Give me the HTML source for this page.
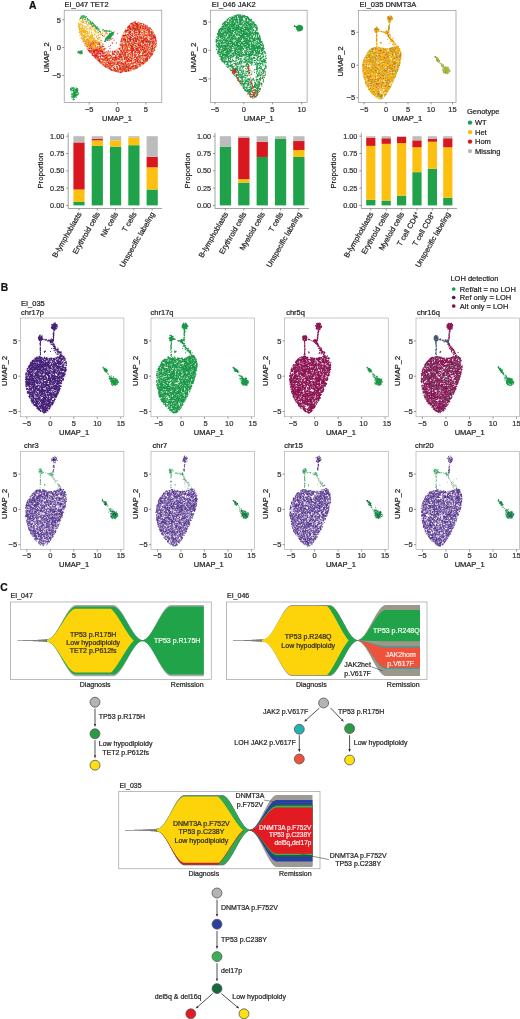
<!DOCTYPE html>
<html lang="en"><head><meta charset="utf-8"><title>Figure</title>
<style>html,body{margin:0;padding:0;background:#fff}svg{display:block}text{font-family:'Liberation Sans', Arial, Helvetica, sans-serif;stroke-width:.22px}</style>
</head><body>
<svg width="520" height="1019" viewBox="0 0 520 1019">
<rect width="520" height="1019" fill="#fff"/>
<text x="29.10" y="8.50" font-size="10.3" font-weight="bold" fill="#111" stroke="#111">A</text>
<text x="64.50" y="7.30" font-size="7.5" fill="#242424" stroke="#242424">EI_047 TET2</text>
<rect x="64.20" y="10.20" width="97.60" height="92.40" fill="#fff" stroke="#8c8c8c" stroke-width="0.65"/>
<text x="89.20" y="111.90" font-size="7.5" text-anchor="middle" fill="#333333" stroke="#333333">−5</text>
<text x="117.50" y="111.90" font-size="7.5" text-anchor="middle" fill="#333333" stroke="#333333">0</text>
<text x="145.80" y="111.90" font-size="7.5" text-anchor="middle" fill="#333333" stroke="#333333">5</text>
<text x="61.00" y="22.50" font-size="7.5" text-anchor="end" fill="#333333" stroke="#333333">5</text>
<text x="61.00" y="50.20" font-size="7.5" text-anchor="end" fill="#333333" stroke="#333333">0</text>
<text x="61.00" y="78.10" font-size="7.5" text-anchor="end" fill="#333333" stroke="#333333">−5</text>
<path d="M89.20 102.60v2M117.50 102.60v2M145.80 102.60v2M64.20 19.80h-2M64.20 47.50h-2M64.20 75.40h-2" stroke="#555" stroke-width="0.6" fill="none"/>
<text x="117.00" y="120.90" font-size="7.5" text-anchor="middle" fill="#242424" stroke="#242424">UMAP_1</text>
<text x="49.30" y="57.40" font-size="7.5" text-anchor="middle" transform="rotate(-90 49.30 57.40)" fill="#242424" stroke="#242424">UMAP_2</text>
<path transform="scale(.1)" d="M798 325zm-4-33zm11-107zm8 195zm24 38zm1-8zm-6-20zm2-3zm-6-26zm10-6zm-1-52zm5 75zm4 24zm10 10zm-4 22zm-2 17zm29 42zm-16-25zm6 0zm5-4zm-2-2zm7-4zm-1-7zm-5-6zm5-1zm-7 0zm-7-1zm2 0zm3-8zm0-10zm1-24zm-7-2zm10-9zm8-25zm13 5zm0 10zm-13 18zm7 3zm-5 6zm8 4zm3 0zm-11 12zm15 4zm-10 7zm0 6zm-6 0zm8 4zm1 12zm6 10zm-5 8zm7 1zm-9 5zm6 3zm0 1zm-7 4zm9 12zm-4 2zm-10 2zm4 4zm8 4zm-3 4zm5 6zm1 0zm13 9zm0-9zm-3-2zm2-4zm2-7zm-11 0zm5-3zm7-19zm-2-1zm-12-2zm12-6zm-7-5zm6-1zm1-11zm-8-7zm8-11zm-8 0zm1-2zm10-6zm-1-2zm4-14zm-5-51zm13 18zm6 22zm-3 5zm-2 5zm1 2zm10 5zm1 6zm-16 5zm8 1zm-8 0zm1 4zm2 2zm-4 1zm10 2zm-4 4zm-4 1zm13 2zm1 3zm-9 4zm-8 3zm0 5zm5 3zm11 9zm1 5zm-18 0zm14 3zm-10 1zm-4 1zm16 6zm-16 4zm16 2zm-4 2zm-12 5zm9 6zm10 2zm-5 2zm-6 2zm6 6zm-11 6zm0 6zm-1 1zm-1 1zm6 7zm-5 2zm13 2zm-11 3zm12 2zm3 4zm16 18zm-5-8zm-4-1zm0-1zm6-8zm1-4zm1-1zm-7-1zm0-1zm10-2zm0-1zm-6-5zm0-1zm-10-5zm5-3zm3-7zm0-1zm3-2zm-4-4zm-6-1zm3-3zm4-3zm-9-3zm2-1zm1 0zm1-1zm4-2zm-3-3zm11-1zm-11 0zm8-1zm-12 0zm0-1zm18-8zm-17-4zm12 0zm3-18zm-5-6zm5-4zm-5-8zm2-3zm-6-9zm10-13zm-4-7zm-14-4zm12-14zm-3 0zm2-105zm27 85zm-13 37zm-5 4zm7 4zm7 12zm3 24zm-1 5zm-7 6zm2 6zm-11 2zm7 7zm-1 1zm6 2zm2 0zm1 7zm-12 1zm3 1zm13 1zm-13 4zm-3 3zm16 2zm-2 2zm-6 6zm-3 3zm-3 3zm11 3zm-7 1zm-9 1zm14 8zm-14 4zm3 0zm-3 3zm8 6zm-5 0zm16 1zm-17 3zm4 4zm-5 0zm2 3zm6 2zm5 3zm-13 5zm15 0zm1 5zm-1 2zm3 1zm-17 2zm1 5zm10 7zm25 30zm-7-12zm6-4zm-9-2zm6-1zm-11-4zm-1 0zm13-3zm2-4zm-9-3zm6-1zm-2 0zm2 0zm-13-7zm8-4zm-5-4zm-3-1zm5-8zm9-6zm4 0zm-18-4zm2-14zm13-7zm0-2zm0 0zm-9-3zm6 0zm-9-4zm5-6zm1-2zm2-6zm-3-1zm-7 0zm1-6zm8-4zm6-6zm-9-3zm1-8zm8 0zm-8-5zm7-2zm2-1zm-18-3zm18-12zm-3-1zm-3-1zm0-14zm0-5zm7-2zm-18-1zm11-8zm-3-2zm-8-3zm12-7zm17-15zm1 61zm-3 5zm-7 3zm0 1zm11 0zm-4 3zm-4 5zm13 4zm0 7zm2 3zm-9 1zm0 5zm-8 3zm11 3zm0 1zm-7 1zm13 2zm-3 0zm-3 3zm-12 3zm16 0zm-9 13zm-7 0zm-1 1zm6 7zm5 9zm2 7zm-12 3zm3 2zm0 2zm-3 0zm8 5zm-3 2zm-1 3zm-1 12zm10 1zm1 9zm-14 13zm3 4zm4 1zm-4 0zm2 0zm13 8zm-17 1zm12 1zm-5 10zm29 21zm-9-7zm3-1zm0-6zm-10-3zm9-11zm-3-1zm10 0zm-8-4zm-3-2zm4-12zm3-3zm-5-4zm8-7zm-9 0zm-4-6zm10-18zm-1-4zm-9 0zm4-2zm4-1zm-5-1zm-1-1zm8-4zm-8-1zm1-2zm2-6zm10-11zm-15 0zm11 0zm3-4zm-15-6zm8-2zm0-6zm-3-2zm-6-1zm7-4zm-1-12zm7-1zm-10-4zm9-5zm-13-19zm16-6zm-11 0zm11 0zm-17-12zm19-89zm-14-9zm-4-22zm38 5zm-1 51zm-13 25zm1 69zm12 1zm-12 9zm2 26zm2 5zm-6 7zm10 0zm-3 19zm2 5zm-4 4zm10 1zm-14 0zm-2 5zm7 12zm-8 1zm14 1zm3 4zm-14 3zm13 1zm-3 0zm-10 1zm1 5zm3 0zm-9 1zm15 10zm-8 1zm4 1zm-2 1zm-2 16zm2 1zm5 13zm-6 5zm4 6zm7 11zm-6 1zm-3 0zm-4 3zm10 2zm2 8zm14 3zm-1-2zm-5-11zm4-1zm7 0zm-3-1zm1 0zm4-3zm-3-8zm1 0zm-15-1zm6-6zm0-5zm-5-10zm14-2zm-14-4zm-2-3zm9-6zm3-4zm0-2zm2-1zm0 0zm-9-3zm8-4zm-7-1zm0-5zm12-4zm-16-5zm11-4zm-10 0zm2-2zm0-5zm6-3zm-10-2zm13-2zm-3-4zm1-5zm-2-4zm-10-1zm1-1zm5-1zm-5 0zm7-5zm1-15zm-2-13zm-1-130zm-4-3zm9-45zm-10-14zm33 12zm-3 69zm-3 57zm-8 44zm3 12zm-3 13zm11 9zm5 3zm-11 7zm10 2zm-14 4zm12 2zm-4 4zm-8 19zm12 7zm4 1zm-8 3zm-2 2zm-8 5zm14 6zm2 5zm-9 5zm-2 7zm4 0zm1 0zm-3 3zm3 9zm-5 2zm10 0zm-9 2zm5 2zm-2 0zm8 8zm1 4zm-10 2zm6 6zm-7 6zm11 4zm-5 6zm-5 1zm9 1zm-6 1zm-1 2zm-7 3zm15 5zm1 3zm20 12zm-10-4zm0-4zm-1-1zm9 0zm-4-3zm-2-3zm-10-8zm2-2zm1-4zm-1-4zm11-9zm-3-1zm7-7zm-16-1zm-2-4zm6 0zm-4-7zm10-7zm-3-1zm-5-1zm-3-3zm11 0zm-7-11zm7-7zm2-9zm-10-19zm14-1zm-17-2zm13-5zm-6-2zm7-9zm-9-8zm0-3zm13-4zm-18-31zm0-7zm-1-26zm4-32zm-3-61zm16-2zm-17-26zm4-7zm25 24zm-7 41zm1 12zm3 76zm3 5zm-6 9zm6 8zm-6 5zm6 1zm1 3zm6 0zm2 1zm-10 4zm10 24zm-18 1zm1 4zm13 1zm5 1zm-15 2zm-1 8zm9 3zm-5 3zm-1 1zm12 1zm-15 15zm5 3zm0 3zm-3 0zm7 6zm-12 2zm0 3zm9 1zm-2 3zm-1 0zm1 2zm-7 1zm17 8zm-10 7zm11 0zm-6 1zm-5 1zm1 11zm-8 7zm14 5zm5 5zm-2 0zm-8 17zm-2 2zm11 2zm1 2zm-5 2zm24 8zm-9-3zm-5-4zm-4-1zm12-3zm1-1zm1-2zm-4-2zm2-3zm-11-1zm3-3zm-1-4zm5-4zm-8-6zm0-26zm10-7zm-3-6zm1-2zm-8 0zm11 0zm-9-8zm8-4zm5-3zm-7-11zm-7-5zm17-4zm-4 0zm-5-2zm7-4zm2-2zm-13-5zm8-3zm-6-1zm-3-2zm3-2zm-1-3zm9 0zm-4-7zm8-4zm-3-12zm-11-8zm-5-15zm4-1zm9-8zm-13-1zm19-2zm-16-2zm2-2zm7-6zm-11-107zm0-84zm35 21zm-11 91zm4 71zm6 15zm-6 8zm4 7zm-4 9zm1 7zm1 1zm-9 10zm-2 12zm5 3zm4 2zm-9 2zm18 4zm0 5zm-13 2zm10 0zm-2 3zm-11 0zm1 3zm1 1zm5 8zm1 17zm3 2zm-4 4zm7 3zm-6 7zm7 0zm1 1zm-6 2zm-9 4zm14 2zm-14 2zm13 17zm-12 1zm10 6zm-3 10zm2 2zm-13 5zm19 4zm-4 4zm0 3zm-12 7zm7 2zm6 5zm2 0zm-15 4zm16 3zm18 1zm-9-7zm-6-2zm7-9zm2-7zm7-3zm-3-6zm-15 0zm14-4zm-1-1zm5-7zm0-8zm-2-4zm3-5zm-4-1zm-3-2zm-6 0zm7-1zm-11-12zm1-1zm12-5zm-15-6zm5-1zm8-7zm-9 0zm11-3zm0-3zm-15-5zm18-13zm1-2zm-8-6zm-2-1zm10-1zm-17-2zm4-2zm11-9zm-4-1zm1 0zm3-6zm-10-2zm7-3zm-8-3zm11-5zm2-4zm-9-4zm9 0zm-9-11zm-7-7zm0-7zm-2-1zm8-3zm-3-1zm-4-16zm13-7zm0-3zm0-5zm4-2zm-9 0zm-1-1zm29-92zm-5 1zm0 7zm-2 7zm4 3zm4 4zm-5 5zm-9 0zm8 23zm-11 3zm1 1zm11 1zm-12 10zm11 1zm3 1zm-5 14zm-11 11zm11 7zm-6 13zm14 4zm-8 2zm-3 1zm5 3zm4 2zm1 6zm-8 3zm-1 2zm-8 9zm15 5zm-10 3zm10 0zm-9 1zm10 3zm-6 1zm-2 5zm-4 9zm11 2zm3 3zm-1 4zm-10 1zm4 2zm-3 0zm-6 3zm15 2zm-5 13zm-3 12zm-9 13zm17 9zm-6 1zm4 3zm-10 0zm3 7zm2 12zm-2 3zm5 0zm-2 20zm-9 2zm2 5zm-2 8zm7 0zm4 6zm0 0zm3 2zm-14 4zm8 2zm-7 1zm9 9zm-3 5zm-3 3zm-1 6zm10 1zm11-8zm-7-6zm12-5zm-7-2zm3-12zm6 0zm-11-2zm13 0zm-5-6zm-2 0zm-8-4zm17 0zm-13-10zm1-1zm-2-4zm-3-1zm13-3zm-3-4zm1-9zm6-2zm-15-5zm-3-1zm12-3zm7-4zm-12 0zm-4-3zm-2-3zm8-16zm0-10zm-3-4zm-6-4zm5-16zm-5-3zm11-11zm0-3zm4-2zm-13-10zm13-1zm-13-5zm5-3zm-2-3zm1-7zm3-3zm-4-1zm7-3zm-2-3zm5-7zm-1-5zm4-8zm-8-8zm-7-2zm4-1zm-1-10zm2-3zm9-2zm-13-4zm-2-7zm6-1zm1-6zm9 0zm-18 0zm14-6zm-11-3zm-2-12zm18-9zm-15-13zm15-5zm-19-1zm19-1zm-5-6zm-7-9zm11-1zm-2 0zm-1-3zm-15-3zm16 0zm-2-15zm3-4zm-14-3zm9-5zm-3-6zm6 0zm4-23zm19-28zm-5 4zm-1 8zm-1 0zm0 5zm5 1zm3 10zm-6 15zm4 7zm-9 5zm11 0zm-5 1zm-11 1zm-2 3zm7 3zm-1 13zm8 4zm-7 3zm-3 5zm0 1zm13 7zm-8 1zm-7 3zm13 5zm-2 6zm3 3zm-8 0zm-8 5zm14 1zm2 3zm1 0zm-5 1zm2 0zm-3 15zm5 4zm-11 2zm10 3zm-11 1zm1 1zm6 2zm6 6zm-2 3zm3 1zm-19 0zm5 2zm13 9zm-1 0zm-4 6zm-6 8zm12 2zm0 0zm-7 1zm-9 3zm7 9zm-3 11zm-1 1zm1 6zm3 5zm0 3zm9 1zm-11 1zm-7 8zm13 1zm3 3zm-14 0zm2 0zm0 2zm2 4zm-1 0zm8 2zm-13 10zm9 1zm-7 5zm6 2zm-3 2zm13 1zm-9 0zm7 3zm-10 3zm-6 5zm9 5zm4 2zm-13 3zm8 6zm10 14zm-17 8zm11 1zm2 3zm-4 5zm-1 4zm9 4zm-8 4zm1 5zm-8 8zm11 5zm-13 5zm8 3zm8 5zm-7 1zm-11 1zm0 2zm17 2zm-4 7zm-3 0zm3 1zm5 0zm-3 3zm-4 2zm-2 0zm-8 1zm1 0zm15 3zm-14 2zm1 1zm1 1zm2 4zm6 0zm-7 0zm4 5zm-9 3zm6 1zm5 5zm11-1zm7 0zm-9-3zm6-9zm-5-4zm15-2zm-16-17zm2-1zm13 0zm-16-5zm19 0zm-7-1zm-7-5zm12-3zm-12-5zm12-2zm-11-2zm-3-3zm4-10zm7-2zm-4 0zm-2-20zm-1-5zm5-1zm7-2zm0-6zm-4-2zm-8-2zm-2-7zm1-7zm10-1zm1-4zm-14-2zm4-4zm3-2zm-6-2zm9 0zm-13-3zm12-6zm-12-7zm18 0zm-7-13zm6 0zm-7-17zm6-2zm-16-4zm9-7zm1-3zm-8-5zm11-1zm-5-2zm-2-1zm10 0zm-2-1zm-12-1zm1 0zm8-5zm8-2zm-2-5zm0-2zm-7-4zm-1-5zm10-4zm-14-10zm14 0zm-17 0zm1-6zm4-2zm2-5zm-9-9zm6-2zm-4-2zm-1-3zm0-2zm10-8zm7-7zm-17-3zm16-1zm-6-4zm4-5zm-3-7zm7-3zm-6-13zm2-1zm-4-1zm6-1zm-7-1zm7-2zm-5-8zm2 0zm-6-1zm11-2zm-6-4zm-6-1zm-7-7zm9-3zm7-5zm-15-22zm1-5zm3-3zm-2-6zm12 0zm-2 0zm2-1zm-3-3zm-7-1zm5 0zm6-8zm-4-19zm4-3zm19-21zm1 2zm-7 5zm-7 2zm9 0zm1 3zm4 0zm-4 1zm-6 4zm11 1zm-17 7zm10 3zm7 3zm2 6zm-18 1zm1 5zm-1 2zm17 0zm-16 8zm5 2zm5 1zm6 3zm0 9zm-17 2zm17 1zm0 1zm-9 1zm-8 1zm11 1zm2 3zm5 4zm-6 1zm-13 6zm10 0zm1 7zm-5 6zm1 3zm7 9zm5 1zm-7 3zm-11 11zm15 0zm-8 2zm5 10zm2 2zm3 10zm-14 4zm-2 3zm11 6zm-6 4zm-4 8zm11 2zm-2 8zm2 3zm-10 1zm-1 3zm0 1zm-1 4zm0 7zm-1 0zm0 10zm-1 3zm19 3zm-13 19zm8 8zm3 4zm0 0zm-15 1zm7 0zm-1 5zm0 18zm0 1zm8 2zm-11 8zm-4 5zm0 11zm4 2zm0 2zm2 1zm10 4zm-1 9zm1 1zm-15 6zm7 4zm-5 3zm3 3zm-3 1zm10 1zm-7 1zm-6 7zm-1 2zm13 1zm-1 3zm-10 1zm0 0zm0 1zm15 5zm-10 1zm-4 18zm3 2zm13 0zm-18 5zm9 9zm4 4zm-5 2zm5 3zm-14 3zm6 7zm13 8zm-9 1zm8 1zm0 2zm1 2zm-9 3zm-6 2zm-4 2zm8 7zm-3 5zm4 1zm-5 2zm3 5zm3 1zm20-5zm-6-8zm2-13zm4-2zm-6 0zm13-5zm-10-1zm9-4zm-16-6zm13-5zm-13-13zm7-3zm-4-1zm-1-1zm10-10zm6 0zm-18-3zm16-8zm0-10zm-15-2zm16-3zm2-1zm-13-3zm-3-1zm11 0zm-3-1zm-4-5zm5-6zm1-1zm0-4zm4-5zm-8-3zm-3-2zm3-1zm-1-3zm0-5zm-3-17zm0-2zm13-2zm-13-1zm-5-1zm19-3zm-8-11zm-5-4zm0-2zm9 0zm0-9zm3-5zm-15-5zm13 0zm0-3zm-8-6zm5-2zm0-5zm-5-4zm8 0zm-4-3zm-6-4zm3-3zm10-3zm-14-2zm8-2zm2-5zm-13-4zm15-2zm-6-1zm4-5zm-10-3zm2-11zm0-1zm4-1zm5-1zm-2-7zm-10-12zm8-6zm-1 0zm-8-3zm6 0zm-5-7zm5-3zm9-4zm-7 0zm-6-2zm4 0zm-6-2zm2-3zm1-5zm-1-4zm11-3zm-8-1zm-4-10zm-1-1zm10-7zm-7-9zm-2-4zm6-1zm-5-16zm-1-8zm6-3zm-10-1zm4-17zm9-2zm-13-4zm9-2zm6-6zm-9-2zm12 0zm-11-2zm1 0zm0-10zm10-6zm-1-12zm-9-7zm-2-5zm13-3zm-6-1zm17-12zm-1 10zm-1 10zm11 1zm-19 4zm15 3zm-13 1zm12 1zm-8 5zm13 3zm-8 6zm4 6zm0 1zm-9 3zm10 1zm-4 4zm-4 1zm10 2zm-10 5zm8 8zm-15 2zm4 9zm13 8zm-17 14zm-1 3zm2 2zm17 1zm-9 6zm-8 6zm-1 7zm1 2zm4 2zm1 3zm-3 0zm-1 0zm8 1zm1 4zm7 20zm-5 1zm-13 1zm11 2zm1 3zm-7 6zm9 0zm2 6zm-1 0zm-1 5zm-11 2zm14 8zm0 5zm1 0zm-11 1zm6 1zm4 4zm-13 4zm2 1zm-1 2zm0 6zm11 0zm-2 0zm0 2zm-7 1zm-1 0zm1 1zm0 13zm-2 1zm5 2zm-8 1zm9 1zm-4 2zm6 1zm-2 1zm-10 2zm3 2zm-3 1zm15 1zm-3 0zm-5 1zm-7 1zm2 6zm5 0zm5 0zm-3 6zm4 0zm-9 5zm-5 5zm16 0zm-15 4zm9 1zm6 0zm-1 1zm-10 7zm-4 9zm2 3zm6 6zm-8 4zm5 8zm0 0zm-3 12zm2 9zm2 3zm2 4zm-5 3zm-3 1zm9 11zm-5 4zm9 16zm-15 22zm15 0zm3 1zm-10 1zm5 1zm-2 3zm-7 13zm10 7zm5 3zm-11 1zm0 4zm-6 3zm15 2zm-5 1zm-2 3zm0 10zm-8 5zm-2 5zm19 4zm3-1zm15-7zm-7-4zm-1-10zm10-7zm-8 0zm-1-3zm1-4zm6-5zm-7-1zm-7-24zm12 0zm-12-1zm12-3zm-8-3zm1-3zm4-3zm7-8zm-3 0zm-1-13zm-9 0zm10-1zm-16-8zm5-11zm6-7zm7-6zm-1 0zm1-1zm-11-6zm1 0zm-1-1zm-6 0zm6-2zm-3-4zm6-1zm4-3zm-3-8zm-1-5zm0-8zm-5-1zm4-7zm0 0zm7-2zm-8-7zm11 0zm-19-5zm1-5zm12-4zm3-1zm2-1zm-18-1zm18-7zm-10-8zm6-12zm3 0zm0-7zm-2 0zm-11-4zm12-14zm-10-2zm-2-4zm9 0zm0-2zm-9-10zm4-2zm7-4zm-6-2zm-1 0zm4-8zm6-8zm1-1zm-11-5zm11-1zm-7-4zm-4-4zm-4-2zm-4-2zm13-1zm0-5zm-8-15zm14-1zm0-3zm-5 0zm-6-6zm-6-22zm7-1zm-8 0zm18-3zm-14-5zm1 0zm2-4zm1-8zm-7-1zm14-1zm3 0zm-7-1zm4-7zm-13-1zm2 0zm7-4zm-1 0zm-6-2zm12-1zm-8-2zm-6-2zm14-2zm-9 0zm-2-2zm-1-6zm-1-4zm0 0zm15-4zm-17-9zm9-2zm8 0zm-17-2zm9-1zm-1-1zm-10-3zm3-2zm5-4zm7-2zm-2-6zm2-2zm-14-4zm5-6zm9-1zm21 12zm-10 3zm-5 4zm4 1zm11 1zm-8 0zm1 1zm3 2zm5 2zm-14 4zm4 2zm8 3zm-3 4zm3 1zm-2 4zm-10 4zm0 3zm14 1zm-5 1zm-5 5zm2 10zm4 1zm3 1zm-2 1zm-1 0zm-8 2zm11 4zm-15 1zm0 3zm0 3zm7 2zm-5 14zm8 5zm-9 2zm-2 3zm2 3zm16 9zm-16 4zm0 6zm7 0zm-6 3zm-3 6zm14 5zm-3 1zm4 3zm-3 2zm1 6zm-12 5zm0 1zm4 1zm11 3zm-10 5zm5 2zm1 8zm-7 4zm-3 4zm3 1zm-2 5zm4 1zm2 13zm6 4zm-5 14zm9 4zm-15 12zm5 4zm8 5zm-8 5zm6 1zm0 1zm-8 3zm-3 3zm4 3zm4 2zm-4 4zm-4 1zm-1 1zm2 0zm13 3zm0 2zm-7 2zm7 4zm-10 0zm8 13zm-14 2zm-2 0zm2 2zm15 3zm0 4zm-12 12zm-5 11zm18 11zm-18 2zm10 5zm-10 2zm16 8zm-10 2zm-1 2zm2 5zm1 1zm2 8zm9 2zm-8 5zm-2 0zm-7 3zm13 4zm-13 2zm12 4zm-8 12zm12 3zm-15 6zm-1 7zm14 1zm-12 7zm3 5zm10 4zm-1 8zm-15 2zm6 4zm5 0zm-6 3zm17-15zm14-15zm-13-6zm1 0zm7-1zm3-1zm3-1zm-1-3zm-5-12zm-8 0zm5-1zm-6-5zm16-8zm0-2zm-2-4zm-17-3zm1 0zm17-1zm-9-11zm-9-1zm19-11zm-12-2zm9-2zm-10 0zm-6-6zm15-4zm-10-1zm-3-1zm12-6zm-12-7zm10-1zm-9-4zm6-5zm5-8zm5-3zm-17-3zm7-6zm-9-1zm6-4zm9-3zm-13-3zm15-3zm-10-5zm-2-4zm-1-1zm-3-14zm12-2zm-4-7zm7-4zm-16-1zm16-5zm-9-6zm5-5zm-5-6zm-3 0zm12-2zm-13-4zm14-2zm-6 0zm8-9zm-15 0zm12 0zm-6 0zm-4-4zm1-2zm5-13zm-3-3zm-3-5zm8-2zm-7-9zm-4 0zm10-3zm-6-7zm-5-2zm0-3zm-2 0zm13-5zm-2-6zm5-4zm-16-1zm19 0zm-7-12zm-3-1zm-7-1zm3-3zm-3-1zm14-5zm-4 0zm-5-2zm2-1zm5-1zm-12-10zm14 0zm-2-3zm1-3zm1-4zm-12-1zm-1-5zm8-3zm-7 0zm8-3zm6-3zm-9-3zm-6 0zm10-5zm-2-3zm-8-7zm-3-4zm16-5zm-1-2zm-11-1zm15-1zm-16-1zm6-2zm-4-8zm-5-1zm8-3zm2-3zm-5-2zm8-7zm-13-4zm8-12zm1-3zm20 9zm-3 0zm13 0zm-13 3zm-6 0zm12 2zm-1 4zm-2 6zm1 2zm8 7zm-17 3zm7 7zm0 7zm4 4zm-7 2zm-2 2zm6 1zm-7 2zm2 2zm3 4zm4 1zm-9 17zm1 2zm5 6zm3 7zm-10 2zm15 3zm2 5zm-12 13zm11 14zm-5 0zm-8 7zm2 7zm13 0zm-5 2zm-13 2zm11 7zm-11 3zm17 0zm-7 3zm2 2zm-13 13zm16 0zm2 2zm-3 5zm-4 1zm8 0zm-10 5zm-9 3zm10 5zm-9 14zm6 2zm-2 2zm-3 6zm17 5zm-12 3zm-6 0zm8 2zm-1 2zm10 2zm-18 8zm19 2zm-19 1zm9 4zm-6 13zm3 1zm-3 2zm8 1zm2 7zm3 4zm-7 2zm-9 8zm6 5zm-5 3zm11 26zm-11 4zm1 1zm12 2zm-13 4zm2 9zm7 0zm3 13zm-9 12zm-3 2zm6 2zm-7 5zm9 4zm-3 1zm-1 1zm-4 0zm-1 12zm10 1zm-10 1zm3 4zm10 1zm-6 17zm-2 2zm6 1zm-11 12zm29-21zm-4-3zm13-1zm-5-1zm5-3zm-16 0zm-1 0zm5-3zm2-2zm9 0zm-2-2zm1-1zm-4-2zm-11-2zm15-11zm-3-1zm0 0zm-1-2zm-2-5zm3-1zm-3-4zm1-5zm-4 0zm-6-1zm16-4zm-3-2zm4-2zm-9-7zm-9-11zm12-5zm0-3zm-11-1zm6-6zm1-9zm-6-5zm-1-2zm17 0zm-9-3zm2-5zm1-2zm-1-2zm2 0zm-8-3zm8-12zm-4-6zm0-2zm1 0zm6-1zm-13-4zm5 0zm11-3zm-13-4zm-6-3zm5-11zm12-2zm-7-8zm-3-2zm-7-2zm16-7zm-13-5zm7-14zm8-1zm-6-7zm-3-1zm-7-1zm14-2zm-14-1zm8-2zm-8 0zm14-4zm-14-5zm10-4zm-9-1zm2-1zm0 0zm10-11zm3 0zm-4-2zm1-8zm-5 0zm-10-2zm13-3zm-2-11zm6-1zm-10-13zm12-1zm-17-9zm12-6zm-8-14zm10-4zm-5-15zm0-7zm-4-4zm-4-2zm2-1zm7-6zm-7-3zm14 0zm-3 0zm-1-1zm-9-10zm4-3zm6-3zm-9-2zm-6-6zm1 0zm11-2zm-1-2zm3-1zm1-7zm-2-6zm6 8zm16 5zm-6 4zm-3 7zm11 3zm-6 5zm0 5zm-3 2zm4 4zm-13 3zm13 0zm2 1zm-1 0zm5 7zm-14 3zm-2 16zm3 7zm6 1zm-5 8zm-2 5zm0 3zm7 9zm-12 3zm13 1zm-4 2zm0 5zm4 1zm-13 12zm4 0zm12 11zm2 5zm-13 1zm10 1zm-10 2zm5 0zm-8 1zm14 6zm-11 3zm-3 1zm14 0zm-15 0zm0 7zm13 3zm-3 2zm5 1zm-11 1zm9 13zm-14 6zm17 8zm-12 3zm13 3zm-12 0zm11 3zm1 2zm-16 3zm13 3zm3 6zm-15 8zm-3 4zm6 1zm2 2zm1 4zm0 0zm-2 2zm-7 1zm19 3zm-17 5zm7 8zm9 0zm-5 9zm-3 1zm-8 1zm16 0zm1 4zm-7 2zm7 0zm-11 2zm-8 2zm16 0zm-7 4zm7 12zm-16 2zm17 1zm-17 4zm13 3zm-9 4zm0 1zm-4 3zm18 0zm-9 3zm3 6zm-5 3zm8 18zm-13 2zm10 5zm-2 0zm2 8zm5 5zm-16 1zm5 2zm7 4zm-2 5zm1 1zm0 2zm-7 1zm5 1zm-9 8zm22-18zm2-3zm3-1zm3-1zm6-9zm-11-1zm5-1zm-6-1zm8-3zm1-1zm-12-1zm3-1zm12-7zm-7-2zm-5-2zm-3-1zm-1-3zm17-3zm-4-5zm5-2zm-2-3zm-4-3zm-9-1zm7-3zm-8-1zm5-9zm9-1zm1-2zm1-2zm-5-6zm-7-4zm11-8zm-13-6zm-4-8zm18-3zm-9-2zm-8-2zm9-1zm2-4zm-12-6zm14-2zm3-1zm-16-8zm5-2zm8-10zm-14 0zm-1-2zm10-3zm4-3zm-14-3zm14-5zm-6-3zm-8-6zm15-6zm-8-12zm-6-8zm5-1zm11-1zm-6-4zm-8 0zm13 0zm-7-9zm6-4zm0-6zm-9-2zm-3-6zm0-2zm8-8zm1-4zm-3-2zm0-1zm2-11zm-7-2zm6-6zm3-10zm-8-11zm-5-22zm13-1zm-3-2zm0-4zm5-4zm-15-4zm3-7zm13-3zm-15-2zm9-4zm0-12zm-10-1zm14 0zm-5-3zm28 18zm-14 2zm16 2zm-18 4zm12 3zm-4 6zm-9 2zm16 3zm-3 8zm-9 0zm5 3zm7 7zm-12 0zm9 9zm-12 0zm8 4zm0 1zm0 1zm2 3zm3 3zm-9 2zm14 7zm-2 0zm-15 4zm11 6zm5 1zm0 0zm-7 1zm-3 1zm-4 20zm15 6zm0 19zm-17 1zm-1 2zm13 2zm2 1zm-11 3zm5 0zm4 3zm4 1zm-3 3zm0 2zm-7 0zm8 0zm-16 4zm16 9zm-3 8zm5 1zm-18 2zm0 0zm13 6zm2 0zm2 1zm-7 12zm-10 5zm19 7zm-9 0zm-7 14zm-3 1zm1 0zm16 1zm-3 5zm-6 14zm1 1zm0 3zm8 3zm-10 2zm-3 5zm8 3zm-10 2zm13 6zm4 2zm-1 0zm-8 5zm-3 10zm-6 6zm6 6zm7 2zm3 12zm-17 1zm14 3zm7-11zm7-8zm3-9zm-7-5zm10-3zm-4-2zm-4-1zm8-1zm-13-3zm0-3zm17-1zm-5 0zm3 0zm-8-3zm2-8zm-1-1zm4-5zm4-5zm-4-2zm0-2zm3-8zm-10-1zm12-5zm-7-8zm-2-2zm-3-8zm5-14zm8-5zm-5 0zm1-7zm-15-5zm6-9zm13-6zm-19-4zm5-4zm-1-3zm2-5zm9-3zm1-16zm1 0zm-14-3zm16-2zm-19-3zm11-3zm8-4zm-19-9zm14-2zm-2-7zm-12 0zm17-5zm-6-3zm5-1zm-16-2zm6-8zm9-4zm-7 0zm6-12zm0-6zm-7-3zm9-1zm-7-6zm7-17zm-9-6zm13 30zm14 6zm-14 4zm5 3zm-2 3zm-1 8zm12 9zm-6 1zm3 2zm7 4zm-11 0zm11 8zm-6 2zm7 7zm-12 2zm-3 5zm15 0zm-17 5zm1 1zm12 1zm4 15zm-17 2zm10 5zm-10 2zm0 2zm13 1zm-10 6zm-4 1zm15 1zm0 4zm-13 2zm-1 1zm13 4zm-7 2zm4 12zm-5 1zm1 9zm1 5zm-1 2zm-5 4zm-3 0zm4 3zm0 0zm1 3zm-4 4zm10 4zm-10 0zm0 3zm4 3zm-5 8zm2 0zm6 5zm0 0zm11 3zm-6 9zm-7 0zm-1 0zm4 13zm-6 5zm3 7zm-3 5zm25-44zm-2-6zm-6-2zm2-12zm-1-1zm0-2zm-1-5zm4-4zm8 0zm-11-21zm10-3zm4-1zm0-1zm-3-12zm-6-1zm-4-7zm4-8zm13-3zm-7-6zm6-3zm-1-2zm-3-9zm5-4zm-17-4zm15-7zm-7-2zm-7-1zm8-4zm-5-1zm8-1zm-3-1zm-1-2zm2-6zm0-1zm-6 0zm4-5zm-8-9zm1-4zm-2-2zm19 64zm3 6zm0 3zm-2 14zm3 9zm-4 30z" fill="none" stroke="#dd1c1b" stroke-width="10.8" stroke-linecap="round"/>
<path transform="scale(.1)" d="M786 268zm21 48zm6 2zm2 55zm19 41zm-3-90zm3-6zm2-17zm-11-26zm2-18zm1-34zm8 0zm-11-1zm2-18zm16-9zm0 68zm5 16zm-8 35zm19 1zm-10 66zm-1 32zm8 7zm15 64zm-10-37zm1-3zm8-32zm-2-6zm-3-9zm-5-32zm14-33zm-8-35zm13-50zm6 180zm9 4zm5 35zm-5 10zm22 42zm-10-15zm0-4zm-1-24zm6-53zm-4-2zm-6-1zm23-68zm11 87zm1 95zm-10 20zm20-12zm10-19zm-9-29zm-2-20zm-3-3zm3-40zm19-60zm12 72zm-6 36zm-7 36zm15 50zm4 17zm-1-73zm2-25zm-3-59zm12-48zm18 49zm9 73zm-3 1zm2 40zm-9 47zm-2 9zm6 42zm19 10zm-3-15zm8-6zm-14-4zm5-5zm-4-12zm-4-11zm13-11zm6-19zm-8-119zm20 80zm-11 40zm7 11zm-4 10zm13 7zm-12 9zm15 1zm-13 51zm6 13zm24-1zm-2-14zm-3-74zm0-19zm3-29zm1-3zm14 5zm0 17zm-4 11zm7 1zm-6 36zm7 1zm-3 7zm5 6zm-7 4zm11 29zm-14 11zm12 14zm-12 17zm30-13zm-4-42zm4-10zm-2-10zm-4-7zm0-5zm-2-14zm12-68zm10 96zm-7 4zm6 4zm1 8zm-7 7zm-2 12zm17 48zm1 13zm2-3zm5-8zm0-34zm7-13zm-8-14zm8-40zm5-81zm6 22zm-2 1zm15 4zm3 22zm-6 45zm-4 50zm10 48zm8 15zm3-2zm2-32zm-5-47zm5-17zm0-68zm1-27zm25-128zm0 45zm-10 24zm-6 22zm8 24zm-5 5zm12 14zm-14 68zm-1 28zm0 7zm9 3zm8 7zm-18 3zm3 62zm12 0zm19-14zm-4-48zm-4-71zm7-31zm-1-24zm-5-23zm3-52zm-8-20zm1-4zm15-25zm-19-28zm6-3zm8-7zm17-33zm1 41zm-3 40zm0 1zm-4 34zm-1 0zm11 4zm2 16zm-13 2zm2 15zm12 2zm-7 16zm-10 16zm4 28zm10 33zm2 13zm-1 20zm-3 44zm-7 20zm10 12zm-11 2zm7 9zm19 9zm-7-9zm-4-3zm19-18zm-2-52zm-3-40zm-11-2zm0-68zm2-7zm-1-2zm9-46zm-4-12zm3-17zm-4-11zm5-16zm-3-33zm3-6zm-12-54zm4-5zm25-18zm-10 32zm13 105zm-1 22zm3 3zm3 11zm-3 9zm0 6zm-10 17zm14 5zm-19 4zm16 8zm-10 26zm5 20zm4 48zm-10 41zm14 32zm-3 24zm21-28zm-13-26zm10-8zm5-22zm-14-6zm9-49zm-1-7zm-5-59zm-3 0zm-5-29zm18-20zm-4-20zm4-2zm-17-8zm9-4zm9-94zm-9-15zm5-22zm0-34zm-11 0zm0-10zm30-1zm-13 8zm2 44zm12 2zm-11 65zm-1 2zm6 5zm10 66zm-12 19zm11 27zm-9 0zm10 57zm-15 13zm13 3zm-17 14zm5 6zm9 76zm-8 8zm-3 25zm11 6zm-2 0zm12-11zm-4-58zm1-13zm7-34zm-4-6zm13-3zm-5-31zm-7-25zm9-10zm1-15zm-10-73zm7-52zm-3-14zm6-2zm-12-1zm8-5zm0-3zm-5-53zm9-6zm8 5zm11 27zm5 1zm-18 51zm13 25zm-5 2zm10 56zm-8 2zm-2 18zm9 16zm-13 125zm8 33zm-13 37zm38-1zm-2-17zm-5-22zm-6-47zm0-7zm5-14zm-7-38zm1-5zm0-28zm13-19zm-7-36zm-9-12zm2-11zm0-5zm12-6zm-11-20zm-2-68zm16-21zm-13-43zm-2-22zm25 12zm-1 13zm6 55zm-2 1zm-5 44zm4 19zm-8 60zm15 20zm-7 23zm-1 16zm7 5zm-12 81zm-1 0zm6 8zm0 50zm26-6zm-12-52zm14-51zm1-33zm-18-1zm16-33zm-13-22zm-3-12zm12-34zm-5-4zm-5-5zm-1-4zm-1-53zm19-33zm17-36zm-16 12zm10 8zm-3 29zm7 20zm-4 4zm-6 4zm-2 24zm17 18zm-18 11zm4 35zm-5 11zm10 37zm2 22zm-7 7zm4 90zm-8 3zm9 2zm-5 21zm6 2zm-9 0zm0 13zm27-58zm4-28zm6-21zm-14-2zm1-14zm9-20zm3-20zm-15-18zm13-19zm-5-58zm0-29zm-7-18zm8-11zm26-28zm-14 10zm-2 34zm16 74zm-4 6zm1 4zm-7 51zm-2 21zm-3 85zm-3 20zm39-38zm0-5zm-13-6zm3-16zm5-25zm-3-10zm-2-12zm5-20zm3-22zm-10-74zm12-4zm-17-10zm2-23zm-3-37zm3-4zm21 30zm4 5zm-4 40zm0 11zm7 31zm-6 11zm-4 30zm5 8zm-6 70zm0 16zm3 8zm20-51zm12-27zm-13-2zm-1-16zm4-14zm-4-10zm19 32z" fill="none" stroke="#ea6a1e" stroke-width="10.5" stroke-linecap="round"/>
<path transform="scale(.1)" d="M793 323zm2-10zm-1-11zm2-14zm0-6zm-9-5zm8-3zm2-3zm-7-3zm-5-2zm10-3zm2-6zm-11-5zm-4-2zm16 0zm-2-7zm1-1zm-6-1zm-3-4zm-5-9zm14-29zm2 0zm7 12zm9 3zm-6 3zm5 17zm4 6zm-6 0zm-7 1zm-2 3zm5 12zm-6 14zm10 1zm-9 8zm1 4zm9 2zm-1 1zm5 1zm-11 1zm5 6zm3 3zm-2 0zm7 4zm-11 6zm-4 1zm2 2zm10 1zm-15 2zm15 1zm-2 3zm1 12zm-10 1zm12 5zm-9 2zm8 1zm-4 4zm6 1zm-18 4zm10 0zm-10 3zm14 1zm2 0zm-3 0zm4 20zm1 8zm0 8zm14 33zm1-6zm-3-2zm4-6zm0-1zm5-4zm-3 0zm-6-2zm-2-1zm-3-4zm6-5zm-2-5zm2-3zm8-8zm-10-5zm9-2zm-6-18zm-6-2zm-1-8zm-5-11zm8-2zm7-6zm-10-2zm8-1zm3 0zm-7-3zm-8-1zm12 0zm-4-6zm-6-2zm3-1zm8-15zm-9-1zm-5 0zm0-1zm7-3zm-2-2zm-1-6zm0-8zm-3-7zm13-4zm-13-7zm0 0zm11-33zm-1-1zm5-2zm-15-5zm8 0zm-6-2zm0-6zm6 0zm0-9zm-2-2zm4-3zm12 6zm7 22zm0 8zm-6 13zm14 1zm-5 29zm-13 16zm7 7zm-7 2zm3 8zm3 5zm3 2zm6 5zm-5 2zm7 0zm-16 8zm6 1zm8 1zm-9 0zm-5 2zm5 0zm10 1zm-3 4zm-2 1zm2 7zm-3 2zm5 1zm-6 5zm-9 7zm8 0zm-7 4zm10 1zm-11 1zm2 0zm2 0zm-3 3zm3 1zm5 2zm7 2zm0 9zm2 1zm-14 12zm-4 2zm5 0zm-4 2zm3 1zm-1 8zm0 1zm12 1zm-9 0zm0 3zm-5 2zm0 0zm5 1zm-4 4zm-1 0zm3 7zm7 31zm20 35zm8-11zm-16-8zm8-8zm3-4zm-5-3zm-8-1zm15-2zm-10-5zm12-1zm0-1zm0-5zm-14-6zm6-2zm-5-2zm1-2zm7-6zm2-1zm-8 0zm3-10zm9-3zm0-1zm-1-3zm-12 0zm1-8zm6-3zm0-2zm-9-13zm11-9zm-10-1zm11-2zm-5-7zm1-5zm-10-10zm6-1zm-1 0zm7-3zm2-14zm-2-1zm-2-1zm3-1zm-6-2zm-1-2zm-6-2zm8-1zm4-24zm-4-2zm-10-8zm2-6zm0-4zm7-3zm8-9zm-1-15zm-11-4zm-1-9zm2-8zm24 18zm-8 9zm0 16zm12 10zm1 8zm-14 2zm18 2zm-7 9zm1 15zm4 5zm-8 8zm7 4zm-15 8zm8 2zm5 3zm-13 11zm8 2zm-8 5zm-1 7zm1 1zm17 6zm-4 3zm-1 0zm1 5zm0 0zm-5 4zm-9 5zm18 3zm-16 1zm0 0zm1 3zm6 4zm8 4zm2 2zm-16 3zm7 1zm-3 2zm1 1zm11 4zm-8 7zm-4 14zm9 0zm-6 3zm-5 0zm-5 15zm11 7zm-9 7zm2 4zm12 2zm10 5zm12-15zm-3-16zm3-17zm-1-18zm0-3zm-7-6zm-4-11zm12 0zm-1-6zm-6-2zm-10-1zm6-8zm3-2zm-1-1zm1-3zm6-1zm-11-1zm-4-4zm7-10zm2-1zm0-2zm9-4zm-2 0zm0-17zm-2-6zm-3-16zm-11-14zm15-2zm-16-9zm1-3zm8-3zm7-2zm-4-8zm6-2zm-8-2zm4-15zm-1-33zm22 25zm-14 12zm12 13zm-1 12zm-6 2zm11 15zm-17 8zm10 25zm-5 24zm3 1zm0 2zm-8 4zm8 2zm-3 2zm2 10zm-4 2zm0 3zm9 1zm2 3zm-12 2zm15 11zm-3 1zm-2 9zm-11 1zm3 2zm5 0zm5 0zm-1 3zm5 5zm-17 22zm4 7zm0 1zm4 3zm6 4zm-1 0zm-8 4zm-1 7zm9 8zm-13 2zm7 0zm10 8zm-9 3zm2 3zm-3 11zm27-18zm4-6zm-4-1zm-8-2zm5-6zm-4-3zm7-13zm-3-3zm-4-2zm0-2zm-2-8zm13-8zm-9-11zm4-4zm-6-4zm4-1zm-10 0zm6-7zm10-1zm-15-6zm-1-1zm5-6zm-3-8zm5-19zm1-12zm-3-2zm3-9zm2-10zm1-12zm5 0zm-11-5zm9-3zm-9-3zm2-8zm3-10zm-4-5zm-1-3zm-7-33zm32 31zm3 21zm-2 23zm-12 1zm8 1zm2 14zm-1 22zm-5 6zm2 5zm12 28zm-15 10zm9 1zm-8 1zm9 4zm-5 6zm-3 2zm3 1zm-3 12zm13 1zm-6 2zm-7 13zm9 19zm-9 13zm12 2zm-11 102zm14 7zm17-95zm-16-21zm15-2zm0-7zm-9-56zm-1-17zm7-4zm-12-11zm1-1zm4-21zm3-6zm-8-2zm13-3zm-10-14zm-5-14zm28 20zm2 3zm3 3zm-9 5zm2 29zm13 29zm-10 2zm-4 33zm-1 4zm-1 6zm8 26zm12 151zm13-8zm-7-126zm-3-2zm10-4zm-1-7zm-4-38zm-8-10zm6 0zm-1-104zm1-15zm-5-6zm9-9zm13 11zm3 3zm5 4zm-4 27zm-10 8zm5 1zm3 16zm-5 134zm-3 97zm18 16zm10 37zm-5-24zm-2-36zm17-34zm-5-20zm-8-216zm21 218zm5 109zm1 9zm-6 20zm26-106zm8-16zm11 4zm-10 55zm8 28zm-4 48zm9 15zm10-120zm19-91zm14 24zm1 90zm-18 44zm12 13zm9 47zm13-2zm-9-37zm-4-74zm21-168zm9 11zm-3 38zm-5 46zm16 10zm-18 67zm13 76zm14 15zm-3-83zm6-38zm-5-7zm8-92zm-11-110zm16-38zm13 44zm-12 4zm11 40zm-4 38zm6 8zm-6 27zm12 3zm-15 72zm10 97zm-11 55zm24-34zm2-47zm-5-15zm0-192zm7-45zm4-21zm-12-12zm12-28zm3-41zm4 36zm11 38zm6 116zm-18 19zm16 4zm-17 46zm17 2zm-1 19zm-8 47zm-1 9zm16 83zm6-45zm8-29zm-11-155zm-2-9zm11-176zm1-36zm7 157zm3 8zm3 17zm-1 141zm0 7zm3 21zm-2 51zm-2 35zm30-155zm-15-189zm7-68zm-3-30zm24 63zm1 41zm-10 28zm18 89zm-11 165zm-3 10zm20 6zm4-76zm4-15zm1-110zm-7-61zm2-9zm-6-12zm3-104zm27-15zm1 25zm-10 26zm15 0zm-15 31zm-3 29zm4 35zm-4 38zm5 75zm2 14zm5 48zm6 34zm-13 3zm18 39zm-3-1zm10-52zm-11-29zm12-17zm4-1zm-6-3zm7-191zm-14-44zm7-5zm-9-24zm11-21zm-1-3zm19 77zm-5 40zm0 46zm14 62zm-11 86zm-2 34zm1 24zm22-129zm-1-39zm11-118zm-9-6zm-6-71zm21 117zm8 101zm-5 60zm-8 22zm33-130zm-4-2zm11-123zm11 14zm3 109zm0 67zm-8 10zm17-38zm-1-16zm7-46z" fill="none" stroke="#f2b50f" stroke-width="10.0" stroke-linecap="round"/>
<path transform="scale(.1)" d="M717 980zm-5-15zm2-16zm-2-5zm7-15zm-2-19zm-9-4zm7-7zm-4-2zm-2-3zm7-2zm-13 0zm8-2zm-6-2zm1-4zm13-4zm-1-1zm18-4zm-15 3zm6 1zm-7 5zm7 0zm-3 1zm13 2zm-4 1zm2 7zm0 1zm0 2zm-8 2zm6 1zm1 2zm-7 3zm1 1zm7 3zm4 5zm-2 4zm0 4zm1 5zm1 2zm-3 1zm3 2zm-17 2zm11 0zm-4 6zm-6 0zm-1 3zm14 2zm3 5zm-5 4zm0 0zm4 1zm-15 1zm15 0zm-1 2zm-8 1zm8 0zm-12 3zm13 1zm-6 1zm-9 7zm0 0zm12 1zm4 3zm-2 2zm-5 7zm3 7zm-5 2zm0 5zm16-4zm1-21zm2 0zm-3-6zm11 0zm-15-2zm2-1zm-1-4zm5 0zm-2 0zm-5-1zm10-1zm-8 0zm-1-2zm17-1zm-6 0zm1-1zm-6-4zm-1-1zm-7 0zm19-1zm-1-2zm-16-1zm5-1zm7-2zm-4-2zm-5-1zm6 0zm8-1zm-19 0zm13-1zm-4 0zm2 0zm-7-1zm7 0zm1-1zm-12-1zm4-2zm7-1zm-6-2zm6 0zm-3-1zm7-1zm-7 0zm-6 0zm13-2zm-6-1zm8-2zm1 0zm-2 0zm-3 0zm1-2zm-1-1zm1-1zm-4-1zm-8-4zm4-3zm4-3zm2-4zm-1-3zm4-1zm1-5zm-3 0zm-3-1zm4 0zm-7-3zm-1-1zm2-9zm27-362zm4 11zm-15 349zm7 6zm5 1zm-13 4zm2 1zm-5 1zm11 1zm-7 1zm7 1zm7 1zm-10 2zm-6 2zm3 2zm14 0zm-4 0zm-8 0zm3 2zm4 0zm-12 1zm7 1zm-3 0zm7 1zm5 0zm-7 1zm-8 2zm13 0zm-3 1zm3 2zm-9 0zm3 0zm-7 1zm2 1zm1 0zm4 0zm-1 1zm-1 1zm-5 0zm7 2zm5 0zm-14 3zm7 2zm-3 3zm11 1zm-9 0zm-7 12zm2 5zm11 0zm-2 1zm-6 3zm5 0zm0 3zm0 5zm-10 1zm0 2zm3 14zm23-31zm-5-7zm4-5zm3-2zm4-392zm3-7zm0-2zm3-3zm-17 0zm13-2zm-7-2zm12 0zm0-1zm-2-1zm-12-1zm2 0zm8-4zm-10-2zm26-349zm5 1zm1 6zm2 1zm-14 6zm7 5zm-12 2zm5 0zm5 326zm5 1zm0 1zm-10 0zm9 4zm-7 0zm-5 1zm14 2zm-5 1zm8 0zm-14 1zm4 1zm6 1zm-3 1zm-5 1zm-3 1zm1 1zm-3 1zm3 1zm6 0zm5 1zm-9 0zm-3 1zm14 0zm-9 11zm12-7zm3-4zm-4-5zm4-17zm-2-325zm-2-4zm9-2zm7-1zm-5-1zm8-1zm-16-11zm-3-1zm17-4zm-4-1zm-12-2zm22 1zm0 7zm-3 1zm14 5zm2 2zm-7 2zm3 3zm2 14zm-7 3zm11 6zm4 18zm8-3zm1-12zm3-7zm2-1zm0-2zm0-1zm-1-2zm1-7zm-15-2zm4-13zm-3-1zm21 31zm9 3zm-7 2zm13 3zm1 6zm-10 12zm2 3zm-2 5zm8 9zm14 7zm2-4zm0-3zm-8-3zm5-2zm9-3zm-9-5zm-6-1zm1-8zm-1-3zm17 7zm5 4zm-6 3zm12 3zm-9 2zm2 1zm9 0zm-2 2zm-4 12zm8 5zm-2 6zm4 0zm-12 4zm-1 0zm32 12zm2-2zm-6-11zm4-2zm1-2zm-3 0zm-9-2zm0-1zm2-6zm-7-6zm31 24zm-9 1zm10 3zm-9 2zm10 6zm-4 2zm-7 1zm4 3zm-6 1zm6 3zm12 12zm9 21zm9-9zm-2-3zm-5-11zm-4-1zm7-7zm-10-3zm-1-4zm-2-3zm25 33zm-2 10zm29-25zm0-3zm-4 0zm17 9zm3 1zm6 1zm-2 1zm2 80zm2 1zm0 4zm-1 1zm-1 1zm-3 9zm7 1zm1 1zm-8 3zm6 3zm17-9zm-3-2zm2-1zm-13-4zm11-2zm-4-4zm12-1zm-9-1zm-9-1zm13-1zm-1-1zm2-1zm-8-1zm-4-1zm16 0zm-14-4zm13 0zm-2-2zm-7-1zm7-2zm-2 0zm-10-1zm3-4zm9-1zm1-4zm2-6zm-9-49zm-2 0zm-4 0zm14-1zm-7-1zm-11-2zm39 2zm0 2zm-12 2zm11 0zm0 2zm-5 1zm-2 0zm7 1zm0 25zm1 2zm-5 3zm5 6zm-13 1zm8 0zm-9 1zm1 0zm12 0zm-11 1zm4 1zm4 1zm-2 1zm6 1zm-6 0zm0 2zm-6 1zm6 1zm-3 0zm-7 1zm12 1zm-12 1zm4 0zm4 1zm7 1zm-11 2zm6 0zm-8 0zm-4 1zm6 0zm-7 0zm17 0zm-8 1zm3 0zm-3 1zm0 0zm6 0zm-5 1zm-1 1zm0 0zm-7 2zm-2 0zm16 1zm-8 0zm-3 1zm3 1zm-2 1zm8 1zm-8 3zm-6 0zm9 0zm-2 0zm3 2zm3 2zm-10 9zm20-13zm1-3zm-2-1zm0-1zm-2-3zm8-1zm-2 0zm3-6zm-8-1zm0 0zm3-1zm-2 0zm7-1zm-6-1zm-3-1zm6 0zm3-4zm1 0zm-7-1zm-3 0zm6-1zm3 0zm2 0zm-8 0zm3-1zm9 0zm-5-1zm-7-1zm-2 0zm17 0zm0-1zm-11 0zm-6 0zm0-1zm9-1zm-3-1zm12-1zm-14-1zm2-1zm6 0zm4-2zm-8-1zm7 0zm-7-2zm-6-1zm0 0zm10 0zm4 0zm0-2zm-6 0zm-3-1zm-8-1zm10-1zm4 0zm-4 0zm-6-3zm7-3zm4-2zm4 0zm-1-6zm-2-12zm17 13zm-8 0zm3 1zm-3 1zm7 0zm-4 0zm-7 1zm6 0zm7 1zm-5 3zm-5 1zm-1 3zm12 0zm-10 3zm9 1zm-13 1zm2 2zm4 0zm-7 3zm0 4zm10 1zm14 279zm20 44zm19-80zm24-25zm30-18zm12-235zm0 335zm8 19zm11 32zm1-5zm7-132zm-7-209zm17-51zm0 149zm29-165zm8 98zm12 68zm4 231zm17-273zm-14-122zm27-21zm-3 166zm-4 244zm22-65zm8-268zm0-46zm14 274zm30-59zm55-90zm-10 48zm18 64zm12-48zm-5-64zm12-100zm6 11zm-3 154zm42-39z" fill="none" stroke="#1f9e48" stroke-width="10.0" stroke-linecap="round"/>
<text x="211.80" y="7.30" font-size="7.5" fill="#242424" stroke="#242424">EI_046 JAK2</text>
<rect x="210.40" y="10.20" width="96.70" height="92.20" fill="#fff" stroke="#8c8c8c" stroke-width="0.65"/>
<text x="215.00" y="111.70" font-size="7.5" text-anchor="middle" fill="#333333" stroke="#333333">−5</text>
<text x="243.80" y="111.70" font-size="7.5" text-anchor="middle" fill="#333333" stroke="#333333">0</text>
<text x="272.40" y="111.70" font-size="7.5" text-anchor="middle" fill="#333333" stroke="#333333">5</text>
<text x="301.70" y="111.70" font-size="7.5" text-anchor="middle" fill="#333333" stroke="#333333">10</text>
<text x="207.20" y="24.70" font-size="7.5" text-anchor="end" fill="#333333" stroke="#333333">5</text>
<text x="207.20" y="53.00" font-size="7.5" text-anchor="end" fill="#333333" stroke="#333333">0</text>
<text x="207.20" y="81.60" font-size="7.5" text-anchor="end" fill="#333333" stroke="#333333">−5</text>
<path d="M215.00 102.40v2M243.80 102.40v2M272.40 102.40v2M301.70 102.40v2M210.40 22.00h-2M210.40 50.30h-2M210.40 78.90h-2" stroke="#555" stroke-width="0.6" fill="none"/>
<text x="258.75" y="120.70" font-size="7.5" text-anchor="middle" fill="#242424" stroke="#242424">UMAP_1</text>
<text x="195.60" y="57.60" font-size="7.5" text-anchor="middle" transform="rotate(-90 195.60 57.60)" fill="#242424" stroke="#242424">UMAP_2</text>
<path transform="scale(.1)" d="M2159 412zm16-79zm0 10zm4 1zm-2 23zm-11 4zm4 1zm5 10zm-15 10zm4 0zm5 3zm-1 3zm1 4zm-7 0zm12 1zm-12 3zm3 3zm-3 1zm9 3zm-2 4zm2 0zm-9 3zm2 1zm2 5zm7 9zm4 2zm-12 6zm3 10zm-7 2zm16 6zm0 1zm-7 0zm0 5zm-3 3zm12 7zm-11 15zm-4 1zm1 1zm13 18zm0 12zm-2 8zm1 2zm17 29zm-7-16zm8-1zm4-7zm-16-6zm0-6zm12-4zm-12-4zm8-1zm-1-2zm5-6zm-11-2zm2-1zm-4-2zm5 0zm-4-6zm11-1zm-10 0zm12-5zm-5-7zm6-1zm-12-7zm14 0zm-15-2zm14-4zm-13 0zm-4 0zm3-2zm-2-2zm3-1zm8-1zm6 0zm0-2zm-2-9zm-10-2zm-7-1zm11-4zm7-2zm-11 0zm-1 0zm11-5zm-10-2zm10-4zm0-3zm-13-3zm0 0zm1-2zm3-5zm11-6zm-6-6zm-5-2zm-4 0zm-2-4zm17-3zm-16-1zm14-1zm-11-12zm-5-4zm4-1zm14-10zm-16-1zm4-3zm-3-5zm-1-3zm12-1zm-5-2zm7-2zm-3-1zm-11 0zm4-3zm-2-1zm-2-2zm0-4zm4 0zm11 0zm-6 0zm6-3zm1-3zm-4 0zm-2-1zm-10-2zm12-8zm-11 0zm4-5zm11-2zm-6-1zm2 0zm-7-1zm9-1zm-12-3zm3-6zm4-1zm6-4zm-2-2zm-7 0zm3-6zm27-30zm-2 7zm-5 10zm-5 3zm-4 3zm0 0zm-3 1zm19 3zm-11 1zm-4 2zm8 5zm7 2zm-4 3zm-3 0zm1 5zm-4 5zm-7 9zm4 1zm-1 4zm3 0zm11 5zm-6 0zm2 2zm-5 0zm2 10zm-1 2zm-9 0zm7 5zm8 3zm-15 2zm11 5zm-9 2zm1 7zm-4 0zm8 4zm-6 2zm6 1zm7 9zm-9 7zm4 9zm-11 5zm9 2zm5 13zm-1 2zm-5 1zm-7 3zm13 7zm-14 1zm15 3zm-1 12zm3 2zm-6 0zm-2 2zm-9 1zm9 2zm-8 6zm16 0zm-11 1zm-5 3zm17 2zm1 2zm-13 3zm-6 10zm1 2zm0 2zm1 1zm1 2zm15 0zm-8 14zm8 1zm-8 0zm9 5zm-6 6zm-10 1zm7 1zm6 1zm-13 3zm10 9zm-4 1zm3 3zm-7 10zm-5 2zm7 0zm10 12zm-11 2zm6 1zm4 5zm-7 1zm5 1zm-1 7zm1 4zm2 1zm1 4zm-4 1zm-11 1zm14 9zm3 9zm13 10zm-9-4zm0-1zm4 0zm-7-3zm19-3zm-15-4zm6-4zm-7-4zm8-2zm-9-7zm1-4zm16-5zm-13 0zm8 0zm-5-2zm-6-1zm4-9zm-5-3zm17-5zm-13 0zm-5-1zm11-4zm-8-5zm-1 0zm13-2zm-12 0zm8-5zm5-1zm-11-6zm-4-6zm14-2zm-16-5zm12-7zm-6-3zm10-2zm-8-1zm-8 0zm13-3zm2-2zm-15-2zm4-6zm-3-4zm13-1zm1-7zm-7-1zm9-5zm-7-6zm-2-2zm-7-4zm7-4zm10-2zm-13-2zm12-3zm-11-6zm12-1zm-17-13zm5-3zm11 0zm-16-1zm6-1zm11-7zm-13-1zm2-4zm-6-4zm-1-5zm10-4zm8-2zm1-8zm-10-2zm9 0zm-13-9zm13-3zm-14 0zm-3-6zm9-5zm0 0zm6 0zm-9-1zm9-1zm-15-1zm8-4zm-2-3zm12-6zm-17 0zm4-1zm-5-6zm12 0zm-8-2zm-4-1zm6-2zm0-1zm-6-3zm13-3zm-7-3zm9-3zm-8-2zm8-8zm-13-3zm16-10zm-2-5zm-1-2zm-5-1zm-5-1zm-5-4zm-1-3zm10-4zm-1-2zm-8-1zm12-1zm-8-8zm9-3zm-2-4zm-3-1zm9-2zm-13-1zm7-4zm2-1zm2-2zm3-5zm-18-4zm6-7zm7-5zm22-22zm-1 0zm1 3zm-12 4zm6 1zm-9 3zm1 1zm11 0zm3 5zm-15 2zm1 2zm8 2zm1 1zm-9 4zm-2 0zm11 7zm-1 1zm8 1zm-2 0zm-14 1zm14 4zm-7 0zm10 4zm-2 2zm-7 3zm2 8zm-6 7zm-2 5zm9 1zm-4 0zm7 2zm-6 1zm-2 3zm-8 1zm11 1zm-1 0zm-5 16zm13 2zm-4 0zm2 6zm-6 1zm4 0zm4 3zm-14 2zm2 2zm12 3zm-13 0zm9 0zm1 1zm-11 1zm9 6zm6 8zm-16 6zm2 5zm3 2zm3 0zm1 8zm-12 4zm0 3zm12 5zm-5 1zm-2 0zm-1 6zm12 4zm-8 2zm0 1zm-7 8zm16 2zm-17 2zm15 1zm-5 1zm6 7zm-14 4zm17 1zm-15 6zm11 0zm2 7zm-13 1zm-4 5zm19 7zm0 3zm-11 6zm8 3zm-11 4zm12 0zm-13 3zm8 0zm2 1zm-13 2zm18 2zm-8 3zm2 1zm-1 0zm6 1zm-4 6zm-8 1zm-6 7zm10 1zm4 2zm-11 3zm4 3zm-3 1zm14 4zm-4 2zm-6 2zm-7 0zm8 0zm10 0zm-11 4zm9 13zm-4 4zm-11 7zm15 6zm-16 3zm10 5zm-4 1zm11 6zm-10 1zm8 0zm-7 1zm5 3zm0 0zm-10 1zm14 3zm-11 6zm0 4zm7 0zm-3 1zm6 6zm-1 2zm-16 4zm1 1zm2 3zm10 3zm-5 8zm4 8zm-4 3zm11 1zm-12 4zm6 2zm-5 1zm-7 1zm9 1zm0 3zm-1 0zm-6 4zm1 10zm0 1zm32 35zm3-4zm-15-7zm14-13zm-6-1zm-10-2zm15-4zm-2-3zm-2-1zm-3 0zm4-7zm0-1zm-1-8zm-6 0zm7-2zm-14-4zm9-3zm-4-23zm1-10zm7-4zm4-9zm2 0zm-6-2zm-13 0zm2-3zm11-4zm-8 0zm-4-1zm7-1zm9 0zm-16-1zm5-2zm2-4zm0 0zm-7-5zm17-4zm-4 0zm-12-1zm17-4zm-14-4zm9-1zm-10-1zm15-2zm-6-1zm-10-2zm9-8zm-10-1zm8-3zm0 0zm2-4zm4-4zm-1-5zm0-2zm-9-1zm-6-1zm10-4zm-3-7zm-6-2zm15-2zm-12 0zm-1-10zm-1 0zm7-2zm3-1zm-9-3zm16-3zm-18-6zm13-1zm3 0zm-14-1zm-3-4zm2-4zm17-1zm-4 0zm-1-3zm4-2zm-3-3zm-9-2zm7-2zm-3-2zm-2-11zm6-1zm-9 0zm-2-2zm4 0zm-6-8zm17-4zm-8 0zm-9-6zm5 0zm0-2zm-5-1zm1-4zm7-5zm4-2zm1-2zm4-7zm-5 0zm-4-13zm-1-3zm1 0zm-9-2zm5-1zm1-2zm-1 0zm4-12zm0-2zm1 0zm0-2zm0-1zm-3-1zm12-3zm-1 0zm-6-2zm-7-5zm14-1zm-18-2zm9-2zm6 0zm-10-2zm12-4zm-1-9zm-6-2zm7 0zm-1 0zm-17-5zm16-2zm-1-5zm-7-3zm9-3zm-9-1zm-1-8zm-2-1zm14-2zm-19-8zm11-4zm-6-1zm8-1zm-5-2zm8-3zm-14 0zm14-3zm-2-2zm0-4zm-9-3zm13-6zm1-8zm-6-1zm-5-3zm7-2zm-5-6zm-3-5zm2-2zm7-6zm-7-6zm5-5zm22-18zm-11 8zm-4 3zm10 10zm-3 2zm5 2zm5 4zm0 9zm-3 6zm-1 4zm-12 0zm9 3zm-3 1zm3 1zm-3 1zm9 3zm2 1zm-19 2zm3 2zm-3 0zm12 9zm-10 0zm11 11zm-5 6zm4 1zm4 1zm-15 2zm12 6zm-3 1zm9 2zm-4 1zm4 2zm-11 0zm4 4zm-6 1zm5 3zm-11 0zm17 8zm-16 0zm7 2zm8 2zm-13 5zm-1 4zm8 3zm-7 1zm11 2zm5 7zm-19 0zm7 0zm8 5zm1 1zm-12 12zm1 0zm1 8zm10 0zm-2 1zm0 1zm-6 0zm0 4zm11 5zm-7 2zm-3 4zm-7 5zm16 1zm-11 1zm12 2zm-5 1zm-8 2zm0 0zm6 0zm-8 1zm3 6zm12 5zm-1 4zm-15 3zm-3 1zm2 1zm0 4zm16 1zm-2 8zm-15 1zm3 0zm15 0zm-7 1zm2 1zm-13 3zm-1 1zm5 1zm5 9zm-5 4zm-5 1zm15 1zm0 1zm-5 0zm-1 5zm-9 0zm12 11zm-7 6zm6 3zm-11 0zm11 9zm-1 0zm8 1zm-2 1zm-2 2zm-4 7zm1 1zm-10 3zm1 5zm9 1zm2 8zm6 0zm-4 3zm-1 1zm-3 5zm-3 1zm-7 4zm10 1zm-3 2zm1 2zm-2 2zm0 0zm-6 3zm10 2zm3 3zm-6 7zm5 1zm3 5zm-12 4zm-2 5zm17 3zm-1 1zm-18 1zm6 10zm13 0zm-10 4zm-5 1zm-1 5zm0 8zm16 3zm-10 2zm-4 8zm2 10zm12 2zm-19 1zm0 3zm3 1zm12 1zm1 4zm2 3zm-7 0zm-5 3zm1 17zm-7 11zm9 6zm8 3zm-17 3zm3 3zm-1 11zm17 6zm12 25zm3-4zm-8 0zm-4-11zm17-15zm-18-10zm8-2zm10-2zm-2-1zm-15-1zm2 0zm7-5zm-1-2zm-6-2zm4-4zm5 0zm-4-3zm0 0zm-3-14zm5-10zm1-2zm-1 0zm-6-1zm10-2zm-9-4zm12-4zm-12-14zm-3-12zm3-4zm5-2zm5-6zm-15-1zm10-1zm-10-11zm17-2zm-8-2zm6-2zm-6-2zm0-2zm1-18zm-5-3zm4-6zm0 0zm-10-5zm9-1zm-5-2zm-3-1zm18-1zm-3-2zm-3 0zm-9-2zm14-1zm-9-2zm-9-3zm2-2zm6-1zm4-3zm-11-1zm15-5zm-10-3zm11-3zm-2-4zm-2-3zm-7 0zm6-10zm-8-2zm13-7zm-3 0zm-12-5zm16-1zm-13-11zm-5-4zm18 0zm1-2zm-16-1zm10-3zm-5-8zm6-3zm-14-4zm13-2zm-3 0zm5-1zm-11-2zm9-4zm-9-2zm-2 0zm6-2zm-3-7zm-5-3zm11 0zm8-2zm-16-1zm3-1zm11-5zm1-2zm1-4zm0-3zm-6 0zm-7-6zm11-7zm-9-5zm5 0zm5-2zm-6-3zm-10-1zm-1-3zm11 0zm3-5zm-6 0zm7-5zm-16 0zm0-1zm17 0zm-16-4zm13-2zm-2-1zm0-3zm1-1zm-7-1zm3-1zm5-1zm1-2zm-7-4zm-5-3zm-2-6zm15-1zm-9-1zm4-3zm-9-1zm-2-2zm7-1zm-4-4zm4-2zm0-5zm-5-2zm17-1zm-10-2zm4-13zm5 0zm-2-5zm0-1zm1 0zm-10 0zm10-4zm-17-1zm5-7zm7-1zm-6-2zm-6-1zm12-1zm2-1zm2-4zm2-8zm-6-2zm-4-3zm0-3zm2-8zm3 0zm-6-10zm-3-3zm4-1zm-6-4zm15-2zm-3-6zm-2-1zm6-3zm-15-6zm8-1zm-7-2zm15-10zm2-2zm17 3zm-14 2zm11 2zm-9 1zm7 2zm-10 5zm11 1zm-13 2zm9 0zm-8 1zm8 6zm-9 1zm13 4zm-13 5zm7 2zm4 2zm-8 6zm6 2zm-8 2zm8 3zm-9 0zm18 1zm-14 0zm2 0zm-5 3zm14 4zm-11 2zm0 0zm-5 5zm0 1zm2 4zm14 2zm-4 0zm5 6zm-12 0zm2 3zm3 2zm-9 3zm18 1zm-19 1zm17 1zm2 2zm0 1zm-6 1zm-12 0zm13 0zm3 1zm-9 2zm-8 4zm12 5zm1 2zm-5 2zm-1 2zm7 1zm2 5zm-1 1zm-7 4zm0 2zm8 9zm-10 2zm3 0zm1 6zm-6 1zm13 0zm-3 5zm-6 3zm-2 1zm-5 7zm0 7zm5 2zm-2 7zm14 0zm-3 11zm1 0zm3 2zm-11 4zm0 1zm5 2zm-9 6zm11 1zm-12 1zm4 12zm11 0zm-17 3zm4 3zm13 0zm-10 1zm0 6zm-7 2zm9 10zm-4 5zm-4 3zm1 9zm6 6zm4 1zm-4 0zm-5 1zm0 2zm8 2zm-1 1zm-10 1zm10 2zm5 0zm-10 1zm-3 1zm10 1zm-11 2zm3 1zm6 1zm-6 2zm-3 5zm5 2zm1 7zm4 1zm-10 1zm8 1zm-10 1zm15 2zm2 3zm-17 10zm0 1zm3 3zm14 2zm-9 19zm-2 1zm13 1zm-15 2zm13 17zm-5 2zm-10 2zm3 3zm14 1zm-15 4zm5 0zm5 6zm-3 3zm7 3zm-3 3zm-9 9zm0 0zm3 4zm6 1zm-15 3zm4 19zm2 11zm1 1zm5 4zm7 1zm-11 5zm3 18zm-8 16zm-2 0zm2 1zm5 14zm0 5zm-7 3zm15 0zm-12 2zm2 10zm-5 0zm12 1zm0 7zm1 0zm-10 1zm6 1zm4 15zm4 9zm-12 2zm-3 11zm15 11zm-4 4zm22 18zm-9-7zm12-12zm-19-3zm15-12zm3-3zm-9-9zm-5-1zm2-2zm7-8zm-11 0zm-1-4zm12-1zm4-4zm-15-1zm5-4zm3-3zm1-4zm7-4zm-16-17zm11-10zm4-7zm-6-6zm-3-5zm-5 0zm12-7zm-8-12zm10-5zm-17-3zm16-29zm-16-17zm11-6zm-9-5zm8-6zm6-2zm3-1zm-8-1zm1-8zm7-1zm-6-2zm-8-4zm7-1zm3-1zm-3-4zm1-2zm5-2zm0-3zm-15-1zm6 0zm-6-6zm9-1zm4-1zm-9-1zm12-5zm-10-3zm-1-1zm10-7zm-8 0zm0-5zm-8-3zm16-3zm-17 0zm18-7zm-1-3zm-11-4zm3-4zm-7 0zm6-3zm3-1zm7-1zm-12-2zm-6-4zm17-3zm-13-5zm13-1zm-14-6zm-2-2zm6-9zm-8 0zm4-3zm11-1zm4-1zm-8-17zm-8-1zm-2-10zm3-1zm-4 0zm1-1zm14 0zm-10-9zm6-5zm1-2zm-3-1zm4-3zm-5-1zm-8-2zm3-5zm1-2zm1-10zm14 0zm0-5zm-1-5zm-8-5zm9-2zm-7-2zm-6 0zm8-2zm3-10zm-8-7zm-2 0zm1-7zm8-1zm-8-1zm1-1zm-2-1zm9-1zm1-3zm-17-5zm16 0zm-3-3zm-6-2zm-7-1zm2-1zm4-5zm7-3zm-4-2zm-8-11zm6 0zm-5-12zm7-1zm3-1zm-5-1zm1-3zm2-8zm5 0zm-10 0zm9-4zm-11-8zm13-6zm0-7zm3-5zm-18-1zm8-4zm0-3zm0-3zm-6 0zm14-2zm-12-2zm4-9zm-5-5zm4-4zm9-4zm-2-4zm-15-4zm3-1zm12-2zm19-5zm-10 1zm10 1zm-4 2zm-6 5zm1 4zm-4 0zm5 8zm-4 4zm8 1zm-4 2zm-1 3zm3 0zm1 6zm-2 1zm5 1zm0 1zm6 4zm-18 0zm6 1zm5 0zm-8 0zm13 0zm-2 2zm-9 4zm6 0zm3 4zm-3 4zm-1 6zm5 1zm3 2zm-12 1zm-4 4zm-1 3zm16 2zm-3 0zm-3 5zm-4 14zm-7 2zm10 1zm-1 3zm-7 3zm6 1zm11 2zm0 3zm-18 2zm18 1zm-15 5zm4 1zm10 2zm-2 0zm-12 1zm14 5zm-4 1zm-7 2zm9 7zm-10 3zm-1 1zm12 2zm-14 1zm10 3zm2 1zm2 1zm-5 1zm-5 2zm-1 1zm3 0zm-1 5zm9 2zm-17 4zm0 1zm12 14zm3 2zm-3 2zm-4 4zm0 0zm1 8zm8 5zm-11 0zm0 4zm13 15zm-18 2zm0 5zm1 7zm7 3zm10 1zm-18 4zm15 7zm-6 2zm8 1zm1 2zm-17 1zm10 4zm5 3zm-14 10zm3 1zm1 0zm9 2zm-1 0zm-13 2zm0 1zm14 5zm-4 1zm-3 2zm-7 2zm7 4zm-2 1zm3 1zm5 2zm1 2zm-2 3zm1 1zm-15 0zm7 0zm3 2zm0 3zm7 6zm-4 4zm6 2zm-9 2zm-7 7zm16 1zm-13 7zm12 5zm-3 1zm-12 1zm14 1zm0 1zm-3 1zm4 5zm0 4zm-13 4zm4 6zm9 3zm-6 1zm2 4zm-3 8zm2 4zm-9 1zm6 0zm-2 5zm10 2zm-14 13zm12 0zm-6 5zm-1 0zm-5 6zm-1 0zm5 1zm-3 0zm13 4zm-12 8zm8 0zm-11 3zm-3 15zm9 6zm-6 3zm11 14zm-1 6zm-11 8zm8 0zm-2 13zm-4 9zm0 0zm10 5zm-1 2zm2 8zm-8 5zm3 6zm-9 3zm7 2zm11 2zm-8 0zm6 0zm-5 3zm-6 6zm6 1zm3 2zm4 6zm0 1zm-14 9zm9 6zm-14 15zm18 6zm-12 3zm9 3zm-4 1zm-6 9zm-1 6zm4 2zm3 14zm5 4zm3 14zm0 2zm16 13zm-5-2zm5-3zm-4-1zm2-6zm-3-15zm-4-3zm-4-4zm4-9zm2-7zm11-7zm-9-2zm-6-9zm9-6zm-5-1zm1-3zm2-2zm-6-1zm1-8zm5-3zm-6-6zm-4-2zm3-3zm1-4zm10-8zm-13-12zm14-2zm2-9zm-8-11zm-10-3zm5-18zm-3-2zm-2-1zm15-4zm1-5zm-3-2zm-6-1zm5-1zm7 0zm-2-2zm1-8zm-7-1zm6-4zm-14-20zm6-5zm2-4zm-2-5zm-4-5zm2-7zm12-5zm-6-5zm-5-4zm10-2zm-4-2zm-11-1zm9 0zm-8-2zm0-2zm15-3zm-12-3zm3-3zm7 0zm0-7zm-7-1zm7-3zm-8-2zm0 0zm-6-2zm5 0zm-1-2zm-6-2zm5-3zm10-4zm-14-4zm17-7zm-15-5zm13-2zm-17-2zm16-2zm-14-3zm5-1zm4-2zm2-3zm0-6zm-5-7zm3-3zm5-3zm2-1zm-10-1zm-4 0zm10-5zm-10-3zm-3-8zm1-1zm13-13zm3 0zm-15-3zm8-1zm-7-2zm12-6zm-13-2zm10-1zm-10-3zm3-5zm9-6zm-6-2zm-9 0zm0-3zm17-2zm-16-4zm4-1zm7-4zm-10-4zm13-2zm-9-3zm7-1zm3-19zm-8-3zm10-1zm-1-7zm-8-1zm-7-2zm16-6zm-17-1zm-1-9zm10-3zm7-3zm-8-6zm-7-2zm15-10zm-17-2zm18-2zm-11-3zm-1-6zm-4-3zm7-2zm-3-2zm-4-7zm5-1zm6-4zm-12-2zm8-1zm4-3zm-7-6zm4-7zm-9-1zm12-4zm-12-3zm-1 0zm18-7zm-1-1zm-10-7zm10-4zm-13-1zm13-5zm-4-8zm-4-10zm2-1zm1-1zm4-4zm1 0zm-4-10zm-2-3zm2-4zm-1-3zm-1-2zm-7-1zm8-1zm4-1zm-11-7zm12-2zm0-3zm-11-4zm13-2zm-7-2zm-11-1zm0-2zm22 3zm-3 4zm11 3zm-9 1zm2 4zm-4 0zm6 0zm5 0zm4 7zm-10 2zm11 3zm-10 1zm10 6zm-13 0zm1 3zm-2 1zm14 4zm-13 1zm1 4zm14 2zm-15 1zm11 0zm0 0zm-1 2zm0 4zm-4 1zm5 1zm0 0zm-13 0zm13 2zm0 6zm1 0zm-7 7zm-2 0zm1 0zm0 3zm-4 4zm11 4zm-4 5zm-6 5zm-4 2zm3 3zm9 1zm-5 4zm2 2zm3 18zm-10 3zm12 4zm-13 2zm5 0zm10 1zm-12 0zm4 1zm7 9zm-11 1zm-4 0zm0 2zm13 0zm-10 2zm1 1zm1 1zm12 4zm-9 2zm8 0zm-7 0zm9 1zm-7 1zm-11 7zm18 0zm-16 1zm13 2zm-4 3zm-2 8zm10 2zm-19 0zm6 3zm13 1zm-6 1zm5 2zm1 11zm-1 1zm0 1zm-18 4zm2 0zm9 0zm-3 1zm0 1zm-6 1zm-1 9zm14 0zm-6 1zm7 0zm-4 2zm5 5zm-3 1zm-3 1zm-10 2zm8 3zm-9 0zm10 2zm-4 0zm1 2zm8 6zm-1 6zm0 0zm-9 1zm-2 2zm1 3zm-4 4zm8 0zm-7 1zm6 2zm-3 3zm2 0zm-2 2zm1 5zm13 2zm-4 0zm1 7zm-2 5zm2 4zm-8 2zm-7 0zm1 8zm10 0zm-9 3zm8 4zm-6 1zm-4 2zm15 1zm-10 3zm7 0zm-3 1zm-2 6zm7 4zm-11 3zm13 0zm0 2zm-5 5zm-11 0zm16 3zm-12 0zm1 1zm6 2zm-3 5zm2 1zm-9 0zm7 4zm11 0zm-6 0zm2 1zm2 2zm-5 2zm-12 7zm8 5zm10 1zm-2 6zm2 3zm-14 1zm4 8zm6 3zm1 3zm-15 6zm16 2zm-8 8zm4 2zm-3 2zm9 4zm-9 1zm10 16zm-11 4zm-3 1zm7 6zm-11 1zm1 1zm2 9zm13 9zm-11 2zm6 7zm0 8zm7 1zm-5 3zm-11 5zm13 13zm-13 1zm13 11zm-7 4zm3 10zm-6 1zm-6 9zm0 9zm13 4zm0 1zm-12 0zm8 4zm-8 2zm13 10zm1 7zm-8 7zm11 12zm-13 2zm2 2zm-6 5zm3 0zm12 4zm0 7zm-14 5zm13 0zm-9 4zm-4 0zm-2 1zm18 2zm-14 2zm10 1zm3 0zm-3 2zm-6 1zm10 13zm-10 9zm0 0zm-2 8zm6 5zm-10 3zm6 2zm9 12zm-11 2zm4 13zm5 4zm23 35zm-5-4zm0-8zm-3-12zm9-1zm-13-1zm9-1zm3-2zm-18-10zm13-2zm3-6zm-14-2zm7-1zm3-3zm-8-6zm-1-2zm-3-6zm5-4zm5-2zm7-5zm-16-2zm1-9zm4-7zm-2-11zm5-3zm-5-4zm9-2zm-1 0zm-5-1zm10-7zm0-2zm-12-2zm-2-13zm15-8zm-9-2zm-3-1zm4-6zm-9-9zm17-1zm-4-2zm-6-8zm5-6zm-1-4zm-7-11zm3-15zm-3-1zm10 0zm-7-10zm6-1zm-3-5zm1-36zm-7-11zm-4-5zm17-11zm-2-1zm-9-30zm12-5zm-5-5zm-11-1zm-3-4zm7-2zm-7-1zm12-2zm0-1zm7-1zm-7-2zm-11-10zm4-4zm-3-19zm14-9zm-9-5zm7-2zm4 0zm-11-4zm-1-1zm3-2zm-9-6zm9-4zm-2-5zm-6-1zm13-5zm-7-11zm7-2zm5-4zm-3-5zm-10 0zm13-1zm-5-3zm-12-1zm12-3zm-8 0zm-3-9zm-2-3zm13-1zm-6 0zm6-5zm-3-2zm7-16zm-18-6zm18 0zm0-6zm-4-1zm5 0zm-17-3zm11-3zm-7-1zm-4-1zm17-4zm-7-3zm6-2zm-13-5zm4-5zm-2 0zm4 0zm-11-1zm11-1zm-9-3zm14-1zm-13-2zm9 0zm-10 0zm11-2zm-3-2zm-10-4zm10-1zm7-3zm0-5zm0-3zm0-2zm-17-6zm1 0zm16-1zm-7 0zm-10-1zm13-6zm-7-3zm-3-2zm1-1zm-4-1zm15-2zm3-11zm-1-3zm-15-1zm8-2zm1-6zm-11-8zm5-1zm-1-2zm3-1zm-4-1zm7-2zm-7-1zm9-1zm1-1zm-6-1zm3-8zm4-1zm-13-6zm-1 0zm2-1zm15-1zm-14-6zm-1-5zm5-8zm-1-1zm0 0zm8-11zm-7-5zm0 0zm-1-1zm7 0zm-4-1zm-1-5zm-6-4zm4-1zm3-3zm-9 0zm8 0zm-5-6zm5-10zm-2-1zm5-7zm6-2zm-12 0zm4-1zm-5-2zm8-2zm7-6zm-14-4zm22 6zm-2 4zm6 1zm-1 1zm3 4zm-9 1zm7 1zm-10 2zm6 7zm1 0zm9 9zm2 7zm-4 7zm-5 1zm3 14zm-12 1zm0 1zm11 10zm1 0zm-11 1zm15 1zm-12 1zm-4 0zm14 9zm-11 0zm-1 4zm16 6zm-17 4zm-2 3zm9 5zm4 2zm2 3zm-1 1zm-3 3zm-3 5zm-3 0zm9 1zm4 6zm-3 3zm-14 7zm11 1zm-9 1zm9 2zm3 0zm-2 11zm-4 0zm-8 2zm6 5zm11 1zm-15 0zm4 1zm-6 2zm-1 4zm9 3zm3 1zm-8 1zm-2 1zm17 5zm-15 0zm6 2zm3 2zm-2 0zm-9 2zm17 3zm-12 3zm9 0zm-13 1zm0 6zm4 9zm0 1zm12 3zm-4 6zm-8 5zm1 8zm8 2zm-14 0zm7 1zm-9 0zm15 1zm0 1zm1 3zm-3 3zm-2 3zm7 5zm-15 1zm15 7zm-18 0zm19 1zm-13 4zm12 1zm-6 1zm-1 4zm-1 0zm0 8zm9 1zm-11 1zm6 1zm4 4zm-15 2zm3 6zm-1 5zm9 2zm-6 1zm6 4zm-13 1zm5 1zm-6 1zm6 0zm-6 1zm15 8zm-9 2zm3 1zm4 14zm-1 22zm-8 2zm-1 1zm14 7zm-13 3zm8 1zm4 8zm-1 6zm2 3zm0 3zm-11 5zm-5 4zm12 3zm-13 1zm7 16zm8 3zm-5 10zm-9 6zm6 2zm-4 1zm1 0zm10 6zm5 0zm-3 8zm-11 8zm8 2zm-4 5zm8 0zm-17 7zm0 1zm15 29zm-11 3zm2 1zm9 23zm-4 21zm1 21zm-5 12zm5 9zm6 5zm-16 1zm-2 13zm10 3zm-3 1zm12 2zm-1 12zm0 5zm-14 1zm9 15zm-3 2zm7 9zm-6 5zm-3 0zm0 5zm8 5zm-15 3zm7 4zm-4 10zm-2 13zm9 10zm-10 4zm18 0zm-17 6zm0 3zm12 8zm-6 0zm7 9zm-7 2zm27 12zm-15-1zm10-4zm2 0zm7-6zm-13-2zm5-4zm4-4zm-9-10zm1-1zm0-6zm-6-1zm2-2zm7-2zm1-1zm7-4zm-18-10zm16-5zm0-13zm-14-1zm8-8zm5-15zm-6-3zm2-1zm-8-1zm-2-10zm9-1zm5-10zm-3-29zm-3-1zm10-5zm-10-6zm-5-15zm5-14zm-4-5zm10-1zm-14-2zm14-1zm4-2zm-1-2zm-11-19zm1-25zm-2-11zm2-9zm-7-1zm8-3zm4-1zm-1-1zm-4-6zm10-1zm-17-5zm16-7zm-2-6zm-13-1zm15-2zm-8-3zm-5-3zm1-4zm12-7zm2-1zm-9-3zm-3-18zm-6-3zm15-2zm-5-1zm-5-13zm11-2zm-17-3zm19 0zm-9-2zm-7 0zm2-4zm1-3zm4-7zm-4-2zm4-3zm-9-8zm13-3zm5-3zm-11-5zm11 0zm-19-4zm14-8zm-5-2zm0-1zm-4-3zm3 0zm-4-2zm11-7zm-13-4zm8-1zm-5-3zm5-2zm-3-1zm12-1zm-7 0zm3-1zm-7 0zm-5-10zm0-8zm13 0zm-1-4zm-8-5zm2-2zm9-3zm-12-1zm10-1zm-10-3zm-5-1zm5-1zm10-2zm-5-2zm-9-3zm7-3zm8-1zm-10-3zm-1-2zm-1-8zm9 0zm0-4zm2-2zm-2-1zm-10-5zm14-5zm-15-1zm2-1zm9-1zm-2-9zm-3-7zm10-9zm-7-1zm-7-1zm10-2zm-3-2zm5-2zm-2 0zm1-5zm-8 0zm-3-2zm-3-1zm2-3zm6-6zm-1-4zm5 0zm-7-1zm1-2zm4-2zm-8-4zm7-15zm4-1zm2-1zm-3-3zm-14-2zm1-2zm6-3zm10-5zm-10-4zm-3-2zm8-2zm-5 0zm-1 0zm-1 0zm4-1zm-8-1zm11-10zm-3 0zm4-9zm-10-3zm16-2zm-14-1zm2-5zm1-3zm0 0zm-8-4zm2-1zm17-5zm-7-2zm6-7zm-5 0zm1-1zm-5-1zm-3-2zm3-1zm2-3zm-3-2zm9 0zm-11-6zm-6-2zm8-10zm-6-5zm8-7zm-5-6zm7-3zm1-2zm3-2zm1 0zm-7-1zm6-2zm-7-2zm-1-1zm7-1zm-14-1zm14-1zm9 7zm1 11zm-3 0zm9 3zm1 4zm-2 2zm-6 4zm10 1zm-6 1zm-1 5zm12 3zm-18 9zm14 2zm-8 4zm-5 0zm-2 0zm18 1zm-12 11zm-4 3zm16 3zm-14 4zm10 1zm-6 1zm-5 2zm12 5zm1 2zm-16 0zm12 3zm4 3zm1 1zm1 1zm-14 6zm14 3zm-18 0zm16 7zm-15 0zm6 4zm8 2zm-4 2zm4 3zm-9 4zm-1 4zm-1 1zm0 2zm13 1zm-15 7zm9 1zm-11 3zm7 3zm-5 1zm14 7zm-3 5zm-13 0zm13 3zm2 1zm-13 4zm10 4zm-9 0zm15 0zm-9 5zm3 4zm-5 6zm-6 2zm16 0zm-4 6zm-12 6zm5 1zm4 4zm7 5zm-2 4zm-1 2zm3 5zm-6 5zm-10 6zm17 1zm-10 4zm-3 2zm7 2zm-1 0zm4 2zm-2 1zm-4 2zm-4 3zm13 0zm-7 4zm-7 6zm1 2zm-5 1zm10 4zm2 5zm1 0zm-8 2zm-1 5zm11 0zm-3 3zm3 1zm-5 4zm-5 0zm14 5zm-13 3zm2 4zm7 2zm-3 2zm1 3zm-5 2zm-6 1zm0 3zm7 1zm6 2zm1 6zm-5 5zm0 12zm1 10zm-7 10zm4 5zm1 2zm-2 5zm-1 2zm3 1zm-9 2zm13 1zm-7 6zm-6 0zm11 5zm2 0zm-8 2zm5 9zm-4 1zm10 4zm-8 2zm3 0zm7 1zm-7 5zm-4 10zm-7 2zm5 4zm0 1zm3 2zm0 2zm2 9zm4 1zm2 1zm0 4zm-13 2zm12 6zm-14 3zm3 19zm-5 1zm4 8zm10 6zm-13 54zm-1 2zm3 11zm-1 13zm0 43zm11 6zm-12 4zm18 0zm-10 1zm7 6zm-8 7zm-8 3zm2 9zm-2 1zm17 2zm-12 1zm0 11zm11 5zm-8 1zm-4 8zm-4 2zm7 2zm-5 1zm0 1zm11 18zm-1 3zm-12 16zm13 2zm-1 3zm-3 5zm-7 1zm3 2zm9 1zm-10 4zm11 0zm-13 4zm14 3zm-3 5zm-6 1zm9 14zm3 5zm-8 2zm6 5zm16 22zm-4-4zm2-23zm3-1zm-14-11zm11-10zm-7-7zm11-3zm-4-4zm-4-4zm-5-3zm12-2zm-10 0zm10-4zm-14-1zm2-3zm-2 0zm13 0zm6-3zm-8-6zm4-4zm-12 0zm6-9zm-7-6zm1-12zm2-4zm10-10zm-7-7zm-4-5zm-4-11zm6-2zm12-67zm-2-4zm-9-38zm6-47zm5-12zm-5-8zm-12-2zm4-1zm-5-3zm10-2zm2-4zm-2-10zm2-3zm-12-1zm4-14zm10-3zm-14-3zm8 0zm11-1zm-1-5zm-5-3zm-13-7zm19-3zm-18-5zm-1-4zm1-4zm11-2zm-7 0zm11-1zm-16-1zm17 0zm-6-4zm-7 0zm4-2zm11-1zm-1-4zm-14-4zm7 0zm-11 0zm7-8zm4-5zm5 0zm-6 0zm-5-1zm13-1zm-14-2zm-2-1zm8-1zm-6-4zm13-6zm-13-11zm-1 0zm14-2zm-1 0zm-7-3zm-1-4zm-7-1zm13-2zm1-4zm1-2zm-3-2zm-1 0zm1-1zm4-7zm-16-4zm14-3zm-3-3zm3-7zm-1-8zm-12-4zm16-4zm-6-1zm4-10zm0-5zm-8-3zm4-1zm-7-5zm-5-2zm3-2zm5-2zm-5-6zm-1-10zm17-2zm-3-1zm3-4zm-13-3zm10-1zm-15-1zm10-1zm-6-2zm11-12zm3 0zm-18-2zm13-5zm-13-1zm1-6zm8-5zm-8-5zm0 0zm9-1zm2-2zm2 0zm-5-1zm-2-7zm2-3zm-5-1zm-5-1zm4-6zm-4-1zm6-1zm13-14zm-18-2zm12-1zm-3-2zm-1-3zm-7-1zm9-1zm-9-1zm2-6zm6 0zm1-3zm-1-3zm-2-2zm8-6zm-7-1zm6 0zm3-3zm-2-1zm-5-5zm-7 0zm-2-9zm15 0zm-12-2zm0-1zm5-1zm4-2zm-8-5zm-4-2zm4-4zm7 0zm-12-2zm18-5zm-1-15zm-13 0zm9-1zm4-3zm-11-3zm-2 0zm-3-3zm2 0zm1 0zm4-3zm-3 0zm9-5zm-14-2zm14 0zm7 26zm10 1zm-6 1zm8 10zm-6 2zm5 3zm4 3zm-9 5zm-4 1zm4 4zm-1 4zm11 9zm-9 6zm4 5zm-1 2zm-4 3zm-3 1zm-5 1zm6 12zm8 0zm3 7zm0 3zm1 2zm-1 5zm-7 2zm-10 0zm7 0zm-5 1zm-1 3zm0 7zm8 5zm4 4zm-11 0zm15 1zm-1 2zm-2 3zm-13 2zm1 1zm15 4zm-2 2zm-3 9zm-4 1zm4 3zm-7 0zm0 3zm3 0zm-7 8zm6 9zm-6 1zm5 2zm1 3zm8 4zm-5 1zm7 1zm-11 1zm7 6zm-5 4zm7 3zm4 2zm-19 4zm9 5zm-7 1zm17 6zm-1 2zm-4 3zm-14 3zm17 2zm-17 0zm19 0zm-16 11zm13 3zm-11 3zm2 2zm3 3zm4 2zm-12 0zm-2 2zm18 4zm-11 2zm6 1zm0 2zm0 2zm2 3zm-15 2zm19 2zm-8 1zm-1 1zm-6 0zm6 9zm3 0zm-7 2zm3 2zm10 0zm-9 9zm-6 2zm9 5zm-4 6zm7 1zm-4 0zm-9 3zm12 0zm-15 1zm16 3zm-14 0zm15 2zm-10 5zm7 1zm-9 2zm3 1zm-5 3zm3 6zm4 3zm6 15zm-3 18zm6 1zm-3 0zm2 1zm-5 4zm-2 2zm-9 6zm3 8zm-5 6zm1 10zm4 5zm-3 4zm2 13zm-4 82zm11 62zm4 5zm-14 7zm18 5zm-7 1zm-3 0zm9 66zm0 7zm-18 5zm0 8zm7 23zm-5 8zm1 2zm3 3zm9 20zm-1 5zm3 4zm-8 6zm2 4zm7 0zm-9 0zm-6 5zm3 4zm-2 0zm-4 3zm9 10zm14-6zm-2-10zm-1-13zm16-33zm-2-10zm3 0zm-4-8zm-3-3zm-3 0zm7-4zm2-21zm-13-2zm9-1zm-5-4zm8 0zm-11-1zm12-2zm-11-5zm-1-6zm11-4zm-9 0zm5-7zm8-3zm-1-1zm0-4zm-5 0zm3-1zm-2 0zm3-2zm-11-3zm6-4zm-6-16zm12-38zm-13-45zm-3-18zm5-13zm-6-44zm12-6zm4-3zm-3-10zm-8-8zm-6-4zm16-13zm-2 0zm-13-3zm7 0zm10-18zm-14-1zm1-10zm9-17zm4-1zm-13-1zm-3-8zm2-4zm7-1zm2-4zm6-11zm-3-4zm1-3zm-2-7zm-1-3zm-12-3zm7 0zm-6-2zm3-1zm6-1zm4-2zm-7-5zm-4 0zm-5-2zm6-4zm13-4zm-10-2zm-8-2zm18-1zm-16-5zm8-2zm-6-4zm1-12zm-6 0zm17 0zm-10-2zm-4 0zm8 0zm-6-4zm-4-2zm1 0zm17-5zm-7-5zm0-1zm-11-9zm12-5zm-13-14zm6-2zm-1-1zm8 0zm0-5zm1 0zm-5-3zm-1 0zm3-1zm-4-1zm-3-1zm2-2zm2-2zm-4 0zm0-1zm8-4zm-10-3zm4-1zm2-4zm4-1zm-7-1zm7-1zm-9-5zm11-6zm1-5zm-2-3zm-1-9zm0-5zm3-1zm3 0zm-17-2zm11-1zm-2 0zm6-1zm-9 0zm9-4zm-3-7zm-7-3zm4 0zm8-2zm-6-4zm1-1zm4-4zm-14-7zm14-1zm0-30zm-5 0zm4-2zm-9-7zm-1-5zm13-4zm-13 0zm-5-2zm5-2zm7-2zm4-4zm2-1zm-10-2zm7 0zm-7-1zm-6-1zm6 0zm-8-13zm0-5zm-1-3zm20 26zm1 3zm7 10zm-3 1zm5 11zm3 3zm-9 1zm12 5zm-15 6zm6 1zm5 2zm-9 9zm11 1zm-11 3zm15 18zm-11 0zm12 2zm-9 2zm8 0zm-16 6zm17 1zm-2 1zm-8 1zm1 2zm-6 1zm8 1zm-3 0zm8 10zm-4 1zm1 2zm2 7zm-6 2zm2 5zm4 10zm-7 3zm6 8zm-12 1zm0 5zm9 3zm-1 14zm-5 2zm6 3zm3 1zm-3 8zm4 1zm3 3zm-11 1zm-1 5zm3 1zm-6 3zm11 3zm-14 1zm1 8zm1 2zm7 5zm4 7zm-14 2zm12 1zm-4 0zm-2 1zm1 5zm11 3zm-8 4zm3 0zm4 0zm0 3zm2 1zm-6 1zm0 4zm-2 3zm5 3zm2 4zm-6 2zm4 5zm-4 0zm-3 1zm-8 4zm13 0zm3 0zm0 2zm2 7zm-13 2zm1 2zm-6 4zm11 3zm6 1zm-11 0zm-2 1zm1 2zm10 7zm-16 2zm18 8zm-18 0zm5 3zm5 9zm5 12zm4 2zm-7 11zm-6 4zm7 1zm-6 1zm5 6zm5 3zm-11 16zm1 6zm8 7zm-7 5zm2 3zm-1 7zm10 8zm-15 2zm-2 3zm14 0zm-2 5zm-6 6zm3 3zm-4 0zm11 0zm-12 9zm12 1zm-7 2zm1 6zm-10 1zm12 2zm-5 12zm9 3zm-12 7zm2 9zm0 6zm1 4zm5 5zm2 13zm-3 1zm2 10zm-5 2zm-7 3zm5 19zm11 3zm-8 0zm-9 3zm5 0zm-6 1zm7 2zm4 8zm0 1zm-5 3zm5 7zm4 23zm-11 8zm13 3zm-7 1zm-9 5zm8 11zm7 1zm1 0zm-2 4zm1 0zm-4 4zm-9 4zm14 1zm-11 1zm11 7zm-4 2zm1 7zm-13 1zm10 3zm-11 0zm13 1zm1 5zm1 1zm-5 4zm-5 2zm10 10zm-3 1zm-12 1zm8 7zm9 6zm-3 3zm-11 4zm8 5zm24-40zm0-1zm3-20zm-16-6zm0-4zm3-4zm-6-9zm3-4zm1-1zm6-4zm4-9zm-2-3zm-5-1zm10-4zm-14-1zm10-1zm6-3zm-19-1zm11-1zm4-9zm-15-1zm18-1zm-8-2zm5 0zm-6-3zm4-1zm3-2zm-9-4zm1-6zm10-13zm-5-4zm4-1zm-6 0zm4-3zm1-2zm-16-20zm18-6zm-11-6zm-7-3zm8-3zm1-2zm6-6zm-6-1zm-2-2zm0-7zm4-8zm7-17zm-16-16zm6-1zm6-8zm-2-1zm3-6zm1-17zm-13-6zm-3-3zm10-11zm-7-2zm-3-1zm17-4zm2-8zm-11-10zm3-9zm-1 0zm-7-25zm1-3zm-1-4zm13-4zm-11-1zm-3-9zm5-13zm-1-7zm12-2zm-9-1zm-8-6zm17 0zm-12 0zm9-7zm-14-2zm14 0zm-1-2zm-1-1zm-9-1zm-3 0zm17-6zm-5-2zm3-2zm-9-13zm8-3zm-9 0zm10-2zm3-1zm-12-3zm10-1zm-10-4zm5-4zm1-3zm3 0zm-16-5zm10 0zm-4-2zm10-2zm-8-5zm7-3zm-14-6zm1-6zm17-1zm-9-5zm-4-12zm12-3zm-2-5zm-1-8zm-15-5zm14-2zm-3 0zm-9-1zm17 0zm-14 0zm9-1zm-9-3zm1-1zm13 0zm-13-5zm4-1zm2 0zm-12-4zm12-2zm4-3zm-9-4zm5-5zm-1-4zm4-2zm2-7zm-3-2zm-7-12zm1-1zm1-4zm-8-7zm24 40zm-3 13zm6 9zm-4 15zm1 2zm-2 0zm-1 1zm8 0zm-4 1zm4 3zm-8 0zm6 1zm10 1zm-1 1zm-13 0zm9 1zm-7 3zm-6 4zm13 0zm-12 6zm0 1zm0 2zm14 11zm-10 1zm13 1zm-10 2zm2 0zm3 2zm-2 4zm-6 12zm2 4zm1 7zm-7 1zm13 1zm-11 0zm-1 2zm12 6zm-14 0zm2 0zm14 4zm-2 5zm1 1zm-5 1zm7 12zm0 1zm-5 1zm-11 18zm10 3zm8 3zm-7 4zm4 3zm-14 9zm5 9zm-7 6zm13 8zm-4 2zm10 1zm-19 5zm12 5zm-7 3zm-5 7zm4 0zm8 9zm1 4zm5 0zm-7 5zm5 15zm-10 3zm-2 0zm-2 5zm4 0zm-5 5zm1 1zm3 18zm-5 3zm16 2zm-4 4zm-12 9zm6 1zm7 0zm-2 1zm-1 4zm-2 3zm11 1zm-19 26zm11 3zm7 4zm-8 14zm-1 2zm10 5zm-12 5zm-1 4zm4 2zm-3 3zm-2 16zm-2 2zm5 7zm-1 11zm-5 10zm-1 16zm11 11zm6 5zm0 9zm-15 36zm3 5zm-2 3zm-3 7zm19-38zm14-40zm-4-8zm6-6zm-1-11zm-11-9zm5-5zm-7-4zm5-15zm1-5zm-5-20zm3 0zm9-12zm-4-12zm-8-4zm5-4zm0-1zm7-2zm-7-4zm11-1zm-15-4zm6-35zm9-10zm-17-1zm3-8zm0-1zm-2-2zm3-10zm6-10zm-3-1zm-7-1zm12-2zm5-3zm-19-3zm10-7zm6-2zm0-3zm-1-4zm-6-15zm5-8zm3-2zm-6-2zm-5-1zm6-5zm-1-9zm-2-8zm-5-11zm7-1zm-8-4zm16-7zm-13-10zm-3-2zm8-4zm4-5zm-9-2zm-6-3zm10-1zm6-7zm-15 0zm5-1zm0-8zm7-1zm2-1zm-6-4zm4-4zm3-4zm-4-2zm0 0zm-10-2zm11-2zm-1-1zm-1-2zm-1-10zm-8-5zm1-3zm-1-13zm20 63zm-2 29zm8 2zm-2 3zm-5 4zm10 3zm-1 5zm-1 2zm5 3zm3 2zm-1 28zm1 22zm-10 5zm-2 9zm13 4zm-9 0zm2 7zm-10 1zm9 2zm-10 3zm6 4zm-4 0zm14 6zm-16 3zm16 21zm-4 6zm0 11zm7 5zm0 10zm-12 0zm-4 2zm5 5zm-5 2zm-3 18zm2 8zm13 2zm-5 18zm2 8zm1 3zm-6 3zm3 1zm0 2zm-5 19zm-1 0zm18-105zm2-4zm-3-1zm2-37zm-3-3zm4-42zm-4-2zm0-28zm283-287zm5-1zm2-1zm6 0zm-7-1zm-5-6zm33 7zm-10 3zm-6 0zm8 0zm-9 1zm13 1zm-12 1zm11 1zm-2 0zm3 1zm1 1zm5 1zm-6 1zm5 3zm-12 3zm6 0zm6 0zm-13 0zm11 1zm-2 0zm0 3zm-3 2zm7 1zm-4 0zm-7 1zm12 7zm-9 0zm8 1zm0 1zm-4 3zm-1 0zm13 9zm-1-1zm-5 0zm15 0zm-6-1zm1-1zm3 0zm-3-1zm-10 0zm5-1zm9 0zm-1-2zm-9-1zm3-1zm7-1zm3 0zm-4-1zm-2 0zm0-2zm-8 0zm2 0zm0 0zm-1-2zm15-1zm-19 0zm19-1zm-2 0zm-4 0zm0-2zm-13-1zm7-1zm10 0zm1 0zm-11 0zm-1-1zm1-1zm-3 0zm13 0zm-11 0zm-4-1zm17 0zm-13-1zm10-1zm-1 0zm-2 0zm5 0zm-14 0zm12-1zm0 0zm0 0zm1 0zm-3-1zm-10 0zm6 0zm2 0zm2-1zm-7-1zm-3 0zm-1 0zm2 0zm7-1zm4-1zm-1 0zm-6 0zm9 0zm-14-1zm9-1zm1-1zm-7-1zm11 0zm-4 0zm0-1zm-1-1zm2-2zm-9 0zm-2 0zm15 0zm-8-1zm-9-1zm5-1zm4 0zm4 0zm3-1zm-11-1zm-5-2zm10-2zm7-1zm-10-1zm-6-4zm13-2zm13 4zm3 2zm-11 1zm4 2zm-1 3zm-2 3zm14 1zm-5 0zm-5 0zm-1 0zm4 0zm-1 1zm1 2zm-7 0zm0 1zm4 0zm8 0zm-4 1zm-8 0zm4 0zm-5 1zm15 1zm-8 0zm11 1zm-13 1zm4 2zm-3 0zm4 0zm1 0zm-8 1zm0 1zm0 1zm-1 2zm7 1zm-7 0zm-1 0zm6 2zm2 1zm-2 1zm-3 1zm6 0zm-8 1zm-3 0zm17 0zm-15 0zm9 2zm-8 0zm4 0zm-6 3zm13 0zm-7 2zm-7 0zm5 0zm4 1zm5 0zm-12 1zm7 0zm-7 0zm5 2zm4 0zm3 0zm-13 0zm2 1zm1 0zm2 3zm14-5zm6-11zm-2-1zm-1-4zm2 0zm2-4zm-3-2zm1 0zm-2-2zm3 0zm-5-11zm-1-5z" fill="none" stroke="#1b9847" stroke-width="11.5" stroke-linecap="round"/>
<path transform="scale(.1)" d="M2476 941zm2-256zm1-9zm-3-5zm-3-7zm10 0zm2 0zm-3 5zm3 2zm-4 5zm12 5zm-7 4zm-5 4zm8 1zm-3 2zm-1 0zm2 4zm0 5zm1 2zm7 1zm-2 3zm-11 3zm16 12zm-4 1zm3 1zm-1 1zm-6 5zm-3 1zm10 1zm-1 4zm1 20zm-5 169zm-7 5zm-5 2zm2 3zm17 26zm9 14zm1-9zm3-3zm-12-1zm2-3zm16-11zm-15-3zm2-8zm-1-1zm2-15zm12-74zm1-14zm-6 0zm-1-2zm5-7zm1-3zm1-9zm-3-7zm-1-1zm-6-16zm-2-14zm-4-27zm19 91zm-1 8zm5 7zm-1 4zm-5 0zm0 9zm9 1zm-3 2zm8 1zm-4 1zm5 2zm-6 4zm3 1zm-4 3zm-2 3zm12 8zm-3 11zm-5 1zm-4 23zm13 0zm-7 1zm2 1zm-5 15zm1 0zm1 2zm4 8zm-10 10zm27 8zm-1-5zm-1 0zm-4-3zm8-1zm-13-4zm3-2zm-1-10zm-1-1zm10-2zm-11-5zm1-3zm15-2zm-16-4zm10-1zm-9-1zm4 0zm6-3zm-7-5zm-5-13zm3-5zm35 18zm-4 6zm3 14zm-14 11zm4 2zm-5 5zm-2 8zm3 2zm17-37zm5-8zm0-14zm4-7zm7-7zm0-10zm-1-19zm24-81zm-1 49zm-2 4zm-9 1zm7 8zm9-71zm13-5zm1-15zm0-23zm10-25zm6 11z" fill="none" stroke="#b5451f" stroke-width="10.0" stroke-linecap="round"/>
<path transform="scale(.1)" d="M2335 688zm-15 14zm10 0zm7 1zm-9 2zm-7 2zm14 0zm-4 2zm-4 4zm2 2zm0 10zm0 0zm8 2zm-13 2zm-1 1zm20 7zm-2-3zm0 0zm5-3zm-6-7zm5-2zm-1-1zm10-1zm-8-1zm13-2zm-11-1zm5-1zm3-6zm-5-1zm8-1zm-17-2zm0-2zm7-1zm5-6zm3 0zm-4-2zm-11-4zm19 20zm4 34zm6 4zm-5 8zm11 18zm-7 2zm6 7zm-1 7zm16 28zm3-3zm-13-8zm1-8zm6-3zm13 23zm1 16zm-1 0zm4 0z" fill="none" stroke="#d3261f" stroke-width="10.0" stroke-linecap="round"/>
<text x="359.60" y="7.30" font-size="7.5" fill="#242424" stroke="#242424">EI_035 DNMT3A</text>
<rect x="358.30" y="10.60" width="97.70" height="91.80" fill="#fff" stroke="#8c8c8c" stroke-width="0.65"/>
<text x="364.20" y="111.70" font-size="7.5" text-anchor="middle" fill="#333333" stroke="#333333">−5</text>
<text x="386.00" y="111.70" font-size="7.5" text-anchor="middle" fill="#333333" stroke="#333333">0</text>
<text x="408.00" y="111.70" font-size="7.5" text-anchor="middle" fill="#333333" stroke="#333333">5</text>
<text x="431.00" y="111.70" font-size="7.5" text-anchor="middle" fill="#333333" stroke="#333333">10</text>
<text x="452.50" y="111.70" font-size="7.5" text-anchor="middle" fill="#333333" stroke="#333333">15</text>
<text x="355.10" y="35.00" font-size="7.5" text-anchor="end" fill="#333333" stroke="#333333">5</text>
<text x="355.10" y="67.90" font-size="7.5" text-anchor="end" fill="#333333" stroke="#333333">0</text>
<text x="355.10" y="100.40" font-size="7.5" text-anchor="end" fill="#333333" stroke="#333333">−5</text>
<path d="M364.20 102.40v2M386.00 102.40v2M408.00 102.40v2M431.00 102.40v2M452.50 102.40v2M358.30 32.30h-2M358.30 65.20h-2M358.30 97.70h-2" stroke="#555" stroke-width="0.6" fill="none"/>
<text x="407.15" y="120.70" font-size="7.5" text-anchor="middle" fill="#242424" stroke="#242424">UMAP_1</text>
<text x="343.00" y="61.40" font-size="7.5" text-anchor="middle" transform="rotate(-90 343.00 61.40)" fill="#242424" stroke="#242424">UMAP_2</text>
<path transform="scale(.1)" d="M3639 777zm-1-5zm1-12zm-6-6zm2-13zm3-15zm-7-3zm3 0zm-1-11zm2-3zm-2-1zm-4 0zm6-5zm0-2zm-8-2zm6-2zm-4-2zm-1-9zm-1-1zm2-5zm3 0zm4 0zm-1-7zm-8-6zm-2-4zm7-1zm-4-6zm8-1zm-6-2zm-4-5zm5-4zm6-2zm-7-9zm9-1zm-9-1zm4-4zm4-10zm0-3zm-6 0zm4-13zm3-3zm20-45zm-1 11zm0 0zm-2 7zm-7 4zm2 0zm2 1zm-4 3zm-5 5zm0 8zm15 1zm-18 4zm18 2zm-1 3zm-4 6zm-8 5zm1 6zm-1 1zm12 4zm-18 7zm13 9zm-2 1zm6 1zm2 0zm-15 2zm-3 5zm9 6zm1 9zm8 2zm0 6zm-18 1zm12 5zm6 8zm-12 2zm9 1zm-4 1zm-11 1zm15 2zm-12 0zm3 1zm-4 8zm6 4zm-9 1zm3 1zm3 1zm13 3zm-5 5zm3 2zm-11 5zm-2 6zm6 6zm4 4zm-4 5zm-8 1zm15 1zm-15 9zm1 8zm13 4zm-7 0zm1 9zm7 0zm-16 0zm2 5zm6 6zm2 2zm0 1zm8 2zm-13 1zm0 0zm7 8zm6 7zm-4 4zm-1 0zm2 3zm-1 6zm1 3zm11 38zm5-2zm-7-1zm7-1zm2 0zm-1-2zm4-11zm-2-2zm-3-3zm-9-1zm1 0zm-1-3zm5-1zm2-5zm1-2zm0-5zm1-3zm-7-2zm6 0zm3-3zm-10-1zm5-1zm9-4zm-8 0zm9-16zm0-4zm-4-5zm-14-4zm3-2zm5-2zm5 0zm-12-1zm7-1zm-1-1zm8-11zm-8-4zm-4-1zm9-1zm-2-3zm-6-12zm1-1zm-4-3zm1-2zm0-1zm11-1zm-2-1zm-6-9zm12-5zm-5-1zm-11-1zm15-3zm-12 0zm2 0zm3-1zm5-3zm-9-3zm1-5zm11-1zm-16-2zm16-4zm-17-5zm5-6zm13-1zm-2 0zm-3-3zm-4 0zm-8-3zm7-3zm-7-1zm4-4zm-5-2zm8 0zm-7-2zm-2-2zm5-7zm7-11zm-7-6zm12-6zm-10-3zm5 0zm-11 0zm12-3zm-12-7zm12-2zm3-2zm-1-2zm-7-4zm-3-9zm9-3zm-7 0zm-1-2zm-3-15zm12-4zm4-1zm-6-2zm-7-1zm3-10zm-1-2zm-7-4zm14-2zm-8-1zm-5-1zm2-3zm-1 0zm10-1zm-3-14zm5-10zm2-2zm17-21zm-2 5zm4 1zm-5 2zm6 0zm-8 0zm1 2zm7 6zm-8 3zm-7 0zm-2 2zm5 4zm-4 0zm17 5zm-1 4zm-4 4zm5 2zm-10 1zm9 0zm-6 2zm-10 0zm-1 6zm19 1zm-10 4zm4 3zm-10 2zm13 3zm-11 4zm3 4zm1 3zm-5 2zm12 11zm-16 2zm12 3zm1 0zm5 2zm-2 4zm-3 0zm5 1zm-1 1zm-14 4zm-2 4zm16 3zm-11 2zm1 3zm0 1zm7 2zm1 1zm0 2zm4 2zm-9 8zm-1 1zm5 1zm-13 6zm2 1zm5 1zm-4 15zm8 12zm-3 4zm10 5zm-3 0zm3 0zm-9 2zm8 3zm-4 0zm-14 2zm14 8zm1 0zm2 0zm-10 1zm-1 6zm6 4zm-3 3zm6 0zm-2 2zm2 0zm-10 1zm6 3zm4 2zm2 1zm-7 2zm7 2zm1 2zm-17 2zm1 4zm17 16zm-19 3zm14 5zm2 5zm-11 1zm10 3zm-2 1zm1 1zm3 1zm-2 5zm-15 1zm1 0zm17 2zm-6 5zm-9 4zm-1 1zm16 2zm-15 8zm15 5zm-14 2zm4 1zm7 1zm-14 7zm17 4zm-6 2zm-7 8zm2 9zm-3 3zm6 2zm-7 9zm-2 4zm5 6zm6 6zm6 2zm-12 3zm-2 1zm2 7zm0 2zm-3 0zm7 3zm-2 3zm5 1zm0 3zm-4 0zm8 4zm-9 5zm8 0zm23 36zm-5-6zm-3-4zm1 0zm-2-5zm-4-1zm4-4zm7-1zm-14-1zm-3-1zm12-2zm-7-2zm4-10zm-6-4zm-1-1zm10-1zm7-1zm-10-15zm-4-3zm-5-3zm16-9zm-16-2zm0-2zm11-1zm-7-3zm15-2zm-2-6zm-2-1zm0-4zm-15-1zm18-4zm-9 0zm-4-3zm12-10zm0-1zm1-3zm-12-2zm3-3zm6-3zm-12 0zm-1-1zm-1-1zm5-2zm-2-7zm-1-2zm12 0zm3-4zm-2-16zm-8-1zm-4-9zm8-1zm-4 0zm-2-6zm0-1zm12-2zm-5 0zm-4-2zm2 0zm8-1zm-8-3zm-8 0zm7-4zm5-4zm-4-6zm-8-2zm11-1zm2-1zm-11-3zm7-4zm-2-2zm-5 0zm-5-2zm16-2zm-10-3zm9-2zm2-4zm-1-2zm-6 0zm-7-1zm13-3zm-1-1zm-6-3zm-1-3zm-8-3zm2 0zm5-4zm10 0zm-2-1zm-11-6zm-4-5zm16-6zm2-2zm-4 0zm-4-2zm-7-10zm-1-2zm1-1zm14-1zm-15-1zm13-1zm0-7zm-9-2zm10-6zm-7-5zm3-1zm0 0zm-11-11zm11-3zm7-1zm-1 0zm-7-1zm7-2zm-13-2zm5-9zm7-2zm-7-1zm6-1zm-9-3zm-5-3zm4-3zm7-1zm-10-3zm1-4zm-4-5zm14-1zm-14 0zm18 0zm-10-7zm11-4zm-13-1zm-2 0zm12-4zm-13-2zm12-2zm2-3zm-4-2zm-2-1zm-3-3zm10-2zm-3 0zm-8 0zm4-2zm5-1zm-9-8zm5-4zm2-4zm1-1zm-3-1zm-10-1zm8-5zm-6-1zm-1 0zm13-1zm-13-1zm2-1zm13 0zm-16 0zm6-11zm0-7zm5-6zm22-10zm-2 4zm5 2zm-10 0zm-1 9zm3 0zm9 4zm-15 2zm-1 12zm12 0zm-6 1zm-4 3zm-4 2zm16 5zm-12 6zm-1 0zm4 2zm-1 1zm-1 5zm5 3zm-2 2zm10 2zm-10 17zm-4 0zm14 0zm-15 1zm-3 9zm0 4zm6 3zm12 2zm-12 1zm-7 6zm4 4zm10 2zm-9 0zm10 11zm-2 4zm-1 2zm2 0zm-10 1zm7 1zm-6 0zm12 1zm-15 2zm8 0zm1 3zm2 7zm-13 2zm11 2zm-6 0zm-1 6zm-3 3zm6 0zm-5 1zm9 7zm0 0zm3 0zm-11 1zm-3 2zm18 1zm-4 1zm3 2zm-16 3zm14 8zm-6 7zm0 0zm-9 2zm2 1zm9 6zm-9 3zm16 2zm-4 0zm-11 2zm-1 9zm17 1zm-8 2zm-11 3zm6 3zm8 2zm2 2zm-1 1zm-2 7zm-11 5zm11 1zm0 3zm-5 1zm6 4zm0 1zm5 2zm-3 6zm-7 3zm-5 0zm10 0zm0 0zm-6 3zm9 9zm-10 3zm-5 1zm8 2zm2 6zm5 1zm-5 1zm-9 0zm5 2zm5 8zm-4 6zm2 1zm3 0zm-2 2zm2 7zm5 4zm-6 2zm-6 0zm5 5zm-8 6zm-3 4zm18 2zm-11 1zm2 2zm1 4zm-2 2zm1 12zm0 6zm-10 2zm19 2zm-3 0zm3 4zm-9 0zm6 3zm-2 0zm3 1zm-8 5zm-5 3zm14 1zm-1 1zm2 1zm-19 7zm3 0zm12 7zm-4 2zm6 2zm-10 1zm-4 2zm9 0zm-3 3zm-6 3zm8 2zm-6 1zm12 0zm-5 1zm-3 4zm-2 2zm-1 2zm8 1zm-13 0zm11 2zm-11 0zm7 4zm4 0zm-9 2zm12 3zm1 2zm-3 0zm4 1zm-9 1zm11 9zm-9 0zm9 0zm-4 4zm-9 0zm10 2zm-12 0zm-4 1zm11 0zm-1 9zm28 22zm-1-6zm-3-2zm5 0zm-6-2zm5-11zm-11-3zm6-2zm-12-2zm10-3zm0-3zm-2 0zm-1-2zm-2-1zm12-7zm-13 0zm1-6zm3-5zm-3 0zm13-5zm-3-3zm3 0zm-13 0zm7-1zm5-5zm-7-1zm-3-4zm8-1zm-5-1zm5-3zm0-2zm0-2zm-12 0zm15-1zm-19-10zm9-2zm6-7zm-12-1zm-1-1zm10 0zm-1-2zm8-4zm-3-4zm-6-5zm1-8zm-7-1zm10-1zm-10-2zm1-4zm14 0zm-5 0zm1-1zm-13-3zm8-1zm-2-1zm-5-3zm-3-4zm18 0zm-1-1zm-2-3zm-7-3zm11-2zm-17 0zm5-1zm10-7zm-4-4zm-4-1zm-2-1zm8-6zm3-7zm-15-1zm6-3zm-9-2zm14-1zm-14-7zm17-1zm-3-3zm0 0zm-3-5zm-2-8zm4-2zm-6 0zm-3-5zm10-3zm-4 0zm-2-1zm8-2zm0-1zm-8-2zm7-1zm-1-3zm2-4zm-3-2zm-1-4zm0 0zm-6-1zm-5-1zm10 0zm-1-2zm-9 0zm-1-1zm8 0zm-6-2zm9-3zm-1-3zm-5-5zm1-1zm8-1zm0-3zm5-3zm-4-9zm2-1zm-12-1zm5-1zm-5 0zm12-2zm-7-4zm-6-1zm10-9zm-10-3zm-1-6zm15-2zm-6 0zm-11-1zm3-2zm3-4zm5-5zm-4 0zm-5-1zm11-5zm-5-1zm6-2zm-12-1zm1-1zm7-5zm-11-6zm6-1zm9-2zm-6-2zm-9-5zm15-2zm1-5zm2 0zm0-5zm-13 0zm-1-2zm5-6zm-8 0zm17-2zm-5-3zm-1-5zm1-2zm-8-4zm6-3zm5-1zm-15 0zm13-2zm-10-2zm3-3zm3-4zm3-3zm-8-1zm10-4zm-11-8zm9-2zm-5-1zm4-1zm-7-1zm1 0zm-3-4zm0-2zm10-3zm-4-4zm3 0zm-7-1zm6-5zm-4-5zm2-5zm6-3zm2 0zm-6-10zm2-7zm-4-11zm0-3zm1-3zm7-161zm-6-4zm-4-5zm9-9zm-3 0zm1-4zm-4-1zm1-4zm0 0zm3-1zm14-15zm-3 2zm9 4zm-11 1zm15 3zm-17 1zm7 1zm-5 1zm16 4zm-15 2zm3 1zm-5 1zm3 1zm6 3zm3 0zm-14 1zm15 1zm-13 1zm14 0zm-5 1zm0 1zm-11 1zm5 3zm11 0zm-6 0zm8 0zm-8 1zm-2 1zm-6 1zm15 3zm-7 2zm-3 1zm-4 3zm0 1zm9 2zm0 2zm-10 1zm2 7zm4 8zm-1 6zm-1 0zm1 8zm1 0zm1 1zm-3 0zm1 10zm0 2zm-1 5zm3 6zm-3 5zm-1 2zm4 4zm-3 5zm1 6zm1 8zm-1 1zm0 4zm2 0zm-3 1zm0 4zm4 5zm-4 15zm1 3zm1 6zm-2 1zm2 9zm-1 12zm2 3zm-5 3zm0 1zm3 0zm-3 1zm5 3zm-9 0zm11 8zm2 4zm-2 5zm6 5zm-16 0zm18 0zm-11 1zm1 6zm2 4zm-6 5zm0 3zm0 0zm9 5zm-4 1zm-1 1zm-4 1zm3 1zm-4 3zm-3 2zm3 1zm-4 0zm10 1zm1 0zm5 2zm-11 2zm0 18zm14 6zm-19 5zm17 12zm0 0zm1 2zm-18 7zm5 3zm4 5zm6 3zm-6 2zm-6 2zm0 6zm0 0zm8 3zm5 6zm-15 11zm7 9zm2 5zm-8 0zm15 1zm0 2zm-6 2zm-4 9zm5 4zm-4 1zm-8 7zm10 6zm-9 2zm12 1zm5 2zm-7 2zm2 0zm5 1zm-11 0zm6 1zm-2 10zm-9 10zm2 1zm1 13zm9 9zm0 0zm2 4zm2 2zm-4 4zm3 3zm-4 8zm-10 8zm4 2zm6 0zm4 3zm-15 1zm14 9zm-5 10zm6 11zm-12 0zm12 7zm-4 6zm-4 2zm-3 2zm3 1zm-8 1zm8 1zm2 0zm5 0zm-9 4zm7 1zm-12 2zm1 3zm-2 4zm0 3zm3 0zm1 4zm12 0zm-6 1zm-3 2zm3 1zm4 4zm-1 1zm-7 2zm5 1zm-10 0zm16 5zm-7 1zm-7 1zm4 1zm2 1zm-5 3zm4 4zm5 10zm-4 1zm2 0zm-11 7zm8 4zm-7 4zm14 6zm-12 0zm7 5zm-8 3zm3 6zm7 0zm4 8zm-14 1zm-1 2zm-2 10zm4 1zm-2 0zm1 0zm-2 1zm-1 1zm10 1zm-8 3zm1 5zm12 5zm-2 1zm0 10zm-1 2zm1 5zm-2 1zm0 0zm-1 2zm0 1zm3 4zm-3 6zm21 9zm4-1zm-3-1zm-4-18zm-1-2zm6 0zm-12-4zm6-3zm-5-11zm2-1zm4-3zm-8-1zm10-5zm-6-3zm5-4zm-3-1zm0-5zm7-2zm3-1zm-5-1zm-11-2zm14-4zm-3 0zm0-4zm-6-5zm3-1zm1-4zm-5-1zm2-5zm-3-1zm0 0zm10-3zm5-13zm-13-8zm6-5zm-4-2zm6-2zm0-1zm-6-9zm3-5zm4-5zm-11-5zm10-1zm-6-10zm5-9zm1-1zm-8-2zm1 0zm-6-4zm3-6zm5-5zm2-4zm-6-2zm4-8zm7 0zm2-3zm-6-1zm2-2zm-2-2zm-6-2zm12-2zm-4-8zm2-3zm-5-3zm-7-1zm1-5zm-4-4zm6-1zm6-1zm-10-3zm12-3zm-12-4zm8-1zm5 0zm2-3zm-6-4zm6-3zm-14-6zm12 0zm-7-2zm10-5zm-3 0zm0-3zm-10-2zm9-1zm4-4zm-10-3zm-6 0zm-2-7zm19 0zm-1 0zm-11-7zm11-7zm-1-7zm-16-1zm9-3zm2-1zm7-1zm-7-9zm4-1zm-7 0zm-5-5zm11-2zm-9-1zm-5-5zm2 0zm0-1zm11-3zm2-3zm0-5zm-2-10zm-9-3zm2-10zm10-2zm-11-8zm4-2zm3-4zm1-1zm1-4zm-4-5zm3-7zm1 0zm-2-5zm-2-3zm-2-2zm4-4zm-13 0zm5-1zm3-1zm6-8zm1-1zm-5-9zm4-5zm-14-1zm4-1zm7-1zm2-2zm5-4zm-5-1zm3-2zm-8-3zm7-2zm-11-5zm8-2zm4 0zm-10-2zm-3 0zm12-2zm-10-14zm1-1zm-6-3zm7 0zm1-1zm9-7zm-4-1zm3 0zm-6-5zm-9-2zm2-3zm14-156zm-14-2zm1-6zm2 0zm0-10zm-6-2zm2-2zm27 19zm7 3zm-4 5zm-10 103zm11 5zm-7 3zm1 2zm4 2zm3 45zm-14 3zm16 1zm-16 0zm3 4zm8 7zm-8 9zm3 3zm11 0zm-4 7zm5 0zm-18 2zm10 4zm-7 3zm6 0zm7 1zm-8 2zm8 6zm2 3zm-4 1zm-9 1zm2 0zm-6 5zm12 3zm-13 0zm8 10zm-2 1zm5 6zm1 0zm4 2zm-5 6zm0 1zm6 3zm-2 2zm-5 2zm-4 1zm6 3zm-9 5zm9 1zm1 2zm-12 3zm13 6zm-14 1zm8 2zm-2 2zm10 0zm-5 6zm-6 3zm12 12zm-3 2zm-10 4zm9 1zm-4 4zm6 3zm-5 0zm9 1zm-12 1zm-3 12zm3 0zm7 2zm-4 2zm4 4zm-6 2zm9 4zm-14 0zm-3 0zm13 3zm-7 7zm-2 7zm3 6zm2 2zm-9 1zm19 4zm-6 1zm-1 0zm-5 2zm0 12zm8 1zm4 2zm-5 2zm2 2zm1 1zm0 4zm-9 0zm5 0zm-6 3zm-5 5zm11 1zm-11 2zm9 0zm-10 3zm9 2zm-9 2zm8 1zm1 1zm-10 9zm6 2zm-1 0zm10 1zm2 3zm0 8zm-12 2zm9 1zm2 4zm-11 1zm5 0zm2 1zm-1 0zm-11 4zm8 8zm-5 0zm0 2zm15 3zm-2 2zm-16 2zm9 7zm-3 10zm4 1zm-9 4zm14 3zm-14 2zm1 1zm16 11zm-7 0zm-4 3zm8 7zm-4 1zm-10 1zm11 4zm-8 0zm14 0zm-12 5zm9 1zm3 2zm-15 2zm16 1zm-7 0zm-4 4zm2 5zm5 2zm-2 6zm-3 0zm-2 2zm5 1zm-13 5zm11 1zm-8 4zm16 3zm-3 1zm-9 9zm7 3zm3 17zm2 0zm-19 9zm11 8zm0 4zm0 3zm5 3zm2 1zm-18 3zm3 1zm6 2zm-4 3zm3 1zm-6 0zm15 7zm-10 3zm1 0zm-6 1zm15 2zm-6 3zm4 1zm-6 3zm3 1zm5 0zm-16 7zm19-3zm10-6zm1-1zm-10-9zm0-2zm-1-3zm3-1zm2-5zm3-4zm-6-5zm5-2zm-2-11zm10-10zm-2-3zm6-5zm-7-1zm-2-3zm0-4zm0-1zm-5-8zm0 0zm-2-13zm13-3zm-11-1zm6-4zm4-4zm-2-16zm-11-8zm0 0zm15-1zm-13-9zm13-1zm-1-1zm-9-8zm-5-2zm7-1zm-9-3zm7-2zm-3-2zm5-1zm6 0zm-12-1zm-2-1zm11 0zm-1-2zm-6-5zm8-1zm-11-5zm1-5zm-3-5zm14 0zm5-1zm-16-2zm10-2zm4-2zm-11-2zm-6-5zm8-2zm-3 0zm6-1zm1-2zm-2-17zm-2 0zm4 0zm1-6zm4-1zm0-1zm-15-4zm1-1zm0-1zm7-9zm4-7zm3-4zm-14-4zm13 0zm-16-1zm4-6zm4-5zm-8-1zm1 0zm16-7zm-10 0zm-6-1zm5-4zm11-1zm-4-6zm-5-5zm-4 0zm15-3zm-6-3zm-1-14zm-9-2zm7-3zm-4-3zm7-4zm-9-1zm-1-1zm3-1zm-2 0zm1-5zm9-1zm4-2zm-9 0zm-1-9zm3-4zm-4-4zm-3-4zm15-4zm-4 0zm-4-1zm3-13zm-5-2zm10-7zm-16 0zm9-2zm6-1zm-12-1zm11-5zm-13 0zm0 0zm13-2zm-11 0zm7-2zm-6-1zm11-1zm-11-7zm-7-1zm1 0zm13-1zm-5-2zm-5-3zm10-4zm-12-3zm14-5zm-13-4zm16-4zm-6 0zm-4-1zm5-3zm-5-1zm6 0zm-8-1zm3-2zm-6-2zm-3-9zm14-2zm-7-1zm1-1zm5-10zm4 0zm1-6zm-15-1zm5-2zm9-4zm-4-6zm3-3zm-8-2zm0-1zm9-2zm-14 0zm2-2zm10 0zm-7-1zm-1-1zm-4-3zm12-157zm-7-3zm9-1zm-3-2zm18-1zm3 4zm-5 1zm-9 4zm17 1zm-3 3zm-1 0zm3 1zm-7 2zm5 2zm2 152zm-5 0zm-8 4zm6 4zm-1 1zm7 1zm-17 2zm15 1zm-6 1zm10 2zm-13 0zm-4 0zm17 0zm-4 3zm1 4zm-6 3zm-1 8zm3 4zm-9 0zm13 5zm-10 1zm9 0zm-4 11zm-6 2zm11 4zm-15 0zm9 2zm4 1zm-12 3zm-2 2zm17 3zm-14 1zm-1 0zm1 3zm-3 7zm14 1zm-9 0zm2 3zm4 1zm8 1zm-16 5zm15 11zm-11 3zm-5 1zm5 0zm5 3zm-10 0zm9 3zm8 1zm-6 0zm-4 7zm0 4zm10 7zm-19 1zm19 5zm-4 2zm-11 1zm15 2zm-11 6zm-1 1zm12 9zm-15 1zm3 7zm5 2zm-4 7zm-3 0zm2 6zm2 1zm-6 4zm7 1zm-2 1zm-6 2zm2 4zm10 0zm-10 21zm-3 6zm10 2zm-6 3zm5 5zm-6 0zm-4 0zm11 3zm3 5zm2 1zm-13 3zm6 2zm-3 4zm-5 7zm12 4zm5 3zm-14 3zm3 12zm10 2zm-3 3zm1 4zm-15 1zm15 0zm-1 0zm-3 3zm5 4zm-3 1zm4 4zm-9 0zm9 1zm-15 1zm12 7zm-11 2zm10 0zm-1 10zm-1 9zm-1 3zm5 7zm-10 2zm0 14zm1 0zm11 3zm-8 6zm8 2zm-16 1zm9 2zm-2 5zm-7 9zm16 4zm1 5zm-5 4zm-4 1zm4 0zm6 0zm-1 8zm0 4zm-12 11zm12 2zm-6 2zm-12 1zm1 5zm16 15zm-16 4zm7 2zm-2 4zm7 0zm-11 2zm5 3zm1 8zm-3 5zm15-19zm1-1zm2-4zm-3-4zm4-1zm4-10zm-1-2zm-5 0zm3-2zm12-1zm-7-2zm3-4zm-2 0zm-3-6zm-8-3zm6-2zm10-6zm-9-3zm0-1zm4-1zm-11-8zm8-2zm-4-3zm11-5zm-4-3zm-9-3zm8-6zm8-1zm-18-3zm8-3zm1 0zm-3 0zm5-2zm-1-2zm8-2zm-13-1zm-3-1zm15-4zm-9-1zm-1-1zm1-1zm-2-5zm-3-3zm-2-6zm5 0zm-5-2zm4-2zm14-2zm-5-9zm-5-1zm1-5zm-2-4zm11-2zm-7 0zm5-2zm-4-4zm3-1zm-10-2zm3-3zm0-1zm4 0zm1-3zm-6-2zm11-1zm-1-6zm-11 0zm-3-2zm4-3zm1-1zm3-13zm-2 0zm0-1zm-5-1zm14-4zm-6 0zm2 0zm-5-3zm8-1zm-17-5zm9-6zm0-2zm-1-4zm3-2zm-4-2zm-4-7zm13-10zm-15-1zm15-12zm-15-3zm4-1zm8-8zm-6-8zm-2 0zm13-6zm-12-5zm-4-1zm6-5zm-6-5zm15-4zm-15 0zm7-1zm-3-2zm6-1zm3-2zm-15 0zm6-7zm-4-3zm9-2zm3-2zm-11-3zm5-2zm7-1zm3 0zm-4-1zm-5-2zm-9-2zm1-5zm6-4zm6-1zm-10-6zm-3-1zm1-5zm13-3zm-4-1zm-2-4zm7-6zm2-1zm-12-2zm2-7zm6-2zm4-3zm-3-2zm-6-2zm-6 0zm14-1zm-5-1zm2-7zm-1-6zm2-1zm-12-4zm10-1zm-1 0zm3-6zm3-1zm-18-7zm1-1zm3-6zm14-3zm-15-9zm8-3zm-9-1zm6-6zm6-9zm0-1zm5-128zm-6-14zm-6-12zm-7 0zm12-1zm-5-1zm5-1zm1-1zm5 0zm-13-1zm1 0zm-3-7zm6 0zm1-1zm6-1zm-3-1zm-3-9zm8-119zm-3-19zm19-9zm3 2zm0 1zm-15 1zm7 0zm-3 1zm3 2zm9 6zm1 1zm-12 8zm8 4zm-3 0zm-3 1zm1 1zm0 1zm-4 1zm6 1zm7 0zm-1 1zm-13 0zm3 0zm-1 0zm-6 1zm13 1zm-4 1zm-10 0zm17 6zm-1 1zm-3 1zm-10 3zm14 10zm-9 0zm0 0zm10 1zm0 4zm-6 7zm2 1zm1 13zm0 0zm-4 6zm-3 11zm3 0zm-1 6zm-2 7zm-3 2zm4 0zm4 0zm-2 4zm3 2zm-2 1zm-3 1zm3 7zm-5 13zm-5 0zm0 17zm4 5zm-4 6zm-2 11zm18 0zm-9 2zm-7 0zm17 1zm-18 4zm9 4zm0 0zm1 8zm-2 1zm0 11zm-1 2zm8 0zm-1 1zm4 8zm-5 50zm4 55zm-9 4zm2 0zm6 3zm-1 8zm3 2zm-8 3zm-1 3zm-3 5zm-7 2zm3 1zm13 5zm-16 4zm9 6zm1 1zm-9 2zm4 1zm-4 2zm7 3zm6 3zm-13 0zm10 1zm-3 0zm-6 1zm6 4zm10 1zm-13 1zm-5 1zm2 6zm4 10zm13 2zm-12 1zm9 2zm-6 3zm0 9zm7 3zm-11 2zm11 0zm-2 2zm-9 9zm-2 2zm0 2zm-2 1zm4 3zm-2 1zm11 3zm-10 0zm-4 3zm2 3zm4 7zm8 1zm-8 3zm8 6zm-3 1zm7 8zm-16 0zm5 2zm-3 0zm10 0zm4 15zm-7 1zm4 2zm-15 5zm16 3zm1 3zm-2 1zm-10 1zm13 11zm-19 12zm19 1zm-15 1zm8 0zm-2 2zm2 10zm-3 5zm5 2zm-8 2zm9 9zm-11 1zm5 4zm-6 1zm7 1zm3 0zm-1 3zm-9 4zm-3 0zm18 0zm-1 8zm-14 1zm16 3zm-13 2zm0 5zm8 3zm-6 2zm-3 5zm8 0zm2 10zm-10 0zm13 5zm-18 2zm6 1zm10 0zm-16 1zm7 5zm-3 6zm14 0zm-3 2zm4 3zm-4 6zm-13 2zm4 2zm13 1zm-9 11zm-1 6zm-8 9zm5 2zm8 8zm-8 8zm4 0zm9 7zm-15 2zm7 7zm-1 0zm-4 4zm-3 0zm0 1zm8 3zm-7 14zm21-38zm-5-10zm10-2zm-2 0zm2-9zm6-1zm-7-1zm1-3zm3-13zm2-2zm3-30zm-8-3zm0-1zm3-6zm-5-1zm7-1zm-14-9zm18-1zm-11-1zm5-1zm-5-4zm-2-8zm11-14zm0-1zm-3-12zm-13 0zm7-4zm-5-15zm0-4zm16-3zm-1-6zm-3-8zm-5-1zm-9-1zm15-2zm-12-1zm15-2zm-8 0zm5-1zm-14-2zm4-2zm-6-3zm0-1zm17-2zm-10-4zm2 0zm0-4zm-1-3zm1-1zm-8-7zm0-4zm3-1zm-3 0zm13-2zm3-1zm1-1zm-7-6zm8-3zm-15-1zm4-1zm5-2zm-9-3zm12-3zm-13-6zm1-3zm0-3zm13-2zm-4-5zm-10-6zm-2-7zm17 0zm-2 0zm3-1zm-14-5zm-5-5zm16-14zm-10-2zm4-1zm2-5zm-11-1zm3-11zm-2-3zm9-1zm-2 0zm0 0zm-1-1zm-3 0zm-5-1zm10-2zm-5-3zm11-5zm3-2zm-13 0zm7-9zm6-7zm-12 0zm10-2zm-12-4zm10-5zm-5-3zm-4-10zm3-1zm-5-2zm7-7zm0-4zm-10-72zm13-1zm-3-4zm1-2zm3-8zm-8-1zm4 0zm-3-7zm-3 0zm-2-4zm-2-6zm3-27zm-2-2zm2-127zm2-11zm5-2zm-7-3zm5-2zm-1-2zm-5 0zm-3-1zm3-4zm4 0zm2-3zm4 0zm-9 0zm1-2zm7 0zm-11-2zm-1-1zm3-2zm-3 0zm16-1zm-6-1zm-10 0zm17-1zm-3-1zm1-2zm-15 0zm10-2zm1-1zm-6 0zm5-1zm8-1zm-13-1zm11-1zm-4-1zm1-2zm-13-2zm0-2zm11-4zm0-2zm-9-2zm20 24zm3 0zm1 11zm7 186zm-10 8zm-2 12zm3 6zm7 4zm-5 1zm-4 1zm17 1zm-5 1zm-7 2zm5 9zm3 2zm-5 15zm8 9zm-4 19zm-4 0zm-8 5zm1 1zm7 2zm-4 1zm13 2zm-4 5zm1 7zm-5 1zm-10 5zm16 2zm-14 3zm0 1zm8 1zm-10 7zm10 4zm1 3zm-12 2zm11 4zm-2 1zm4 4zm1 13zm-7 3zm4 1zm-1 2zm-3 3zm11 0zm-3 1zm-5 4zm3 1zm6 8zm-11 2zm-7 0zm-1 3zm8 1zm6 7zm-11 10zm3 2zm7 4zm-12 5zm17 0zm-18 2zm6 1zm1 2zm2 4zm5 6zm-8 1zm13 10zm-2 0zm-10 0zm-6 5zm16 5zm-16 1zm5 6zm10 3zm-10 1zm8 12zm-4 6zm-6 6zm8 3zm-8 2zm6 3zm-4 0zm5 3zm-6 3zm14 1zm-1 1zm-10 1zm0 2zm-8 0zm12 8zm-8 1zm8 0zm-12 1zm16 1zm-6 3zm-5 9zm-5 0zm4 1zm10 2zm-14 10zm4 0zm-3 3zm6 1zm8 10zm-13 1zm5 1zm12 2zm-18 0zm4 3zm7 6zm-2 0zm2 0zm-4 3zm-2 1zm-6 9zm18 2zm-7 2zm-7 1zm2 5zm13 0zm0 1zm-19 1zm7 4zm12 2zm-13 5zm11 8zm1 1zm-11 0zm0 1zm-7 4zm12 1zm-3 0zm4 3zm-3 7zm0 2zm-4 7zm-1 2zm1 1zm17-54zm3-7zm5-1zm-4-2zm10-2zm-1-2zm-4-2zm-9-5zm3-2zm10 0zm-14-1zm7-1zm5 0zm-5-6zm8-2zm2-3zm-18-4zm13-3zm-3-7zm-5-3zm10-1zm-13-10zm15-6zm-4-2zm-10-5zm-4 0zm0 0zm3-2zm5 0zm-5-4zm16-5zm-17-4zm11-1zm-5-5zm9-1zm-2-1zm-13-4zm7-2zm-7-5zm5-2zm-6-20zm7-1zm9-3zm-9-3zm-1-6zm9-1zm-8-2zm-2-2zm5-3zm2-1zm-2-4zm8-14zm-5-11zm-14-7zm4 0zm12-2zm0-1zm-10-4zm-3-2zm2-4zm9-1zm-7-3zm-3 0zm-3-2zm-1-1zm11 0zm-2-3zm9-6zm-16-20zm-1-1zm11-8zm-5-2zm-5-1zm15-3zm-16-5zm9-2zm0-2zm6-1zm-2-10zm-2-4zm7-3zm-3-3zm3-1zm-16-1zm1-5zm3-2zm11 0zm-7-3zm8-4zm-8-4zm-4-4zm-5-16zm15-3zm-16-8zm1 0zm-2-7zm6-2zm0 0zm16 12zm11 19zm-8 2zm-1 0zm8 0zm-10 6zm6 7zm3 2zm3 1zm-8 1zm1 3zm8 3zm1 6zm-12 3zm11 3zm3 0zm-2 5zm-2 4zm0 1zm-12 0zm15 2zm1 0zm-2 1zm2 0zm-14 5zm3 3zm3 5zm-10 5zm15 0zm-11 1zm-4 5zm17 1zm2 11zm-16 3zm0 0zm10 6zm-13 4zm9 0zm6 4zm-2 3zm-7 3zm13 0zm-19 0zm9 1zm6 2zm-10 1zm11 1zm-11 1zm11 0zm-13 7zm11 10zm-14 3zm8 0zm-3 8zm6 2zm-9 1zm17 5zm-11 8zm7 1zm-12 6zm1 2zm5 2zm6 2zm-7 3zm5 6zm-1 1zm3 3zm-14 4zm16 4zm-5 2zm-6 4zm5 5zm-1 1zm0 0zm7 9zm-3 0zm-10 7zm1 1zm9 8zm-12 3zm15 0zm-10 2zm7 6zm-12 0zm15 5zm-12 0zm8 3zm-12 3zm6 14zm-6 6zm1 4zm-2 10zm23-63zm4-4zm0-4zm-6-3zm4-7zm-5-3zm16-9zm-13-1zm3-10zm8-1zm-13-3zm-1-1zm19-1zm-6-13zm-1-1zm-3-1zm9-4zm-9-2zm-2-3zm11-3zm0-6zm-14-2zm3-5zm-4 0zm-1 0zm1-4zm1 0zm12-1zm2-1zm-15-4zm10-12zm-4-4zm7-1zm-12-1zm14-1zm-2-3zm-14-5zm8-4zm7 0zm-6-14zm-2-8zm-8-3zm4 0zm-1-2zm2-3zm-1-3zm-3-4zm16 0zm-6-3zm-5 0zm-5-4zm15-1zm-15-3zm1-1zm8-5zm-1-1zm-1-6zm10-5zm-4 0zm-5-1zm6-1zm-13-9zm0-4zm18 33zm6 20zm0 0zm-4 12zm9 4zm-12 0zm1 6zm4 0zm0 1zm-4 3zm10 1zm1 3zm-1 1zm-3 0zm-3 3zm-3 6zm-2 8zm1 2zm4 0zm2 6zm-6 7zm7 9zm-5 22z" fill="none" stroke="#f3b50b" stroke-width="12.0" stroke-linecap="round"/>
<path transform="scale(.1)" d="M3630 714zm0-9zm8-35zm-10-3zm9-62zm14 3zm7 0zm-15 18zm13 42zm1 2zm-12 77zm5 20zm4 10zm21 72zm-15-7zm4-6zm5-11zm2-25zm-2-23zm-2-8zm2-60zm5-3zm5-6zm-7-17zm-10-38zm6-20zm3-8zm-8-6zm13-14zm-9-14zm3-6zm17-30zm12 30zm-10 18zm-7 0zm16 5zm-10 10zm6 4zm1 5zm3 3zm-2 4zm1 18zm-17 26zm1 13zm4 2zm1 41zm4 8zm3 32zm0 4zm-4 9zm2 51zm8 16zm-12 2zm-6 11zm3 8zm-3 2zm30 32zm0-39zm-7-9zm-3-10zm1-9zm9-3zm3-50zm-7-3zm-4-9zm3-43zm8-14zm5-38zm-7-48zm-5-18zm11-12zm-4-98zm24-20zm-7 13zm1 5zm-10 18zm13 14zm3 15zm-2 63zm0 22zm-12 15zm11 55zm-2 13zm-9 111zm4 10zm8 112zm8 12zm2-4zm12-17zm-2-72zm3-15zm-13-38zm-2-12zm13-5zm-5-28zm-11-38zm2-30zm8-3zm-4-34zm6-11zm-1-15zm5-16zm-11-1zm8-6zm0-6zm0-14zm-10-13zm-1-1zm11-2zm3-22zm-15-3zm15-18zm0-1zm-7-2zm5-39zm4-7zm-5-7zm3-152zm2-4zm-4-9zm-6-2zm4-22zm15 2zm11 18zm-9 4zm-7 74zm1 17zm4 29zm0 53zm-7 31zm12 6zm2 7zm-13 22zm4 5zm-2 2zm3 8zm-6 24zm5 5zm5 43zm-3 19zm2 54zm-2 13zm-4 68zm13 11zm-8 30zm-8 7zm15 23zm-13 3zm14 62zm1 19zm7 34zm5 0zm6-18zm-3-3zm-10-27zm1-23zm-3-2zm0-4zm4-18zm3-32zm-2-15zm5-2zm3-5zm0-43zm-3-20zm-11-13zm6-39zm4-15zm-5-82zm3-5zm9-34zm-17 0zm4-21zm12-3zm-8-7zm-2-11zm-1-36zm10-26zm12-49zm-4 56zm-2 33zm-1 21zm0 15zm1 6zm-1 8zm5 5zm8 37zm4 17zm-4 2zm6 30zm-5 28zm-10 47zm0 18zm8 40zm-9 14zm11 17zm-12 13zm17 123zm-4 25zm6-23zm2-14zm15-22zm-4-3zm-7-54zm-1-25zm-6-2zm15-4zm1-5zm-12-50zm14-1zm-4-9zm-4-11zm-4-8zm-2-33zm8-33zm-1-10zm6-26zm-9-23zm4-27zm7-1zm-3-24zm1-91zm21-161zm1 11zm-1 169zm-15 64zm5 15zm8 7zm1 5zm-4 15zm-10 13zm12 4zm-3 33zm3 47zm2 2zm-12 37zm9 83zm-7 58zm1 2zm11 23zm-11 38zm1 2zm-3 2zm29-44zm-1-30zm-1-18zm-6-16zm12-23zm-6-14zm0-50zm-1-30zm-2-13zm-10-4zm10-5zm-6-7zm3-2zm-4-14zm15-19zm-6-37zm-5-40zm11-9zm-8-28zm1-11zm-11-42zm9-5zm1-3zm8-158zm-9-7zm1-7zm4-127zm8-14zm14 13zm-2 1zm4 2zm-5 28zm4 1zm-4 36zm-4 6zm5 10zm-5 9zm-2 24zm3 4zm-3 52zm-1 2zm12 21zm1 101zm-10 3zm-2 34zm-4 52zm-2 14zm5 5zm2 19zm3 2zm4 11zm-5 8zm-7 15zm12 7zm-1 20zm-14 3zm18 4zm-5 5zm-13 0zm8 31zm-8 28zm12 9zm6 33zm-7 10zm8 11zm-3 21zm-9 5zm10 22zm-17 31zm21-70zm10-23zm-3-9zm1-4zm4-7zm-5-3zm11-8zm-9-15zm2-1zm3-54zm-5-6zm5-8zm4-3zm-16 0zm3-23zm5-90zm-9-28zm13-45zm-4-76zm-7-53zm-1-163zm-1-7zm2-2zm14-1zm-18-7zm21 223zm17 8zm-10 30zm1 38zm-5 61zm4 10zm-4 7zm1 4zm-4 49zm17 22zm-13 29zm11 48zm-14 2zm4 33zm11 20zm13 10zm-3-33zm7-39zm-11-78zm3-14zm9-2zm-8-15zm-7-11zm5-2zm11-47zm-11-37zm2-25zm21-2zm8 31zm-11 14zm6 8zm-1 4zm-6 15zm7 12zm-6 43zm-5 32zm18 18zm-1 19zm-17 63zm1 7zm19-37zm0-8zm3-28zm2-4zm13-21zm-9-5zm1-12zm0-23zm6-24zm-1-11zm-10-37zm-3-18zm0-24zm2-14zm26 49zm-8 17zm6 28zm-4 1zm4 21z" fill="none" stroke="#ec9612" stroke-width="11.5" stroke-linecap="round"/>
<path transform="scale(.1)" d="M3638 682zm-1-30zm-7-9zm17 28zm1 60zm8 0zm-2 17zm19 17zm-6-116zm5-71zm27-27zm-9 17zm-2 108zm4 59zm-9 2zm-2 29zm17 1zm-10 17zm2 16zm-3 10zm4 85zm13-10zm10-26zm0-30zm-4-15zm-10-19zm5-44zm6-53zm7-31zm-10-57zm23-118zm-5 19zm-3 59zm7 52zm0 59zm-7 111zm15 64zm-9 62zm12 0zm8-101zm5-23zm-1-32zm6-56zm-6-31zm-11-20zm16-163zm-12-198zm27-7zm-10 32zm4 37zm0 43zm-4 160zm16 15zm-11 105zm4 13zm-6 16zm-5 20zm15 61zm-12 46zm8 8zm-1 7zm-6 24zm6 86zm10-16zm1-9zm-2-19zm18-47zm-16-27zm5-9zm-4-28zm2-10zm4-60zm-7-44zm8-44zm-8-61zm10-28zm-2-24zm-1-33zm1-205zm10 201zm6 7zm13 4zm-13 59zm12 28zm-7 79zm8 77zm-14 24zm13 76zm-3 99zm2 9zm-14 9zm33-183zm-6-30zm0-18zm-4-80zm-5-124zm9-10zm10-31zm1 29zm12 29zm-9 26zm6 4zm9 24zm-12 91zm10 9zm-12 5zm13 1zm-2 97zm-3 58zm-1 3zm7 32zm-13 12zm11 35zm6-94zm11-20zm-1-2zm6-28zm-9-78zm7-158zm-16-24zm7-7zm9-202zm-12-22zm22-145zm1 13zm-5 2zm9 16zm-9 97zm5 26zm-8 32zm4 8zm13 17zm-8 148zm-9 82zm0 59zm13 5zm-13 125zm5 68zm33-54zm-12-73zm-5-20zm-1-9zm1-55zm1-143zm0-10zm-1-20zm18 0zm-9-86zm-5-216zm10-11zm9 236zm6 86zm-10 23zm4 20zm4 14zm11 74zm-8 20zm-9 13zm-2 30zm0 25zm23-36zm7-8zm3-16zm-4-18zm4-1zm-5-45zm9-56zm-13-22zm-3-8zm14-16zm6 60zm-1 1zm10 26zm0 4zm-5 3zm27 76zm7-80zm-19-110zm28 69zm-5 13zm-1 12z" fill="none" stroke="#d9381e" stroke-width="9.0" stroke-linecap="round"/>
<path transform="scale(.1)" d="M3657 691zm-2 141zm17-71zm-1-21zm-8-71zm15-111zm17-46zm-15 27zm11 13zm6 19zm-17 42zm8 36zm4 149zm-12 7zm27 76zm10-62zm-16-55zm-1-63zm7-110zm1-14zm0-56zm8-30zm5-2zm6 0zm-1 8zm11 39zm0 28zm1 17zm-16 26zm6 50zm-6 58zm11 10zm-9 73zm-3 4zm18 17zm-2 24zm-15 38zm13 3zm17-11zm3-163zm0-2zm-3-33zm5-93zm-1-4zm-4-50zm-3-45zm10-192zm-3-6zm4 8zm5 1zm4 260zm1 41zm2 25zm1 116zm24 227zm-8-9zm7-8zm2-2zm-13-5zm-3-11zm0-93zm9-52zm5-49zm-8-6zm3-81zm8-49zm-1-93zm20-190zm-11 197zm11 224zm0 44zm-1 90zm-16 71zm6 9zm11 16zm-12 4zm11 12zm6-155zm16-3zm-3-68zm-1 0zm0-46zm-12-37zm8-49zm3-102zm-14-27zm24 128zm10 127zm0 33zm6 125zm1-80zm3-19zm9-34zm3-16zm-14-42zm14-16zm0-16zm2-54zm-1-1zm-8-57zm-3-49zm11-1zm19-340zm-1 7zm-6 76zm0 19zm1 4zm-4 269zm-3 4zm15 117zm1 129zm-1 9zm-11 24zm6 24zm-3 15zm28-72zm-1-140zm-17-60zm15-92zm-13-12zm16-14zm-14-6zm-4-289zm1-1zm19-21zm1 303zm17 24zm-6 21zm-1 0zm-5 80zm5 24zm-8 30zm8 39zm-8 16zm16 3zm-3 20zm-10 4zm6 50zm13-10zm11-16zm3-43zm-2-6zm-9-53zm-3-14zm5-5zm-4-24zm-1-38zm9-33zm11-65zm14 81zm-1 96zm-4 35zm1 17zm-2 2zm-13 7zm28-60zm7-58zm-12-63zm9-45zm8 132z" fill="none" stroke="#5a9a3c" stroke-width="9.0" stroke-linecap="round"/>
<path transform="scale(.1)" d="M3631 733zm25-159zm-12 15zm-4 17zm11 1zm0 192zm27-19zm-9-209zm26-70zm-1 212zm4 122zm21 86zm-7-64zm0-23zm1-136zm-7-166zm19 50zm9 24zm3 18zm0 49zm-10 0zm10 134zm-5 38zm26 56zm-10-81zm7-46zm3-191zm-15-50zm21-262zm6 221zm4 34zm-3 47zm-11 138zm7 103zm2 3zm10 66zm-1 36zm-17 11zm22-45zm-2-5zm10-16zm-9-68zm10-44zm-5-97zm11-5zm0-11zm-17-338zm23 401zm4 118zm8 45zm15-31zm8-96zm-1-7zm1-113zm-4-48zm7-73zm14 107zm-1 84zm2 80zm-7 39zm-10 53zm23-4zm2-37zm7-67zm7-118zm-17-83zm4-1zm11-156zm2-222zm16 27zm-11 17zm8 40zm-1 14zm-3 289zm11 184zm3 129zm2-2zm1-48zm14-203zm-11-441zm12 3zm3 293zm-3 17zm3 94zm14 7zm1 114zm-9 5zm2 69zm18-87zm7-249zm-3-2zm14 103zm22 129zm5-24zm3-25zm-16-36zm-1-6zm18-7zm-16-4zm17-67z" fill="none" stroke="#9a9a9a" stroke-width="9.0" stroke-linecap="round"/>
<path transform="scale(.1)" d="M4357 575zm1-2zm-6-3zm2-4zm-3-2zm9 10zm6 3zm-6 0zm16 3zm-1 7zm-3 2zm3 1zm-6 2zm-1 2zm5 2zm-9 0zm13 2zm0 2zm0 0zm-11 1zm4 5zm5 2zm-1 2zm-2 2zm27 17zm-16-9zm4-1zm9-6zm-8-1zm1-1zm5-5zm-14-2zm5-1zm-1-5zm1-3zm-1-1zm-3 0zm30 44zm0 1zm4 2zm0 13zm2 4zm22 65zm-3 0zm0-9zm-1-5zm-7-1zm10-30zm0-2zm-11-8zm6 0zm-11-3zm10-3zm-5-8zm9-1zm-14-7zm35 22zm-9 2zm2 11zm-5 2zm12 3zm-5 1zm0 0zm-11 1zm15 3zm-10 1zm-4 1zm12 1zm4 1zm0 3zm-1 0zm-3 0zm-5 2zm-2 0zm11 0zm-18 2zm10 2zm7 1zm-13 0zm7 1zm-6 1zm14 1zm-7 0zm-8 1zm10 0zm3 3zm-5 1zm5 3zm-17 1zm9 3zm6 3zm-13 0zm11 4zm-2 0zm2 9zm17-2zm8-1zm1-1zm-3-3zm-11-3zm1-2zm5-2zm5 0zm-1 0zm-10-2zm-1 0zm0-2zm1-1zm13-2zm-14-1zm10-2zm-10-2zm13-3zm-14 0zm3 0zm1-3zm-4-2zm7-1zm-5-1zm-4-1zm13-1zm-7-1zm-3 0zm13-1zm0-1zm-14-5zm16-2zm-18-1zm1-1zm11-1zm-6 0zm-6-1zm1-3zm17 0zm-13 0zm13-1zm-17 0zm2-1zm6-6zm-1 0zm16 6zm-1 17zm7 3zm-6 3zm0 2zm-4 4zm2 0zm16 2zm-1 0zm-2 0zm-16 1zm0 8zm2 4z" fill="none" stroke="#5aa046" stroke-width="9.5" stroke-linecap="round"/>
<path transform="scale(.1)" d="M4348 570zm14 0zm2 7zm6 2zm7 3zm-13 5zm11 1zm-2 11zm5 1zm-4 0zm-7 6zm18 11zm6-7zm-6-5zm-4-11zm0-1zm-1 0zm6-7zm15 46zm17 15zm21 78zm-2-3zm-1-8zm-5-10zm5 0zm1-3zm-9-3zm-3-1zm10-3zm-5-3zm-1-14zm0-9zm4-1zm-5-2zm10-4zm-4-17zm22 30zm3 0zm-5 2zm0 0zm-11 0zm4 1zm1 1zm11 2zm-5 2zm4 7zm-6 4zm4 0zm3 0zm-9 2zm7 2zm1 1zm-9 8zm-2 1zm2 3zm3 3zm1 0zm-12 17zm30 8zm-7-9zm13-3zm1-3zm-13-3zm12-1zm-5 0zm4-5zm-4-7zm-10-2zm0-2zm5-1zm-5-1zm-1-1zm9-2zm2-1zm-10-2zm1-3zm5-1zm4-1zm0-2zm-3-4zm-7-5zm13 0zm10 0zm1 11zm5 2zm-5 2zm1 1zm0 2zm-5 1zm5 4zm0 4zm-2 4zm10 6zm-14 3zm9 8z" fill="none" stroke="#c4b832" stroke-width="9.5" stroke-linecap="round"/>
<text x="467.00" y="114.40" font-size="7.5" fill="#242424" stroke="#242424">Genotype</text>
<circle cx="470" cy="122.60" r="2.2" fill="#1f9e52"/>
<text x="475.00" y="125.30" font-size="7.5" fill="#242424" stroke="#242424">WT</text>
<circle cx="470" cy="132.10" r="2.2" fill="#fdb813"/>
<text x="475.00" y="134.80" font-size="7.5" fill="#242424" stroke="#242424">Het</text>
<circle cx="470" cy="141.60" r="2.2" fill="#d7191c"/>
<text x="475.00" y="144.30" font-size="7.5" fill="#242424" stroke="#242424">Hom</text>
<circle cx="470" cy="151.10" r="2.2" fill="#b9b9b9"/>
<text x="475.00" y="153.80" font-size="7.5" fill="#242424" stroke="#242424">Missing</text>
<path d="M68.20 132.70V208.50H162.00" fill="none" stroke="#8a8a8a" stroke-width="0.8"/>
<text x="64.30" y="138.80" font-size="7.3" text-anchor="end" fill="#333333" stroke="#333333">1.00</text>
<text x="64.30" y="156.10" font-size="7.3" text-anchor="end" fill="#333333" stroke="#333333">0.75</text>
<text x="64.30" y="173.40" font-size="7.3" text-anchor="end" fill="#333333" stroke="#333333">0.50</text>
<text x="64.30" y="190.70" font-size="7.3" text-anchor="end" fill="#333333" stroke="#333333">0.25</text>
<text x="64.30" y="208.00" font-size="7.3" text-anchor="end" fill="#333333" stroke="#333333">0.00</text>
<rect x="73.40" y="201.94" width="11.20" height="3.46" fill="#1fa24a"/>
<rect x="73.40" y="189.48" width="11.20" height="12.46" fill="#fdc010"/>
<rect x="73.40" y="142.43" width="11.20" height="47.06" fill="#d9171e"/>
<rect x="73.40" y="136.20" width="11.20" height="6.23" fill="#bcbcbc"/>
<text x="81.90" y="213.90" font-size="7.5" text-anchor="end" transform="rotate(-60 81.90 213.90)" fill="#242424" stroke="#242424">B-lymphoblasts</text>
<rect x="91.70" y="145.89" width="11.20" height="59.51" fill="#1fa24a"/>
<rect x="91.70" y="140.35" width="11.20" height="5.54" fill="#fdc010"/>
<rect x="91.70" y="138.97" width="11.20" height="1.38" fill="#d9171e"/>
<rect x="91.70" y="136.20" width="11.20" height="2.77" fill="#bcbcbc"/>
<text x="100.20" y="213.90" font-size="7.5" text-anchor="end" transform="rotate(-60 100.20 213.90)" fill="#242424" stroke="#242424">Erythroid cells</text>
<rect x="110.00" y="146.58" width="11.20" height="58.82" fill="#1fa24a"/>
<rect x="110.00" y="140.35" width="11.20" height="6.23" fill="#fdc010"/>
<rect x="110.00" y="136.20" width="11.20" height="4.15" fill="#bcbcbc"/>
<text x="118.50" y="213.90" font-size="7.5" text-anchor="end" transform="rotate(-60 118.50 213.90)" fill="#242424" stroke="#242424">NK cells</text>
<rect x="128.30" y="145.20" width="11.20" height="60.20" fill="#1fa24a"/>
<rect x="128.30" y="137.58" width="11.20" height="7.61" fill="#fdc010"/>
<rect x="128.30" y="136.20" width="11.20" height="1.38" fill="#bcbcbc"/>
<text x="136.80" y="213.90" font-size="7.5" text-anchor="end" transform="rotate(-60 136.80 213.90)" fill="#242424" stroke="#242424">T cells</text>
<rect x="146.60" y="189.48" width="11.20" height="15.92" fill="#1fa24a"/>
<rect x="146.60" y="167.34" width="11.20" height="22.14" fill="#fdc010"/>
<rect x="146.60" y="156.96" width="11.20" height="10.38" fill="#d9171e"/>
<rect x="146.60" y="136.20" width="11.20" height="20.76" fill="#bcbcbc"/>
<text x="155.10" y="213.90" font-size="7.5" text-anchor="end" transform="rotate(-60 155.10 213.90)" fill="#242424" stroke="#242424">Unspecific labeling</text>
<path d="M68.20 136.20h-2M68.20 153.50h-2M68.20 170.80h-2M68.20 188.10h-2M68.20 205.40h-2M79.00 208.50v2M97.30 208.50v2M115.60 208.50v2M133.90 208.50v2M152.20 208.50v2" stroke="#555" stroke-width="0.6" fill="none"/>
<text x="43.00" y="170.80" font-size="7.7" text-anchor="middle" transform="rotate(-90 43.00 170.80)" fill="#242424" stroke="#242424">Proportion</text>
<path d="M215.00 132.70V208.50H309.00" fill="none" stroke="#8a8a8a" stroke-width="0.8"/>
<text x="211.10" y="138.80" font-size="7.3" text-anchor="end" fill="#333333" stroke="#333333">1.00</text>
<text x="211.10" y="156.10" font-size="7.3" text-anchor="end" fill="#333333" stroke="#333333">0.75</text>
<text x="211.10" y="173.40" font-size="7.3" text-anchor="end" fill="#333333" stroke="#333333">0.50</text>
<text x="211.10" y="190.70" font-size="7.3" text-anchor="end" fill="#333333" stroke="#333333">0.25</text>
<text x="211.10" y="208.00" font-size="7.3" text-anchor="end" fill="#333333" stroke="#333333">0.00</text>
<rect x="219.80" y="146.58" width="11.30" height="58.82" fill="#1fa24a"/>
<rect x="219.80" y="136.20" width="11.30" height="10.38" fill="#bcbcbc"/>
<text x="228.35" y="213.90" font-size="7.5" text-anchor="end" transform="rotate(-60 228.35 213.90)" fill="#242424" stroke="#242424">B-lymphoblasts</text>
<rect x="238.20" y="182.56" width="11.30" height="22.84" fill="#1fa24a"/>
<rect x="238.20" y="179.10" width="11.30" height="3.46" fill="#fdc010"/>
<rect x="238.20" y="137.58" width="11.30" height="41.52" fill="#d9171e"/>
<rect x="238.20" y="136.20" width="11.30" height="1.38" fill="#bcbcbc"/>
<text x="246.75" y="213.90" font-size="7.5" text-anchor="end" transform="rotate(-60 246.75 213.90)" fill="#242424" stroke="#242424">Erythroid cells</text>
<rect x="256.60" y="156.96" width="11.30" height="48.44" fill="#1fa24a"/>
<rect x="256.60" y="141.74" width="11.30" height="15.22" fill="#d9171e"/>
<rect x="256.60" y="136.20" width="11.30" height="5.54" fill="#bcbcbc"/>
<text x="265.15" y="213.90" font-size="7.5" text-anchor="end" transform="rotate(-60 265.15 213.90)" fill="#242424" stroke="#242424">Myeloid cells</text>
<rect x="274.90" y="138.97" width="11.30" height="66.43" fill="#1fa24a"/>
<rect x="274.90" y="136.20" width="11.30" height="2.77" fill="#bcbcbc"/>
<text x="283.45" y="213.90" font-size="7.5" text-anchor="end" transform="rotate(-60 283.45 213.90)" fill="#242424" stroke="#242424">T cells</text>
<rect x="293.20" y="156.96" width="11.30" height="48.44" fill="#1fa24a"/>
<rect x="293.20" y="150.04" width="11.30" height="6.92" fill="#fdc010"/>
<rect x="293.20" y="141.04" width="11.30" height="9.00" fill="#d9171e"/>
<rect x="293.20" y="136.20" width="11.30" height="4.84" fill="#bcbcbc"/>
<text x="301.75" y="213.90" font-size="7.5" text-anchor="end" transform="rotate(-60 301.75 213.90)" fill="#242424" stroke="#242424">Unspecific labeling</text>
<path d="M215.00 136.20h-2M215.00 153.50h-2M215.00 170.80h-2M215.00 188.10h-2M215.00 205.40h-2M225.45 208.50v2M243.85 208.50v2M262.25 208.50v2M280.55 208.50v2M298.85 208.50v2" stroke="#555" stroke-width="0.6" fill="none"/>
<text x="190.30" y="170.80" font-size="7.7" text-anchor="middle" transform="rotate(-90 190.30 170.80)" fill="#242424" stroke="#242424">Proportion</text>
<path d="M361.30 132.70V208.50H457.00" fill="none" stroke="#8a8a8a" stroke-width="0.8"/>
<text x="357.40" y="138.80" font-size="7.3" text-anchor="end" fill="#333333" stroke="#333333">1.00</text>
<text x="357.40" y="156.10" font-size="7.3" text-anchor="end" fill="#333333" stroke="#333333">0.75</text>
<text x="357.40" y="173.40" font-size="7.3" text-anchor="end" fill="#333333" stroke="#333333">0.50</text>
<text x="357.40" y="190.70" font-size="7.3" text-anchor="end" fill="#333333" stroke="#333333">0.25</text>
<text x="357.40" y="208.00" font-size="7.3" text-anchor="end" fill="#333333" stroke="#333333">0.00</text>
<rect x="366.20" y="199.86" width="9.20" height="5.54" fill="#1fa24a"/>
<rect x="366.20" y="145.89" width="9.20" height="53.98" fill="#fdc010"/>
<rect x="366.20" y="137.58" width="9.20" height="8.30" fill="#d9171e"/>
<rect x="366.20" y="136.20" width="9.20" height="1.38" fill="#bcbcbc"/>
<text x="373.70" y="213.90" font-size="7.5" text-anchor="end" transform="rotate(-60 373.70 213.90)" fill="#242424" stroke="#242424">B-lymphoblasts</text>
<rect x="381.60" y="200.56" width="9.20" height="4.84" fill="#1fa24a"/>
<rect x="381.60" y="143.81" width="9.20" height="56.74" fill="#fdc010"/>
<rect x="381.60" y="138.28" width="9.20" height="5.54" fill="#d9171e"/>
<rect x="381.60" y="136.20" width="9.20" height="2.08" fill="#bcbcbc"/>
<text x="389.10" y="213.90" font-size="7.5" text-anchor="end" transform="rotate(-60 389.10 213.90)" fill="#242424" stroke="#242424">Erythroid cells</text>
<rect x="397.00" y="195.71" width="9.20" height="9.69" fill="#1fa24a"/>
<rect x="397.00" y="143.12" width="9.20" height="52.59" fill="#fdc010"/>
<rect x="397.00" y="136.89" width="9.20" height="6.23" fill="#d9171e"/>
<rect x="397.00" y="136.20" width="9.20" height="0.69" fill="#bcbcbc"/>
<text x="404.50" y="213.90" font-size="7.5" text-anchor="end" transform="rotate(-60 404.50 213.90)" fill="#242424" stroke="#242424">Myeloid cells</text>
<rect x="412.40" y="172.18" width="9.20" height="33.22" fill="#1fa24a"/>
<rect x="412.40" y="147.27" width="9.20" height="24.91" fill="#fdc010"/>
<rect x="412.40" y="140.35" width="9.20" height="6.92" fill="#d9171e"/>
<rect x="412.40" y="136.20" width="9.20" height="4.15" fill="#bcbcbc"/>
<text x="419.90" y="213.90" font-size="7.5" text-anchor="end" transform="rotate(-60 419.90 213.90)" fill="#242424" stroke="#242424">T cell CD4<tspan font-size="5" dy="-2.5">+</tspan></text>
<rect x="427.80" y="168.72" width="9.20" height="36.68" fill="#1fa24a"/>
<rect x="427.80" y="141.74" width="9.20" height="26.99" fill="#fdc010"/>
<rect x="427.80" y="138.97" width="9.20" height="2.77" fill="#d9171e"/>
<rect x="427.80" y="136.20" width="9.20" height="2.77" fill="#bcbcbc"/>
<text x="435.30" y="213.90" font-size="7.5" text-anchor="end" transform="rotate(-60 435.30 213.90)" fill="#242424" stroke="#242424">T cell CD8<tspan font-size="5" dy="-2.5">+</tspan></text>
<rect x="443.20" y="197.79" width="9.20" height="7.61" fill="#1fa24a"/>
<rect x="443.20" y="147.27" width="9.20" height="50.52" fill="#fdc010"/>
<rect x="443.20" y="138.28" width="9.20" height="9.00" fill="#d9171e"/>
<rect x="443.20" y="136.20" width="9.20" height="2.08" fill="#bcbcbc"/>
<text x="450.70" y="213.90" font-size="7.5" text-anchor="end" transform="rotate(-60 450.70 213.90)" fill="#242424" stroke="#242424">Unspecific labeling</text>
<path d="M361.30 136.20h-2M361.30 153.50h-2M361.30 170.80h-2M361.30 188.10h-2M361.30 205.40h-2M370.80 208.50v2M386.20 208.50v2M401.60 208.50v2M417.00 208.50v2M432.40 208.50v2M447.80 208.50v2" stroke="#555" stroke-width="0.6" fill="none"/>
<text x="336.00" y="170.80" font-size="7.7" text-anchor="middle" transform="rotate(-90 336.00 170.80)" fill="#242424" stroke="#242424">Proportion</text>
<text x="0.70" y="290.70" font-size="10.3" font-weight="bold" fill="#111" stroke="#111">B</text>
<text x="21.00" y="305.80" font-size="7.5" fill="#242424" stroke="#242424">EI_035</text>
<text x="450.40" y="280.70" font-size="7.5" fill="#242424" stroke="#242424">LOH detection</text>
<circle cx="453.7" cy="289.00" r="1.85" fill="#1a9e48"/>
<text x="459.80" y="291.60" font-size="7.5" fill="#242424" stroke="#242424">Ref/alt = no LOH</text>
<circle cx="453.7" cy="297.50" r="1.85" fill="#43206a"/>
<text x="459.80" y="300.10" font-size="7.5" fill="#242424" stroke="#242424">Ref only = LOH</text>
<circle cx="453.7" cy="306.00" r="1.85" fill="#7d1245"/>
<text x="459.80" y="308.60" font-size="7.5" fill="#242424" stroke="#242424">Alt only = LOH</text>
<text x="21.10" y="314.60" font-size="7.5" fill="#242424" stroke="#242424">chr17p</text>
<rect x="20.30" y="318.00" width="103.60" height="98.80" fill="#fff" stroke="#8c8c8c" stroke-width="0.48"/>
<text x="26.80" y="426.10" font-size="7.5" text-anchor="middle" fill="#333333" stroke="#333333">−5</text>
<text x="50.30" y="426.10" font-size="7.5" text-anchor="middle" fill="#333333" stroke="#333333">0</text>
<text x="73.80" y="426.10" font-size="7.5" text-anchor="middle" fill="#333333" stroke="#333333">5</text>
<text x="97.30" y="426.10" font-size="7.5" text-anchor="middle" fill="#333333" stroke="#333333">10</text>
<text x="120.80" y="426.10" font-size="7.5" text-anchor="middle" fill="#333333" stroke="#333333">15</text>
<text x="17.10" y="343.60" font-size="7.5" text-anchor="end" fill="#333333" stroke="#333333">5</text>
<text x="17.10" y="378.90" font-size="7.5" text-anchor="end" fill="#333333" stroke="#333333">0</text>
<text x="17.10" y="414.20" font-size="7.5" text-anchor="end" fill="#333333" stroke="#333333">−5</text>
<path d="M26.80 416.80v2M50.30 416.80v2M73.80 416.80v2M97.30 416.80v2M120.80 416.80v2M20.30 340.90h-2M20.30 376.20h-2M20.30 411.50h-2" stroke="#555" stroke-width="0.6" fill="none"/>
<text x="74.10" y="435.10" font-size="7.5" text-anchor="middle" fill="#242424" stroke="#242424">UMAP_1</text>
<text x="7.00" y="370.90" font-size="7.5" text-anchor="middle" transform="rotate(-90 7.00 370.90)" fill="#242424" stroke="#242424">UMAP_2</text>
<path transform="scale(.1)" d="M256 3741zm0 0zm3 5zm-2 14zm-1 16zm-2 19zm5 3zm-3 21zm2 19zm0 4zm1 13zm19 78zm0-4zm-5-3zm1-10zm1-3zm-5-20zm-5-1zm13-3zm0-2zm-5-1zm-9-3zm-4-17zm8 0zm-5-4zm13-4zm-7-8zm-3-1zm6-8zm0-2zm-6-2zm-3-3zm11-5zm-14-3zm15 0zm-11-3zm5-4zm10-1zm-10-1zm5-2zm-12-1zm4 0zm-1-4zm-3-7zm14-3zm-2-1zm-8-1zm2 0zm-4-3zm-1 0zm11-5zm-14-1zm2-1zm0-1zm8-1zm0 0zm2-2zm-3-6zm-5-1zm15-11zm-4-1zm-13-2zm4-2zm13-11zm-10-2zm-6-12zm-1-2zm5-2zm-3-1zm-3-6zm16-9zm-3-3zm-4-10zm4-1zm-3-13zm8-3zm-2-3zm15-29zm7 5zm-8 1zm2 1zm-9 4zm2 0zm6 3zm7 0zm-10 2zm2 2zm-2 3zm-4 3zm4 2zm10 0zm-2 1zm1 9zm-4 5zm3 1zm-9 7zm-6 1zm2 5zm4 0zm11 3zm-1 1zm-3 3zm-14 1zm-1 1zm7 0zm-5 4zm17 0zm-18 2zm15 3zm-7 1zm-1 2zm-7 2zm17 0zm-10 2zm2 3zm-5 3zm-2 0zm-3 2zm6 0zm12 2zm-2 0zm-4 1zm-3 9zm-6 3zm7 3zm1 0zm4 5zm1 0zm-1 4zm2 9zm-17 1zm16 0zm-6 8zm6 2zm-9 3zm9 0zm-13 2zm7 3zm4 2zm-9 0zm8 2zm-6 1zm9 1zm-7 1zm6 0zm-4 1zm-9 2zm7 1zm0 2zm-8 2zm12 1zm4 8zm2 1zm-2 0zm-6 0zm3 1zm-13 3zm5 0zm0 3zm2 1zm-7 1zm16 1zm-17 1zm5 1zm5 1zm-1 0zm6 1zm-10 1zm7 1zm-5 5zm3 0zm-10 1zm11 4zm8 7zm-14 1zm7 8zm-2 5zm9 0zm-1 3zm1 1zm-5 14zm1 2zm-12 3zm4 1zm11 5zm-7 5zm0 1zm0 5zm-10 4zm17 7zm-7 1zm5 5zm-16 1zm2 0zm12 4zm-8 1zm10 2zm2 5zm0 5zm1 3zm-6 1zm3 12zm-2 0zm-3 3zm-2 2zm9 7zm-4 1zm22 44zm3-2zm0-5zm-10-8zm3 0zm3-2zm1-10zm-14-7zm13-2zm-12-11zm8-2zm3-4zm-14-8zm2-2zm-2 0zm18-2zm-11-4zm-6-1zm-1 0zm14-1zm-4-1zm7-4zm-16-3zm6-7zm11-2zm-11 0zm6-6zm-13-3zm19 0zm-10-2zm3-14zm1-3zm-13-1zm17-3zm-11-2zm-3-2zm12 0zm-4-6zm8-4zm-19-1zm13-9zm-9-7zm-4-6zm16 0zm-16-5zm15-6zm-15-3zm14-2zm-11-1zm15-2zm-9-4zm-6-4zm7-10zm8-3zm-11-8zm11-1zm-4-3zm1-3zm4-1zm-12-3zm5-2zm0-5zm-7 0zm5 0zm-9-1zm16-2zm-14-3zm5-1zm2-1zm-5-6zm13-3zm-2-4zm-16-2zm6-4zm-1 0zm3-1zm5 0zm-8 0zm9-2zm-10-2zm4-2zm4-5zm-6-1zm3 0zm8 0zm-7-5zm3-2zm-13-1zm11 0zm7-3zm-12-7zm5-7zm1-4zm7 0zm-8-2zm-9-5zm13-2zm4-1zm-1 0zm0 0zm-14-2zm-2-11zm13-3zm-7-4zm-3-4zm10 0zm-6-1zm10-1zm-18-1zm12-4zm-10-3zm6-1zm-2 0zm7-3zm1-7zm-13-9zm5 0zm-5-3zm13-1zm-7-1zm-7-9zm1-1zm12-1zm-3-1zm-2-3zm0-2zm-6-6zm2-5zm9-1zm-8-3zm10 0zm20-26zm-12 6zm6 2zm-4 1zm7 2zm-13 2zm16 3zm-7 3zm-4 0zm-5 2zm14 0zm2 1zm-7 1zm-6 1zm3 6zm0 5zm0 0zm-6 1zm10 0zm5 3zm-5 4zm-9 1zm3 0zm15 1zm-1 0zm-14 4zm-3 0zm1 2zm8 3zm-8 1zm1 6zm1 1zm11 1zm-7 2zm7 1zm2 1zm-17 2zm10 6zm7 1zm-16 2zm2 9zm13 1zm-4 2zm2 0zm-6 5zm-2 1zm-5 2zm16 0zm-5 1zm-9 7zm6 0zm-3 4zm-3 5zm2 6zm6 2zm7 4zm1 1zm-13 9zm6 6zm-9 5zm6 2zm-7 8zm9 1zm-11 0zm11 2zm-3 1zm-7 3zm4 0zm13 2zm-15 5zm6 5zm-5 7zm2 1zm11 2zm-7 1zm1 1zm8 0zm-8 1zm-4 0zm4 0zm-6 2zm4 3zm1 2zm-9 1zm13 0zm-14 3zm4 2zm-4 4zm15 2zm-2 1zm-2 0zm1 3zm6 1zm-3 2zm-13 4zm6 1zm-4 1zm-3 1zm3 3zm11 1zm-14 2zm14 2zm-15 2zm5 5zm6 3zm1 2zm3 2zm-5 3zm-5 3zm14 5zm-2 3zm-6 0zm7 2zm-9 7zm-5 0zm13 2zm2 5zm-11 3zm1 1zm3 1zm-1 1zm-11 4zm14 4zm0 9zm0 9zm5 2zm-11 1zm11 2zm-18 3zm-1 7zm13 2zm-7 2zm1 1zm4 2zm-2 7zm9 4zm-15 6zm5 1zm10 5zm-6 2zm7 1zm-3 2zm2 1zm-7 1zm-9 0zm5 1zm3 2zm9 1zm-14 1zm11 2zm-9 7zm7 4zm-3 1zm-2 0zm5 0zm1 1zm-12 3zm14 5zm-9 5zm7 1zm1 1zm-16 6zm17 4zm-10 1zm-6 4zm4 1zm12 0zm2 3zm-12 6zm10 1zm-3 2zm0 4zm-14 4zm12 2zm-4 1zm1 0zm2 0zm6 7zm1 1zm-4 3zm23 20zm2-6zm-18-2zm9-1zm-4-2zm12-1zm-12-2zm6-2zm-5-3zm9-7zm1-2zm0-6zm-6-3zm-4-2zm3-8zm-8-1zm6-1zm0-1zm-6-1zm15-7zm-1-8zm-3-5zm-2-2zm-5 0zm5-9zm-11-3zm19-11zm-16-7zm16-5zm-3-10zm-13-5zm6-5zm-3-9zm3-2zm-9-4zm19-6zm-15-1zm9 0zm-13-4zm3-4zm8-2zm-4-1zm-1 0zm11-3zm0-5zm-9-5zm11-1zm-3-3zm-1 0zm-7-3zm6-1zm-13-1zm11-7zm3 0zm3-3zm0-1zm-17-2zm-1-2zm9-5zm0-1zm4-3zm-6-6zm-2-1zm-3-2zm10-2zm-3-3zm-6 0zm4-5zm-4-2zm3-8zm2-2zm-1-2zm-5-1zm4-5zm0-3zm1-1zm-3-1zm9-5zm-1 0zm6-2zm-16-5zm1 0zm12-9zm1-10zm-5 0zm-11-1zm12-2zm-6-9zm10-6zm-14-1zm9-1zm-2-5zm9-4zm-4-6zm2 0zm3-2zm-2-1zm-2-5zm-7-1zm-5 0zm13-7zm-16-8zm9-11zm-8-1zm10-6zm-1-6zm-10-5zm13 0zm-13-3zm6-1zm4 0zm-2-3zm5-6zm-2 0zm3-1zm-3 0zm-7-1zm13-8zm-8-3zm-5-10zm8-2zm4-6zm-16-3zm3-5zm10-1zm-13-3zm6-2zm10-4zm-7-4zm-2-4zm0-3zm-2-1zm5-3zm-4-3zm-1-4zm-4-2zm9-2zm7-3zm-6-3zm5-2zm-7-7zm8-3zm-5-1zm1-2zm-4-2zm22-12zm-2 5zm-9 5zm16 1zm-9 2zm-4 4zm5 1zm4 2zm-10 0zm11 13zm-9 0zm-2 1zm15 1zm-2 2zm-2 2zm3 1zm-8 2zm10 1zm-17 2zm17 4zm-8 1zm-4 3zm10 12zm-3 1zm-12 0zm-1 1zm3 4zm9 0zm-2 1zm0 2zm3 1zm2 3zm-4 2zm-3 2zm6 1zm1 0zm-15 4zm12 6zm5 1zm-12 1zm6 5zm-6 1zm5 2zm2 5zm-6 1zm-4 6zm-1 0zm13 2zm-5 2zm-6 4zm14 1zm-16 2zm16 3zm-5 1zm6 1zm-9 0zm5 5zm3 6zm-3 1zm-2 2zm-11 4zm17 3zm-17 3zm6 2zm4 3zm6 3zm-7 1zm-5 2zm9 2zm-7 4zm12 3zm-16 4zm13 1zm-10 0zm9 6zm-12 1zm6 4zm4 4zm6 2zm-1 5zm-7 1zm-7 1zm11 4zm-3 8zm-12 2zm8 1zm-1 3zm-1 6zm3 5zm9 1zm-5 1zm-11 3zm11 0zm1 1zm-14 6zm11 3zm-11 2zm0 0zm2 0zm6 1zm4 3zm-7 2zm8 3zm-7 1zm-5 0zm16 0zm-10 2zm6 4zm-5 1zm7 3zm-3 0zm4 16zm-7 3zm6 2zm-9 1zm10 4zm-8 2zm-1 1zm3 0zm-1 1zm-4 0zm2 2zm0 1zm6 3zm1 1zm-12 1zm8 6zm6 2zm-10 3zm9 1zm-3 1zm-11 1zm16 6zm-6 5zm-4 8zm3 1zm-3 13zm0 0zm-4 2zm11 0zm-4 0zm-9 2zm13 4zm0 3zm-2 12zm-5 0zm-2 0zm13 5zm-6 2zm6 2zm-2 4zm-13 0zm11 7zm-13 11zm3 4zm11 3zm-15 1zm18 1zm-14 0zm14 1zm-2 9zm-11 1zm3 4zm5 1zm-9 9zm12 2zm3 2zm-8 4zm-1 1zm-8 0zm3 0zm-5 5zm17 0zm-9 5zm4 5zm-7 2zm4 0zm0 2zm-6 4zm6 2zm7 4zm-3 1zm-12 0zm3 1zm-1 0zm5 2zm0 3zm7 5zm-11 3zm13 1zm-3 2zm2 2zm-4 3zm4 5zm2 4zm-10 0zm22 18zm-7-2zm3-1zm9 0zm3-4zm0-1zm-17-2zm9-1zm-3-7zm10-1zm-13-1zm-4-6zm5-2zm-5-4zm10 0zm9-3zm-3-1zm1-3zm-3-4zm-9-11zm5-3zm0-1zm8-7zm-15-2zm12-9zm-12-7zm3-9zm5 0zm2-7zm6-1zm-16-7zm13 0zm-3-5zm-9-2zm9-1zm-3-3zm1-1zm-5 0zm-6-2zm14-1zm2-4zm-11-4zm13-2zm-18-2zm0-3zm17-1zm-16-2zm13-3zm-8-9zm5-2zm-11 0zm6 0zm6-7zm2-1zm1-2zm-3-1zm-5-4zm0-1zm10-2zm-5-8zm6-4zm-8-3zm5-1zm-3-1zm3-3zm4-1zm-9-1zm-5-1zm-3-1zm-2-2zm19-1zm-9-4zm-2-2zm6-2zm-1-3zm-10 0zm0-2zm2-1zm8-1zm0-1zm-3-3zm8-3zm0-4zm-1-8zm0-4zm-17-1zm16-1zm-14-5zm7-1zm1-3zm-5-1zm10-14zm-14-5zm7-3zm-6-1zm-1-1zm1-1zm2 0zm-3-1zm-1 0zm16-8zm-13 0zm16-12zm-19-1zm16-1zm3-5zm-19-1zm12-2zm5-9zm-11-1zm0 0zm1-4zm7-2zm-7-1zm2-4zm-6-3zm5-4zm9-1zm-11-1zm6-2zm-2-1zm3-4zm-12-3zm4-6zm13-9zm-4 0zm1 0zm-10-9zm-1-5zm0-3zm14-2zm-3-2zm-13-4zm10-1zm2-4zm-11-2zm13-7zm-2 0zm2-4zm-16 0zm3-2zm12-3zm-9 0zm8 0zm-3-1zm8-3zm-6-5zm2-3zm-11-2zm14 0zm-18-6zm16 0zm-12-2zm12-5zm-8-1zm-8-1zm12-2zm-11-1zm7-4zm10-7zm-4 0zm-10-4zm15-4zm-12-1zm8-2zm3-8zm1-6zm-3-1zm-6-1zm1-1zm-1 0zm9-8zm-1-1zm-2 0zm-9-2zm6 0zm6-2zm-9-5zm-4-2zm9-2zm2 0zm-15-10zm6-2zm4 0zm-12-1zm16-1zm-13-1zm2-3zm11-5zm-6-4zm-1-4zm0-1zm7-2zm-1-1zm0-159zm-4-7zm4 0zm-6-4zm1-1zm5-1zm-3-2zm-6-3zm10-2zm2 0zm-2-1zm-9 0zm8-1zm-10-1zm12 0zm-13-1zm13-2zm0-5zm-5 0zm4-4zm-9 0zm10-1zm-2-2zm2-2zm-6 0zm6-11zm1-3zm8-1zm-6 13zm16 1zm-11 4zm-3 1zm10 0zm2 1zm-3 1zm0 2zm8 1zm-10 0zm10 2zm-13 1zm-5 2zm1 2zm0 4zm10 0zm7 1zm-7 0zm-2 1zm4 0zm-12 0zm7 2zm-2 0zm-6 2zm15 1zm-11 3zm11 1zm-14 1zm12 1zm-13 4zm0 1zm12 1zm-8 7zm-1 6zm-1 3zm1 0zm1 4zm-1 5zm-3 2zm1 4zm-1 0zm-1 2zm0 1zm3 3zm1 3zm-2 1zm2 7zm-1 5zm0 17zm2 4zm0 3zm-4 5zm3 5zm-1 1zm0 2zm0 6zm-1 3zm3 3zm-2 13zm1 4zm-1 0zm3 8zm-1 11zm0 5zm0 0zm-3 1zm0 0zm6 20zm5 7zm-10 0zm13 0zm0 1zm1 7zm-13 2zm2 1zm10 1zm-10 1zm2 0zm8 3zm-2 0zm-9 7zm4 3zm9 2zm-14 1zm7 3zm-4 1zm1 6zm10 6zm-18 3zm6 0zm6 5zm-3 2zm-6 9zm12 3zm-12 2zm-1 0zm11 1zm3 9zm-15 1zm2 2zm2 0zm13 1zm-12 0zm6 8zm-7 5zm5 2zm9 1zm-8 3zm-8 6zm10 3zm-11 4zm7 0zm-7 4zm5 1zm-3 3zm6 1zm4 2zm-6 5zm0 1zm0 0zm7 3zm0 1zm0 0zm-5 1zm-6 9zm2 0zm-5 5zm16 3zm-11 3zm10 1zm0 2zm0 4zm-2 2zm3 0zm-4 8zm-2 2zm-11 5zm14 1zm-12 5zm0 2zm12 0zm-6 0zm-4 1zm15 4zm-2 12zm-13 1zm14 2zm-1 3zm-2 1zm-9 3zm6 1zm6 4zm1 0zm-18 3zm2 4zm16 7zm-16 3zm4 5zm-6 4zm13 1zm-2 5zm-1 1zm-10 3zm18 8zm-4 1zm-4 4zm-4 8zm7 2zm-2 9zm3 0zm-6 1zm-8 1zm10 1zm8 6zm-2 1zm-7 2zm6 1zm-2 6zm2 0zm0 5zm-7 2zm2 3zm8 5zm-9 3zm-1 2zm-1 2zm7 0zm3 6zm-1 1zm2 5zm-13 0zm5 1zm4 2zm-14 1zm15 2zm-11 5zm13 5zm-6 3zm1 3zm1 5zm-5 0zm9 2zm-11 0zm-2 3zm11 1zm-8 3zm1 4zm-3 0zm5 1zm1 2zm3 3zm0 2zm-13 7zm-2 3zm2 3zm6 10zm0 2zm-2 10zm9 0zm1 2zm0 2zm-6 0zm4 1zm-1 0zm-4 5zm-5 1zm3 4zm0 2zm10 1zm-5 3zm1 6zm5 4zm-5 9zm-3 1zm6 2zm-6 1zm1 5zm-4 0zm6 8zm5 0zm-5 5zm-8 0zm1 6zm13 2zm-11 2zm-1 1zm-7 5zm7 4zm9 1zm-5 17zm-10 6zm8 4zm-5 5zm29 11zm0-5zm-4-4zm-7-5zm8-3zm-4 0zm8-9zm-7 0zm5-7zm-3-1zm-7-2zm12-1zm-5 0zm2-1zm-8-1zm2-2zm12-1zm-15-3zm8-5zm-1 0zm7-5zm3-1zm-12-3zm-7-1zm13-4zm-12-1zm3 0zm6-3zm6-3zm-11-1zm2-1zm12 0zm-1-7zm-8-3zm-2-1zm-2-1zm5-1zm-4-2zm-3-2zm3 0zm-7-7zm11-1zm-6 0zm-4-1zm10-1zm-9-3zm16 0zm-5-3zm-7-3zm5-2zm5-4zm-12 0zm-3-1zm8-3zm-3-3zm7-2zm3-8zm-8-2zm-7-2zm7-8zm5-1zm4-2zm-1-5zm-2-11zm-11 0zm1-1zm14-6zm-6-6zm-6-5zm-1-3zm2-4zm-6-1zm11-1zm6-4zm-11 0zm-5-1zm3-8zm-5-1zm9-4zm2-3zm-8-6zm15-3zm-1 0zm-16 0zm6-1zm-1-4zm7-4zm-5-2zm-5-1zm-1-1zm5-5zm-1-9zm3-1zm4-4zm3-1zm2-7zm-16 0zm-2 0zm0-6zm1-1zm5 0zm9-4zm-11 0zm13-3zm-3-7zm-13 0zm18 0zm-6-5zm-12-5zm14-1zm-11-1zm10-3zm-8-1zm6-2zm4-3zm2-3zm-6-3zm3-1zm2-3zm-8-12zm5-1zm3 0zm-3-1zm0-1zm-14 0zm18-3zm-3-3zm-7-8zm9-7zm-14 0zm9-5zm2-5zm-1-2zm5-1zm-10 0zm4-3zm-6-2zm0-2zm2-1zm2-9zm-3-10zm4-8zm-6-2zm2 0zm-7-1zm14 0zm-7-3zm7-1zm1-1zm-3-2zm4-1zm-12-2zm-1-6zm9-1zm-6-1zm-6-4zm17-5zm-8-3zm-6-2zm7 0zm-2-6zm7-6zm2-2zm-7-2zm8-3zm-4 0zm5-3zm-19-3zm5-2zm-5-4zm18-1zm-10 0zm5-1zm-5 0zm9 0zm-13-5zm-1-2zm4-1zm9-3zm-4-6zm-7 0zm9-1zm-9-1zm14-1zm-9 0zm0-2zm8-2zm-1-2zm-8-1zm-9-5zm7-2zm5 0zm2-4zm-12-1zm12 0zm-5-5zm-4-2zm-5-4zm12-2zm7-6zm-3-7zm-7-3zm9-2zm1-2zm-15-2zm-4-3zm19-1zm-1-1zm-14-2zm-4-1zm0-3zm6-183zm-5-1zm0-2zm3-5zm-3-3zm-1-8zm2-2zm-1-1zm1-13zm18 33zm18 1zm-3 6zm-15 0zm12 112zm2 1zm-2 0zm-4 1zm-5 2zm3 10zm-2 47zm1 2zm-2 3zm9 4zm7 4zm-15 1zm-2 1zm16 9zm-4 5zm0 1zm1 0zm1 0zm2 1zm-16 5zm5 3zm10 0zm-8 6zm6 7zm-2 1zm2 4zm-9 3zm5 1zm3 6zm-6 1zm-1 9zm9 1zm0 7zm-9 2zm1 5zm-3 1zm11 3zm-14 2zm0 13zm12 4zm-2 3zm-9 1zm-3 0zm10 6zm0 1zm7 3zm-2 0zm-7 1zm8 0zm-8 1zm6 6zm-1 4zm1 3zm2 0zm-9 3zm8 2zm-6 2zm6 5zm-11 2zm6 1zm1 5zm2 1zm2 1zm2 2zm0 9zm-9 2zm-1 1zm4 2zm-3 3zm6 2zm-12 0zm12 2zm1 6zm0 0zm-11 2zm0 2zm-4 1zm17 2zm1 1zm-1 4zm-16 4zm9 6zm-9 0zm1 3zm13 1zm-6 2zm-6 1zm-3 1zm13 18zm-12 1zm16 1zm-14 0zm9 0zm7 3zm-5 5zm-6 3zm5 13zm-3 3zm-10 1zm0 0zm9 0zm1 1zm-5 0zm8 3zm2 3zm1 2zm0 0zm-1 4zm-10 3zm-5 0zm8 2zm11 4zm-8 0zm1 2zm-10 1zm-1 6zm2 2zm-2 21zm6 1zm2 3zm0 3zm10 2zm-18 1zm6 3zm3 2zm-6 3zm-2 1zm-1 0zm4 1zm1 8zm-2 1zm15 0zm-18 2zm0 2zm2 1zm5 7zm9 2zm-17 3zm14 1zm4 1zm-16 4zm13 1zm-4 4zm1 0zm-9 2zm4 3zm10 0zm-4 6zm2 1zm1 4zm-5 1zm3 2zm1 1zm-11 0zm-3 2zm6 2zm3 0zm-1 1zm9 0zm-10 7zm-5 0zm8 1zm7 3zm-10 5zm5 1zm-12 8zm9 2zm9 3zm-4 1zm3 1zm-4 1zm2 2zm-14 0zm5 5zm-5 2zm2 5zm12 3zm-12 0zm6 1zm0 2zm-10 3zm6 4zm2 0zm0 4zm-8 1zm12 0zm2 0zm1 5zm-2 4zm-1 4zm7 2zm-6 0zm1 4zm-8 4zm5 1zm-11 8zm13 0zm-7 1zm12 9zm-17 0zm10 2zm5 0zm-12 5zm12 4zm-16 0zm12 3zm4 3zm-16 0zm15 1zm3 2zm-17 0zm6 0zm0 2zm12 5zm-15 3zm11 0zm-5 4zm-7 5zm-2 4zm19-8zm1-1zm10-15zm-5-3zm6 0zm2-1zm-6-9zm5-3zm-1-3zm-11-2zm2 0zm-2-2zm6-1zm2-2zm10-1zm-9-8zm-10-2zm15 0zm-11-11zm3-1zm1-1zm4-6zm-6 0zm-5-3zm13 0zm1-1zm1-3zm-10-4zm13-1zm-5-1zm-11-3zm14-5zm2-2zm-14-2zm7-12zm5-2zm-3 0zm-4-2zm-7-2zm3-1zm11 0zm-5-3zm4 0zm-7-1zm10-1zm-6-1zm4-5zm-14-1zm-2-4zm-1 0zm16-7zm1-2zm-5-5zm-9-4zm9 0zm-12-9zm3-1zm11-10zm-2-2zm-8-1zm-3-2zm11 0zm6-4zm-3-13zm3 0zm-14-4zm6-4zm8 0zm0-7zm-7 0zm-3-4zm10-5zm-13-1zm10-4zm-14-3zm0-3zm13 0zm-1-4zm-11-5zm16 0zm-11-1zm6 0zm-13-2zm5-2zm3-2zm0-5zm-4 0zm14-4zm-13-12zm3-1zm9-1zm-6 0zm-6 0zm0-2zm6-4zm-1-2zm3 0zm-8-1zm10-4zm-14-2zm9-1zm-3-1zm0-4zm-7-4zm7-3zm8-4zm-6-4zm6-6zm-8 0zm3-8zm-6-2zm11-1zm-3-4zm-5-7zm10-4zm0 0zm-12-1zm0-10zm1-8zm12-15zm-2 0zm0 0zm1-3zm-16-4zm13-2zm-11-1zm14-1zm-16 0zm10-6zm-9-2zm16 0zm-14-5zm8-5zm-2-3zm3-1zm-7 0zm5-3zm-1-15zm4 0zm-13-2zm2 0zm1 0zm-1-7zm3-1zm5-7zm-8-2zm8-2zm-9-7zm3-5zm12-6zm1-4zm1-1zm-15-1zm5-4zm9-2zm-17-2zm13-2zm0-1zm-11-1zm12-1zm-1-4zm-1-1zm3-1zm-16-2zm5-3zm0-2zm-4-1zm4-3zm8 0zm-8 0zm6-8zm-1 0zm4-2zm4-16zm-16 0zm15-5zm-6-4zm-5 0zm13-5zm-15-5zm5-1zm-6-2zm2-4zm5 0zm7-166zm0-3zm-14-7zm-2-2zm3-3zm27 5zm-5 3zm-6 0zm17 0zm-10 4zm11 8zm1 168zm-7 2zm-1 5zm4 6zm3 10zm-12 2zm6 6zm-9 1zm5 8zm4 1zm-10 3zm15 7zm-5 1zm-9 6zm9 7zm-11 1zm5 7zm10 5zm-6 2zm-7 0zm-2 2zm2 4zm6 0zm6 3zm-15 1zm18 3zm-16 0zm10 3zm-4 8zm2 1zm-1 10zm-7 1zm9 2zm4 12zm-1 0zm-14 1zm10 0zm7 4zm0 1zm-7 2zm5 4zm-11 1zm0 3zm-3 0zm7 2zm5 1zm-8 6zm-3 0zm2 6zm3 4zm7 7zm1 3zm-4 0zm7 2zm-14 3zm11 1zm-12 2zm0 1zm13 3zm0 1zm-6 1zm-5 0zm-1 2zm0 2zm1 4zm12 2zm1 3zm-7 2zm-9 1zm-1 2zm16 5zm-11 5zm-5 3zm14 2zm-2 2zm0 8zm1 5zm1 2zm-13 2zm15 4zm1 6zm-2 1zm-5 5zm8 2zm-12 1zm7 1zm-14 4zm6 2zm-6 0zm12 7zm-7 0zm-1 3zm0 3zm5 2zm1 3zm-6 0zm12 2zm1 1zm-17 0zm11 1zm3 0zm1 4zm0 4zm3 1zm0 2zm-9 3zm-6 0zm5 1zm1 8zm-9 5zm11 3zm6 0zm-14 3zm-2 1zm3 2zm-1 7zm11 4zm-3 2zm-10 1zm12 1zm-4 1zm4 8zm0 4zm5 2zm1 2zm-11 3zm-6 0zm6 0zm2 2zm0 2zm3 5zm-9 4zm-3 2zm7 1zm0 0zm-4 5zm2 6zm7 5zm-10 6zm-2 3zm7 3zm-8 1zm9 2zm10 3zm-15 1zm5 1zm6 3zm-8 5zm8 2zm-5 2zm8 0zm-3 1zm-13 1zm7 0zm3 3zm-9 4zm11 4zm3 1zm-16 4zm1 1zm14 0zm-15 2zm10 0zm-1 3zm-6 2zm-1 3zm11 1zm-2 5zm6 2zm-13 1zm11 0zm-3 1zm-5 3zm-3 4zm-5 4zm19 2zm-4 0zm-14 0zm1 2zm6 3zm2 2zm1 1zm7 4zm-11 10zm10 1zm-5 2zm-1 9zm-11 13zm28-40zm-4-1zm-3-4zm8-8zm-5-5zm4-2zm1-3zm-5 0zm14-5zm-17-4zm18-1zm-5-4zm-1-1zm0-3zm-2 0zm5-1zm-14-1zm3-1zm11-1zm-15-3zm3-8zm-4-9zm8-4zm2-1zm4-4zm-13-2zm9 0zm5-1zm1-8zm0 0zm-9-1zm11-2zm-9-1zm0-3zm1-1zm9-5zm-11-6zm-1-4zm3 0zm6-2zm-6-5zm-10-2zm15 0zm2-3zm-11-1zm0-4zm7-1zm0 0zm-3-3zm6 0zm-9-5zm0-2zm-2-1zm14 0zm-6-3zm-3-1zm-7-8zm5-1zm2-14zm-9-5zm7-4zm-8-5zm15-1zm-3-2zm-7-2zm14-4zm-5-2zm2-2zm-7-2zm2-3zm-11-6zm15-1zm4-15zm0-2zm-12 0zm-7 0zm17-1zm-14-11zm5-2zm-6-5zm15-2zm-15-6zm6-5zm6-1zm-2 0zm2-4zm-8-2zm-6-1zm7-3zm-4-2zm4-1zm0-2zm-2-2zm4-1zm-3-3zm3-8zm4-4zm-8-1zm14-1zm-8-3zm4 0zm-4-3zm4-10zm-2-1zm2-12zm4-3zm-16 0zm12-7zm-11-6zm-3-1zm7-3zm0-1zm-4-2zm13-6zm-16-4zm15-5zm-3-4zm-7-3zm-2-7zm12-10zm-16-5zm8-1zm4-4zm-2-2zm-7-5zm1-3zm3-8zm-4-5zm14-2zm-2-1zm-6-4zm7-2zm-6-2zm8-1zm-3-2zm4-2zm-4 0zm1-1zm-1-6zm-1-2zm-9-6zm-2-3zm9-16zm-3-8zm-4 0zm3 0zm7-5zm-1 0zm4-2zm-7-6zm8-4zm-12 0zm-2-66zm12-29zm-5-42zm5-4zm-11-12zm-2-1zm1-6zm5 0zm9-2zm-2-2zm-6-1zm-5-2zm4-3zm-7-3zm14-1zm2-1zm-9 0zm-4 0zm-5-1zm10 0zm-8 0zm6 0zm-3-6zm8-10zm2-107zm-2-7zm2-4zm-2-2zm4-18zm1-7zm20-4zm-5 1zm2 1zm-1 2zm-5 1zm0 6zm9 1zm-13 0zm12 0zm-4 0zm-9 1zm7 0zm-6 2zm9 1zm-3 1zm5 2zm-12 2zm8 0zm1 0zm-2 2zm4 0zm1 1zm-12 2zm9 1zm-2 3zm-7 3zm-4 0zm5 2zm5 3zm0 1zm0 1zm5 1zm-8 2zm9 1zm-14 2zm16 2zm-8 5zm6 3zm2 19zm-2 5zm-1 1zm1 5zm-2 9zm-4 1zm3 2zm1 0zm1 4zm-3 4zm1 12zm3 0zm-4 2zm1 2zm2 4zm-4 2zm5 5zm-1 1zm-1 6zm0 0zm0 5zm-2 3zm2 4zm-5 1zm4 0zm-2 1zm-10 1zm-2 6zm6 0zm9 0zm-12 3zm1 2zm3 1zm-2 2zm1 1zm9 1zm-14 0zm4 1zm-3 7zm1 3zm-3 3zm13 6zm-5 7zm8 2zm0 3zm-8 0zm4 3zm0 3zm-5 0zm8 15zm1 20zm-1 100zm-13 1zm16 1zm0 1zm-2 6zm-6 8zm-5 4zm8 7zm3 1zm-12 4zm-1 5zm5 4zm3 5zm8 5zm-2 4zm-6 5zm6 4zm-6 0zm-1 1zm3 3zm-8 11zm2 0zm10 1zm-13 4zm15 2zm-7 4zm6 0zm0 1zm-4 4zm1 8zm-6 1zm-8 1zm17 2zm-13 1zm1 3zm7 11zm-5 10zm-1 0zm3 1zm2 1zm-12 0zm10 1zm-7 2zm14 1zm-8 4zm9 3zm-5 1zm0 2zm-12 7zm4 1zm0 14zm9 2zm-9 2zm-3 6zm11 2zm-9 3zm6 1zm0 0zm1 3zm0 8zm-6 3zm14 3zm-15 4zm7 2zm-4 3zm10 0zm-13 3zm-2 5zm2 3zm15 1zm0 1zm-16 1zm12 4zm3 1zm-5 3zm-10 4zm12 3zm-9 9zm6 1zm-8 1zm7 3zm-9 7zm15 1zm2 9zm-3 1zm-8 4zm0 6zm-6 7zm3 2zm-2 1zm12 3zm-10 0zm2 0zm-5 1zm16 4zm-17 4zm15 11zm0 0zm-14 5zm5 5zm0 10zm4 3zm1 8zm-10 6zm15 4zm-7 4zm4 10zm-10 2zm9 0zm-10 2zm6 2zm-7 9zm16 2zm-16 3zm4 2zm3 1zm-5 26zm12 0zm-6 1zm-9 1zm6 5zm11 7zm-10 0zm10 0zm-14 6zm-2 2zm-2 1zm7 3zm6 0zm-11 1zm2 2zm-4 5zm8 1zm-7 8zm2 0zm18-39zm2-2zm2-9zm-3-2zm10-2zm-4-7zm11-12zm-2-3zm-6-1zm-4-1zm7-3zm-1 0zm-9-1zm6-4zm-2 0zm8 0zm-9-2zm4-6zm-6-1zm9 0zm-9-1zm12-1zm-17-3zm1-4zm12 0zm-8-8zm-3-5zm-1-12zm13-1zm-9-1zm10 0zm-4-1zm3-3zm-3-13zm-9-3zm15-1zm-10-1zm4-1zm-6-2zm10-3zm-3-2zm2-2zm-10-2zm15-1zm-15-3zm0-4zm-1 0zm7-3zm-10-5zm16-4zm-10-4zm0 0zm7-1zm-10-1zm14-5zm-4-3zm-6-12zm-4-2zm11-10zm-12-2zm8-1zm-6-1zm5-4zm10-3zm-4-4zm-4-4zm-4-3zm-2-2zm4 0zm-8-3zm13-2zm-8-3zm10 0zm-11-1zm9 0zm-1-1zm-2 0zm-10-3zm18-2zm-1-2zm-11-1zm-7-7zm1-2zm7-2zm6 0zm-10-1zm14-1zm-13-1zm12-6zm-6-4zm-9-1zm11-2zm-13-7zm5-5zm2-2zm-3-4zm6-11zm-5 0zm11 0zm3-4zm-7-4zm-8-1zm-2-2zm10-3zm-3-2zm-8-1zm1-1zm10 0zm1-4zm-4-2zm-8 0zm3-7zm7-1zm0-8zm-3-7zm2-1zm-6-11zm15-1zm-3-2zm-14-3zm6-8zm0-1zm10-1zm-9-3zm9-2zm-14-3zm6-5zm1-3zm4-1zm-13-2zm-1-4zm14 0zm4-1zm-4-4zm-12-1zm2-9zm-4-13zm6 0zm-2-6zm10 0zm-11-2zm4-11zm11-2zm0-2zm-3-51zm3-19zm-18-1zm7-7zm5-8zm2-5zm-8-2zm-3-4zm8-1zm-3-5zm5-6zm-11-1zm4 0zm1-1zm-7-6zm6-3zm-4-2zm-1-11zm0-5zm-2-90zm0-13zm2-31zm-2-1zm2-3zm8-3zm-8-1zm0-1zm0-2zm9-3zm-11-2zm10-1zm-1-1zm-6-1zm-3 0zm14-1zm4-3zm-7 0zm-2-2zm-3-1zm-1-1zm4 0zm9-1zm-13-1zm9-1zm-12-1zm-2-1zm2-2zm6-4zm3-3zm6-1zm-7 0zm1-1zm-10-1zm11-2zm-11-1zm16-1zm-12-4zm-3 0zm8-1zm-2-1zm4-7zm0 0zm-2-1zm7-1zm-2 0zm-3-4zm-9-3zm8-3zm1-2zm2-1zm-8 0zm19 17zm5 0zm-7 2zm3 3zm-5 2zm3 3zm1 2zm0 3zm8 2zm-9 1zm-3 2zm12 2zm-13 12zm1 1zm5 1zm-2 4zm9 193zm-10 15zm9 1zm-8 0zm7 1zm3 3zm-1 2zm1 10zm-2 0zm5 11zm-2 15zm-8 2zm7 29zm2 2zm-6 1zm0 4zm7 2zm-13 5zm4 6zm2 4zm0 4zm4 6zm-11 5zm4 0zm3 4zm4 1zm1 1zm-5 6zm5 2zm2 2zm-4 7zm-9 3zm2 1zm10 1zm-16 3zm6 9zm6 10zm-8 0zm-1 1zm15 4zm-2 0zm-3 1zm3 6zm-2 1zm-10 0zm3 6zm10 5zm-7 1zm4 2zm2 3zm3 1zm-15 1zm-4 12zm11 1zm6 4zm-1 6zm-9 6zm-2 8zm14 1zm-15 1zm-1 2zm7 5zm6 9zm-4 17zm-5 1zm8 2zm-12 3zm13 3zm-2 0zm-10 0zm12 2zm-2 5zm-5 4zm4 1zm5 0zm-4 12zm-5 4zm6 4zm-8 1zm-5 2zm-2 2zm19 1zm-3 3zm-4 5zm-2 1zm6 9zm2 2zm-15 0zm8 1zm-8 0zm2 4zm-1 3zm3 0zm9 1zm-10 0zm7 7zm-5 2zm1 4zm-8 3zm-1 6zm11 1zm3 4zm-13 4zm5 1zm13 0zm-6 1zm3 5zm-9 1zm-4 1zm-2 0zm11 3zm-2 4zm-9 0zm0 3zm17 5zm-12 6zm0 1zm3 1zm4 0zm-1 1zm5 3zm-4 1zm3 2zm-5 0zm1 1zm-3 0zm2 4zm6 3zm-8 2zm8 1zm-2 6zm-13 5zm3 1zm-3 2zm9 0zm-11 1zm4 0zm2 4zm13 0zm-17 6zm9 0zm-4 1zm7 0zm-4 3zm1 1zm-3 3zm-7 1zm7 4zm-5 0zm1 4zm1 7zm-4 5zm23-43zm0-6zm-4-2zm6-1zm4-9zm2-2zm-5-5zm0-5zm5-1zm5 0zm-5-2zm-2 0zm-7-3zm13 0zm-10-7zm-3-1zm7 0zm-7-1zm13-2zm-5-1zm-2-1zm0-4zm3 0zm6-6zm-4 0zm-8-4zm-2-1zm4-4zm1-1zm-1-2zm1-4zm5 0zm5-1zm-5 0zm5-3zm-19-3zm1 0zm6-8zm2-2zm3-4zm-9 0zm0-4zm4-2zm2-1zm8-1zm-10-1zm-5-3zm4-1zm4-1zm-7-1zm1-4zm7-3zm-9-5zm16-5zm-1-1zm-5 0zm2-6zm-3-2zm-1 0zm7 0zm-9-3zm9-1zm-1-5zm0 0zm0-2zm1 0zm-10 0zm-2-4zm7-1zm-8-1zm14 0zm-13-2zm-4-6zm13 0zm-14-3zm14-1zm-14-10zm10-3zm-2-1zm9-1zm-1-4zm-12-2zm2-5zm-2-1zm8-2zm7 0zm-15 0zm11-1zm-7 0zm-4-2zm10-2zm-9-2zm-5-1zm13-4zm1-3zm-6 0zm9-4zm-7-6zm-5-8zm3-1zm-7-1zm10-2zm-10-11zm5 0zm11-4zm1-9zm-8 0zm-7-1zm13-2zm-1-3zm4 0zm-18-2zm1 0zm4-2zm8-4zm-14-3zm9-9zm6-1zm-9-4zm-5-4zm18-1zm-13-2zm10-2zm0-1zm-13-2zm9-6zm7-1zm-14-1zm13-1zm0-8zm-3 0zm-8 0zm-1-1zm8 0zm-8-1zm-2-7zm-3-2zm6-9zm4-5zm0-1zm4-2zm-1-1zm-1-2zm6-1zm-15-3zm15-1zm-7 0zm-3-2zm-5-6zm10-2zm5-9zm-3-1zm-15-12zm8-14zm8-3zm0 0zm-8-5zm-1-3zm8-3zm-6-2zm-7-3zm3-1zm1-1zm-7-18zm6-3zm26 28zm-10 3zm10 3zm-7 4zm-2 1zm16 12zm-10 1zm-8 7zm7 4zm0 2zm9 2zm-10 8zm-2 1zm11 0zm-14 1zm0 0zm6 1zm-8 7zm3 3zm16 2zm-12 3zm-3 4zm14 1zm1 3zm-8 1zm8 1zm-1 0zm-3 1zm3 1zm-16 6zm13 3zm-1 1zm-6 5zm2 0zm1 5zm-8 0zm8 2zm-5 1zm-5 2zm2 4zm16 2zm-11 5zm8 2zm-2 1zm-9 0zm10 2zm-15 7zm3 0zm8 3zm0 4zm4 16zm-10 1zm-2 0zm8 3zm-9 11zm7 3zm-4 1zm12 4zm-1 0zm-13 2zm7 8zm9 0zm-6 3zm-10 2zm15 2zm-6 2zm-1 2zm5 11zm-10 4zm9 2zm-11 1zm6 1zm-9 2zm12 6zm3 2zm-10 2zm11 13zm-8 5zm5 1zm4 3zm-7 5zm-10 2zm2 1zm6 1zm9 3zm-18 0zm19 1zm0 2zm-4 1zm4 3zm-10 3zm4 15zm-8 1zm6 5zm-11 1zm16 6zm-6 8zm-10 0zm15 0zm-13 10zm5 3zm9 1zm-7 0zm4 1zm-10 22zm-1 0zm9 2zm-4 0zm3 1zm-6 2zm8 2zm-11 21zm19-78zm0-7zm15-1zm-3 0zm-8-3zm2-1zm-1-2zm6-2zm4 0zm-5-1zm5 0zm-5-1zm5-3zm-15-2zm2-6zm0-9zm14-2zm-8-6zm6-4zm-1-1zm2-3zm-12-1zm14-3zm-5-6zm0-1zm-7-1zm9 0zm-11 0zm9-1zm-7-3zm-2-2zm6-3zm2 0zm-4-1zm12 0zm-8-1zm-5-1zm10 0zm-2-2zm-13-2zm11-1zm-12-21zm7-1zm0-1zm7 0zm5 0zm-9-3zm-5-2zm10-1zm-3-3zm1 0zm4 0zm-15-8zm3-2zm2-3zm1-7zm6 0zm-13-3zm3-1zm13 0zm-4-3zm-6-3zm-4-1zm2-8zm10-1zm-8-8zm10 0zm2-6zm-12-9zm-1-10zm2-1zm3-3zm0-3zm1-3zm0-2zm-8-13zm2-3zm10-1zm-11-4zm12-4zm-2-10zm-7-1zm11-8zm-8-1zm-11-3zm3 0zm1-2zm19 19zm10 9zm-5 3zm-8 2zm11 2zm-2 7zm-5 5zm14 7zm-3 11zm-5 4zm3 2zm-10 0zm-1 22zm16 21zm-9 3zm2 1zm8 0zm-19 1zm19 3zm-5 1zm-6 5zm8 2zm-1 1zm1 2zm2 3zm-10 5zm11 3zm-17 1zm-2 2zm4 2zm14 1zm-8 2zm-8 3zm13 2zm3 0zm-9 8zm-9 13zm8 2zm5 1zm0 2zm-7 3zm-5 10zm5 4zm1 2zm16-63zm1-43zm-4-1zm1-10zm4-10zm-4-7zm2-4zm-3-3z" fill="none" stroke="#442076" stroke-width="12.0" stroke-linecap="round"/>
<path transform="scale(.1)" d="M1037 3681zm-4-1zm-1 0zm-2-5zm2-3zm19 10zm-7 3zm6 5zm-4 0zm-4 0zm-2 1zm15 0zm-13 3zm1 0zm3 0zm3 3zm-1 0zm-6 1zm17 1zm-13 0zm4 0zm7 0zm-5 0zm6 2zm-11 0zm-3 0zm5 0zm-1 2zm-4 3zm9 1zm-4 1zm0 0zm9 2zm-3 1zm-4 2zm5 0zm1 4zm-1 0zm23 19zm-16-14zm5 0zm1-4zm0-1zm-1 0zm2-3zm-2-1zm5-5zm-12-1zm2 0zm9-5zm-7-2zm-3-1zm5-3zm-5-3zm1-1zm19 53zm10 17zm2 2zm5 13zm-7 8zm6 10zm18 51zm3-9zm-1-1zm-2-1zm-1 0zm2-12zm-4-3zm3-2zm-10-4zm6 0zm3-1zm-6-3zm2 0zm4 0zm-4-1zm4-5zm-7-6zm1 0zm9-2zm-6 0zm7-3zm-17-6zm12 0zm-7-2zm-1-3zm7-2zm5 0zm-7-6zm-2-4zm3-11zm23 10zm-14 12zm16 0zm-16 1zm0 2zm5 4zm2 1zm-4 1zm-1 0zm5 2zm-5 2zm4 0zm-4 0zm0 1zm-1 3zm7 0zm3 1zm-6 0zm-4 2zm-1 1zm3 0zm7 1zm0 1zm6 3zm-3 0zm0 1zm-3 1zm3 3zm-10 1zm9 0zm-12 0zm18 0zm-13 2zm13 1zm-1 1zm1 0zm-5 1zm-2 1zm3 0zm-1 1zm0 0zm5 0zm-14 1zm4 0zm4 1zm-8 0zm4 1zm2 1zm-3 1zm7 1zm-9 2zm-6 0zm8 0zm1 1zm-6 1zm14 0zm-8 1zm8 1zm2 2zm-2 0zm-1 2zm0 1zm0 9zm-8 3zm-2 5zm25-2zm-2-1zm9-3zm-18-5zm3 0zm8-1zm0 0zm6 0zm-11 0zm10-1zm-10 0zm1-2zm-2-2zm7 0zm-5-2zm4 0zm5 0zm-1-2zm-4-1zm-6 0zm-4-2zm13-1zm-6 0zm6 0zm-9-2zm-2-1zm4-1zm-3-2zm3 0zm7-3zm-4-3zm-6-1zm11 0zm-4 0zm5 0zm-8-1zm6 0zm0-1zm-4-1zm-9-1zm16-1zm2-1zm-1 0zm-8 0zm-6-1zm10 0zm-9-1zm2-1zm-1 0zm2-2zm-6 0zm1-1zm3-1zm7-1zm-13-2zm12-1zm0-3zm6-1zm-3-5zm-6-2zm-9-1zm14 0zm-13-1zm13-1zm8 3zm13 10zm-10 3zm-3 2zm7 0zm0 0zm-5 1zm-2 0zm9 1zm2 3zm2 0zm-1 2zm-14 0zm4 4zm13 8zm-12 0zm4 3zm1 4zm5 0zm-6 2zm0 2zm0 4zm4 3zm-12 1zm7 1zm-8 1zm22-18zm1-9z" fill="none" stroke="#1b9847" stroke-width="12.0" stroke-linecap="round"/>
<text x="150.60" y="314.60" font-size="7.5" fill="#242424" stroke="#242424">chr17q</text>
<rect x="151.00" y="318.00" width="103.60" height="98.80" fill="#fff" stroke="#8c8c8c" stroke-width="0.48"/>
<text x="158.70" y="426.10" font-size="7.5" text-anchor="middle" fill="#333333" stroke="#333333">−5</text>
<text x="182.20" y="426.10" font-size="7.5" text-anchor="middle" fill="#333333" stroke="#333333">0</text>
<text x="205.70" y="426.10" font-size="7.5" text-anchor="middle" fill="#333333" stroke="#333333">5</text>
<text x="229.20" y="426.10" font-size="7.5" text-anchor="middle" fill="#333333" stroke="#333333">10</text>
<text x="252.70" y="426.10" font-size="7.5" text-anchor="middle" fill="#333333" stroke="#333333">15</text>
<text x="147.80" y="343.60" font-size="7.5" text-anchor="end" fill="#333333" stroke="#333333">5</text>
<text x="147.80" y="378.90" font-size="7.5" text-anchor="end" fill="#333333" stroke="#333333">0</text>
<text x="147.80" y="414.20" font-size="7.5" text-anchor="end" fill="#333333" stroke="#333333">−5</text>
<path d="M157.50 416.80v2M181.00 416.80v2M204.50 416.80v2M228.00 416.80v2M251.50 416.80v2M151.00 340.90h-2M151.00 376.20h-2M151.00 411.50h-2" stroke="#555" stroke-width="0.6" fill="none"/>
<text x="208.80" y="435.10" font-size="7.5" text-anchor="middle" fill="#242424" stroke="#242424">UMAP_1</text>
<text x="137.70" y="370.90" font-size="7.5" text-anchor="middle" transform="rotate(-90 137.70 370.90)" fill="#242424" stroke="#242424">UMAP_2</text>
<path transform="scale(.1)" d="M1579 3695zm-4 20zm-5 2zm3 3zm-6 15zm10 0zm-4 13zm-8 1zm0 7zm9 1zm-10 1zm15 5zm0 1zm-1 11zm-8 3zm3 2zm4 2zm-7 22zm-4 5zm7 2zm-4 4zm0 1zm1 6zm-2 0zm6 13zm0 3zm-2 8zm-7 2zm5 1zm7 4zm-1 1zm-6 7zm3 16zm3 5zm23 88zm-5-5zm-2-5zm1-2zm5-1zm-2-1zm-5-2zm8-3zm-8-3zm1-7zm-6-4zm12-3zm-4-6zm-7-2zm5-4zm3-3zm1-2zm-5 0zm-5-4zm10-5zm1-3zm-5-4zm-6-1zm2 0zm6-4zm-11-2zm10-3zm-1-3zm-7-1zm13 0zm-12 0zm-5-1zm3-1zm-3-5zm16-2zm0-2zm0-1zm-7-4zm-9-3zm12-1zm-8-5zm-1-5zm1-1zm4-8zm1-5zm7 0zm-8-1zm-9-4zm17-10zm-6-6zm-6 0zm8 0zm-8-1zm2 0zm6-2zm5-3zm-2-1zm2-3zm-6-1zm0-1zm-6-3zm4-2zm-1-1zm4-2zm-2-6zm-7-3zm12-11zm-6-8zm3 0zm2-3zm-6-1zm8-3zm-9-13zm11-3zm-4-2zm-8 0zm1-1zm7 0zm-8-1zm11-5zm1 0zm-9-1zm-2-11zm3 0zm1-3zm1-5zm-13-5zm4-11zm6 0zm9-1zm-3-4zm-15-4zm11-1zm0-5zm-4 0zm-8-1zm19 0zm-6-6zm-9-1zm13-3zm-2-2zm-8-8zm5-6zm5-1zm21-44zm-7 10zm7 1zm-4 1zm0 6zm-8 8zm9 1zm-9 2zm8 3zm-9 1zm5 2zm-4 9zm-1 1zm-2 3zm9 4zm5 6zm1 0zm-1 12zm-6 2zm-8 0zm13 3zm1 8zm-15 1zm-1 1zm13 0zm-12 8zm0 2zm13 2zm0 1zm-12 3zm15 5zm-6 0zm-1 2zm-2 3zm-7 1zm14 0zm-4 2zm3 4zm-4 1zm-3 1zm-4 1zm5 1zm-1 0zm8 11zm2 8zm-13 4zm1 0zm-3 3zm6 2zm2 6zm7 8zm-10 2zm7 0zm0 2zm-8 3zm9 1zm0 1zm-6 1zm-3 1zm-6 3zm12 11zm-9 2zm9 4zm1 10zm-1 3zm-5 0zm0 3zm8 1zm-13 0zm6 2zm-8 1zm11 3zm-7 1zm-2 1zm6 4zm-6 4zm5 1zm2 1zm1 0zm-5 0zm10 1zm-10 3zm2 0zm4 0zm0 5zm-1 4zm-10 3zm2 3zm7 4zm-2 4zm4 5zm-12 1zm14 1zm3 6zm-9 3zm7 3zm-4 0zm5 0zm-11 2zm-2 5zm15 2zm-5 1zm-9 1zm4 6zm-8 7zm0 3zm16 2zm-7 4zm7 3zm-10 10zm1 3zm12 2zm-6 1zm-8 1zm-1 2zm-4 0zm18 5zm-11 2zm8 1zm-9 2zm4 1zm6 1zm1 1zm-6 2zm-7 3zm-2 6zm1 3zm12 3zm-7 14zm0 0zm6 2zm0 11zm3 5zm22 32zm-4-13zm-2-7zm6-5zm-2 0zm-4-1zm-7-2zm-6 0zm8-2zm10-1zm-16-6zm16-1zm-2 0zm-15-1zm16-3zm-17-2zm7-2zm2-1zm7-3zm-14 0zm15-2zm-8 0zm5-8zm3-2zm-14 0zm10-2zm-4-6zm-1-1zm5-4zm-8-6zm8-1zm-1-1zm3-1zm-4-2zm-3-2zm11-1zm-4-8zm-4-1zm-5-1zm0-1zm-3-4zm5-4zm10-1zm-6-13zm7-1zm-6-2zm-3-3zm3-3zm-2-1zm-3 0zm2-3zm-2-4zm-1-11zm-4-1zm9-8zm-3 0zm-2-7zm1-1zm11-3zm-19 0zm14-2zm-8-1zm13-1zm-9-1zm-7-2zm5-5zm-5-2zm-1-1zm6-1zm8-11zm-6-1zm-5 0zm-1-8zm-4 0zm8-7zm-1-4zm11-4zm-10-8zm-8-3zm14-4zm-2-1zm1-4zm-5-4zm-2 0zm-5-2zm14-3zm1-5zm-4-5zm7-10zm-16-6zm-1-1zm-1-2zm9-4zm-4-11zm4 0zm-9-1zm7-1zm2-1zm7-8zm-14-1zm-2-6zm-1-4zm18-1zm-3 0zm-13-3zm17-2zm-9-11zm-8-11zm13-7zm-3-3zm0-4zm-11-3zm13-1zm5-3zm-9-2zm-6-3zm2-1zm-1 0zm13-3zm-15-1zm-1 0zm0-1zm11-1zm-11-1zm4 0zm-1-1zm9-1zm-11-5zm-3-1zm14-1zm4-3zm-15-3zm-3-2zm11 0zm3-1zm-6-1zm3-5zm-11-2zm10-7zm-4-1zm9-19zm-8 0zm4-2zm5-1zm2-1zm-10-2zm11-1zm-2-1zm-5-4zm17-10zm-2 3zm4 2zm-10 2zm8 0zm-2 0zm1 1zm-4 5zm8 0zm-5 1zm-7 0zm6 1zm9 1zm-10 0zm2 1zm-2 1zm7 1zm-1 4zm5 2zm-13 3zm12 5zm-4 6zm7 1zm-2 1zm-1 1zm2 7zm-1 1zm-14 0zm5 9zm-4 0zm-1 1zm4 3zm1 1zm-1 3zm12 4zm-7 19zm-4 3zm-7 3zm17 1zm-14 0zm3 0zm-4 2zm6 8zm-5 2zm5 2zm-8 1zm17 5zm0 1zm-3 3zm-10 4zm6 0zm1 11zm4 1zm-3 0zm-8 6zm6 3zm0 3zm7 2zm-4 1zm1 3zm-14 4zm19 2zm-17 1zm12 1zm5 1zm-11 1zm6 3zm-2 17zm-6 1zm9 0zm-9 1zm5 2zm-10 8zm12 5zm6 1zm-17 8zm10 0zm-4 1zm10 1zm1 2zm-18 2zm12 5zm-1 2zm2 3zm-10 1zm1 2zm6 1zm1 3zm-8 1zm-2 4zm8 4zm-2 14zm8 4zm0 0zm-3 4zm-3 3zm-4 1zm-3 1zm1 1zm-3 2zm8 6zm8 2zm1 1zm-10 1zm2 0zm-3 0zm12 2zm-18 5zm17 1zm-9 4zm-8 4zm1 10zm0 3zm10 3zm3 2zm-14 1zm10 1zm2 12zm-1 5zm5 1zm2 0zm-12 1zm11 2zm-10 0zm8 4zm-4 0zm1 3zm0 0zm-8 1zm8 3zm-5 0zm-2 0zm5 3zm6 3zm-16 5zm-1 2zm5 1zm-3 1zm3 0zm13 7zm-10 4zm9 0zm-7 1zm-1 6zm3 1zm4 5zm-9 3zm-6 5zm5 8zm8 1zm4 1zm-8 2zm5 2zm-14 1zm12 2zm-4 5zm10 3zm-2 4zm-12 1zm2 2zm-5 6zm10 3zm5 1zm-2 6zm1 2zm0 0zm-3 1zm-2 6zm8 0zm-4 6zm3 8zm-1 0zm2 5zm3 1zm9-7zm6-4zm0-7zm-16-1zm1 0zm15-21zm-6-4zm-9 0zm5-9zm2-3zm-6-10zm6-1zm10-1zm-6-11zm-6-1zm9-8zm-11-14zm11-13zm-8-2zm-1 0zm11-3zm-8-1zm-7-6zm12-2zm-11-3zm2 0zm6 0zm-10-2zm1-2zm13-3zm0-2zm-15-15zm16-1zm-9 0zm10-2zm-3-5zm-13 0zm11-5zm-13-6zm3-2zm0 0zm16-4zm-13 0zm7-1zm-12 0zm5-1zm-4-2zm14-2zm-7-2zm0-3zm-8 0zm16-2zm-16-6zm15-2zm-5-3zm7 0zm-6-6zm7-5zm-4-4zm-6 0zm2-1zm-8-3zm2-8zm-5 0zm6-1zm4-1zm-1 0zm2-3zm-5-10zm-6-1zm13-6zm-13-5zm11-9zm4 0zm2-3zm-8-1zm3-1zm5-2zm-14-3zm11-1zm0-4zm5-4zm-13-4zm-4-1zm3-1zm1 0zm10-3zm-1-3zm3 0zm-5-5zm4-1zm-4-8zm6-2zm-11-8zm-4-2zm5 0zm7-5zm-1-1zm-14-7zm12-1zm-6-6zm-5-5zm8-4zm8-1zm-18-4zm2-3zm11 0zm-8-2zm-4-5zm14-2zm1-2zm-11 0zm5-8zm-5-2zm-5-17zm3-3zm14-1zm-2-1zm-6-2zm-1-3zm-6 0zm0-2zm-2-6zm4-1zm-1-3zm14-5zm-7-1zm6-1zm3-5zm-12-1zm7-1zm5-3zm-3-1zm-13-2zm10-1zm-2-1zm6 0zm-4-1zm-7-3zm-2-7zm0 0zm1-3zm12-7zm-8-3zm3-1zm-10-3zm8-4zm9-13zm19-221zm-2 20zm2 4zm-6 1zm7 2zm-8 0zm5 1zm0 1zm-2 1zm5 12zm-2 1zm-15 168zm1 1zm-1 2zm0 4zm2 1zm10 3zm-5 1zm-1 1zm5 2zm-3 4zm7 1zm-15 1zm11 4zm2 15zm-11 3zm12 5zm2 3zm-18 0zm17 0zm-1 8zm-9 0zm5 8zm3 0zm4 1zm-1 2zm-12 2zm2 10zm7 2zm3 0zm-9 1zm1 0zm2 4zm-10 3zm5 1zm6 0zm-13 2zm15 2zm2 1zm0 7zm-11 0zm-6 6zm9 5zm-1 1zm9 7zm-5 1zm0 2zm2 3zm-11 5zm13 2zm-5 2zm-1 2zm8 1zm-18 4zm15 5zm2 6zm-1 1zm-8 1zm-1 1zm5 2zm-11 15zm10 3zm5 2zm-13 1zm12 1zm4 1zm-2 5zm-11 14zm3 0zm6 3zm-6 0zm-2 4zm12 0zm0 2zm-3 4zm3 0zm-19 2zm17 2zm-17 0zm13 1zm-12 2zm4 1zm9 1zm-3 3zm2 3zm-2 7zm-11 7zm10 2zm-6 1zm6 5zm0 3zm5 0zm-9 3zm-1 0zm14 0zm-15 4zm3 11zm2 0zm-7 3zm6 5zm3 2zm-1 2zm-7 2zm0 3zm11 7zm-4 0zm-7 1zm9 0zm-5 3zm11 10zm-12 3zm10 3zm-2 0zm-12 6zm15 1zm-3 2zm-6 9zm-6 0zm-2 0zm8 2zm-5 2zm10 2zm0 3zm-10 2zm-3 3zm19 5zm-6 5zm-6 4zm-1 5zm-6 1zm9 7zm-5 4zm4 4zm8 1zm-15 0zm10 2zm-1 3zm8 7zm-7 2zm5 1zm-4 5zm-1 21zm-10 7zm8 8zm6 3zm-11 4zm2 1zm8 3zm3 4zm-9 0zm-2 4zm-1 2zm3 8zm-7 3zm6 3zm-6 7zm17 6zm-11 8zm10 8zm-10 3zm-4 2zm6 4zm-8 3zm15 3zm0 12zm21 15zm-9-8zm10-2zm0-2zm-14-3zm9-5zm-1 0zm6 0zm-12-6zm-1-1zm4 0zm-1-15zm-3-2zm3 0zm-4-1zm10-11zm-11-2zm2 0zm-2-2zm12-1zm-6-1zm9-7zm-17 0zm2-6zm2-3zm-5-4zm2 0zm12-4zm-2 0zm-6-7zm12-1zm-6-1zm-9-1zm11-1zm-13 0zm14-2zm-10-1zm8-3zm-8 0zm6-1zm-11-6zm17-6zm-15-1zm15-2zm-17-2zm1-1zm0 0zm9-1zm-4-1zm11-1zm-5-2zm1-3zm-8-2zm8-1zm4-5zm0 0zm-9-2zm6-2zm-5-1zm-3-5zm11-7zm-3-3zm1-1zm0 0zm-8-6zm10-3zm-6-3zm-1-4zm-7 0zm0-5zm-2 0zm4-2zm-2 0zm4-1zm-3 0zm4-2zm8-3zm-7-5zm-9-12zm1-4zm9-2zm-10-4zm1-4zm17-5zm-13 0zm5-5zm8-1zm-10-6zm2-2zm-9-3zm2-1zm11-2zm-8 0zm-3 0zm4-5zm9-17zm-10-1zm6-9zm7-4zm-5-1zm1-15zm-13-5zm14 0zm-6-2zm9-2zm-1-2zm-4-2zm-2-18zm-6-3zm1-1zm-4-1zm10-1zm6-1zm-2 0zm-7-4zm-5-2zm-2-4zm14-2zm-11 0zm5-3zm-6-5zm8-3zm-12-1zm12 0zm-10-4zm9-3zm5-6zm-13-1zm7 0zm5-2zm2-1zm1-2zm-8-7zm-7-1zm3-3zm9-2zm1-2zm-1-8zm-5-1zm4-5zm-12-4zm6-8zm-9-3zm17-1zm-15-6zm16-1zm-2-1zm-15-2zm1-4zm8-4zm-9-4zm3-1zm12-1zm-3-1zm-8-1zm1-5zm-4-1zm1-7zm11-4zm-5-8zm2-9zm0-2zm-1-1zm0-1zm-10-2zm18 0zm-17 0zm2-2zm4-1zm4-3zm3-1zm0-7zm-5-1zm-6-1zm15-7zm-3-7zm-8-1zm11 0zm-17-4zm11-2zm0-2zm-7 0zm-4-1zm5-2zm13-3zm-18-8zm16-9zm-6-12zm-3-6zm2 0zm3-2zm2-1zm-5-21zm3-8zm-3-15zm-2-2zm2-11zm2-3zm2-8zm-2-1zm-4 0zm2-1zm2-1zm0-2zm-3-1zm-1-1zm3-7zm1-4zm1-1zm0-1zm-4-3zm1-2zm1 0zm-3-1zm4-7zm4-6zm-2-6zm-2-1zm-1-11zm2-2zm-3-8zm-10-3zm16-3zm-10-2zm3-3zm0 0zm-6-1zm16 0zm-4-1zm-3-1zm1-2zm5-1zm-5-2zm-11-2zm5 0zm6-2zm-11-3zm0-1zm8 0zm4-1zm-3-1zm2-3zm6 0zm-15-1zm-2 0zm0-1zm1-1zm1-1zm10-1zm-2 0zm1-3zm-2 0zm4-1zm-4 0zm2-1zm3-3zm-1 0zm1-8zm-1 0zm1-1zm-6 0zm-1-4zm12 11zm10 1zm-11 2zm2 4zm-1 0zm4 5zm-5 1zm4 1zm8 3zm-12 3zm6 0zm6 1zm1 1zm-2 1zm8 0zm-5 1zm-3 3zm-9 3zm7 0zm-9 1zm18 1zm-18 5zm3 2zm4 173zm-3 5zm-1 1zm11 3zm-2 1zm-6 0zm11 1zm1 6zm-4 1zm1 2zm-11 1zm1 1zm2 5zm9 7zm-12 2zm-4 9zm18 1zm-15 1zm5 3zm2 2zm7 3zm-3 5zm-8 3zm10 0zm-8 4zm7 4zm-10 4zm13 5zm-13 4zm5 0zm4 3zm-8 6zm-6 2zm7 1zm-5 1zm10 2zm-8 2zm8 19zm-4 4zm10 5zm-5 8zm3 4zm-8 1zm-5 2zm11 1zm5 1zm-16 6zm13 1zm-10 1zm8 3zm0 4zm2 0zm-16 1zm9 1zm-2 4zm8 1zm-5 1zm1 3zm8 1zm-19 2zm4 1zm13 2zm-1 2zm-3 3zm4 2zm-15 3zm17 2zm-12 1zm-2 1zm6 4zm-8 2zm6 2zm-1 2zm10 1zm0 7zm-5 0zm6 2zm-13 1zm-6 1zm11 1zm1 1zm-5 8zm11 5zm-2 3zm0 1zm-13 7zm9 4zm3 4zm-9 1zm12 1zm-9 1zm-2 2zm6 1zm-6 6zm-4 1zm12 3zm-11 3zm15 1zm-2 6zm-13 4zm9 2zm-6 0zm-5 2zm3 11zm11 1zm-2 4zm-7 2zm4 6zm-11 3zm2 0zm3 0zm7 4zm-8 0zm3 4zm12 1zm-15 1zm2 1zm-5 3zm17 6zm-2 1zm-14 2zm5 3zm0 2zm9 5zm-9 3zm9 0zm-12 1zm2 4zm7 1zm-2 0zm-2 1zm-9 3zm19 0zm-12 3zm-7 3zm5 0zm13 1zm-11 4zm6 7zm3 2zm1 7zm-5 8zm6 1zm-2 1zm2 1zm-10 6zm11 0zm-19 1zm13 2zm-2 3zm-8 6zm4 3zm-6 0zm16 2zm0 1zm-4 1zm2 0zm-8 4zm11 1zm-17 4zm15 11zm-5 3zm8 1zm-8 1zm3 2zm-5 1zm0 4zm6 1zm-1 2zm-2 1zm-12 1zm8 5zm4 1zm-7 4zm8 4zm-2 2zm-8 10zm2 2zm-1 0zm2 3zm9 2zm-9 1zm11 0zm-11 4zm0 2zm7 6zm-9 0zm5 2zm1 3zm8 1zm-2 2zm-14 8zm12 0zm-10 1zm9 2zm5 2zm-15 2zm14 1zm-15 8zm14 9zm0 1zm-16 0zm1 3zm7 2zm6 2zm-1 0zm1 2zm7 2zm18-1zm-18-2zm2-1zm9-1zm4-2zm-11-3zm11-1zm-1 0zm-5-16zm7 0zm-15-1zm0-7zm14-7zm-5 0zm4-4zm0-1zm-4-2zm7-4zm-16-2zm11 0zm1-1zm-5-3zm0-5zm-3-4zm1 0zm-1-2zm8-4zm3-1zm-16-3zm5-4zm-1-3zm9-1zm-7-4zm1-3zm5-3zm-5-2zm9-12zm-13 0zm2-4zm4-1zm-4-1zm-2-2zm9-2zm0-3zm5-8zm-7-1zm-6-4zm11-2zm0-1zm-4-2zm-2-3zm-10-8zm5-4zm12 0zm-1-2zm-1 0zm-8-3zm-2-2zm13 0zm-12-2zm9-1zm-10-2zm7-2zm-6-2zm9-2zm-4-2zm2-2zm1-2zm5 0zm-18-4zm17-5zm-15-8zm10-1zm6-1zm-3-4zm-16-4zm9-2zm1-2zm-1-4zm0-3zm-7 0zm8 0zm2-1zm3-4zm2-2zm-11-1zm3-1zm10 0zm-8-2zm-2-1zm1-2zm6 0zm-1-2zm-9 0zm8-1zm-9-4zm10-1zm-7-2zm-7-1zm12-2zm-3-6zm-10-1zm18-6zm1-2zm-2 0zm-8-7zm2-3zm-11-6zm11-2zm-9 0zm11-1zm3-5zm2-3zm-13-1zm-5-6zm11-10zm3-6zm-9-2zm11-8zm-1-4zm-3-2zm-3-1zm3-3zm-7-5zm14-3zm-13-3zm-6-1zm1-1zm5 0zm8 0zm-3-2zm2-1zm-9-2zm2-5zm13-7zm-19-4zm0-4zm5-2zm13-1zm-15-1zm-3-1zm2-5zm11-1zm-11-1zm1-1zm5-8zm0-3zm-5-4zm-3-1zm19-2zm-15-5zm2-9zm-2-6zm1-2zm6-5zm5-2zm-7-3zm-3-2zm-5-9zm5-3zm0-3zm12-3zm1 0zm-14-5zm8-4zm-7-3zm2-2zm-7-4zm18-3zm-10-2zm-5 0zm2-1zm5 0zm6-2zm-2-4zm-12 0zm9-3zm-6-1zm-2-2zm0 0zm10-17zm-5-2zm7-10zm-12-2zm7-2zm-8-2zm12-1zm-6-3zm10-1zm-14-3zm0-2zm1-6zm3-2zm8-5zm-8-9zm-6-7zm2-46zm11-1zm1 0zm-6-4zm-6-6zm7-119zm-4 0zm30 14zm-18 106zm16 67zm1 8zm-16 3zm18 4zm-8 2zm-3 1zm4 4zm7 7zm-14 8zm-5 8zm19 1zm-2 4zm-4 4zm4 1zm-13 2zm10 2zm-8 1zm-4 2zm15 2zm-4 3zm0 2zm-2 4zm-11 7zm7 0zm5 2zm0 5zm-10 2zm-1 1zm10 1zm8 1zm-1 1zm-10 3zm-2 1zm4 5zm-9 1zm17 8zm-2 4zm-9 5zm5 3zm4 3zm-3 6zm-6 0zm9 1zm-3 1zm-3 5zm9 0zm-12 3zm-6 2zm4 0zm10 0zm-7 7zm8 7zm-7 1zm-3 4zm6 7zm1 0zm-8 1zm6 2zm-2 6zm-6 5zm14 1zm-16 9zm3 1zm7 3zm0 2zm-10 5zm17 2zm-9 1zm3 5zm-3 3zm9 4zm-16 6zm0 3zm13 2zm-6 1zm5 0zm-11 2zm-3 0zm10 1zm-1 10zm-2 19zm0 2zm-5 1zm0 2zm15 5zm-10 3zm10 6zm-9 3zm8 1zm1 5zm-5 2zm3 0zm3 1zm-6 2zm-1 1zm-2 1zm1 2zm9 4zm-15 3zm15 5zm-1 6zm-14 1zm4 16zm1 1zm6 2zm-7 0zm6 0zm-4 2zm-2 4zm1 2zm6 0zm-11 6zm10 2zm-1 1zm-3 0zm0 1zm-1 1zm-4 3zm1 7zm-2 0zm15 5zm-6 2zm-3 8zm4 1zm3 0zm-9 7zm-4 1zm10 1zm1 4zm2 2zm-13 6zm12 1zm-7 0zm4 1zm-7 1zm0 2zm11 2zm-6 0zm-10 1zm1 5zm17 3zm-10 5zm10 2zm-3 3zm-13 0zm9 3zm-9 4zm12 8zm-9 1zm5 7zm-3 2zm-3 1zm-2 3zm14 5zm-13 4zm7 9zm1 6zm0 3zm1 1zm3 0zm-15 5zm0 1zm1 2zm10 0zm6 1zm-3 2zm-15 2zm9 0zm4 1zm0 0zm-1 4zm0 2zm-4 1zm-4 1zm12 0zm-5 6zm8 2zm-11 3zm7 8zm-11 1zm1 8zm7 1zm-9 8zm17-10zm11-15zm-6-4zm12-4zm-9-5zm-4-10zm8-1zm6-1zm-7-1zm3-8zm-14-1zm8-1zm-7-2zm0-5zm3-6zm-4-5zm2-9zm-1-5zm11-10zm7-1zm-1-1zm0-3zm-16-2zm-2 0zm7-8zm-3 0zm14-1zm-18 0zm7 0zm11 0zm-12-1zm5 0zm-9-9zm5-1zm4-3zm6-3zm-14-3zm6-3zm-9 0zm1-2zm16-1zm-6-1zm-5 0zm-2-1zm9-1zm-2-1zm-6-2zm-1-1zm4-2zm5-2zm-6-1zm9-3zm3-7zm-19-1zm3-2zm-1-4zm17-2zm-19-2zm13-1zm0 0zm1-1zm3 0zm-4-2zm3-8zm-2-1zm-6-1zm-5 0zm7-2zm-9-1zm3-3zm7-2zm-9-1zm16-1zm-10-3zm1-4zm-5-1zm12-4zm-14-1zm14-1zm-7 0zm3-1zm2-1zm-9-2zm9-1zm-12-4zm15-4zm1 0zm-4-5zm-9-6zm13-1zm-6-3zm4-4zm-12-3zm2-2zm7-1zm-9-1zm-1-11zm1-1zm2-4zm5-2zm-9 0zm17-4zm-4-4zm4-1zm-7-3zm-11-1zm16-1zm-13-1zm8 0zm-5-2zm1-1zm10-8zm-14-10zm10-21zm1-2zm0-6zm0-1zm3-3zm-10-3zm-5-1zm2-6zm3-10zm-6-8zm11-1zm3 0zm-9-10zm5 0zm-3-1zm3-1zm-5-4zm-4-2zm8-1zm-9-2zm14-6zm0-8zm-4-9zm5-2zm-11-1zm2-1zm9-2zm-8-8zm-1-1zm4-1zm-6-2zm5-9zm-1-4zm-10-8zm12-1zm-7-1zm-3-3zm12 0zm-11-11zm15-1zm-13-13zm10-3zm-6 0zm-7-1zm3-2zm2-5zm-2-4zm7-8zm-4 0zm10 0zm-12-6zm-6-3zm1 0zm16-1zm-5-4zm-3-4zm-1-5zm-1-7zm7-2zm2-1zm-14-1zm13-2zm0 0zm-7-3zm-2-169zm1-1zm7-4zm20-11zm2 2zm-12 6zm6 2zm4 0zm5 2zm-2 1zm-7 2zm-8 1zm16 0zm-18 1zm12 0zm-2 0zm-7 3zm11 2zm4 0zm-8 5zm8 4zm-8 1zm7 154zm-4 2zm5 0zm-13 5zm14 3zm-17 13zm7 7zm-2 3zm11 0zm-6 8zm-1 2zm7 3zm-15 4zm8 13zm-8 2zm15 4zm-8 1zm-2 3zm6 2zm2 14zm-10 0zm8 1zm3 4zm-17 1zm11 1zm-2 9zm4 5zm-6 7zm11 1zm-11 0zm1 9zm4 3zm-6 0zm4 3zm-7 13zm5 2zm1 0zm-9 7zm19 1zm-7 0zm-8 1zm-4 3zm10 2zm-1 1zm-9 0zm6 3zm-2 11zm1 1zm12 2zm-14 0zm6 1zm-1 3zm2 8zm-3 4zm-4 5zm0 1zm13 7zm-12 3zm-4 3zm12 2zm-2 0zm-1 0zm-6 3zm15 1zm-2 0zm-5 1zm-1 3zm-9 0zm4 1zm0 1zm2 1zm4 8zm-11 1zm11 1zm6 2zm-5 2zm4 1zm-5 1zm-9 0zm11 2zm-8 8zm11 4zm-1 3zm0 13zm-5 0zm-8 8zm1 2zm6 0zm2 2zm-11 1zm12 1zm0 3zm-1 1zm6 3zm-7 3zm-2 1zm3 9zm-8 1zm1 3zm1 6zm-3 0zm3 2zm6 1zm-7 1zm1 8zm-5 9zm0 2zm8 1zm-8 1zm10 1zm9 2zm-6 1zm-1 0zm1 2zm-9 2zm12 7zm-16 4zm4 5zm12 2zm1 0zm-12 4zm3 2zm9 0zm-14 1zm0 1zm1 1zm3 0zm9 5zm-4 5zm-3 1zm0 2zm7 8zm-3 3zm-12 5zm3 1zm-2 1zm10 0zm-5 5zm0 2zm-5 3zm10 0zm0 1zm3 1zm3 1zm-7 2zm-11 1zm18 2zm-9 5zm9 0zm-13 7zm14 1zm-9 11zm-7 6zm0 5zm9 1zm-3 4zm-8 6zm3 1zm7 5zm-4 0zm-2 2zm8 0zm-1 14zm-6 6zm-4 4zm18-30zm4-4zm6-5zm-4-6zm1-3zm-4-5zm2-5zm14-5zm-12-3zm9-5zm-11 0zm8-1zm5-1zm-8-2zm-3-1zm7-1zm-1-5zm-10-2zm7 0zm9-1zm-8-7zm-9-3zm15 0zm-5-2zm-6-1zm3-2zm-1-9zm-3-3zm-1-2zm12 0zm-13-1zm14-3zm-13-2zm13-3zm-8 0zm-4-8zm-1-1zm3-3zm-3-1zm-2 0zm15-1zm-16-4zm-1-4zm4-2zm8-3zm-1-18zm-7-1zm-1-1zm14-2zm-11 0zm12-3zm-2-1zm3-1zm-16-3zm12-1zm-1-1zm4-5zm-15-2zm5 0zm-3-4zm6 0zm-10-2zm18-3zm-6-2zm-5-2zm11-9zm-9-2zm-8-1zm11-1zm6-2zm-17-5zm11-3zm-12-3zm12-3zm-3-8zm-2-1zm-4-1zm6 0zm-9-6zm17 0zm-18-1zm19 0zm-16-3zm-2-2zm0-3zm6-1zm11-1zm-3-2zm1-3zm2-2zm0-1zm-12-2zm7-1zm-3-6zm4-2zm-2-1zm6-6zm-6-5zm-9-6zm8-3zm1-2zm-6 0zm-5-10zm16-2zm-15-5zm12-2zm-7 0zm-3-1zm-2-2zm14-4zm-5-1zm6-3zm-8-8zm2-7zm2-10zm4-3zm-6-3zm0-2zm5 0zm-15-4zm14-3zm2-4zm-6-1zm4-4zm-12-6zm5-3zm7-3zm-3 0zm-1-1zm-3-3zm-5 0zm5-1zm3-2zm-2-4zm0-2zm9-2zm-17-1zm1-1zm3-1zm2 0zm4-2zm0-2zm-1-3zm-3-1zm0-5zm11-2zm1-2zm-18-1zm17-8zm-16 0zm17-5zm-14 0zm-4-24zm-1-1zm3-5zm4-1zm12 0zm-2-2zm-13-1zm5-1zm-5-3zm12-2zm-15-5zm0-2zm1-3zm15-1zm-8-2zm-4-8zm0-2zm-2-2zm3-95zm6-21zm5-10zm-9-18zm4-1zm2-1zm5 0zm-3-1zm-1 0zm1-1zm-11-1zm10-2zm-9-4zm1-1zm-3-3zm0-1zm-4-3zm5-5zm-4-5zm4-1zm7 0zm1 0zm-5-3zm-2 0zm11 0zm-17-1zm0-1zm3-4zm13 0zm-14-1zm16-6zm1-14zm0-30zm-1-57zm-1-7zm-1 0zm-2-2zm-10-2zm5-4zm-1-3zm-6 0zm5-2zm-7-2zm16-2zm0-4zm-10-2zm12-2zm-15-1zm11-1zm1-1zm-1 0zm-2-1zm5 0zm-11-3zm10-1zm-9-3zm1-1zm-1-2zm7-2zm-4-1zm7-1zm0-7zm-2 0zm20-2zm-3 1zm5 4zm-3 5zm5 1zm-9 3zm-5 1zm-2 2zm10 0zm-9 1zm9 1zm-10 0zm10 1zm-8 1zm1 0zm7 1zm-13 0zm1 0zm8 2zm4 0zm-7 2zm-4 0zm16 1zm-2 4zm2 0zm0 0zm-5 0zm5 1zm1 0zm-13 0zm12 0zm-6 1zm-1 2zm-8 1zm-1 4zm3 0zm11 1zm1 0zm-16 0zm11 2zm6 0zm-10 2zm-8 1zm12 1zm-12 0zm16 2zm-8 1zm-5 0zm5 0zm9 3zm-10 2zm-6 3zm9 1zm-5 5zm-2 3zm5 4zm-3 1zm0 1zm-5 2zm12 9zm-8 1zm2 0zm-2 1zm-1 8zm-1 1zm5 1zm-3 1zm-4 0zm5 5zm-3 2zm1 1zm-1 0zm0 1zm1 10zm3 2zm-2 6zm1 16zm-4 0zm-1 3zm1 6zm-1 3zm0 6zm4 4zm-4 8zm6 9zm0 26zm-5 1zm-1 9zm8 9zm1 1zm8 2zm-15 1zm7 3zm0 1zm2 10zm4 0zm0 2zm-4 13zm2 2zm2 4zm0 34zm3 50zm-13 7zm14 5zm-4 2zm-7 0zm-5 1zm-3 1zm2 2zm2 1zm2 2zm-6 0zm13 2zm-9 0zm1 2zm1 6zm-1 1zm14 2zm-14 3zm9 1zm-1 1zm2 0zm3 1zm-18 7zm14 1zm-1 2zm-11 1zm13 2zm2 4zm-13 4zm2 0zm0 1zm-4 0zm7 3zm1 0zm-7 2zm11 3zm-7 7zm12 1zm-4 2zm-8 3zm9 1zm-4 1zm-12 3zm17 7zm2 0zm-4 1zm-6 0zm10 7zm-4 2zm-15 1zm0 1zm9 2zm-9 2zm3 0zm14 0zm-15 1zm7 4zm5 0zm-14 4zm18 0zm-13 2zm14 1zm-8 0zm4 3zm-15 0zm12 3zm6 5zm-5 1zm0 2zm1 2zm3 0zm-13 1zm5 0zm-2 1zm-5 8zm7 2zm-6 0zm10 1zm-3 0zm6 3zm2 4zm-12 1zm10 3zm-12 2zm10 4zm-2 3zm-11 2zm10 1zm-10 5zm6 1zm11 1zm-2 0zm-16 1zm13 3zm-1 3zm0 3zm6 0zm-1 7zm-12 4zm9 5zm-1 2zm4 1zm-1 1zm-7 4zm-2 1zm10 0zm-13 3zm3 5zm-5 6zm14 1zm-9 0zm7 0zm-3 2zm-11 5zm6 1zm-5 1zm14 2zm4 0zm-8 2zm-10 1zm9 2zm2 0zm-8 4zm8 0zm-1 2zm0 1zm-1 1zm-4 1zm13 1zm-11 9zm6 1zm-11 1zm14 2zm-17 6zm5 7zm-5 0zm19 1zm-16 2zm6 2zm9 0zm-3 6zm0 6zm4 1zm-2 4zm-1 16zm1 1zm2 3zm-7 1zm2 2zm-5 6zm8 10zm-14 4zm12 5zm-8 2zm12 4zm-5 0zm-2 1zm1 5zm6 0zm-2 3zm-4 0zm-2 11zm5 3zm-7 0zm5 2zm2 1zm-5 9zm7 2zm0 0zm-18 0zm15 1zm-2 1zm-4 4zm6 3zm-7 0zm6 1zm4 1zm-10 2zm2 2zm8 2zm-15 3zm0 9zm-1 4zm9 1zm15-39zm6-4zm-5-2zm-1 0zm0-1zm12-7zm-7-10zm-6 0zm3-1zm5-2zm-13-5zm17 0zm-7-1zm1-2zm-7 0zm12-3zm-5-4zm0-1zm-7-2zm-2-1zm13-2zm-15 0zm10-1zm5-3zm0-8zm-15-1zm17-1zm-4-2zm-2-5zm-10-1zm6-3zm-3 0zm6-4zm7-1zm-5-1zm-1-1zm-7-2zm5-1zm-9-1zm7 0zm7-1zm2-4zm-10-1zm13-8zm-10-1zm3-3zm4 0zm-2-1zm1-2zm-15-1zm10-8zm-2-2zm8 0zm-11-1zm-2-1zm3-4zm12 0zm-13-1zm4-3zm-9-2zm17 0zm-12-3zm12-7zm-8-7zm1-5zm-1-1zm-5-4zm12-4zm-3-7zm4 0zm-1-1zm-11-1zm11 0zm-5-2zm0-1zm-4 0zm-2-2zm-3 0zm10 0zm-2-2zm7-2zm1-12zm-12-7zm8-11zm-4-2zm-7-1zm11-7zm-11-1zm7-1zm2-9zm6 0zm-15-2zm11-3zm5-2zm-4-2zm4-6zm-19-6zm3-3zm15-3zm-3-4zm2-1zm-4 0zm-8-5zm-1-1zm7-1zm4 0zm-3-2zm-6-2zm5-1zm2-1zm0-5zm4-3zm-12-1zm14-5zm-12-1zm-7 0zm1-5zm7-6zm10-2zm-3-1zm-2 0zm-12 0zm16-1zm-5 0zm-5-2zm-5-1zm-1-2zm9-6zm4-1zm-4-3zm-4-8zm4-2zm-5-3zm14 0zm-11 0zm0-2zm2-4zm2 0zm-9-1zm3-5zm13-1zm-14-4zm6-6zm-10-1zm8-3zm1 0zm-3-11zm-7-7zm12-4zm-6-1zm4-4zm-5-4zm8 0zm6-7zm-6 0zm3-64zm-6-2zm7-1zm-1-3zm-3-1zm4-1zm2-1zm-3 0zm0-1zm-1-11zm-15 0zm6-2zm2 0zm3-3zm-5-6zm4-189zm-3-4zm-4 0zm0-8zm-2-1zm5 0zm-2-6zm11-3zm-11-2zm14-3zm-14-3zm3-1zm-6 0zm15-3zm-15 0zm-1 0zm3-1zm3-4zm-5-8zm8-1zm-5-1zm-4-5zm27 252zm-6 10zm2 5zm14 6zm-7 2zm-1 2zm-1 0zm5 5zm6 2zm-4 4zm-3 1zm6 2zm1 2zm0 33zm-7 3zm4 3zm-10 1zm-5 0zm3 2zm15 3zm-3 0zm-3 5zm-3 3zm-3 4zm9 3zm-6 1zm-10 3zm5 1zm10 5zm-8 4zm-6 1zm12 6zm-6 2zm7 2zm0 5zm-13 5zm-1 2zm3 1zm0 3zm9 2zm-4 1zm-6 1zm2 5zm3 0zm2 0zm10 4zm0 2zm-5 1zm-13 2zm15 2zm-13 7zm6 4zm0 1zm4 5zm2 5zm-9 0zm0 0zm13 1zm-16 1zm0 2zm8 9zm-2 5zm6 0zm-15 3zm14 1zm-3 2zm1 0zm-10 1zm3 1zm-5 5zm14 5zm-5 1zm9 0zm-5 1zm-9 1zm3 1zm-1 4zm8 6zm-2 1zm-2 2zm6 0zm-1 1zm-4 4zm-6 0zm0 2zm5 1zm-5 1zm5 2zm-7 0zm7 2zm7 2zm-12 3zm7 3zm-11 2zm18 10zm-10 3zm-9 0zm11 8zm5 1zm-10 1zm7 0zm-4 1zm-3 5zm-4 3zm9 2zm-10 1zm12 1zm6 1zm-4 2zm1 3zm-8 2zm10 5zm-14 7zm15 3zm-2 1zm-4 2zm1 0zm1 3zm0 3zm-7 0zm-7 2zm13 1zm-11 0zm-2 3zm10 1zm-10 2zm17 3zm-7 8zm4 4zm-6 5zm-2 0zm2 3zm10 9zm-18 5zm7 3zm0 1zm1 4zm6 3zm-10 2zm5 1zm3 1zm1 5zm-10 10zm15 2zm-7 2zm-10 10zm15 5zm1 1zm-1 2zm-1 6zm-16 23zm20-32zm5-21zm-4-5zm7 0zm2-3zm-4-7zm-6-2zm8-1zm2-1zm-7-4zm7 0zm-1-1zm8-1zm-7-1zm-3-1zm0-1zm0-3zm10-4zm-15-13zm16-2zm-5-7zm3-2zm3-4zm-6-4zm3-7zm-7-1zm-3-3zm1-9zm-6-5zm5-1zm1-4zm-4-5zm1 0zm-2-1zm9 0zm-6-4zm10-3zm-9-6zm13-4zm-1 0zm-9-4zm0-6zm5-1zm-6 0zm2 0zm-8-2zm17-9zm-15-4zm10-6zm-4-1zm4-2zm0-5zm-4 0zm7-5zm-8-9zm-9-10zm12-1zm7-4zm-15-4zm-1-2zm5-6zm-8-3zm5-1zm12 0zm-9-1zm8-1zm-16-5zm11-2zm-7-1zm-3-7zm5-5zm11-4zm-7-2zm-6-2zm13-6zm-17-11zm9-1zm-1-5zm3-3zm-8-3zm16-1zm-11-2zm-8-6zm11 0zm-11-3zm7 0zm-5-4zm11 0zm1-4zm-7-4zm2-1zm-8-8zm15-6zm-1-1zm-5-1zm9-3zm-18-3zm18 0zm-14-5zm14-3zm-12-2zm11-1zm-15-1zm11-4zm5 0zm-1-2zm-4-6zm0-6zm-12-3zm4-11zm-2-9zm1-1zm-2 0zm1-13zm3-4zm14 22zm3 24zm7 4zm-2 0zm8 3zm-11 4zm8 0zm-3 4zm-2 0zm9 2zm-4 0zm-11 4zm13 1zm-15 8zm3 3zm0 2zm1 2zm11 1zm-15 2zm8 1zm4 3zm3 1zm-3 4zm3 1zm-10 2zm11 3zm-11 4zm1 3zm11 1zm-18 5zm6 2zm-1 0zm12 7zm-16 4zm15 2zm-13 4zm10 1zm-11 4zm17 1zm-13 2zm8 1zm-7 0zm9 1zm-4 4zm2 2zm-1 5zm-12 0zm17 1zm-12 0zm11 3zm-6 4zm-7 0zm8 3zm6 2zm-15 0zm0 0zm16 1zm-8 0zm-8 9zm8 4zm-9 6zm16 5zm-15 1zm12 1zm2 11zm-16 3zm16 1zm-7 3zm7 7zm-2 1zm-7 0zm3 6zm8 1zm-2 0zm-10 3zm1 1zm5 5zm-9 0zm7 0zm2 1zm2 1zm-11 6zm10 2zm-12 2zm0 5zm13 1zm1 0zm-15 11zm17 1zm-10 0zm7 0zm-8 3zm-2 6zm2 2zm11 2zm-14 5zm13 7zm-9 3zm-1 1zm12 3zm-16 1zm5 0zm4 2zm6 0zm-16 4zm13 2zm-12 5zm-2 1zm10 2zm2 1zm-2 1zm-8 3zm6 2zm-6 2zm2 3zm5 1zm10-36zm4-10zm-1-3zm1-4zm-2 0zm1-8zm-3-5zm6-1zm4-1zm-6-3zm9-3zm-5-6zm2 0zm9-8zm-13-5zm8-3zm-1 0zm5 0zm-15-9zm6 0zm2-4zm3-1zm-13-3zm5-2zm4-6zm-4-1zm-2-2zm-2 0zm0-3zm15 0zm1-9zm-13-1zm8 0zm-11-6zm11-1zm-5-1zm-4-4zm14-1zm-17-3zm14-3zm-14-3zm5 0zm-1-1zm9-4zm-6-5zm-3 0zm11-9zm2-1zm0-3zm-16-2zm0-5zm-2-1zm3-3zm0-3zm4-4zm-7-4zm4-1zm6-3zm0-2zm-7-1zm6-1zm10 0zm-9-1zm6 0zm-1-1zm-13-4zm-1-2zm13-1zm0-4zm3-1zm-7-1zm7-9zm0-2zm-16-6zm8 0zm3-1zm-11-5zm9-5zm-2 0zm-8-2zm6-3zm4-2zm-5 0zm-1-12zm-4-3zm22 34zm-1 8zm5 14zm2 17zm3 0zm-10 1zm2 3zm0 3zm9 4zm-3 1zm0 3zm-7 3zm10 2zm-1 2zm-10 1zm5 7zm7 2zm-2 5zm-8 6zm4 7zm-3 3zm-3 3zm4 13zm-2 2zm3 5zm-6 34zm371-67zm6 0zm-4 3zm2 0zm3 10zm14 29zm5-1zm-8-7zm9-1zm-10-3zm11 0zm-2-1zm-13-1zm2 0zm7-1zm-1-3zm6 0zm-2-1zm-3-5zm4-1zm-4 0zm-5-1zm2-1zm1 0zm-4-1zm3-2zm-6-6zm-4 0zm26 13zm-6 1zm0 3zm11 1zm-7 4zm4 1zm1 1zm0 1zm10 0zm-10 0zm-6 1zm0 2zm6 0zm-8 0zm-1 2zm13 1zm2 1zm-8 0zm-5 2zm5 1zm3 1zm0 2zm3 2zm4 0zm-2 2zm24 65zm0-27zm-9-8zm-2-33zm-8-3zm21 40zm12 5zm-11 0zm15 1zm0 2zm-6 7zm7 14zm-4 0zm-9 1zm-2 5zm16 8zm-3 3zm2 1zm-9 7zm4 18zm5 0zm20 23zm-11-1zm3-7zm6 0zm-3 0zm4-1zm-7-1zm-6-2zm11 0zm-15-1zm14 0zm1-1zm1-3zm-4-2zm1 0zm5 0zm-2-2zm-6-1zm5 0zm3-1zm-14-1zm11-1zm-14-1zm16 0zm-7-1zm8 0zm-2-2zm-16-3zm2 0zm14-1zm-7-1zm2-3zm6-1zm-8-2zm2-3zm0 0zm-10 0zm13-1zm0-4zm0-7zm-6 0zm11-2zm-1-2zm-12-2zm10 0zm2-1zm0-4zm-1 0zm-11-1zm8-1zm-9-1zm-4 0zm5-4zm-4-4zm4-3zm-6-7zm36 15zm0 3zm0 4zm-8 2zm11 1zm-6 0zm-6 3zm3 3zm-10 2zm8 0zm2 1zm1 1zm-8 2zm15 0zm-3 1zm-4 0zm-7 0zm11 0zm-2 2zm-5 3zm-3 0zm7 0zm-6 1zm13 1zm-5 0zm-10 1zm14 0zm1 1zm-11 1zm-1 0zm9 1zm-13 1zm9 1zm6 0zm-4 0zm-14 2zm3 2zm-1 1zm11 1zm-8 0zm13 0zm-17 3zm14 1zm-5 0zm3 1zm2 0zm-6 0zm1 1zm-6 0zm2 0zm-1 1zm-2 0zm-2 0zm10 0zm-4 7zm-3 1zm6 1zm-1 2zm0 1zm9 1zm-12 2zm10 2zm1 4zm-4 1zm5 2zm3 3zm1-3zm9-4zm-6-1zm5 0zm2-2zm-1-7zm1 0zm-9 0zm7 0zm-10-2zm0-3zm3-2zm2-3zm13 0zm-6 0zm0-2zm-12 0zm2-1zm16-1zm-1-3zm-17 0zm12 0zm-10-1zm10 0zm2 0zm4-1zm-6-1zm-12 0zm7-2zm-3-2zm12 0zm-6 0zm6 0zm-10 0zm-6-3zm6-1zm-1-1zm8-4zm-13-1zm7-1zm3-1zm-5-2zm0-12zm0-3zm1-1zm-5 0zm19 24zm2 3zm0 3zm3 6zm-5 0zm2 9z" fill="none" stroke="#1b9847" stroke-width="12.0" stroke-linecap="round"/>
<text x="286.20" y="314.60" font-size="7.5" fill="#242424" stroke="#242424">chr5q</text>
<rect x="284.60" y="318.00" width="103.60" height="98.80" fill="#fff" stroke="#8c8c8c" stroke-width="0.48"/>
<text x="292.95" y="426.10" font-size="7.5" text-anchor="middle" fill="#333333" stroke="#333333">−5</text>
<text x="316.45" y="426.10" font-size="7.5" text-anchor="middle" fill="#333333" stroke="#333333">0</text>
<text x="339.95" y="426.10" font-size="7.5" text-anchor="middle" fill="#333333" stroke="#333333">5</text>
<text x="363.45" y="426.10" font-size="7.5" text-anchor="middle" fill="#333333" stroke="#333333">10</text>
<text x="386.95" y="426.10" font-size="7.5" text-anchor="middle" fill="#333333" stroke="#333333">15</text>
<text x="281.40" y="343.60" font-size="7.5" text-anchor="end" fill="#333333" stroke="#333333">5</text>
<text x="281.40" y="378.90" font-size="7.5" text-anchor="end" fill="#333333" stroke="#333333">0</text>
<text x="281.40" y="414.20" font-size="7.5" text-anchor="end" fill="#333333" stroke="#333333">−5</text>
<path d="M291.10 416.80v2M314.60 416.80v2M338.10 416.80v2M361.60 416.80v2M385.10 416.80v2M284.60 340.90h-2M284.60 376.20h-2M284.60 411.50h-2" stroke="#555" stroke-width="0.6" fill="none"/>
<text x="340.90" y="435.10" font-size="7.5" text-anchor="middle" fill="#242424" stroke="#242424">UMAP_1</text>
<text x="268.30" y="370.90" font-size="7.5" text-anchor="middle" transform="rotate(-90 268.30 370.90)" fill="#242424" stroke="#242424">UMAP_2</text>
<path transform="scale(.1)" d="M2896 3755zm2 9zm1 19zm-1 7zm0 7zm-2 0zm2 11zm1 3zm0 7zm20 113zm-2-9zm-1-6zm-1-3zm-5-21zm9-1zm-12-15zm2-4zm6-3zm2-5zm-14-3zm8-6zm-1-7zm5 0zm-2-1zm6-5zm-19-1zm7-4zm11-4zm-6-3zm7-3zm-12-1zm-6-3zm15-2zm3-3zm-10-1zm-3-3zm13-1zm-1-3zm1-1zm-13-2zm8-3zm-8-3zm8-1zm1 0zm-5-2zm-2-2zm4 0zm-2 0zm-4-8zm13 0zm-1-6zm-9 0zm-2-5zm10-1zm-3-2zm5-2zm-11-5zm6-3zm-11-10zm8-2zm7-1zm-8-9zm-6-5zm-2-12zm17-11zm-8-1zm-2-3zm8-6zm1-2zm-6-5zm5-1zm-2 0zm-2-4zm6-11zm0-2zm17-33zm2 3zm-6 5zm-2 7zm4 8zm1 10zm-14 3zm1 7zm15 2zm-5 2zm7 5zm-17 1zm5 1zm1 2zm-3 12zm-1 0zm14 5zm-12 16zm1 3zm4 6zm-6 1zm-1 11zm4 1zm-8 1zm18 5zm-18 3zm15 8zm-1 6zm-3 0zm0 5zm6 0zm-7 6zm6 1zm2 2zm-3 3zm-8 2zm0 1zm-1 4zm5 2zm-2 9zm-6 2zm9 1zm-9 3zm-3 2zm13 1zm6 2zm-10 13zm0 2zm-6 0zm-3 2zm0 1zm16 5zm-13 1zm15 1zm-4 3zm0 7zm-9 1zm0 1zm10 2zm-15 1zm16 4zm-9 1zm-2 0zm2 1zm6 0zm-6 3zm9 2zm-16 3zm5 7zm0 3zm0 2zm12 2zm-15 5zm4 5zm9 0zm-6 3zm1 2zm-10 2zm4 1zm10 0zm1 3zm0 2zm-6 1zm7 1zm-12 1zm8 1zm1 11zm-8 4zm9 2zm4 2zm-12 0zm8 4zm2 11zm-7 3zm5 1zm-1 1zm-1 3zm1 7zm5 4zm14 34zm6-1zm-3-3zm3-9zm-2-1zm-14-4zm7 0zm-5-4zm4-10zm1-5zm6-6zm-11-6zm13-3zm-15-1zm0 0zm0-4zm13-7zm-12-2zm4-3zm8-1zm-9 0zm6-1zm-10-7zm0 0zm14-1zm1-1zm-12 0zm11-1zm-7 0zm-9-1zm4 0zm9-4zm-2 0zm-11-2zm2-2zm-1-2zm18-2zm-5-1zm-6 0zm7-2zm-15-6zm17-3zm-12-2zm0-1zm1-5zm5-3zm7-1zm-1-1zm-17-4zm2 0zm-2-1zm11-2zm2-4zm-6-6zm10-4zm-11-7zm5-3zm-1-3zm7-7zm-9-1zm-4-4zm-2-5zm11-6zm-4-2zm-7 0zm15-5zm2-1zm-8 0zm-3-1zm1 0zm-7-4zm14 0zm-14-1zm9-4zm-6-2zm13 0zm-15-1zm9-1zm-2-3zm-7-2zm14-2zm2-9zm-15-4zm-2-3zm8-2zm-1-3zm2-2zm6 0zm-16-1zm13-3zm-7-4zm8-2zm-2-1zm-11-3zm10-2zm-12-1zm8-1zm6 0zm-7-7zm-2-1zm12-1zm-7-2zm5-3zm-5-6zm-1-1zm0-1zm3-1zm1 0zm-12-1zm7-3zm7-9zm-13 0zm14-1zm-12-1zm11-5zm-6 0zm6-1zm-11-2zm-4-1zm17-3zm-7-1zm3-1zm-4-8zm-9-3zm1-1zm1 0zm3-1zm10-6zm3-2zm0-3zm-12 0zm1-2zm4-1zm-6-2zm-2 0zm5-1zm-2 0zm6 0zm-3 0zm-7-2zm0-3zm2-1zm15 0zm0-7zm-7-1zm6 0zm-2-1zm-11-7zm3-5zm1-1zm-5-1zm3-1zm-6-2zm8 0zm10-1zm-4-2zm4-14zm0-3zm-5-3zm4 0zm-1-3zm1-7zm16-18zm-11 10zm-1 2zm10 0zm-4 1zm10 3zm-15 0zm6 1zm3 2zm-7 0zm0 0zm4 4zm-5 6zm4 4zm4 2zm4 0zm-13 1zm5 1zm1 3zm-2 2zm6 0zm0 7zm-2 5zm4 0zm-13 2zm8 0zm7 1zm-7 4zm7 2zm-3 0zm2 1zm-15 7zm-1 2zm5 1zm-2 3zm2 1zm0 1zm9 3zm4 5zm-7 8zm-10 0zm3 3zm1 1zm9 6zm-14 2zm0 5zm1 0zm11 1zm-10 1zm14 3zm-12 1zm4 3zm1 3zm-4 5zm-4 3zm6 15zm3 5zm0 1zm3 0zm-9 2zm9 10zm-9 1zm15 1zm-2 2zm-9 3zm7 4zm0 2zm-6 5zm0 1zm6 0zm4 1zm-13 1zm-6 6zm14 2zm-9 1zm8 3zm0 1zm-9 2zm-3 13zm9 1zm-5 2zm-3 1zm12 0zm5 7zm-12 3zm8 3zm1 5zm3 0zm0 1zm0 1zm-2 9zm2 2zm-10 0zm-4 1zm14 4zm-2 4zm-6 5zm-4 11zm2 1zm0 1zm10 1zm-15 0zm14 6zm-1 3zm-1 4zm3 5zm-6 5zm-8 1zm-1 1zm8 4zm-11 6zm18 0zm-4 2zm-8 5zm-7 0zm17 2zm-7 9zm1 1zm-11 2zm19 1zm-9 7zm-2 0zm-1 0zm7 2zm4 1zm-9 5zm-3 1zm-1 0zm13 1zm-11 5zm-7 1zm16 7zm1 3zm-8 1zm7 3zm0 4zm-11 0zm10 4zm-13 3zm13 8zm-12 2zm6 2zm3 1zm-4 3zm-7 8zm-1 0zm15 3zm-4 11zm-5 1zm3 0zm-2 2zm10 0zm-13 1zm-3 2zm14 7zm3 4zm14 28zm3-1zm2-2zm-11-2zm-5-9zm11-4zm-6-1zm2-4zm9-1zm-10-4zm10-4zm0-1zm-10-1zm-6-4zm2-2zm2 0zm1-2zm0-13zm11-2zm-14-3zm10-4zm0-12zm-9-6zm-2-5zm12-2zm1-1zm-1-1zm-14-1zm3-1zm9-1zm-10-6zm8-3zm-4-4zm12-1zm-10-7zm1-1zm5-1zm-5 0zm-4-3zm-4-7zm1-3zm3-4zm14-1zm-10-2zm-3-1zm11-1zm2-2zm-6-6zm-8-1zm13-2zm-11-2zm9-2zm-1-1zm-5-2zm-8 0zm2-3zm15 0zm0 0zm0-2zm-6-1zm-12-1zm6 0zm8-6zm-6 0zm-6-1zm11-8zm-9-5zm8-3zm5-3zm-9-6zm-5-3zm-2-3zm13-5zm0-1zm0-2zm-9-1zm4-1zm4-1zm1-4zm1-11zm-5 0zm-11-1zm16-2zm-10-1zm-1-3zm-2-3zm4 0zm11-8zm-15 0zm9-1zm-12-1zm7-1zm-2 0zm-2-3zm9-4zm-7-5zm-1-3zm7 0zm-1-2zm3-5zm-4 0zm5-1zm-5-1zm3-3zm-9-1zm15-9zm-17-10zm2-1zm13 0zm-1-4zm-13-1zm13-1zm-10-4zm4-7zm7-4zm-8-3zm6 0zm2-2zm-13-2zm5 0zm3-1zm-2 0zm-6-5zm10-8zm-4 0zm3-5zm-3 0zm10-6zm-10 0zm-5-3zm-3 0zm10-6zm-10 0zm9 0zm-3-3zm4-3zm-7-3zm7-1zm-5-1zm-1-4zm10-5zm3-4zm-8-3zm7 0zm-8-4zm-8 0zm9-1zm6 0zm-15-5zm0-5zm12 0zm-12-2zm6-2zm-2-11zm-4-3zm12 0zm-6-3zm7 0zm5-6zm-14-2zm3-13zm-5-6zm0-6zm7-1zm0 0zm-7-2zm-3-1zm19-5zm-12 0zm7 0zm0-1zm-9 0zm-1-8zm-2 0zm10 0zm-2-1zm8-12zm19-7zm-4 3zm-9 6zm14 6zm-10 10zm6 3zm-7 5zm8 1zm0 4zm-12 1zm13 6zm-2 0zm-5 2zm9 6zm-13 4zm14 2zm-19 0zm7 12zm12 2zm-6 4zm-8 0zm10 5zm-7 0zm8 3zm-15 7zm12 2zm2 0zm2 12zm-17 2zm16 0zm-2 3zm-10 1zm6 1zm-4 0zm2 0zm11 1zm0 2zm-5 1zm5 5zm-14 7zm-3 0zm5 1zm5 3zm-3 3zm-6 0zm7 14zm-10 1zm10 2zm2 1zm1 4zm-5 1zm8 4zm-12 2zm7 6zm-9 0zm4 0zm-4 2zm9 0zm7 1zm-3 1zm1 0zm1 2zm-1 11zm-16 1zm5 7zm-3 12zm11 0zm-11 11zm13 1zm-15 1zm6 7zm-1 1zm0 4zm2 14zm-4 0zm12 6zm-14 4zm15 3zm3 2zm-5 0zm-1 10zm1 0zm-3 3zm-7 3zm3 0zm-3 6zm4 0zm-6 4zm12 7zm-10 7zm1 5zm14 1zm-19 9zm14 1zm-4 2zm-2 0zm3 1zm-7 4zm2 3zm-2 1zm3 4zm4 0zm-8 6zm13 3zm3 10zm-18 1zm8 2zm-6 4zm5 1zm11 3zm0 5zm-19 1zm10 4zm-4 2zm5 5zm-4 4zm1 2zm-1 12zm8 9zm3 0zm-3 1zm4 1zm-6 1zm-9 9zm9 4zm-2 6zm-11 1zm11 5zm-3 0zm-5 11zm1 0zm6 13zm9 5zm-15 1zm9 4zm1 0zm-8 5zm-3 8zm-3 1zm15 5zm4 0zm-12 4zm9 4zm-15 0zm4 2zm-4 4zm7 10zm6 0zm22 18zm-2-7zm2-2zm-6 0zm7 0zm-3-7zm1-2zm3 0zm-5-1zm-5-2zm1-8zm2-2zm-5-4zm9-13zm-12-9zm-3-2zm19-3zm-17-4zm8-3zm6-1zm-11-1zm6-2zm-8-9zm7-6zm8-1zm1-4zm-3-1zm-12-1zm1-1zm-3-2zm5-2zm0-2zm-3 0zm14-7zm-4-2zm-7-5zm3-1zm-2-5zm-7-10zm15-1zm-12-1zm9-1zm-6-1zm-1-3zm-2-4zm11-3zm-5 0zm-3 0zm-4-1zm9-7zm2 0zm-1-2zm5-3zm-14-4zm-1-2zm7-10zm-3-1zm-5-14zm6-10zm-6-1zm16-3zm-15-1zm15-3zm-18-1zm2-6zm3-1zm3-4zm-3-1zm12-1zm-6-2zm-10-3zm8-5zm-6-5zm11-3zm-2-4zm-7-1zm7-2zm3 0zm-12-1zm8-1zm-4-3zm-6-2zm5-7zm13-8zm-6-1zm-8-1zm5 0zm-7-2zm14 0zm2-2zm-17-1zm15-4zm-13-3zm1-1zm11 0zm-14-7zm0-1zm9-3zm-6-6zm12-3zm-5 0zm-9-2zm12-4zm-8-16zm2-2zm7-3zm-1-1zm-2-7zm-12-1zm14-2zm-12 0zm2 0zm0-1zm13 0zm-5 0zm-1-3zm-3-2zm-9-1zm15 0zm-5-2zm-5-6zm0-2zm6-1zm-11 0zm17-5zm-2-1zm-10-4zm7-1zm-2-14zm8-1zm-14-1zm13-1zm-17-3zm11-2zm-2 0zm5-3zm-1-1zm-6-4zm4 0zm-6-1zm3 0zm9-1zm-5 0zm0-4zm7-1zm-9-1zm-8-4zm7-7zm-9-1zm10-4zm-1-4zm3 0zm-3-4zm-2-2zm10-3zm-14-2zm13-2zm-13 0zm7-7zm-9-2zm10-14zm-2-5zm10-3zm-3-10zm-15-3zm-1-1zm6-1zm6-2zm0-10zm-2-2zm-7-2zm1-1zm2-1zm-3-1zm-2-1zm7-1zm4-1zm-1-1zm6 0zm-7-4zm2-1zm7-1zm-1 0zm-14-6zm15-2zm-14-2zm8-1zm-5-3zm9-4zm-3-165zm-1 0zm-7-7zm3-3zm8-1zm1-1zm-8-1zm8-8zm-7 0zm2-1zm-5-1zm9 0zm-11-7zm13-1zm-7-2zm3-4zm-1-4zm25-4zm-13 4zm3 2zm9 1zm-16 1zm14 2zm0 1zm-7 3zm0 4zm-5 1zm3 1zm-7 0zm19 1zm-16 0zm16 1zm-2 1zm-4 1zm1 0zm0 1zm5 0zm-14 3zm5 0zm7 1zm1 0zm-7 2zm-6 1zm-5 0zm9 0zm-5 0zm-1 2zm10 1zm-3 0zm7 1zm-3 0zm-2 11zm-1 1zm4 1zm-13 3zm-1 2zm4 1zm5 0zm-5 7zm1 11zm-1 1zm3 7zm-1 1zm0 8zm1 5zm-1 8zm1 1zm1 5zm-4 4zm1 5zm4 15zm-3 1zm-1 2zm1 0zm3 2zm-6 0zm6 4zm-3 9zm-1 4zm2 4zm0 1zm-3 13zm3 2zm2 1zm-3 6zm1 4zm-1 1zm-6 2zm8 1zm-2 2zm-3 4zm5 1zm7 13zm-15 0zm7 2zm0 3zm7 0zm-9 1zm-4 1zm8 3zm2 4zm-4 6zm1 1zm9 0zm-11 0zm2 3zm10 0zm-12 1zm-4 8zm5 0zm-2 1zm5 0zm-9 1zm6 3zm11 3zm-16 0zm1 1zm7 1zm2 3zm-8 4zm7 0zm-9 8zm9 2zm2 2zm-1 7zm-9 0zm11 6zm4 3zm-5 2zm-13 2zm17 5zm-11 3zm8 5zm-1 3zm-6 2zm-3 4zm4 1zm3 0zm-10 1zm7 5zm10 7zm-12 4zm7 6zm0 1zm-10 2zm5 4zm4 2zm3 2zm-13 1zm12 2zm3 1zm-12 2zm7 2zm-4 1zm3 1zm-10 4zm15 2zm-10 0zm-6 2zm9 0zm8 1zm-13 1zm2 1zm1 0zm-8 2zm14 5zm-7 5zm12 1zm-12 1zm-7 1zm11 1zm-9 0zm8 1zm-1 8zm8 1zm-6 0zm5 1zm-8 1zm-8 4zm2 0zm-2 3zm2 5zm4 0zm5 1zm7 8zm-6 4zm6 0zm-3 3zm-4 1zm6 1zm-10 2zm10 2zm-17 9zm0 2zm0 2zm15 1zm4 11zm-1 1zm-15 3zm11 0zm4 4zm-7 0zm5 1zm-8 0zm1 4zm-1 4zm6 4zm-5 1zm-1 0zm3 2zm5 1zm0 1zm3 5zm-6 2zm-1 2zm5 1zm-11 8zm-4 13zm14 1zm-16 1zm6 1zm12 4zm-11 2zm3 0zm-6 4zm10 2zm-3 3zm-1 1zm-1 1zm7 2zm-13 0zm7 2zm9 9zm-12 3zm9 9zm-9 1zm10 2zm-11 2zm5 1zm4 1zm-11 1zm10 6zm-1 4zm-11 7zm6 1zm-6 6zm13 6zm-3 0zm0 0zm7 1zm-1 0zm-5 5zm-12 1zm5 1zm10 4zm-14 3zm4 2zm0 2zm12 2zm0 4zm-8 2zm4 1zm-3 8zm-3 0zm4 1zm3 2zm-7 1zm9 5zm0 4zm-7 4zm-3 2zm6 6zm-8 1zm8 2zm-12 0zm8 2zm-9 2zm1 1zm9 2zm-4 3zm8 1zm-5 1zm-5 1zm6 6zm8 1zm-2 3zm-3 2zm4 4zm-3 3zm-13 2zm-1 13zm11 3zm-8 0zm-3 4zm3 6zm1 6zm6 2zm7 5zm-16 4zm7 3zm-4 4zm-4 1zm14 2zm-8 1zm-1 7zm8 1zm2 3zm1 2zm17 5zm4-2zm-12-3zm12-1zm1-12zm-2-4zm-7-3zm9-4zm-7-3zm1-29zm5-7zm-5-3zm-1-4zm-10-1zm13-1zm-8-3zm9-4zm-4 0zm7-6zm-10-2zm6-2zm3 0zm-1 0zm2-1zm-18-1zm16-5zm-13-4zm6-3zm9-4zm-5-4zm-12 0zm16-7zm-6-1zm-11-2zm4-1zm3-1zm5-2zm3 0zm-10-3zm4-2zm-8-1zm17-6zm-1-1zm-8 0zm-8-3zm14-1zm-1-3zm-13-3zm12-1zm1-1zm-14 0zm5-6zm9-1zm-13-4zm10-5zm-2-6zm-5 0zm-1-1zm1 0zm-3-1zm11 0zm5 0zm-6-1zm0 0zm0-1zm-1-2zm-10-2zm13-1zm-7-3zm0 0zm9-14zm-11-1zm-4 0zm16-3zm-10 0zm7-3zm-6-1zm10-2zm-6-2zm2-2zm2-2zm-1-1zm1-17zm-1-4zm5-3zm0-1zm-3 0zm-12-11zm-4 0zm1-7zm4-2zm-5-2zm17-4zm-11-4zm6-6zm5-3zm0-2zm-10-4zm-1-2zm13-3zm-11-1zm11-1zm-17-1zm7-1zm-2-4zm-7-8zm2-3zm8-1zm7-1zm-1-2zm-8-4zm-2-1zm7-1zm3-5zm-16-3zm10-5zm0 0zm-6-4zm4-1zm5-1zm-2-6zm5-3zm2-5zm-14-2zm0-2zm14-1zm-13-9zm-1-2zm12-9zm-1-1zm4-1zm-1-3zm1-8zm-1-4zm-8-3zm0-3zm-10-1zm17-3zm-13-1zm3-2zm-1-12zm11-3zm-14-1zm15-3zm-4-2zm-3-1zm3-6zm-13-1zm12-2zm1-5zm-2-1zm1-1zm5-1zm-8-3zm-4-1zm6-1zm-9-2zm9-1zm-10-2zm15 0zm-16-2zm3 0zm3-2zm8-8zm-10 0zm6-4zm4-1zm-8-3zm4-10zm1 0zm-9-6zm9-1zm-9 0zm-2-1zm1-7zm16-3zm0-3zm-5-2zm6-7zm-15-7zm11 0zm-8-3zm10 0zm-8-1zm4-1zm-2 0zm6-1zm-12-1zm1-4zm-1-5zm14 0zm-11-1zm9-2zm0-1zm-14-1zm13-1zm-16-167zm3-2zm0-3zm-3-4zm1-3zm7-1zm1-1zm-7-5zm-1-3zm9-6zm-7-3zm-2 0zm1-1zm-1-4zm5-1zm19 24zm-1 5zm10 0zm3 1zm-2 0zm-8 121zm4 3zm0 4zm-4 1zm2 3zm1 1zm-1 63zm8 0zm-10 2zm-6 16zm3 1zm6 4zm-9 0zm16 11zm-9 1zm-8 5zm17 2zm-12 0zm5 4zm2 2zm-1 1zm0 0zm-3 2zm5 0zm0 0zm1 2zm-2 2zm1 5zm5 0zm-2 0zm-5 6zm3 3zm-9 5zm12 8zm1 2zm-8 4zm6 1zm-6 1zm3 1zm-13 3zm12 0zm5 0zm-9 3zm-3 0zm9 0zm-13 2zm4 3zm13 4zm-7 2zm-9 4zm14 1zm-3 6zm-1 0zm-7 3zm-3 2zm6 0zm-8 4zm10 1zm-5 0zm10 1zm-15 4zm15 1zm-1 0zm-10 1zm12 1zm-8 1zm-3 2zm0 3zm-4 1zm1 4zm-1 1zm4 12zm13 1zm-12 7zm7 6zm1 4zm2 4zm-7 0zm-3 3zm-2 1zm-1 3zm10 6zm-12 2zm-1 1zm5 9zm9 2zm-6 3zm9 1zm-3 0zm3 2zm-12 0zm14 3zm-8 7zm3 8zm-3 3zm1 5zm6 0zm-6 1zm-1 2zm-6 2zm7 3zm-12 4zm1 4zm6 2zm7 4zm-6 0zm1 2zm10 0zm-6 13zm-2 1zm0 4zm3 0zm0 11zm-6 0zm-3 4zm2 1zm0 4zm11 3zm0 0zm-9 11zm7 1zm2 7zm-14 1zm7 2zm6 12zm-15 0zm3 3zm5 2zm7 2zm2 3zm0 2zm-17 4zm13 1zm3 5zm-8 1zm-9 0zm8 0zm8 2zm-11 8zm6 3zm-2 6zm4 5zm2 4zm0 6zm1 2zm-5 1zm-7 3zm12 5zm1 0zm-11 7zm6 4zm-4 1zm-9 4zm19 4zm-14 12zm9 1zm-10 4zm6 2zm-1 2zm5 1zm-5 1zm-7 4zm9 7zm2 13zm4 2zm1 0zm-10 1zm1 2zm3 2zm-3 1zm7 0zm-12 8zm1 1zm-1 0zm5 1zm1 3zm9 0zm-10 3zm4 1zm2 1zm-4 8zm-6 0zm1 8zm-6 13zm10 0zm8 1zm-15 1zm12 1zm-1 1zm-3 3zm-6 0zm15-11zm10-1zm6-6zm0-1zm-9-3zm2 0zm-8-1zm8-1zm8-2zm-15-2zm5-2zm6-4zm-4-4zm2-1zm4-2zm-4 0zm1 0zm0-1zm-8-3zm1-1zm7-1zm7-1zm-8-3zm7-1zm-14 0zm8-5zm-1-2zm-7-2zm0-3zm15 0zm-15-1zm-1 0zm2-3zm-1 0zm1-1zm7-1zm-9-1zm1-1zm9-3zm5-1zm-17-3zm13 0zm3-1zm1-1zm-14-3zm13-1zm-10-1zm2-1zm1-5zm-5-1zm9-1zm-11-11zm3 0zm-2-4zm10-1zm5-2zm-19-3zm17-1zm-8-1zm10-5zm-12-2zm0 0zm10-1zm-13-2zm5-1zm-5-1zm14-3zm-5-2zm4-4zm-4 0zm-4-3zm-7-1zm14-1zm-12-4zm15-2zm-3-8zm-9-1zm1-7zm0-3zm5-2zm-1 0zm5-3zm-9 0zm4-4zm-12-4zm9-6zm8-4zm-17-1zm18-5zm-16-4zm2 0zm1-1zm8-2zm0-1zm-3-3zm-4-2zm4-2zm-9-4zm0 0zm11-1zm-9-18zm-2-10zm18-1zm-5-2zm1-4zm-13-6zm15-4zm-16-1zm6-6zm-2-1zm11-5zm-11-1zm11-4zm0-1zm-11 0zm1-6zm10-6zm-5 0zm-7-10zm1-5zm14-5zm-11 0zm-8-1zm10-2zm8 0zm-12-19zm0-1zm-5-3zm11-1zm-12-6zm15 0zm2 0zm-9-1zm2-6zm4 0zm-3-2zm-3-1zm-5-8zm-3 0zm18-1zm-4-2zm-12-1zm-2-1zm2-4zm3-2zm-2 0zm-3-2zm1-3zm16-4zm1-1zm-15-1zm-3-6zm12-2zm2-3zm-8-2zm11-1zm-17-2zm3-6zm5-2zm-8 0zm3-2zm13-2zm-13-7zm-2-1zm2-11zm4-2zm-2-1zm10 0zm-12 0zm9-8zm-1-3zm-2-1zm-1-1zm-1 0zm11-2zm-3-1zm-14 0zm16-3zm-17-17zm15 0zm0 0zm-5-6zm6-7zm-8-1zm0-3zm-1-2zm-1-3zm0 0zm1-10zm8 0zm0-1zm2-4zm-2-3zm4-1zm-5-7zm-5-3zm1 0zm6-2zm-13-2zm6-2zm3-1zm5-1zm-15-2zm3 0zm4-9zm5 0zm-5-2zm6-8zm-10-4zm6-169zm27-4zm-7 6zm-1 5zm3 0zm-6 166zm-6 2zm2 0zm14 3zm-7 2zm8 3zm-6 2zm-7 4zm10 3zm-5 5zm-3 2zm7 0zm3 4zm-5 1zm-1 1zm-9 5zm15 1zm-8 7zm4 1zm-7 2zm8 1zm4 2zm-17 3zm1 1zm10 2zm-8 3zm5 0zm-9 1zm6 4zm-2 3zm11 3zm-15 0zm18 0zm1 6zm-16 1zm7 5zm-8 13zm11 2zm5 0zm-3 4zm-5 0zm-6 1zm2 1zm6 3zm6 1zm-16 2zm10 5zm-9 5zm-1 2zm4 8zm-1 11zm13 2zm1 10zm-19 7zm10 0zm-3 1zm9 2zm2 2zm-8 1zm0 3zm-3 6zm9 1zm-16 2zm5 0zm14 4zm-3 2zm0 2zm-7 0zm-7 2zm1 7zm1 4zm-3 3zm8 1zm-5 3zm11 2zm-11 3zm-4 2zm4 8zm11 14zm-13 0zm17 2zm-9 4zm-10 2zm1 1zm13 1zm-2 1zm2 5zm-3 2zm1 3zm1 1zm-13 5zm15 1zm4 1zm-16 4zm14 1zm-3 0zm-1 4zm6 0zm-4 0zm-6 7zm8 7zm-12 2zm12 8zm-7 4zm9 4zm-10 3zm7 1zm-2 0zm-2 6zm6 24zm-7 3zm-6 1zm4 1zm5 5zm1 2zm-15 0zm8 2zm1 1zm-3 2zm9 1zm-7 4zm-1 4zm-5 0zm-2 2zm16 2zm-7 6zm-9 5zm6 3zm-2 11zm13 0zm-6 2zm1 0zm-8 3zm13 5zm1 0zm-10 3zm-5 1zm-3 1zm6 1zm6 3zm4 6zm2 2zm-18 5zm0 1zm15 6zm-15 1zm18 2zm-17 4zm4 6zm-3 3zm13 13zm-14 0zm13 1zm-6 1zm-1 1zm6 4zm-5 7zm10 1zm1 0zm-4 2zm-1 0zm-6 2zm-6 0zm10 0zm-6 7zm5 5zm3 0zm3 0zm-10 2zm6 1zm3 4zm-13 4zm3 1zm13 4zm-15 12zm-1 3zm24-30zm-3 0zm2-2zm3-4zm-3-5zm1-1zm6-1zm-2-4zm-11-3zm12 0zm-7-1zm0-4zm-5-1zm6-1zm-4-8zm17-6zm-9-3zm5 0zm-9 0zm11-4zm-17-5zm10-9zm2 0zm-4-3zm-5-4zm7-3zm-4-1zm0-1zm7-3zm0-2zm-7-1zm12-4zm-1-5zm0-6zm-15-5zm1-5zm-3-4zm1-4zm0-4zm5-6zm-6-4zm19-3zm-12 0zm5-5zm-3-1zm10-5zm-13 0zm4-1zm9-3zm-18-3zm5-1zm11-3zm-11-8zm3-4zm2-4zm-8-1zm15-4zm-9-5zm-4 0zm1-2zm3-3zm1-5zm6-5zm-7-2zm-9 0zm13-1zm4-2zm2-2zm-3-5zm-4-5zm3-2zm-9-2zm8-3zm-9-2zm8-1zm-12-1zm5-1zm2-1zm9-2zm0-1zm-9 0zm-8-4zm4-1zm15-9zm-10-1zm-4-3zm7-7zm3-1zm-6 0zm3-1zm1-5zm3-6zm2-1zm-15-7zm-2-2zm1-4zm15 0zm-15-1zm-1 0zm15-8zm-2-1zm-4-1zm1 0zm0-1zm2-1zm6 0zm-6 0zm4-2zm-6-5zm7-8zm-17-5zm15-6zm-15-3zm11-2zm-11-8zm11-1zm-11-4zm3 0zm15-1zm-5-3zm5-1zm-15-1zm14-1zm-5-1zm2-2zm-11-1zm-3-6zm-1-2zm11-2zm-11-1zm0-3zm9-6zm8-4zm-11 0zm-4-1zm12-3zm-3-2zm-3-1zm8-1zm3-3zm-17-5zm16-3zm1 0zm-12-9zm-4 0zm4-4zm-2-6zm-3-1zm7-1zm-8-1zm0-2zm14-3zm-13-1zm15-1zm-3 0zm-8-1zm6-1zm1-7zm-12-3zm5 0zm1-1zm6 0zm3-4zm1-9zm-15-4zm2-2zm-4-4zm4-3zm7-8zm-3-2zm-2-10zm-5 0zm18-8zm-15-3zm2-1zm1-2zm8-146zm-11-11zm4-3zm2-4zm8 0zm-7-2zm3-1zm-3-1zm4 0zm-8-1zm0-1zm-7-1zm8 0zm6-2zm-14 0zm7-1zm8 0zm-7 0zm1-1zm0-3zm3-5zm0-1zm-5-1zm7-1zm1-137zm1-4zm22-23zm-2 4zm-12 1zm1 1zm12 2zm-10 2zm11 2zm-5 1zm0 5zm0 2zm-3 2zm3 2zm-3 0zm5 0zm-6 1zm-8 1zm12 0zm-2 2zm7 1zm-4 0zm5 1zm-9 1zm3 1zm3 1zm-5 1zm-2 1zm-4 2zm9 6zm-8 1zm12 2zm-15 3zm-1 1zm17 0zm-8 1zm2 2zm-8 4zm13 9zm1 1zm-1 25zm0 1zm0 17zm1 1zm0 8zm-3 0zm2 1zm-1 0zm-1 3zm1 1zm-3 13zm5 6zm-2 0zm0 2zm-3 2zm-1 2zm4 4zm-3 3zm-2 2zm-11 8zm16 2zm-14 0zm13 1zm-15 5zm8 1zm-4 2zm7 1zm-4 0zm-1 3zm1 10zm-7 4zm6 3zm0 0zm8 2zm-6 2zm2 3zm-6 1zm11 1zm-5 3zm5 1zm-7 1zm6 1zm1 8zm3 12zm-10 115zm8 5zm-7 1zm-6 1zm12 1zm1 2zm-8 0zm3 0zm-9 3zm3 1zm10 5zm-13 1zm13 2zm-16 12zm1 3zm2 4zm5 13zm-7 3zm-1 7zm10 5zm-7 2zm5 0zm0 1zm-3 5zm13 4zm-15 4zm-2 4zm6 8zm2 7zm0 8zm7 1zm-2 1zm-6 2zm0 2zm9 5zm-14 5zm14 5zm-10 7zm2 5zm9 2zm-18 5zm15 3zm-14 0zm14 2zm-9 6zm13 2zm-10 2zm4 0zm2 4zm2 0zm0 3zm0 0zm-5 2zm-2 1zm-10 11zm9 1zm3 5zm-9 2zm8 4zm-4 1zm-2 6zm3 0zm4 3zm6 5zm-16 0zm1 0zm9 4zm0 2zm3 0zm-9 1zm0 3zm12 4zm-9 3zm3 0zm-11 1zm15 2zm-14 6zm9 2zm0 3zm-7 8zm9 1zm-6 1zm-2 3zm8 4zm4 2zm-10 1zm-7 6zm3 5zm16 4zm-12 4zm-2 4zm12 1zm-13 6zm8 1zm-2 3zm-5 4zm9 3zm5 4zm-5 3zm1 3zm-8 4zm9 1zm-15 0zm15 1zm-13 2zm5 0zm9 2zm-14 2zm8 1zm-7 2zm6 2zm-5 6zm9 2zm1 0zm3 2zm-5 1zm-2 1zm3 1zm0 9zm-9 6zm-1 2zm-1 1zm3 2zm-4 0zm7 1zm-8 1zm12 3zm-13 5zm19 0zm-14 3zm-4 2zm3 6zm14 1zm-5 9zm-9 3zm11 6zm-12 1zm2 0zm5 3zm-6 2zm-4 0zm7 5zm11 2zm-11 11zm-2 4zm8 8zm1 0zm-2 3zm-2 2zm-10 5zm5 9zm19-32zm-1-5zm-2 0zm3-3zm8-2zm-10-2zm5-6zm3-1zm-8-1zm8-1zm-1-4zm0-1zm-4 0zm1-2zm13-1zm-17-2zm12-2zm1-3zm-14-2zm15-3zm-7-1zm5-1zm-3-7zm6 0zm-1-2zm-12-1zm15-1zm-10-4zm7 0zm-11-3zm1-1zm1-2zm-3-3zm9-1zm-11-2zm2-2zm3-5zm4-4zm-1 0zm1-5zm0-1zm-4-1zm-7-3zm6-4zm-3-6zm4-3zm-3-4zm-3-1zm-1-1zm13-2zm1-2zm-12 0zm15-1zm-13-1zm3-4zm-4-1zm10 0zm5-4zm-16 0zm8-4zm-9-4zm16-6zm2-9zm-14 0zm0-1zm-1-2zm11-2zm4-2zm-2-5zm-11-2zm10 0zm-4-9zm2-1zm-13 0zm2-2zm9-3zm-4-1zm10-1zm-4-11zm-4-1zm-8-3zm-2-2zm16-2zm-13-2zm1-1zm1-5zm3 0zm11-1zm-4-1zm-12-1zm10 0zm-11-1zm3-4zm11-7zm-16-2zm6-1zm-4-5zm13-2zm0-2zm-2 0zm-9-6zm6 0zm6-3zm-13-3zm4 0zm-2-1zm13-2zm-3-2zm-11-6zm6-4zm8-2zm0 0zm-18-2zm13-2zm-1-1zm-10-5zm0-2zm5 0zm-1-8zm-5-2zm13-7zm-11 0zm6 0zm10-4zm-14-1zm-3-3zm10-16zm-1-2zm8-4zm-8-1zm2-1zm-9-4zm2 0zm11-5zm-10-2zm-2-2zm-3-11zm11-2zm-9-2zm-2-2zm16-1zm0-4zm-13 0zm-4-2zm4-3zm10-1zm-13-2zm-2-2zm10-3zm-6-5zm5-2zm3-2zm7-6zm-19-6zm8-4zm2-1zm8 0zm-15-2zm4 0zm12-1zm-18-2zm10-9zm-10 0zm14-4zm0-1zm-2-2zm-3-3zm-10 0zm3-4zm0-3zm15-1zm-8-4zm6-1zm-6-40zm8-9zm-2-3zm1-22zm-3-17zm-6-1zm8-2zm-5 0zm2-6zm-1-10zm-6-2zm2-3zm-2-5zm-6-4zm0-3zm0-6zm1-1zm1-82zm1-15zm-1-5zm0-5zm0-3zm-2-4zm3-2zm-1-6zm6-6zm-6-1zm1-2zm2-3zm-2-2zm-1-7zm6-1zm-3 0zm8-1zm-4-2zm4-4zm-2-4zm-2-2zm0-1zm8-4zm-4 0zm-10 0zm0-1zm8-1zm-11 0zm11-1zm7-3zm-7-1zm-2-1zm0 0zm8-1zm-9 0zm7-1zm-5 0zm-6 0zm11-2zm4-3zm-16-1zm16-2zm-12-1zm4-1zm-10 0zm15 0zm-7 0zm-2-1zm3-3zm6 0zm-4-2zm-12 0zm17-2zm2-1zm-6-1zm-1-1zm7-2zm-16-2zm5-1zm-1-2zm5 0zm-5-3zm-1-1zm3-1zm0-3zm6-2zm10 4zm3 4zm-8 5zm2 0zm-1 7zm11 7zm2 2zm1 2zm-13 2zm7 3zm6 1zm-3 5zm-7 7zm-5 13zm9 180zm-3 11zm7 2zm-3 6zm-6 1zm3 1zm8 0zm-4 3zm-5 3zm2 3zm-8 2zm9 1zm9 0zm-3 2zm-6 1zm2 0zm6 2zm-1 0zm0 14zm-14 2zm13 10zm-12 35zm16 2zm-3 1zm2 1zm-14 4zm-4 2zm14 3zm-1 1zm-13 3zm2 3zm12 8zm-7 17zm-6 0zm-1 0zm10 5zm-6 2zm0 2zm2 3zm7 9zm-12 1zm1 8zm16 1zm-12 2zm13 5zm-9 0zm4 0zm-2 1zm-2 2zm4 1zm1 0zm2 1zm-4 0zm1 2zm-1 2zm-11 1zm4 7zm8 4zm-14 2zm17 3zm-3 0zm-3 5zm-9 2zm4 8zm-1 6zm0 9zm-2 4zm3 1zm12 3zm-5 2zm3 2zm-10 2zm9 3zm-6 0zm9 3zm-16 3zm14 6zm2 8zm-7 0zm3 0zm-7 1zm10 5zm-13 4zm-3 4zm4 3zm6 2zm8 0zm-9 11zm-3 0zm-7 0zm2 8zm16 3zm-12 3zm3 0zm-9 1zm11 3zm8 3zm-17 6zm13 6zm1 7zm-1 0zm3 7zm-6 4zm6 5zm-3 4zm-12 4zm13 11zm-16 9zm2 0zm15 4zm-17 0zm5 4zm5 2zm9 1zm-11 1zm-4 3zm3 1zm10 1zm-3 6zm-1 1zm-12 1zm1 0zm3 5zm-4 7zm14 6zm-12 4zm1 1zm6 1zm5 1zm4 2zm-2 1zm1 7zm-17 2zm10 1zm-10 1zm3 4zm-1 2zm-1 4zm11 7zm-9 2zm3 3zm-2 2zm3 0zm-4 2zm0 1zm-1 23zm-3 8zm22-63zm4-4zm-5-2zm12-4zm1-2zm1-3zm-9-4zm9-5zm-2-4zm4 0zm-3-1zm4 0zm-17-2zm14-7zm-2-4zm-8-7zm11-3zm-14-6zm10-4zm3-2zm-8-1zm6-2zm-5-7zm3-9zm2 0zm-9-4zm8-5zm-3-1zm-5-3zm9 0zm6-2zm-16-1zm14-5zm-10-1zm4-3zm-4-2zm7-2zm-1-1zm-5-1zm-4-2zm9-2zm-13-1zm2-3zm4-1zm9-2zm1-9zm-3 0zm-2-3zm8-5zm-11-7zm5-7zm1-6zm0-1zm-11-8zm16-1zm0-1zm-18-3zm0-3zm3-2zm2-5zm12-4zm0-2zm-4-7zm-13-1zm-1-2zm4-2zm0-3zm14 0zm-13-6zm4-4zm-8-1zm1-3zm16-2zm-6-4zm-8-1zm14-1zm-6 0zm1-2zm6 0zm-17-5zm-1 0zm2-2zm8 0zm-9-3zm11-1zm-8-2zm5-3zm-1-2zm1-12zm3-4zm-4-2zm2-3zm-6 0zm7 0zm-2-25zm7 0zm-9-1zm7 0zm1 0zm-12-1zm-3 0zm6-1zm-7-3zm14-6zm-9-1zm0-2zm14 0zm-7-1zm-10-2zm12-1zm0-5zm-6-3zm-2-1zm-1-4zm4-5zm2-1zm-9-3zm15-7zm2-1zm-1-5zm-10-8zm6-3zm2-3zm-1-15zm-7-12zm3 0zm-4-3zm2-8zm-2 0zm7-2zm-10 0zm1-4zm2-5zm14 9zm1 4zm6 1zm-4 3zm0 11zm3 16zm-1 2zm-1 1zm7 2zm4 2zm-14 1zm4 8zm11 0zm-6 1zm-6 0zm-1 1zm6 1zm1 0zm6 8zm-7 8zm-9 1zm5 0zm-6 4zm18 2zm-2 4zm-16 2zm19 2zm-7 4zm-7 1zm8 3zm-1 8zm-1 3zm-6 1zm-4 3zm2 2zm13 0zm-14 4zm3 0zm-5 6zm5 11zm3 1zm5 0zm-7 3zm7 2zm-8 0zm10 2zm1 7zm-16 1zm9 1zm-1 2zm-8 9zm1 1zm17 1zm-16 0zm8 0zm-1 11zm4 5zm-9 5zm10 3zm-5 1zm-6 2zm12 1zm-11 2zm14 11zm-10 1zm7 1zm-10 5zm1 1zm-6 1zm4 4zm-1 1zm8 1zm-7 2zm0 3zm10 0zm-7 7zm-3 0zm0 9zm13 3zm-7 4zm-5 0zm-1 4zm-2 5zm-2 3zm12 5zm-10 0zm8 3zm2 1zm-4 5zm10 4zm-17 1zm2 10zm7 1zm-7 7zm9 9zm-11 0zm6 2zm3 1zm-3 3zm9 5zm-15 3zm9 6zm3 3zm-12 5zm12 4zm-13 1zm7 1zm9 2zm-7 6zm13-19zm0-7zm1-1zm3-3zm0-29zm1-1zm-4-1zm11-2zm-12 0zm-2-1zm1-1zm16-4zm-2-2zm-2-1zm-1-1zm-2-2zm8-3zm-4 0zm-1 0zm6-1zm-7-4zm0-1zm2 0zm-9-1zm7-9zm1-14zm0-5zm-4 0zm9 0zm-17-3zm2-2zm-1-7zm-1-8zm10 0zm-10-3zm14-5zm-1-3zm-8-2zm4-7zm0-6zm-2-3zm3-4zm8 0zm-7-9zm5-1zm-14-2zm5-2zm6-2zm-6-1zm-1-1zm9-1zm-13-1zm5-2zm-8-1zm13-7zm-13 0zm4-3zm4-15zm6-2zm-8-3zm7-1zm5-2zm-8-10zm-1-2zm-5-2zm13 0zm-12-2zm-1-6zm1-4zm8-2zm-7-2zm6-3zm3-1zm-6-4zm-3-16zm9-3zm-12-4zm-1-8zm2 0zm2-4zm4-3zm5-8zm7 18zm9 5zm-5 0zm-4 3zm4 1zm9 1zm-11 15zm2 1zm-4 6zm12 11zm-11 1zm2 3zm4 6zm-3 3zm-6 7zm0 5zm7 2zm9 2zm0 1zm-11 0zm0 1zm13 2zm1 2zm-10 1zm9 4zm-2 2zm-7 2zm-5 8zm0 1zm11 3zm-2 0zm3 1zm-12 0zm5 1zm2 3zm3 1zm-4 5zm-3 1zm9 4zm3 3zm-2 0zm1 1zm-11 3zm7 1zm-9 2zm-2 0zm2 1zm4 6zm8 0zm0 2zm-17 1zm19 1zm-15 8zm8 3zm5 2zm-2 3zm-8 2zm-1 10zm-3 1zm0 5zm1 0zm10 3zm-6 7zm-6 1zm-1 2zm4 0zm15-48zm6-18zm-4-11zm-1-5zm5-2zm-5-9zm5-7zm-3-3zm4-7zm-4-1zm0-6zm4-15z" fill="none" stroke="#8b1452" stroke-width="12.0" stroke-linecap="round"/>
<path transform="scale(.1)" d="M3679 3683zm0-2zm0-3zm-6-1zm-3-2zm2-2zm0 0zm-1 0zm27 12zm-5 0zm-7 1zm8 1zm-10 3zm-3 2zm15 1zm-5 0zm7 0zm-3 1zm-4 1zm4 0zm-1 1zm-9 1zm10 0zm-6 1zm-3 1zm13 1zm-11 1zm10 1zm-16 1zm3 0zm14 0zm-8 0zm6 1zm2 1zm-5 2zm1 6zm1 1zm3 1zm-3 0zm-6 3zm29 3zm-18 0zm5-5zm-1-3zm8-1zm-6-1zm-5-2zm12-1zm-9-5zm3-2zm-8 0zm10-1zm-10 0zm5-1zm5-2zm24 42zm-10 2zm15 8zm-10 12zm9 10zm17 69zm0-2zm3-4zm0-1zm-3-2zm-3-2zm-5 0zm10-19zm-9-10zm5-9zm2-7zm-1-6zm-7-1zm-1-3zm-6-4zm8-13zm-3-4zm-2 0zm1-4zm26 13zm-4 1zm-4 3zm11 3zm-9 0zm-1 14zm12 0zm-4 1zm6 6zm-4 4zm3 1zm3 1zm-12 1zm6 2zm-5 1zm7 1zm-15 1zm11 0zm5 3zm-13 0zm9 1zm-3 0zm2 0zm5 1zm-3 0zm-8 0zm8 1zm-12 1zm-1 1zm11 0zm-2 1zm-4 0zm8 4zm-10 0zm-1 0zm6 0zm-1 3zm9 1zm-3 0zm3 1zm-10 0zm4 0zm-3 1zm12 1zm-8 2zm-6 0zm7 3zm-8 0zm1 0zm8 2zm3 0zm-5 0zm-2 2zm1 1zm-3 3zm-7 1zm4 1zm-2 0zm17 7zm-16 2zm14 2zm2 2zm12 2zm7-1zm-4-1zm-4 0zm-8-1zm7-5zm7-2zm-16-1zm8-3zm4-1zm-8-1zm0-1zm2 0zm-2-1zm12-2zm-15-2zm7 0zm-6 0zm-1-2zm0-1zm3 0zm8 0zm-8-1zm11-1zm0 0zm-2 0zm-6-1zm12 0zm-11-1zm1-2zm8 0zm-2 0zm-5-6zm-8-1zm5-2zm6-1zm5-1zm-10 0zm6 0zm-7 0zm12-1zm-9-2zm6 0zm-13 0zm-3-1zm19 0zm0-1zm-3 0zm-2-1zm-4 0zm5-1zm-13 0zm14-2zm-8-2zm-2-2zm12-2zm-15 0zm4 0zm6-1zm1-1zm-13 0zm18-1zm-11-3zm6 0zm-10-1zm-1 0zm15-1zm-13-1zm-4 0zm2-2zm0-1zm19 8zm15 1zm-17 2zm15 2zm-7 1zm-6 2zm12 1zm-2 1zm-10 1zm5 1zm7 0zm-4 2zm-4 2zm11 1zm-16 0zm8 3zm-1 2zm-2 3zm-6 0zm11 0zm-1 3zm3 0zm-8 0zm1 2zm-3 2zm1 1zm7 3zm-2 2zm0 1zm-7 1zm5 2zm-7 5zm0 2zm17 1zm-12 5zm20-27z" fill="none" stroke="#1b9847" stroke-width="12.0" stroke-linecap="round"/>
<text x="416.90" y="314.60" font-size="7.5" fill="#242424" stroke="#242424">chr16q</text>
<rect x="416.00" y="318.00" width="103.60" height="98.80" fill="#fff" stroke="#8c8c8c" stroke-width="0.48"/>
<text x="422.50" y="426.10" font-size="7.5" text-anchor="middle" fill="#333333" stroke="#333333">−5</text>
<text x="446.00" y="426.10" font-size="7.5" text-anchor="middle" fill="#333333" stroke="#333333">0</text>
<text x="469.50" y="426.10" font-size="7.5" text-anchor="middle" fill="#333333" stroke="#333333">5</text>
<text x="493.00" y="426.10" font-size="7.5" text-anchor="middle" fill="#333333" stroke="#333333">10</text>
<text x="516.50" y="426.10" font-size="7.5" text-anchor="middle" fill="#333333" stroke="#333333">15</text>
<text x="412.80" y="343.60" font-size="7.5" text-anchor="end" fill="#333333" stroke="#333333">5</text>
<text x="412.80" y="378.90" font-size="7.5" text-anchor="end" fill="#333333" stroke="#333333">0</text>
<text x="412.80" y="414.20" font-size="7.5" text-anchor="end" fill="#333333" stroke="#333333">−5</text>
<path d="M422.50 416.80v2M446.00 416.80v2M469.50 416.80v2M493.00 416.80v2M516.50 416.80v2M416.00 340.90h-2M416.00 376.20h-2M416.00 411.50h-2" stroke="#555" stroke-width="0.6" fill="none"/>
<text x="469.70" y="435.10" font-size="7.5" text-anchor="middle" fill="#242424" stroke="#242424">UMAP_1</text>
<text x="400.00" y="370.90" font-size="7.5" text-anchor="middle" transform="rotate(-90 400.00 370.90)" fill="#242424" stroke="#242424">UMAP_2</text>
<path transform="scale(.1)" d="M4214 3735zm0 1zm3 13zm-1 0zm-2 12zm4 20zm-5 0zm4 10zm-1 8zm-3 2zm5 3zm-3 1zm-3 3zm3 2zm-3 3zm6 6zm-1 8zm0 32zm19 71zm-5 0zm0 0zm2-8zm0-8zm-2-1zm-1-4zm6-13zm-12-4zm7 0zm-8 0zm0-3zm8-1zm-6-1zm-3-2zm13-2zm-8-6zm8-1zm0-5zm-13-1zm6-15zm-5-1zm7-1zm-4-3zm11-18zm-1-10zm-5-5zm-4-1zm7 0zm1-6zm-2-5zm6-4zm-10-7zm-3-1zm1-7zm9-8zm-1-4zm-1-1zm2-9zm0-3zm-1-2zm4-2zm-18-2zm4-6zm9-7zm-3-3zm-6-1zm6-3zm-6-2zm-2-1zm15-9zm-8 0zm-7-5zm-3-2zm5-9zm7-6zm-7-2zm4-11zm9-7zm-1 0zm0-5zm13-32zm7 8zm-5 1zm-4 1zm9 5zm-3 7zm-8 0zm10 6zm-4 3zm7 14zm-1 1zm-12 4zm-6 0zm12 11zm-6 0zm5 6zm0 1zm4 0zm3 1zm-18 1zm2 4zm2 3zm5 0zm-6 8zm-1 2zm11 2zm-2 1zm-3 6zm-2 1zm7 2zm-4 4zm3 1zm4 1zm1 1zm-1 6zm1 1zm-17 0zm5 1zm-3 0zm16 4zm-1 1zm-8 5zm4 5zm-7 3zm9 9zm-1 1zm-2 3zm-7 0zm-4 0zm8 3zm4 7zm-6 7zm-7 5zm14 15zm0 3zm-13 4zm8 2zm1 3zm-5 2zm11 2zm-13 5zm1 4zm15 1zm-16 4zm-3 2zm5 2zm11 1zm-12 7zm-4 2zm0 3zm15 0zm1 2zm1 0zm-16 5zm6 1zm4 0zm3 10zm-13 1zm18 2zm-4 4zm-4 0zm-3 1zm-1 4zm0 1zm0 1zm2 1zm0 6zm7 3zm-10 3zm-5 4zm7 0zm-8 3zm18 0zm0 0zm-7 1zm-4 2zm12 7zm0 2zm-5 1zm-5 5zm-9 13zm7 2zm8 3zm-7 1zm-1 7zm8 0zm-6 9zm6 12zm24 29zm-5-2zm-6-4zm1-4zm1-3zm2-3zm4-3zm-10-2zm9-8zm-6-1zm-7-10zm13-3zm0-1zm-11-2zm14-4zm-9-6zm-9-4zm12-2zm4-3zm-2-4zm-12-2zm6-1zm11-3zm-6-7zm2-4zm-5-3zm-7-1zm10-3zm2 0zm-11-3zm-2-2zm13 0zm-10 0zm11-3zm-4-5zm-8-1zm-2-10zm6-7zm11-3zm-8-3zm2-2zm-11-3zm7-6zm8-8zm-17-2zm8-4zm-5-4zm6 0zm-8-1zm6-3zm1-4zm1-4zm-7-2zm5-2zm8 0zm-1-9zm-8-1zm7-6zm-3-3zm2-8zm-3-4zm1-1zm-1 0zm-1-1zm3 0zm3-4zm3-11zm-15-3zm8-6zm8-5zm-13-6zm-2 0zm16-2zm-3 0zm-10-5zm5-1zm-10-3zm4 0zm4-2zm1-5zm9-4zm-11-2zm-7-1zm10-1zm3-5zm-1-3zm2-10zm3-1zm-4-2zm-6-5zm-7-1zm-1-7zm2-1zm16-3zm-12 0zm10-1zm-16-4zm14-4zm-13-2zm11-3zm-1 0zm5-3zm-9-7zm3-8zm-1-2zm6-1zm-8 0zm4-15zm4-6zm1 0zm-7 0zm9-9zm-1-2zm-17-2zm13-1zm-12-3zm1 0zm5-7zm11-1zm-15-2zm8 0zm-8-2zm9-2zm3-2zm-3-2zm4-6zm-3-3zm26-26zm-2 7zm-12 7zm5 5zm6 5zm-16 2zm4 1zm7 0zm6 6zm-10 13zm-2 2zm2 0zm-4 1zm4 3zm-6 2zm-1 2zm19 0zm-18 1zm10 3zm-4 5zm2 0zm8 0zm2 16zm-13 1zm0 5zm-5 3zm3 2zm3 1zm-2 6zm11 5zm-11 3zm9 9zm-9 3zm2 2zm3 1zm6 1zm-16 8zm9 16zm1 3zm-1 2zm-9 9zm10 1zm-7 0zm-1 3zm16 2zm-17 7zm16 3zm1 1zm-3 1zm-7 1zm7 1zm-10 2zm-1 0zm10 5zm5 1zm-11 4zm-5 6zm15 1zm-8 0zm-2 3zm10 4zm-3 3zm-13 0zm11 0zm-9 3zm8 4zm-8 2zm1 2zm4 5zm-4 3zm12 1zm-4 5zm6 1zm-4 3zm-6 2zm10 0zm-3 3zm-12 1zm10 5zm-3 2zm2 0zm0 4zm-12 0zm16 4zm-5 0zm2 2zm-8 0zm13 1zm-11 1zm10 1zm-12 4zm0 0zm-3 5zm9 1zm2 6zm-5 2zm-9 1zm9 3zm7 3zm3 4zm-1 8zm-11 12zm12 0zm0 0zm-2 0zm-15 2zm0 5zm3 14zm2 5zm8 0zm-1 4zm-6 1zm5 3zm-11 0zm15 1zm-11 0zm-3 1zm0 14zm16 2zm-7 0zm7 7zm-19 0zm9 2zm-8 0zm-1 5zm15 3zm3 5zm-10 6zm-7 1zm13 1zm-1 2zm6 4zm-14 4zm-5 2zm17 4zm-2 1zm-6 5zm-9 1zm0 8zm15 3zm-6 2zm2 0zm-11 2zm10 1zm8 4zm-6 1zm-2 0zm7 8zm-14 0zm-1 1zm9 6zm27 31zm-9-21zm-1 0zm-5-1zm9-1zm-6-2zm1-1zm8 0zm-8-2zm2-2zm0-1zm7-2zm-1-2zm4-1zm-17 0zm16-2zm-10 0zm2-1zm-7-10zm14-2zm2-7zm0-1zm-9-2zm-3-8zm10-6zm-4-2zm0 0zm4-7zm-16-3zm11 0zm-3 0zm2-2zm-9-5zm3-2zm9-1zm-1-4zm0-7zm4-2zm-5 0zm-2-6zm2-3zm3-4zm-5-3zm3-7zm-7 0zm9-1zm-5-5zm7 0zm-2-2zm-15-4zm7-1zm8 0zm-2-1zm-11-1zm14-4zm-12-4zm12-2zm-10-1zm6-9zm0-1zm6-2zm-7-8zm3-1zm-7-3zm10-1zm-9-1zm-3-2zm8-1zm2-1zm1-7zm-7-3zm-7-1zm1-4zm12 0zm0-5zm2-1zm-11-6zm4-1zm3-4zm-12 0zm2-7zm1-4zm6-1zm6-3zm-10 0zm2-6zm1-1zm3-2zm-9-6zm14-6zm-5-2zm-12-1zm13-14zm6-1zm-4-2zm-13-8zm7-1zm-7-1zm9-1zm-5-1zm-5-3zm7-1zm10-4zm-18-2zm8 0zm-6-3zm12-3zm2-9zm-14-5zm8-1zm7-1zm-10 0zm9-7zm-5-2zm4-4zm-1-3zm-9-3zm4-2zm-4-1zm7-2zm-7-2zm4-4zm-5-6zm12-6zm-2-2zm-14-4zm19-2zm-10 0zm-6-6zm-3 0zm7-2zm6-2zm2 0zm-3-2zm7-3zm-18-7zm7 0zm-1-2zm9-4zm-6-1zm4-1zm-3-3zm3-3zm-2 0zm1 0zm-5-3zm-8-2zm16-3zm-10-2zm-6-7zm17-2zm-15-3zm9-3zm-11-2zm13-3zm-6-2zm6 0zm-9 0zm3-4zm8-1zm-7-2zm7-8zm-7-4zm2 0zm-8-1zm3-2zm4-5zm-8-5zm12-2zm-6-2zm-7-3zm16-5zm2 0zm-9-2zm6-4zm-11-1zm13-4zm-2 0zm1-3zm7-2zm9 1zm5 3zm-11 0zm6 1zm-5 1zm10 0zm-4 1zm2 2zm-13 1zm15 2zm-7 12zm8 4zm-7 4zm6 1zm-9 2zm-8 4zm18 4zm-3 7zm2 10zm-13 4zm11 2zm-14 2zm6 2zm12 0zm-18 2zm10 4zm-11 0zm9 1zm-4 12zm11 1zm3 10zm-8 3zm4 6zm-3 3zm-6 4zm13 1zm-11 2zm6 1zm2 1zm-14 6zm14 0zm-1 5zm4 4zm0 1zm-8 1zm-8 10zm-2 9zm15 2zm-1 0zm-6 2zm-9 1zm4 9zm0 1zm14 4zm0 0zm-7 2zm6 5zm-8 0zm2 1zm-9 4zm2 3zm-3 2zm12 1zm-13 10zm12 2zm0 3zm6 0zm-5 9zm-6 1zm-4 8zm5 0zm-3 2zm-1 1zm-2 6zm0 6zm0 2zm8 2zm2 3zm-11 0zm8 1zm-9 0zm19 0zm-8 4zm-2 9zm-9 2zm2 4zm-1 2zm17 1zm-16 5zm3 0zm-3 1zm17 2zm-4 3zm-5 0zm-4 8zm11 0zm-2 3zm-15 2zm16 3zm-8 12zm-4 0zm6 7zm6 1zm-1 10zm-2 4zm-2 1zm8 3zm-10 4zm5 2zm-1 2zm4 2zm-4 0zm3 1zm3 10zm-17 4zm8 2zm-9 2zm2 0zm14 0zm-11 3zm1 5zm9 1zm1 3zm-5 1zm-3 3zm-6 1zm6 3zm2 4zm6 0zm-7 10zm-10 0zm4 6zm6 6zm3 0zm-10 1zm0 7zm-1 1zm16 5zm-6 2zm-10 1zm10 2zm0 4zm-6 7zm2 3zm8 1zm-3 2zm0 2zm1 0zm-3 1zm-11 4zm4 4zm-1 0zm14 9zm-16 6zm-1 2zm14 4zm-9 1zm4 6zm-2 0zm-3 3zm11 4zm-10 2zm-3 1zm-2 0zm1 2zm14 1zm3 4zm-4 8zm-2 4zm19 19zm2-7zm-7-4zm-6-1zm1 0zm16-8zm-11-1zm1-6zm-4-2zm10-18zm-12-1zm10-2zm-7-1zm7-3zm6-2zm-13-6zm6-8zm-9-5zm7 0zm8-2zm2-1zm-13-2zm-4-1zm16-3zm1-2zm-3-5zm-11-3zm1-4zm3-1zm-2-5zm9-5zm0-4zm0-2zm-14-5zm1 0zm11-1zm-5-1zm-7-2zm0-3zm10-4zm4-1zm0-1zm3-1zm-14 0zm1-5zm0-1zm11-1zm2-3zm-16-4zm10 0zm2-4zm-11-3zm8-4zm-7-5zm15-5zm-5-1zm-11-1zm11-3zm5-1zm-7 0zm5 0zm-5-2zm-7-1zm8-1zm-11-1zm5-1zm3 0zm-1 0zm10-3zm-17-3zm3-10zm-5-3zm1 0zm-1-1zm19-7zm-16-3zm11-6zm-2-5zm-10 0zm14-8zm2-5zm-18-6zm7-3zm10-7zm-11-1zm13-3zm-2-6zm0-1zm-9-8zm-4-5zm-4-3zm2-2zm4-2zm-1-3zm4-1zm1-1zm-8-1zm0-3zm6-6zm-1 0zm6-2zm-7 0zm5-1zm7-5zm-9-13zm8-1zm-11-1zm9-2zm3-2zm-4-2zm5-4zm-16-6zm-3-2zm14-1zm1-1zm-1-1zm-8-3zm9-8zm-11-1zm0-3zm14-2zm-10-3zm10 0zm-16-1zm-2-3zm7-1zm-3-4zm7-1zm-2 0zm-6 0zm3-2zm13-5zm-19-8zm14-9zm-1-1zm6-3zm-10 0zm-6-2zm16-4zm0-8zm-11 0zm-4-1zm6-1zm-5 0zm0 0zm-3-1zm3-4zm11-1zm-6-13zm2-2zm-1-4zm-7-3zm0-2zm12-1zm1 0zm-12-3zm13-16zm-3-6zm-6 0zm-7-2zm5-1zm2-6zm-8-2zm10-5zm5-2zm-1-3zm-2-3zm5-4zm-2-6zm3-2zm-4-4zm-2-2zm6-3zm-13-2zm9-7zm-5-1zm5-1zm3-11zm-6-5zm27-1zm-8 1zm-5 3zm2 5zm-7 0zm9 3zm-4 0zm3 0zm-3 0zm3 2zm9 1zm-6 9zm0 5zm-4 2zm-3 4zm10 1zm-15 2zm10 2zm-2 9zm0 3zm-5 2zm7 2zm-1 1zm-9 1zm11 1zm-9 0zm14 0zm2 3zm-1 0zm-10 5zm9 2zm-5 3zm-7 1zm9 1zm3 6zm-1 4zm-13 1zm0 0zm4 2zm5 4zm1 1zm-5 1zm-2 3zm4 3zm-2 8zm-1 2zm-4 0zm16 0zm-13 1zm11 0zm0 3zm-9 5zm10 1zm-13 1zm10 10zm-5 2zm-3 5zm-1 2zm3 4zm-6 3zm15 2zm-13 0zm11 1zm-10 0zm3 3zm-3 1zm10 2zm-8 4zm1 3zm10 0zm-4 1zm-13 3zm5 2zm4 2zm5 3zm2 2zm-16 12zm17 8zm-13 8zm8 10zm2 3zm-3 1zm0 8zm5 0zm-13 0zm8 2zm-12 8zm15 2zm-5 2zm-5 1zm14 4zm-9 0zm-9 3zm4 1zm10 7zm-13 3zm11 4zm-8 9zm-5 7zm8 0zm1 5zm-3 8zm0 3zm9 1zm-3 1zm-1 7zm-11 2zm0 3zm1 2zm2 0zm2 3zm10 1zm3 0zm-12 0zm12 1zm-16 1zm9 2zm-1 1zm1 1zm8 3zm-14 3zm-4 1zm3 5zm12 1zm-6 13zm5 4zm1 0zm-4 1zm5 1zm-6 4zm3 11zm1 4zm0 2zm1 10zm-11 0zm5 7zm3 10zm-5 0zm5 2zm4 2zm-4 2zm1 2zm-5 1zm-4 3zm9 5zm3 3zm-2 2zm3 0zm-10 3zm8 1zm0 2zm-13 2zm5 19zm3 2zm-11 2zm13 3zm-2 2zm-1 7zm6 2zm-11 7zm-5 0zm19 1zm-11 9zm-2 7zm8 3zm5 0zm-1 5zm-6 2zm-3 1zm1 2zm-10 3zm17 5zm-3 6zm-1 0zm-4 0zm-5 1zm10 1zm2 1zm2 1zm-13 13zm-5 0zm11 2zm-4 8zm4 0zm-9 3zm9 4zm3 1zm10 8zm2-3zm1-1zm-1-3zm4-1zm5-2zm-8-3zm-3-1zm6-4zm9 0zm-14-3zm-3-1zm9 0zm4-7zm-12-4zm3-1zm6-3zm6 0zm-10-5zm5-2zm1-5zm-10-2zm14-2zm-12-4zm10-1zm0-1zm-14 0zm-1-1zm16-4zm-8-5zm-2-1zm3 0zm-1-1zm4-4zm-7-3zm2-3zm-7-1zm14 0zm-7-2zm-5-1zm11-2zm-13-3zm7 0zm3-2zm1-2zm-2-1zm-2-1zm1-1zm6-3zm-2-7zm-7-4zm0-2zm0 0zm13-1zm-8-1zm4-1zm3-9zm-7-11zm1-1zm2-6zm1-3zm0-1zm-3 0zm-9-2zm13-3zm1-3zm-8-7zm-7-2zm2-1zm8-8zm5-7zm0 0zm-16-3zm17-9zm-15-1zm-2-4zm12-9zm-11-1zm0-8zm12 0zm-11-9zm0-1zm-1-1zm6-2zm-5-1zm6-1zm-3-1zm12-5zm-17 0zm0-2zm17-1zm1-5zm-13-4zm7-1zm-3-7zm-7-5zm-3-5zm6 0zm6-2zm-10 0zm1-1zm12-2zm4-1zm-4-1zm-3-1zm2 0zm-10-3zm15-1zm-5-2zm-1-1zm-5 0zm7-1zm-14-3zm8-4zm6 0zm0-2zm0 0zm2-3zm-7-1zm-10-2zm13-3zm1-5zm-14-2zm3-2zm12-5zm2-1zm-5-1zm-12-1zm17-3zm-5 0zm-10-2zm3-3zm13 0zm-17-2zm12-7zm-12-1zm0-1zm10-1zm-9 0zm17-22zm-3-7zm-8 0zm3-1zm4-1zm-5 0zm7-4zm-9 0zm-7-7zm-1-4zm13-8zm0 0zm-11-4zm2-1zm-2-4zm9-6zm-8-1zm1-1zm3-3zm11-3zm-1 0zm-17-4zm15-11zm-6-5zm-8-1zm6-7zm-4-4zm-2-3zm10-1zm6-1zm-2-3zm-11-9zm4-2zm4-12zm3-1zm-8-6zm11 0zm-15-5zm-1 0zm-1 0zm5-9zm-3 0zm-3-8zm9-1zm-8-1zm1-1zm14-4zm-11 0zm8-6zm-2-3zm2-1zm-10-9zm5-7zm4-3zm-6-3zm-3-1zm11-3zm3-2zm2-2zm-7-4zm13 6zm6 1zm6 3zm-13 1zm9 5zm-5 1zm-3 12zm3 8zm-2 3zm5 0zm2 0zm-8 1zm-2 5zm8 1zm1 1zm-9 3zm9 2zm-2 2zm-5 7zm8 1zm-10 3zm-2 0zm16 2zm1 3zm-3 5zm3 2zm-13 4zm-5 1zm3 5zm16 4zm-6 6zm-7 5zm9 8zm-14 0zm18 2zm-1 0zm-10 2zm-8 4zm10 4zm-9 2zm14 7zm-8 15zm1 2zm-3 0zm4 6zm3 7zm-10 13zm7 1zm-7 2zm4 3zm-3 12zm5 13zm-4 2zm13 6zm-6 4zm-8 3zm10 1zm-4 2zm2 2zm-2 3zm3 2zm4 4zm-8 6zm9 2zm-1 0zm3 1zm-3 6zm-3 1zm-8 3zm5 2zm5 14zm2 4zm-5 1zm7 4zm-4 0zm-15 3zm15 5zm-10 1zm3 4zm-6 2zm13 2zm2 1zm-9 1zm7 6zm-8 6zm-7 12zm17 0zm1 6zm-6 2zm3 19zm-13 4zm-1 0zm2 0zm12 2zm-3 2zm6 9zm-4 2zm-10 2zm3 3zm3 0zm6 5zm-16 12zm10 1zm1 1zm4 3zm-10 5zm-4 3zm1 1zm2 0zm6 3zm6 5zm-3 2zm-9 2zm15 3zm0 10zm-15 2zm-3 0zm9 13zm-5 4zm7 10zm-6 1zm5 0zm-11 6zm14 3zm-8 2zm0 0zm12 2zm-10 2zm-3 4zm3 9zm11 0zm-1 8zm-13 2zm7 1zm5 1zm-11 1zm-1 4zm4 2zm2 4zm-4 1zm10 0zm-14 2zm10 3zm-6 5zm8 4zm4 1zm-10 2zm-8 7zm0 6zm3 2zm8 0zm4 1zm-5 1zm0 2zm-8 11zm-3 2zm37-20zm-14-1zm6 0zm0 0zm-1-1zm8-1zm3-1zm-14-1zm3 0zm9-7zm-13-2zm12 0zm-16-3zm3 0zm0-1zm6 0zm0-5zm-9-3zm5-3zm12-1zm-5-2zm-7-5zm-4-3zm11-4zm2-4zm-5 0zm-5-2zm10-5zm-2-2zm0 0zm0-2zm2-2zm-12-2zm11-2zm-4-1zm-8 0zm13-11zm-12 0zm4-3zm-2 0zm7-2zm-2-3zm9-4zm-6-2zm-4 0zm-7-3zm13-1zm2-2zm-2-1zm-8-4zm9-5zm3-4zm-16-4zm10-8zm-11-5zm6-6zm3-2zm-3 0zm0-3zm10-2zm-1-2zm-15-3zm18-1zm-14-7zm4 0zm2-2zm7-2zm-2-4zm0 0zm-8 0zm-4-5zm-3-1zm18-11zm0 0zm-7-1zm-4-2zm3 0zm6-4zm0-2zm-17-5zm18-4zm-17-1zm5-5zm3-2zm6-5zm-7 0zm-7-2zm4-4zm3-3zm1-1zm-2 0zm5-5zm5 0zm-3 0zm-4-4zm1-1zm-3-1zm-1-3zm11-3zm1-4zm-6-1zm-4 0zm-2-5zm-1-2zm-1 0zm1-4zm-5-1zm4 0zm0-5zm6-5zm2-2zm0-2zm-1-11zm-7-2zm4-1zm2-3zm3-2zm-11-4zm-3-1zm4-4zm11-6zm-5-3zm3-5zm-3-3zm-5-9zm-5-9zm13-1zm-3-3zm9-11zm-6 0zm-12-3zm9-3zm2-4zm-3-1zm9-2zm-9-5zm0 0zm4-2zm-11-1zm14-7zm-11 0zm0-1zm2-1zm11 0zm-2-7zm-14-9zm7-10zm9-1zm-2-12zm-16-6zm9 0zm0 0zm-7-1zm-2-8zm0-1zm2 0zm12-9zm3 0zm-3-6zm-1-6zm5 0zm-3-2zm-13 0zm12-2zm-9-2zm7-7zm4 0zm-3-1zm-2-2zm-3-5zm-5-3zm10-5zm-13-1zm5 0zm9-3zm4-1zm-7-3zm5-3zm-10 0zm6-1zm-12-1zm15-1zm-8 0zm6-1zm-2-6zm-9-1zm-2-1zm6-2zm-6-1zm11-12zm8-2zm-15-1zm3-2zm-4-1zm9-3zm13 2zm-2 12zm3 1zm0 3zm12 1zm-7 5zm-9 1zm10 2zm2 1zm1 1zm-1 10zm-1 1zm-4 1zm6 0zm-5 2zm-2 4zm11 0zm-3 0zm-6 1zm-8 2zm8 1zm-2 2zm-2 1zm4 14zm-4 3zm4 2zm-1 3zm5 2zm-14 1zm4 4zm14 1zm-2 15zm-2 12zm-12 1zm14 0zm-14 3zm1 5zm7 1zm0 1zm-1 6zm-2 3zm7 6zm5 6zm-13 4zm5 8zm-9 4zm4 7zm-3 1zm2 0zm-2 2zm9 1zm7 0zm-17 0zm1 3zm5 4zm-7 5zm9 16zm4 2zm-8 12zm-1 3zm6 4zm0 1zm8 6zm-3 5zm-6 1zm-4 3zm10 3zm-11 5zm2 0zm10 1zm-10 3zm4 3zm6 8zm2 10zm-16 1zm0 12zm15 4zm-6 1zm-10 5zm15 1zm-14 2zm12 3zm-10 2zm4 6zm8 2zm-14 4zm4 3zm4 1zm1 0zm6 4zm-8 1zm5 1zm-15 7zm10 1zm-5 0zm5 7zm8 1zm-17 2zm-1 2zm0 2zm10 1zm4 1zm-8 2zm13 7zm-11 0zm10 2zm-6 4zm-4 4zm1 5zm7 11zm-4 1zm0 4zm2 3zm-12 0zm9 1zm-11 3zm16 4zm-5 0zm2 2zm-4 2zm-7 1zm10 1zm5 3zm-3 2zm-11 2zm3 3zm-1 1zm7 4zm-9 1zm15 2zm-18 3zm1 6zm18 3zm-7 2zm0 3zm-12 3zm1 0zm7 2zm8 6zm-8 2zm9 3zm1 2zm-13 8zm3 3zm-6 3zm16 2zm-18 5zm13 1zm-4 1zm-7 5zm9 3zm-9 10zm-1 2zm2 3zm2 0zm1 1zm-3 1zm6 5zm3 1zm8-22zm1-5zm2-1zm9-14zm-9-6zm5-1zm-8-3zm1-2zm4-4zm-3-3zm12-1zm0-1zm5-2zm-4-1zm4-2zm-2-3zm-1-2zm-12-8zm13-1zm-2-2zm4 0zm-9-1zm2-3zm-5-2zm7-4zm-9-1zm13-6zm-12-2zm5-8zm-4-6zm3-5zm0 0zm6-1zm-8-6zm5-1zm-11 0zm4-1zm-2 0zm0-1zm6-11zm3-2zm-13 0zm16-6zm1-2zm-1-1zm-4-2zm-11-2zm12-2zm-12-2zm12 0zm-4-10zm6-2zm-9-4zm0-5zm-2-7zm6-6zm-3-3zm8-1zm-11 0zm12-2zm-11-7zm11-1zm-9-6zm5-1zm-12-1zm2-1zm10-6zm-4-2zm-4-8zm10-10zm-2 0zm-6-1zm3-3zm5-2zm-9-3zm-2-2zm1-12zm3-2zm12-1zm-7-3zm-5-11zm-4-2zm14-3zm-1-14zm-14-1zm16-4zm-13-1zm8-9zm1-2zm-5-12zm-5-2zm3-1zm6-4zm1-9zm-4-3zm3-3zm3 0zm-10-6zm3-1zm5-3zm-1-4zm-1-5zm-1 0zm4-1zm-8-1zm3 0zm5 0zm-15-1zm0-1zm8-2zm9-1zm-7-1zm-1-4zm7-6zm-3-2zm-8-1zm5-1zm2-1zm5 0zm-1-2zm2-9zm-15-4zm0-3zm2-4zm2-4zm-6-3zm14-1zm-8-1zm-7-3zm0-1zm18-3zm-12-4zm3-3zm9-3zm0-12zm1-4zm-19-1zm17-1zm-15-2zm8-2zm7-1zm-12-3zm2-6zm2-1zm10-2zm-7-7zm-8-1zm11-6zm-10-2zm-4-4zm15-4zm2-2zm-13-1zm13-1zm0-139zm0-16zm-2-8zm2-135zm-8-8zm4-12zm-4 0zm8 0zm1-4zm-1-1zm0 0zm-9-2zm4-11zm5-1zm11-11zm9 2zm-9 4zm-8 0zm5 0zm5 5zm0 2zm-1 3zm-4 0zm-5 0zm5 1zm1 1zm1 0zm-7 4zm5 2zm7 0zm-2 0zm3 1zm-5 0zm8 1zm0 2zm-9 2zm-2 1zm-1 3zm13 3zm-7 4zm6 0zm-17 0zm19 0zm-5 1zm-8 1zm3 8zm7 2zm-9 0zm-7 3zm9 3zm7 3zm-1 1zm4 2zm-2 4zm0 1zm0 6zm1 2zm-5 1zm4 6zm-6 11zm3 5zm-2 4zm0 3zm-1 2zm-1 2zm3 1zm0 1zm-2 1zm-2 6zm6 6zm-5 1zm3 2zm-3 6zm2 4zm0 1zm1 0zm-5 2zm-1 1zm5 2zm-4 7zm2 1zm0 0zm-2 3zm1 5zm-5 14zm-3 21zm3 2zm1 1zm1 1zm-5 0zm12 1zm-11 6zm10 2zm-10 1zm13 2zm-1 3zm4 1zm-6 1zm2 1zm-2 4zm-4 2zm4 11zm4 18zm1 94zm-14 2zm-2 0zm6 1zm3 0zm7 2zm-17 4zm18 17zm-6 3zm-9 1zm1 5zm-3 1zm10 1zm4 2zm-11 3zm3 5zm5 1zm5 9zm0 7zm-9 2zm10 2zm0 1zm-7 1zm-5 7zm9 9zm0 0zm-6 7zm10 1zm-3 2zm1 1zm-17 0zm10 4zm-4 1zm12 0zm-18 1zm14 1zm-8 0zm7 9zm-1 0zm-4 4zm6 1zm-12 2zm12 5zm-10 5zm15 1zm-11 1zm-8 1zm7 3zm4 11zm-10 2zm7 2zm2 1zm-2 0zm-6 3zm8 1zm-1 2zm2 2zm3 7zm5 0zm-12 4zm1 0zm1 1zm10 4zm-16 4zm11 2zm-2 0zm-9 1zm13 2zm-7 0zm-5 2zm2 11zm3 4zm-2 3zm-2 2zm6 6zm0 1zm-8 10zm1 2zm6 2zm-6 0zm12 2zm-14 1zm7 2zm1 3zm0 0zm-7 1zm7 3zm-10 2zm2 5zm4 3zm3 8zm9 1zm-4 4zm-11 1zm10 11zm-5 2zm-4 4zm1 5zm0 4zm7 3zm5 6zm2 4zm0 4zm-12 0zm-1 3zm6 12zm-9 1zm15 3zm-6 1zm-6 3zm13 7zm-18 2zm13 3zm-13 4zm0 3zm12 5zm-7 1zm11 3zm-5 3zm2 2zm4 4zm-4 0zm4 1zm-9 1zm0 0zm-5 3zm-1 1zm3 3zm-1 8zm6 4zm3 0zm-5 4zm3 4zm2 1zm3 4zm-7 2zm-9 1zm16 1zm-6 1zm-2 5zm8 4zm-17 8zm8 2zm-3 0zm5 5zm7 1zm-5 2zm-10 1zm-1 5zm13 0zm-10 21zm19-50zm8-7zm-10-3zm3 0zm1 0zm-3-3zm13-4zm1-16zm-8-6zm-6-1zm17-3zm-3-1zm-15-5zm8-2zm5-2zm-12-4zm14-1zm-10 0zm12-1zm-9-3zm2-4zm-5 0zm-3-3zm3-1zm-2-8zm4-6zm6-1zm-11-3zm16-2zm0-1zm-8-2zm2-4zm6 0zm0-2zm-12-2zm3-1zm9 0zm-15-1zm4-1zm-7-6zm7-9zm5-1zm3-1zm-12-2zm8-4zm1-1zm-4-3zm9-2zm-8-8zm7-1zm-13-6zm6-3zm-8-4zm12-6zm-13-2zm6-1zm12-2zm-18-12zm17-3zm-10-4zm4-5zm2 0zm-3-2zm-9-1zm2-3zm13-2zm1-12zm-17-1zm13-5zm3-2zm-13-2zm0-6zm-1 0zm-1-1zm2-6zm-3-2zm16-6zm-6-6zm3-2zm-3-1zm6-18zm-8 0zm-7-5zm14-2zm3-1zm-18-4zm-1-2zm18-3zm-8-2zm-4-1zm0-17zm12-2zm-15-3zm-3-2zm15-3zm-5 0zm5-1zm-2 0zm4-8zm-17-1zm1-3zm18-2zm-19-8zm13-3zm-7-3zm13-5zm-1-3zm-8 0zm-2-1zm6-6zm-3-4zm7 0zm-13-2zm9-3zm-3-6zm1-1zm-6-1zm0-1zm-4-1zm-1-2zm12-1zm4-1zm-15-3zm12-1zm-3-2zm6-9zm-16-1zm7-2zm7-5zm0-1zm-6-5zm-9 0zm18-3zm1-3zm-6 0zm2-56zm-2-9zm4-3zm1-1zm-9-11zm5-2zm-1-3zm-2-2zm4 0zm-7-6zm3-1zm3-1zm-11-4zm1-1zm1-3zm-1-2zm8-2zm-11-12zm-1-136zm2-19zm5-8zm3-6zm-10 0zm1-1zm-1-1zm13-1zm-2 0zm-6-2zm-4-2zm-1-2zm0 0zm18-1zm-17-2zm7-1zm-4 0zm5-1zm-6-2zm-3-1zm7-1zm-2 0zm10 0zm-1-1zm-5-1zm-6 0zm1-1zm0-2zm10 0zm-13-1zm1-1zm11-1zm0-2zm-12-2zm10-1zm-3 0zm-7-1zm7 0zm0-4zm1-2zm-6-4zm13 0zm-1 0zm-10 0zm-3-1zm9 0zm6-1zm-16-6zm9-2zm5-1zm9 13zm-1 4zm3 1zm1 4zm-3 2zm-1 12zm-3 9zm1 11zm2 191zm-1 3zm2 1zm-4 2zm3 0zm2 2zm4 3zm7 3zm-11 1zm8 6zm-3 5zm6 18zm-9 6zm10 14zm-4 17zm5 8zm-9 2zm-4 1zm1 8zm3 3zm9 10zm-3 8zm-3 12zm-5 7zm-6 2zm10 1zm3 0zm4 2zm-12 2zm11 0zm-4 1zm1 2zm2 0zm2 1zm-1 0zm-12 1zm-5 7zm8 2zm10 1zm-6 1zm-8 1zm11 1zm-5 1zm1 4zm5 1zm-13 10zm15 6zm-8 0zm0 4zm1 6zm-6 10zm14 4zm-4 1zm-13 4zm2 2zm1 11zm0 0zm14 1zm-8 3zm-10 0zm14 2zm2 1zm-10 1zm-5 1zm2 0zm10 2zm-9 0zm7 3zm2 7zm3 1zm-16 7zm9 1zm-5 0zm-3 3zm8 0zm7 1zm-9 1zm-5 27zm12 19zm-12 18zm0 2zm12 0zm-7 2zm-6 3zm12 1zm2 10zm-6 1zm-7 5zm6 4zm-5 2zm-3 2zm17 1zm-3 13zm-9 3zm3 4zm-5 5zm3 7zm4 1zm1 4zm-2 1zm3 1zm-6 2zm5 1zm7 3zm-12 2zm-7 1zm18 5zm-14 3zm8 0zm0 5zm-12 1zm11 6zm1 2zm-11 1zm17 8zm-5 2zm-8 5zm8 3zm4 0zm-17 2zm18 1zm-2 1zm-5 10zm-10 23zm25-47zm-2-6zm2 0zm-4-3zm7-9zm7-6zm-4-1zm1-1zm-6-1zm-3-2zm9-1zm-6-2zm-7-3zm14-1zm-6 0zm9-3zm2-1zm-13-3zm-5-4zm11-2zm3-2zm-8-5zm11-19zm-11-7zm-1-5zm9-8zm1-5zm-6-2zm8-4zm-17-13zm16-8zm-7-1zm1-2zm4-5zm-11 0zm9-1zm6-4zm-9-2zm5-1zm2-6zm-17-4zm4-5zm2 0zm6-5zm-11-2zm-1-9zm3-2zm-2-10zm14-1zm-12-1zm8-11zm3-1zm-11-3zm14-1zm1-1zm-10 0zm-6-4zm8 0zm-6-1zm15-2zm-3-9zm-11-9zm2-1zm9-2zm-13-1zm5 0zm-6-3zm-1 0zm4-1zm0 0zm4-6zm-4-1zm-2-1zm0-6zm-3 0zm0-6zm13-1zm-11-2zm6-3zm11-4zm-4-3zm-14-2zm18-1zm-3-5zm2-4zm-1-1zm-10-3zm5-9zm-7-1zm13-6zm-11-7zm-2 0zm-2-3zm10-5zm-10-7zm4-3zm-6-4zm3-1zm9-3zm2-3zm-14-4zm3-2zm-4-1zm12-4zm-7-2zm7-1zm3-7zm3-4zm-2-1zm-15-14zm11-3zm-9-4zm12-2zm-1-1zm-14-8zm3-1zm-1-3zm6-1zm-2-1zm-4-8zm-2-2zm24 44zm7 9zm-5 5zm-5 2zm0 3zm1 4zm12 1zm-12 0zm10 1zm-10 2zm17 1zm-15 0zm-3 2zm-1 8zm16 8zm-5 3zm1 4zm-11 1zm13 4zm-2 1zm4 5zm2 0zm-12 5zm5 1zm3 6zm-5 3zm5 2zm0 2zm-3 4zm-9 1zm4 7zm-4 0zm12 0zm-3 2zm1 1zm-12 0zm16 0zm-15 5zm17 2zm-1 6zm0 3zm-6 1zm-7 4zm15 1zm-1 5zm-1 3zm2 2zm-15 2zm0 1zm-1 1zm6 5zm9 1zm-6 1zm2 4zm-4 6zm6 8zm-9 1zm-7 0zm1 2zm8 2zm0 0zm6 6zm-14 3zm4 1zm-3 1zm8 3zm4 1zm-12 0zm8 3zm8 1zm-5 5zm3 1zm-12 0zm4 2zm2 3zm1 1zm8 1zm-3 1zm-14 2zm2 0zm6 1zm1 1zm-3 1zm9 0zm-13 11zm9 4zm-10 3zm13 2zm-5 6zm-4 3zm8 7zm4 3zm-16 4zm1 0zm15 4zm-11 1zm-7 4zm6 3zm5 4zm-4 4zm11 3zm-17 1zm7 0zm4 3zm3 4zm3 0zm-12 1zm9 5zm-16 2zm17 1zm-6 5zm-8 2zm-2 0zm12 0zm-3 2zm-10 10zm2 7zm5 1zm-7 1zm0 23zm20-62zm1-8zm2-2zm-2-7zm5-7zm-5-3zm12-2zm-12-1zm15-5zm-5-3zm2-5zm2-4zm-14-2zm6-7zm1-4zm8 0zm-3-1zm-3-2zm-10-3zm10-2zm-9-1zm7-1zm8 0zm-8-18zm-6-1zm12-2zm-7 0zm-4-3zm-1-2zm17-2zm-4-7zm-15 0zm7-5zm3-1zm2-1zm-5-3zm-2 0zm-2-9zm12-5zm-6-1zm2-1zm-10-6zm13 0zm5-1zm-1 0zm-7-4zm-9-11zm16-1zm-7-1zm-2-3zm3 0zm-6-2zm11-1zm-2-5zm-5-6zm-3-6zm0-4zm5-1zm-5-1zm0-4zm1-1zm-3-3zm11-7zm1-4zm-2-3zm-10-1zm7-7zm6-13zm1-4zm-3-4zm0-1zm-13-1zm11-1zm-4-3zm8-6zm-6-1zm-2-5zm-3-5zm-5-1zm-1-41zm23 57zm0 5zm-1 7zm10 10zm-9 2zm5 12zm-8 8zm-1 13zm7 3zm-7 1zm0 0zm1 13zm4 0zm12 4zm-5 7zm7 2zm0 0zm-13 4zm6 0zm-8 5zm-4 9zm4 1zm10 1zm-2 7zm2 5zm-4 7zm1 7zm-11 4zm9 1zm-7 4zm4 1zm7 3zm-13 0zm8 3zm-4 3zm2 1zm1 5zm1 6zm-3 0zm-4 1zm-1 10zm0 8zm3 3zm18-76zm2-20zm-2-14z" fill="none" stroke="#8b1452" stroke-width="12.0" stroke-linecap="round"/>
<path transform="scale(.1)" d="M4213 3786zm5 10zm21 118zm-8-33zm26-248zm-2 24zm-6 15zm8 64zm-17 6zm15 31zm3 24zm-10 96zm4 78zm27-9zm-15-144zm5-47zm4-42zm-11-50zm15-44zm15-33zm2 39zm-2 39zm4 35zm-8 38zm6 12zm-9 6zm2 32zm-2 67zm-4 61zm8 90zm12-46zm0-33zm3-58zm3-17zm8-7zm-10-35zm3-58zm-5-6zm8-28zm-5-21zm9-36zm-6-33zm15-51zm0 81zm-2 3zm6 83zm-2 41zm0 3zm11 1zm-2 38zm-1 192zm0 39zm3 7zm21 14zm-6-24zm-1-31zm5-40zm-15 0zm11-48zm-2-1zm-1-1zm-2-76zm-7-30zm12-26zm4-56zm-6-16zm2-23zm7-7zm-17-12zm2-14zm6-29zm-6-15zm-2-2zm16-18zm-10-57zm8-34zm3-1zm0-7zm0-19zm-1-11zm-1-58zm2-9zm-3-9zm1-9zm-6-1zm3 0zm4-1zm-5-2zm5-6zm-8-2zm-4-3zm7-1zm0-4zm-13-2zm5-3zm9-3zm2-1zm-5-2zm-7-2zm4 0zm6-4zm-7-2zm10-1zm-16-1zm8-1zm1 0zm5-1zm-4-1zm2-2zm1 0zm-7 0zm2-2zm7-6zm0-2zm-1-1zm14 2zm0 2zm-4 1zm3 4zm0 2zm-1 0zm-1 0zm0 2zm-5 1zm8 2zm-2 0zm5 2zm-8 2zm6 0zm-5 2zm4 1zm6 0zm-10 1zm-1 2zm1 1zm10 0zm-9 0zm0 0zm-2 0zm2 1zm10 0zm-16 3zm6 2zm-1 1zm13 2zm-9 1zm3 2zm6 1zm-17 4zm15 6zm-10 0zm-1 1zm-1 2zm6 1zm-9 7zm0 7zm1 2zm0 2zm-2 4zm0 1zm1 3zm-1 4zm2 4zm-1 3zm0 5zm2 4zm0 1zm-2 7zm1 6zm-1 0zm2 1zm0 14zm2 11zm-3 14zm-1 12zm3 23zm-2 1zm-1 2zm1 2zm16 20zm-7 30zm5 8zm-16 2zm18 42zm-3 54zm-14 107zm5 27zm11 23zm0 0zm-14 12zm8 15zm-7 76zm-2 90zm35 38zm-16-178zm5-30zm-6-44zm3-123zm-1-87zm17-231zm-7-6zm-10-11zm-2-14zm25 21zm-1 10zm3 114zm1 4zm-5 1zm-1 1zm-2 7zm1 1zm11 45zm-4 106zm4 50zm6 35zm-13 22zm10 99zm-6 13zm10 3zm-9 2zm8 77zm0 57zm-10 26zm1 28zm-1 26zm18-16zm3-21zm-4-90zm6-3zm6-60zm-12-158zm7-65zm-10-25zm13-80zm-6-193zm0-2zm10-1zm-19-1zm4 0zm33-6zm0 5zm0 4zm2 2zm-6 1zm6 8zm-19 2zm8 2zm-1 207zm2 35zm1 36zm0 9zm-5 7zm1 32zm6 27zm-2 8zm2 4zm-5 25zm-1 35zm1 148zm2 20zm10 41zm-3 27zm5-24zm13 0zm1-69zm-10-17zm12-69zm-10-43zm2-18zm10 0zm-18-39zm0-12zm5-41zm1-11zm9-77zm-6-241zm7 0zm-11 0zm0 0zm12-1zm-12-1zm-1 0zm3-1zm9 0zm-12-2zm9-1zm2 0zm2-1zm-5-1zm1 0zm-11 0zm-1-2zm16-1zm-2-4zm-16 0zm15-3zm-2-2zm16 7zm-5 2zm-1 9zm-3 4zm5 3zm9 228zm-11 16zm0 15zm1 43zm11 141zm-10 50zm11 48zm-3 2zm-11 24zm30-7zm2-44zm-6-17zm1-18zm-5-5zm-4-40zm7-7zm11-34zm1-78zm-13-22zm10-46zm-4-6zm-1-3zm6-59zm17 23zm-2 8zm5 41zm-13 16zm-1 18zm-3 36zm15 80zm-7 3zm8 57zm-13 13zm-2 21zm26-39zm-3-88zm12-3zm-16-26zm10-62zm8-13zm-7-11zm1-28zm4-16zm-6-39zm16-42zm-1 59zm4 2zm3 12zm0 4zm4 14zm3 91zm-10 9zm4 11zm-4 56zm16-29zm11-14zm-8-83zm3-2zm-5-25zm-4-6zm1-66zm4-3zm0-11zm16 107z" fill="none" stroke="#46566a" stroke-width="12.0" stroke-linecap="round"/>
<path transform="scale(.1)" d="M4995 3699zm3-3zm-3-6zm1-5zm-3-1zm-4 0zm3-5zm-4 0zm-6-6zm-1-3zm3-3zm16 16zm1 1zm1 3zm-1 1zm6 1zm2 1zm-3 2zm-4 2zm1 0zm8 2zm-7 1zm1 2zm-3 0zm4 2zm3 0zm-8 0zm11 2zm2 0zm-2 0zm1 2zm5 1zm-6 1zm-6 0zm4 1zm4 1zm-8 0zm8 1zm2 0zm3 0zm-2 3zm2 1zm-4 0zm-5 0zm-1 2zm4 0zm6 3zm-9 0zm6 5zm20 23zm-11-11zm8-1zm4-3zm-5-3zm-4-5zm-4-8zm-4-9zm4-1zm-1-7zm28 53zm7 9zm-9 11zm7 10zm-6 1zm0 16zm24 49zm3-2zm-3-9zm-3-2zm1 0zm-6-1zm9-5zm-5 0zm-2-1zm1-2zm8-5zm-16-3zm7-1zm2-1zm1 0zm5-1zm-1-2zm-5-1zm3-2zm-1-4zm-1-1zm-6-2zm11-2zm-10 0zm5-1zm4 0zm-5-5zm8-1zm-4-1zm-1-4zm3-1zm-6-4zm-2-3zm5-2zm-8-10zm1 0zm-4-10zm30 23zm5 1zm-10 0zm-5 0zm4 1zm-6 3zm9 0zm3 1zm-5 1zm-3 0zm13 3zm-16 1zm12 2zm-10 1zm1 0zm2 4zm0 0zm9 0zm-7 0zm4 1zm1 0zm-5 1zm-7 2zm13 0zm-2 0zm-2 0zm-1 2zm9 0zm-4 0zm-8 1zm5 0zm6 2zm1 0zm-9 1zm9 0zm-8 2zm4 0zm-5 0zm-2 1zm3 1zm-5 2zm11 0zm-5 1zm7 0zm-1 1zm-6 0zm-9 1zm4 0zm-4 2zm-1 0zm14 2zm-15 1zm14 1zm-4 2zm5 0zm-3 0zm-9 0zm16 0zm-1 2zm-3 1zm-5 0zm1 1zm-2 9zm-5 4zm-2 3zm10 4zm17 4zm2-2zm-11-2zm14-3zm-5-9zm5-3zm3 0zm-15-2zm2 0zm2-1zm5 0zm0-1zm-1 0zm2-1zm-10 0zm16-1zm-13 0zm3 0zm9 0zm-14-1zm14-2zm-10-2zm10-1zm2 0zm-13-1zm-4-1zm-2 0zm6-1zm9-1zm-13-1zm5-1zm2 0zm-8 0zm0-1zm3 0zm10-2zm0 0zm1-1zm-7-1zm-7-2zm3 0zm0-1zm-1-4zm3 0zm0-1zm6 0zm-7-3zm0-1zm5 0zm6-1zm-8-1zm8-2zm3 0zm-10 0zm1-1zm-2-2zm7-3zm2-1zm-2-1zm-6-3zm-9-1zm28 5zm-7 6zm-1 4zm0 3zm5 5zm2 5zm10 0zm-2 5zm-15 0zm0 0zm13 1zm-13 1zm16 4zm-16 2zm0 2zm7 1zm6 8zm1 1zm-12 5z" fill="none" stroke="#1b9847" stroke-width="12.0" stroke-linecap="round"/>
<text x="24.10" y="447.80" font-size="7.5" fill="#242424" stroke="#242424">chr3</text>
<rect x="20.30" y="451.20" width="103.60" height="98.40" fill="#fff" stroke="#8c8c8c" stroke-width="0.48"/>
<text x="26.80" y="558.40" font-size="7.5" text-anchor="middle" fill="#333333" stroke="#333333">−5</text>
<text x="50.30" y="558.40" font-size="7.5" text-anchor="middle" fill="#333333" stroke="#333333">0</text>
<text x="73.80" y="558.40" font-size="7.5" text-anchor="middle" fill="#333333" stroke="#333333">5</text>
<text x="97.30" y="558.40" font-size="7.5" text-anchor="middle" fill="#333333" stroke="#333333">10</text>
<text x="120.80" y="558.40" font-size="7.5" text-anchor="middle" fill="#333333" stroke="#333333">15</text>
<text x="17.10" y="476.80" font-size="7.5" text-anchor="end" fill="#333333" stroke="#333333">5</text>
<text x="17.10" y="512.10" font-size="7.5" text-anchor="end" fill="#333333" stroke="#333333">0</text>
<text x="17.10" y="547.40" font-size="7.5" text-anchor="end" fill="#333333" stroke="#333333">−5</text>
<path d="M26.80 549.60v2M50.30 549.60v2M73.80 549.60v2M97.30 549.60v2M120.80 549.60v2M20.30 474.10h-2M20.30 509.40h-2M20.30 544.70h-2" stroke="#555" stroke-width="0.6" fill="none"/>
<text x="74.10" y="567.20" font-size="7.5" text-anchor="middle" fill="#242424" stroke="#242424">UMAP_1</text>
<text x="7.00" y="503.90" font-size="7.5" text-anchor="middle" transform="rotate(-90 7.00 503.90)" fill="#242424" stroke="#242424">UMAP_2</text>
<path transform="scale(.1)" d="M259 5055zm-1 16zm-3 3zm2 9zm2 5zm-7 19zm6 11zm1 9zm-1 32zm1 1zm-1 2zm0 8zm20 94zm-4-17zm3-1zm-3-11zm4-2zm-8-11zm-3-3zm7-2zm-1-5zm3-2zm-10-3zm2-4zm3-3zm3-8zm4-1zm-5-1zm4-11zm-5-5zm5-4zm-6-5zm-3-1zm1-2zm7 0zm-2-1zm-8-2zm-6-1zm14-2zm-14 0zm18-2zm-13 0zm9-1zm-2-2zm0-1zm5-3zm-11-5zm-6 0zm18-1zm-7 0zm-8-1zm7-6zm6-1zm-6-1zm-5-3zm0-6zm6-4zm8-1zm-14-2zm2-4zm8-1zm1-4zm0-2zm-7 0zm-3-6zm6-1zm2-13zm-5 0zm-2-8zm5-5zm0-1zm-8 0zm0-5zm0-4zm1-5zm13-1zm-3-1zm-5 0zm-8-2zm8-1zm3-3zm-6 0zm-5-1zm2-1zm1 0zm6-7zm0-7zm1-2zm-4-1zm2-6zm3 0zm1-1zm1-3zm-1-2zm4-9zm0-3zm19-16zm-9 5zm5 1zm6 2zm-8 2zm2 1zm3 5zm3 3zm-2 5zm2 0zm-17 1zm-2 2zm15 5zm-3 2zm0 5zm0 0zm-9 1zm4 5zm1 6zm0 2zm-2 3zm9 6zm-5 1zm6 3zm-7 1zm-4 0zm-2 2zm3 0zm-4 1zm17 0zm-1 8zm-4 1zm-13 3zm1 14zm1 1zm8 2zm3 0zm-9 13zm3 6zm7 0zm-8 0zm2 7zm9 1zm-2 0zm-3 6zm-12 1zm13 1zm0 3zm-4 12zm-2 1zm3 3zm-5 0zm1 0zm7 4zm-5 2zm-6 5zm1 8zm1 2zm10 5zm-11 1zm-3 0zm-1 2zm13 0zm2 2zm1 6zm0 1zm-5 3zm-2 0zm5 4zm-14 0zm17 4zm-6 1zm-5 3zm9 14zm-5 2zm-4 1zm5 1zm8 5zm-15 1zm11 3zm-8 2zm-5 1zm13 3zm1 4zm-13 0zm16 4zm-16 0zm0 1zm11 7zm-11 7zm8 1zm-2 1zm2 1zm-7 7zm1 14zm6 0zm-8 5zm13 2zm-11 0zm14 6zm-10 3zm1 2zm4 3zm1 5zm-3 5zm21 32zm1-1zm-5-2zm-1-4zm6-3zm-7-1zm1-3zm11-7zm-11-6zm-5-1zm8-3zm-6 0zm5-1zm0-2zm-5 0zm-4-3zm18 0zm-4-1zm-10-4zm-4-2zm16-7zm-9-1zm-8-14zm16-1zm-11-3zm9 0zm-12-1zm8-1zm5 0zm2 0zm-7-7zm7-7zm-11-1zm9-3zm4-4zm-11-2zm-1 0zm11-1zm-4-4zm-2-4zm-8-4zm0-2zm-4-11zm18-4zm-16-1zm8-3zm5-4zm-13-2zm5-10zm0-1zm-7-1zm0-2zm13-1zm1-2zm-4-1zm1-1zm-6-2zm-4-5zm-1-6zm0-1zm7 0zm1-1zm-3-4zm4-5zm-2-3zm5-2zm-6 0zm-6-5zm18-2zm-3-5zm-10-5zm1 0zm-1-2zm3 0zm9-1zm-16-1zm18 0zm0-2zm-18-1zm11-3zm-1-5zm6-2zm-7-7zm-3-3zm0-3zm3 0zm-10-3zm9-3zm1-2zm9-3zm-14-1zm7-7zm-6-2zm-4-5zm6-3zm-8-1zm16-3zm-9-1zm10 0zm-3-3zm-2-1zm-10-1zm7-4zm3-1zm-5-4zm2 0zm-1-7zm-8-3zm1-6zm12-4zm-4 0zm-2-8zm9-5zm-3 0zm1-2zm-4 0zm2-1zm5 0zm2-2zm-19-2zm4-3zm10 0zm1 0zm-6-1zm9-9zm-3 0zm-10-3zm4-5zm-9 0zm8-2zm8-5zm-16-7zm4-1zm2-12zm-6-5zm4-5zm9-1zm5-3zm0-7zm15-21zm1 1zm-2 5zm-7 1zm11 2zm-15 0zm10 11zm-7 0zm-1 7zm3 0zm11 14zm-1 1zm-2 0zm-10 3zm15 0zm-7 1zm-11 1zm4 3zm9 2zm1 3zm0 0zm-12 0zm1 5zm-4 1zm19 1zm-1 1zm-6 0zm-10 2zm0 4zm14 0zm-10 1zm13 0zm-9 3zm-9 1zm17 1zm-12 1zm3 4zm9 8zm-12 1zm6 2zm0 1zm-6 4zm2 6zm-2 5zm3 1zm4 1zm-3 1zm-8 4zm-2 0zm3 1zm-3 1zm18 7zm-2 2zm-11 3zm13 12zm-2 1zm-12 4zm8 3zm-3 1zm-5 6zm-4 2zm6 0zm5 2zm7 0zm-18 3zm0 1zm12 1zm-2 6zm-4 1zm-2 7zm1 7zm4 2zm0 5zm-6 4zm6 11zm-4 0zm-1 3zm12 1zm-10 7zm13 6zm-17 1zm9 1zm2 1zm5 0zm-10 3zm-7 2zm-1 3zm5 2zm-1 0zm2 0zm8 2zm-2 2zm2 3zm-10 0zm-3 3zm12 5zm6 1zm-16 2zm11 2zm-14 2zm14 4zm-13 1zm15 3zm-1 0zm1 4zm-11 2zm0 1zm-5 2zm5 3zm14 5zm-4 0zm-4 16zm-6 2zm2 4zm-6 4zm1 3zm15 13zm0 2zm2 2zm-6 1zm3 2zm-13 1zm6 12zm7 2zm-15 0zm10 1zm2 3zm-1 1zm5 12zm-1 4zm-11 2zm8 3zm3 2zm-4 1zm4 1zm-4 0zm-4 1zm3 3zm-11 1zm16 2zm-6 2zm-3 6zm11 0zm-9 5zm3 3zm-3 3zm-3 5zm6 4zm-4 4zm-6 2zm16 4zm-17 5zm14 0zm-6 7zm22 34zm-2-5zm-1-4zm1-1zm3-3zm2 0zm5-5zm-1-10zm-17 0zm14 0zm-12-6zm0-1zm4-1zm11 0zm-2-4zm0-4zm-7-1zm-2 0zm-3-3zm5-1zm-5-2zm11-3zm-6-1zm-1-1zm-6-4zm15-1zm-17-2zm5-1zm9-1zm-3-2zm-10-1zm16-5zm-7 0zm-9-1zm15-3zm2-1zm-4-4zm-7-2zm0-1zm-3-2zm9-2zm-7-3zm10 0zm3-2zm-9-2zm8-1zm-12-10zm-2-1zm6-2zm-7-8zm5-1zm-8-5zm19-12zm-17 0zm6-2zm-2-9zm1-5zm9-3zm-3-1zm-10-9zm14-2zm-6-3zm-11-9zm6 0zm11-6zm-17-1zm19-3zm-13-12zm3-10zm-5-6zm4-1zm10-6zm-1-1zm-2-2zm-13-2zm16-8zm-5-2zm-8-2zm-2-8zm12-3zm-13-8zm-1 0zm-1 0zm17-4zm-11-1zm1-2zm-6-2zm17-2zm-17 0zm7-1zm6-7zm4-1zm0-1zm-16-1zm2-1zm13-1zm0 0zm-11-3zm9-2zm-2-2zm-13-3zm7-10zm11 0zm1-4zm-6-1zm-12-4zm4-1zm5-2zm-8-1zm15 0zm-17-5zm17 0zm2-1zm-13-13zm12-1zm-8 0zm5-1zm-11-1zm6-1zm8-2zm-16-3zm5-1zm-4-2zm10 0zm6-2zm-11-1zm7-1zm-5-1zm-4 0zm1-1zm10-1zm1-12zm-1 0zm0-7zm-14 0zm11-6zm-12-1zm2-1zm6-4zm-1-1zm-8-2zm6 0zm6 0zm0-1zm-12-1zm5-1zm12-2zm-7-3zm-3-2zm-1-2zm2 0zm2-3zm-7-2zm1-2zm0-3zm11-1zm-13-15zm9-1zm-7-4zm-1-1zm-2 0zm-2-1zm11-4zm7-4zm-10-4zm-1-1zm-6-2zm15-1zm-7-1zm-2-1zm2 0zm3-5zm-7-1zm5 0zm-4-1zm7-8zm5-3zm-13 0zm14-2zm-16-6zm9-3zm1-5zm5-4zm16-8zm-6 1zm1 0zm-3 3zm0 2zm-5 3zm18 1zm-17 0zm10 0zm-5 6zm1 2zm-3 0zm1 6zm-3 4zm14 1zm-12 1zm12 3zm-16 8zm0 14zm4 6zm7 3zm0 0zm0 5zm0 1zm3 7zm-10 0zm1 0zm-3 2zm9 0zm2 1zm-8 3zm7 1zm-1 3zm-7 1zm5 1zm-3 1zm5 1zm-2 3zm-7 5zm12 3zm-3 5zm0 1zm1 6zm-11 2zm7 6zm9 1zm-4 3zm-2 1zm-3 1zm-2 1zm9 5zm-10 3zm13 1zm-12 0zm-6 1zm8 4zm9 1zm-8 0zm0 1zm4 3zm2 4zm-15 2zm3 2zm6 1zm-9 1zm4 1zm-5 4zm14 3zm-10 3zm-2 2zm-1 5zm15 8zm0 2zm-3 1zm-4 6zm-5 1zm5 3zm-8 1zm9 1zm-2 1zm8 1zm0 0zm1 4zm2 1zm-4 0zm-11 1zm9 4zm-8 6zm0 4zm-4 3zm0 3zm7 5zm7 3zm-15 9zm6 1zm1 5zm2 3zm0 1zm6 3zm-14 0zm16 10zm-12 0zm4 0zm0 8zm1 0zm-3 6zm2 4zm-5 0zm6 1zm-3 2zm12 2zm-6 3zm-11 2zm5 7zm4 3zm4 2zm-1 0zm-4 1zm-7 3zm11 5zm-1 1zm5 0zm-5 2zm-12 1zm17 4zm-9 1zm0 6zm2 1zm4 2zm-10 0zm11 9zm-3 1zm5 10zm-11 1zm3 6zm3 6zm-4 1zm6 5zm-4 7zm-1 4zm-8 2zm1 2zm15 0zm-1 1zm-4 1zm-10 0zm16 4zm-16 14zm6 6zm3 3zm5 5zm2 2zm-1 5zm-6 1zm-2 3zm6 1zm-7 0zm1 0zm3 1zm-6 2zm12 6zm-8 13zm-8 0zm1 4zm0 2zm5 1zm-9 3zm5 1zm2 4zm-4 3zm9 7zm-12 2zm14 1zm-10 0zm14 6zm-14 1zm9 0zm-11 2zm-2 10zm7 9zm28 28zm-6-6zm5-1zm-5-8zm-3-5zm6-1zm-1-5zm3-1zm2-5zm-4-8zm4-6zm-15-2zm1-2zm15-6zm-7-3zm-10-10zm11-4zm-5-4zm2 0zm11 0zm-9-7zm-7 0zm6-2zm7-5zm-4 0zm2-3zm1-2zm-12-1zm2-5zm7 0zm7 0zm-13 0zm2-1zm-4-2zm-4-10zm3-1zm4 0zm-2-7zm4-7zm6-1zm-15-5zm19 0zm-18-5zm13-2zm-4-2zm5-7zm-4-3zm2-3zm3-6zm-9-2zm5-4zm5-1zm-15-3zm15-4zm-10-12zm2-3zm-7-4zm3-5zm11 0zm-7-8zm-1-5zm-1-7zm10-3zm1-2zm-15-6zm11-1zm3-3zm-12-1zm0-19zm-5-8zm7-2zm-3-4zm9-1zm-12-1zm18-3zm-12-6zm6-10zm-1-5zm-5 0zm-1-1zm-6-1zm13 0zm-9-3zm6-6zm-1-10zm7 0zm-13 0zm0-4zm14-12zm-13-4zm14-3zm-6 0zm-7-2zm-2-1zm12-10zm-13-7zm15-6zm-2-2zm-6-1zm-3-1zm1-3zm-4-6zm3-9zm13-5zm-19-1zm2-1zm2-1zm12-6zm-8-1zm4-2zm-9-1zm-1-6zm3-1zm13-7zm-15 0zm13-4zm3-2zm-9-4zm-5-1zm-4-2zm14-1zm-4-5zm6 0zm-9-3zm7 0zm3-3zm-1-6zm-17-2zm6-4zm-5 0zm0-2zm8-2zm4 0zm-13-2zm18-2zm-13-1zm9-1zm-13-4zm4-4zm13 0zm-5-1zm-9-3zm-4-1zm12-1zm-2-4zm-9 0zm15-4zm-7-1zm4-1zm-1-6zm-6-4zm7-2zm-9-4zm10-6zm-3-7zm-10-1zm16-2zm0-1zm-4-4zm-6-4zm3 0zm-10-1zm1-2zm11-2zm0 0zm-3-2zm3-4zm11-1zm4 10zm-4 1zm-2 2zm1 1zm1 1zm11 3zm-9 6zm1 2zm10 1zm-13 0zm10 4zm1 3zm3 2zm1 10zm-8 2zm-1 1zm3 0zm1 2zm-9 5zm5 2zm-6 1zm11 0zm-13 1zm1 0zm-2 1zm18 3zm-4 6zm-11 2zm8 1zm-9 0zm16 1zm-9 2zm-9 0zm1 13zm7 1zm11 1zm-19 6zm1 7zm15 1zm-6 1zm-9 3zm14 7zm-7 1zm8 2zm-3 2zm-4 3zm-6 5zm10 5zm2 1zm-4 2zm1 8zm-3 5zm-6 2zm1 3zm13 1zm1 2zm-14 2zm15 4zm-8 11zm8 0zm-7 1zm-1 5zm-8 9zm13 0zm-4 4zm-4 1zm10 1zm-10 5zm10 0zm-2 3zm-9 2zm-3 3zm10 2zm-14 2zm12 1zm-7 1zm-2 4zm10 0zm6 1zm-18 0zm8 5zm8 11zm-16 4zm4 15zm11 0zm0 6zm-14 0zm5 4zm-6 6zm8 1zm0 2zm-4 0zm7 1zm-12 4zm18 1zm-1 5zm1 8zm-15 1zm13 3zm-3 4zm2 5zm-10 5zm13 2zm-12 4zm3 1zm-8 2zm9 1zm-10 5zm7 0zm0 2zm0 5zm7 3zm-13 1zm18 0zm-13 6zm13 6zm-17 5zm10 5zm4 1zm-1 4zm-5 5zm-1 0zm9 2zm-4 1zm-9 1zm5 3zm1 2zm-2 10zm1 1zm-2 1zm-4 8zm-1 1zm6 0zm4 8zm-10 0zm10 1zm-4 3zm-8 1zm5 2zm9 0zm-12 3zm3 3zm3 5zm6 4zm-1 3zm-4 4zm7 0zm-2 2zm-12 1zm7 7zm9 3zm-8 1zm-2 3zm-3 1zm4 2zm4 0zm-2 5zm-2 5zm6 1zm-16 1zm0 0zm12 2zm-11 0zm15 1zm-12 5zm3 2zm5 4zm2 0zm-4 3zm6 2zm3 2zm0 2zm-13 2zm-5 0zm0 2zm2 2zm1 5zm1 0zm14 2zm-5 1zm5 3zm-7 2zm-11 4zm6 1zm11 3zm-15 10zm12 3zm-14 1zm11 0zm-5 3zm7 3zm1 5zm-10 8zm3 3zm22 7zm4-4zm-3-2zm-2-8zm9-3zm-12-1zm-3-3zm11-1zm-3-4zm-11-8zm15-2zm3-4zm-8-2zm0 0zm6-2zm0-2zm-7-2zm5-1zm-1-10zm-12-1zm9-12zm-8-8zm4-2zm6-8zm1-4zm2-6zm-8-6zm-4-4zm11-1zm-3 0zm-9 0zm-2-1zm8-1zm0-1zm6-1zm2-2zm-1 0zm-14-9zm18-5zm-17-3zm10-1zm-8-3zm-2-1zm0-9zm1-2zm7-6zm-4-3zm6-3zm0-5zm-4 0zm1-3zm0-8zm-1-8zm-2-1zm4-3zm-10-9zm4-4zm13-1zm-5 0zm-6-2zm-1-1zm8-1zm-7-2zm8-3zm-4-5zm0 0zm-6-5zm-4-3zm0-1zm8-5zm-6-2zm8-6zm8-8zm-5-6zm-9-2zm1-1zm8-6zm6-2zm0-1zm-12-6zm-7 0zm19-1zm-13-6zm3-1zm7-2zm-2-2zm-14 0zm2 0zm-1-2zm14-9zm-4-7zm-10-2zm8-1zm8-1zm-16-8zm17-17zm-14-4zm-3-4zm9-7zm-8 0zm6 0zm-6-2zm14 0zm2 0zm-5-4zm6-14zm0 0zm-15-3zm2-3zm-3-1zm16-5zm-15-3zm-2-2zm16-1zm-2-1zm-15-3zm1-2zm17-1zm-19-8zm3-3zm-1-2zm13-1zm3-1zm-9-1zm3-7zm-9-6zm6-13zm-5-10zm6-1zm-7-9zm-2-1zm10-1zm-3-2zm-5 0zm15-16zm-3 0zm-6-5zm-3-2zm-3 0zm4-6zm2-3zm5-1zm-10-1zm6-1zm-1-1zm-9-1zm9-15zm8 0zm-7-1zm6-4zm-5-7zm-2-2zm-2-3zm10-1zm-6-7zm2-7zm6-1zm-1-1zm-10-1zm-2-1zm0-2zm8-7zm0-2zm-2-1zm-7-2zm-1 0zm21 4zm4 1zm-8 1zm7 2zm-6 3zm0 2zm17 0zm-2 1zm-3 1zm5 0zm-15 4zm1 0zm14 8zm-13 1zm-6 5zm5 1zm0 3zm1 0zm-2 4zm1 2zm-1 1zm5 6zm-3 2zm4 4zm-10 0zm10 2zm6 1zm-12 4zm14 4zm-6 1zm7 7zm-10 0zm-3 2zm1 4zm1 2zm5 0zm4 2zm-10 0zm7 1zm-5 2zm-6 9zm4 0zm2 21zm-8 1zm14 0zm-3 4zm-10 2zm5 1zm0 0zm2 1zm4 2zm-5 3zm9 1zm-10 1zm5 6zm1 9zm5 2zm-8 5zm-3 4zm1 0zm9 2zm-16 1zm10 2zm-5 0zm-6 2zm0 6zm11 1zm-4 4zm-4 6zm2 0zm5 1zm-7 5zm8 5zm8 1zm-1 2zm-14 6zm3 4zm-5 10zm13 3zm-1 3zm-9 4zm4 1zm-5 1zm10 0zm-1 6zm3 6zm2 4zm-17 4zm5 7zm-5 3zm9 2zm6 2zm2 0zm-18 2zm0 0zm3 0zm15 4zm-12 1zm12 1zm-6 13zm-6 1zm12 2zm0 1zm-13 4zm6 0zm-6 5zm10 8zm-13 0zm4 5zm13 2zm-17 4zm10 4zm-4 2zm-8 0zm12 4zm-4 0zm-1 7zm4 11zm-6 6zm-5 7zm13 4zm-7 4zm11 9zm-9 1zm-8 0zm19 6zm-2 0zm-16 1zm5 5zm2 15zm-8 4zm11 1zm-7 3zm14 10zm-7 2zm-2 0zm10 8zm-10 4zm-5 2zm11 0zm-15 4zm3 4zm6 1zm-9 2zm17 1zm-14 11zm-2 2zm4 0zm4 5zm-8 2zm2 2zm4 1zm6 6zm-4 1zm6 4zm-8 4zm5 0zm-8 0zm7 15zm-1 8zm-3 1zm11 0zm-10 7zm5 4zm6 1zm-3 9zm-13 8zm4 1zm20 11zm6-10zm4-6zm-9-6zm9-8zm0-2zm-3 0zm-10-4zm-3 0zm15-3zm-7-13zm-2-4zm8 0zm-15-4zm0-3zm15-3zm-2-2zm-3-3zm8 0zm-15-5zm1 0zm4-1zm7-2zm-13-10zm12 0zm-9-2zm2-6zm-5-1zm11-1zm-12-2zm3-1zm13 0zm-2-3zm-4-2zm-9-5zm-2-1zm16-2zm3-1zm-7-5zm-7-2zm-5 0zm6-4zm-1 0zm10 0zm-9-1zm10 0zm-9-1zm-1-5zm3-6zm-3-4zm5-6zm-8-1zm-2-3zm7-4zm5-16zm-6 0zm-2-3zm12 0zm-15-2zm3-2zm2-2zm-5 0zm13-2zm2-6zm-1-2zm-8-3zm-4-1zm1-1zm13-6zm-5-1zm-3 0zm-10-5zm6-4zm10-1zm-6 0zm0-3zm8-1zm-10-2zm1-6zm-9-3zm11-2zm4-4zm1-1zm-11-3zm1-3zm10-1zm-12-5zm-4-2zm12-1zm1-2zm-12 0zm14-2zm1 0zm3-1zm-19-1zm5-7zm4-1zm-4-9zm13-11zm-4-1zm1-2zm-9-3zm-3-3zm10 0zm-10-1zm10 0zm2 0zm-13-7zm-1-6zm18-1zm-19-3zm10-2zm-3-2zm12 0zm-19-2zm0-6zm6-4zm8-3zm-2-6zm-10 0zm2-2zm-1-2zm4-6zm5-3zm-9-3zm13-5zm-14-1zm9-3zm3-5zm0-9zm-7-9zm0-1zm-4-11zm5 0zm-2-1zm-1-2zm3-1zm5-3zm-11-10zm16-6zm-10-2zm10-1zm-3 0zm-4 0zm6-4zm-12-1zm11-5zm-8-2zm-4-2zm6-1zm5-3zm3-1zm-13 0zm6-1zm7-3zm-10-2zm-6-2zm1 0zm3-4zm-2-9zm15-3zm-4-2zm1-6zm3-1zm-10-6zm-1 0zm4-1zm5-1zm0-4zm-2-1zm4-3zm-14-2zm4 0zm-7-1zm10 0zm6-1zm-5-1zm-12-4zm12-1zm-8-2zm5-1zm-1-1zm10-2zm-9-1zm-4-2zm-3 0zm13-1zm-2-1zm-14-5zm2 0zm13-3zm-5-5zm9-3zm-6 0zm-11-3zm1-8zm31 7zm-10 2zm-2 2zm14 0zm-10 0zm-6 5zm15 1zm-11 11zm2 4zm5 10zm6 3zm-1 2zm-16 6zm2 9zm16 2zm-3 5zm4 6zm0 0zm0 3zm-19 3zm5 7zm5 5zm9 4zm-12 3zm11 1zm-10 8zm-3 8zm-5 0zm13 1zm5 2zm-14 9zm15 1zm-16 0zm3 2zm4 4zm-7 4zm-2 1zm4 0zm9 1zm-6 2zm-3 2zm13 3zm-9 2zm5 4zm5 10zm-10 6zm10 3zm-13 1zm-3 3zm11 5zm0 1zm-3 5zm1 0zm-4 10zm7 0zm-9 5zm10 2zm-10 2zm11 7zm-8 1zm-1 5zm-7 8zm11 2zm3 1zm-8 6zm-5 1zm5 2zm7 1zm5 4zm-2 1zm-14 5zm14 2zm-5 3zm-9 2zm10 1zm-7 4zm-6 1zm10 4zm-2 1zm11 2zm0 3zm-6 0zm6 0zm-8 2zm-10 1zm8 5zm9 7zm-5 1zm-2 4zm-3 7zm7 0zm-2 2zm-3 0zm-7 1zm9 2zm-1 5zm-10 1zm9 4zm-6 5zm15 2zm-15 3zm7 4zm6 1zm-6 5zm-3 1zm2 6zm-4 0zm-3 7zm11 1zm-5 4zm-4 1zm9 0zm4 1zm-12 2zm-4 4zm15 3zm-16 3zm9 6zm5 2zm-14 3zm0 0zm10 1zm0 8zm4 0zm-2 0zm-7 1zm6 3zm-7 2zm11 1zm-16 4zm19 6zm-19 4zm13 1zm-2 3zm7 6zm-16 2zm14 1zm2 1zm-6 4zm7 2zm-15 1zm4 14zm-7 3zm8 3zm-6 4zm1 2zm9 6zm3 1zm3 1zm0 6zm-3 1zm-2 0zm-2 4zm-12 0zm9 5zm-7 0zm2 7zm0 8zm2 3zm-5 1zm12 1zm3 1zm-3 2zm-10 1zm9 5zm-9 6zm21-22zm1-7zm0-3zm11-5zm-10-2zm0 0zm-4-7zm5-3zm12 0zm-10-3zm1-1zm-5-3zm-5-1zm19-3zm-17-8zm12-5zm-6-2zm-6-6zm3-3zm1-2zm12-1zm-15 0zm3 0zm-3-9zm14-1zm-13-2zm12 0zm-6-6zm0-2zm5-5zm2-5zm-9-3zm6 0zm-4-1zm2-4zm-8-1zm6-6zm4 0zm-7-7zm5-6zm-10-3zm3-6zm10-2zm4-4zm-19-9zm19-5zm-11-3zm0-5zm8-1zm-3-1zm2-3zm-3-2zm3-2zm2-6zm-2-6zm-15 0zm11-5zm-2 0zm-8-12zm17-4zm-13-3zm10-3zm-13-7zm11-1zm-11-1zm10 0zm5-2zm2-2zm-9-3zm6-2zm-10-1zm5-2zm1-1zm-2-10zm7-10zm-16-3zm8-3zm0-2zm9-1zm0-1zm-11-2zm3-8zm4-2zm4-2zm-18-3zm6-7zm0-4zm2-1zm1-3zm8-5zm-6-1zm7-1zm-13-1zm2-2zm11-3zm-12-1zm3-4zm10-1zm-12-1zm-4 0zm4-1zm6-2zm4-4zm-4-4zm-1-1zm-7-6zm1 0zm2-2zm2-6zm0 0zm-6-24zm2 0zm3-1zm4 0zm-6-1zm5-2zm-5-3zm0-3zm0 0zm9 0zm1-6zm-7-3zm-1-1zm6-5zm-13 0zm-2-2zm4 0zm4-3zm10 0zm-18-7zm10-5zm0-1zm3-8zm-5-3zm7-17zm0-2zm-15 0zm7-1zm0-5zm10-2zm-4-2zm-9-1zm1-19zm-5-3zm13-1zm5-1zm-2-6zm2-3zm-16 0zm0-3zm-1-3zm15-1zm1-1zm-14-1zm9-2zm27-3zm-6 3zm-11 11zm4 1zm8 2zm-3 3zm-7 4zm0 2zm12 2zm-2 1zm-1 1zm-5 2zm1 2zm-3 1zm4 4zm3 4zm-2 3zm8 0zm-2 5zm-13 4zm-2 0zm-2 4zm5 5zm-3 1zm1 2zm15 1zm-7 0zm-7 3zm-2 3zm17 1zm-15 0zm14 4zm-18 1zm6 2zm3 1zm-3 1zm12 3zm-1 9zm-11 4zm1 2zm2 1zm1 1zm0 0zm3 13zm-8 0zm13 7zm-4 4zm1 5zm-8 5zm-5 0zm4 8zm4 3zm-7 0zm6 6zm8 1zm-12 0zm12 10zm-10 3zm12 2zm-9 9zm-4 4zm8 0zm-13 1zm13 2zm2 1zm-10 7zm-1 4zm-5 1zm13 0zm3 1zm2 1zm-9 4zm2 3zm-5 0zm2 4zm8 0zm-5 3zm-7 3zm14 2zm-14 11zm5 4zm-1 1zm4 1zm4 8zm-8 1zm-1 6zm-2 3zm-2 2zm2 0zm3 1zm10 2zm-17 1zm7 0zm-5 3zm8 3zm2 2zm-9 2zm5 1zm-6 5zm14 0zm-15 3zm13 1zm-2 4zm6 3zm-17 1zm3 0zm5 2zm1 4zm4 3zm-3 1zm-12 0zm7 3zm5 1zm-10 1zm5 2zm-1 2zm11 1zm-13 3zm14 3zm-9 2zm-9 0zm6 7zm2 3zm4 2zm-2 0zm-4 2zm-6 7zm16 0zm-1 1zm-11 1zm6 0zm7 3zm-9 2zm8 3zm-5 0zm-11 6zm4 2zm12 2zm-4 0zm-8 4zm6 2zm-9 3zm6 4zm2 2zm7 0zm3 3zm-16 3zm11 8zm0 1zm0 1zm-9 0zm-2 5zm3 5zm4 1zm2 5zm-5 3zm2 1zm-3 2zm10 2zm-3 1zm-11 3zm5 3zm-5 10zm14 1zm-12 2zm11 0zm-8 0zm-6 2zm6 2zm-4 2zm5 8zm0 2zm3 1zm-6 6zm3 4zm15-33zm-1-5zm10-7zm-1-5zm1-1zm4-2zm-7 0zm4-4zm-11-1zm9-1zm-5-3zm12-3zm1-1zm-2-2zm-5-14zm-1-9zm-10-6zm11-10zm5-1zm2-2zm-19-5zm8 0zm5-2zm6 0zm-13-2zm3-3zm7-6zm-10-4zm-4-1zm11-5zm1-4zm-6-5zm-1 0zm7-3zm0-2zm-1 0zm2-1zm-7 0zm-1-2zm3-1zm0 0zm0-1zm-8-1zm3-1zm-2-5zm5-2zm10-3zm-11-1zm4 0zm7-2zm-6-2zm1-8zm2-4zm-11 0zm3 0zm10-1zm2-4zm-15-1zm15-3zm-16-2zm3 0zm4-2zm-9-2zm0-4zm13-5zm-5-8zm-3-1zm-2-2zm7-5zm-10-1zm14 0zm-9-2zm-1 0zm1-12zm3-3zm-7-6zm2-4zm3-1zm-2-3zm4 0zm3 0zm-6-1zm6 0zm-11-1zm-1 0zm13-2zm-7 0zm11-2zm-13-6zm2-2zm4-1zm0-8zm3-1zm3-2zm-10 0zm9-8zm3-9zm-12-2zm1 0zm-6-5zm0 0zm15-1zm2-3zm-5-6zm1 0zm3-6zm-1-2zm-13 0zm5-1zm-7 0zm1-1zm13-11zm-12-3zm6-3zm3-2zm-10-3zm13-1zm-4-5zm1-2zm-6-9zm-2-1zm2 0zm8-1zm-13-17zm12-2zm4-4zm-11-11zm2 0zm-5-4zm6 0zm-8-13zm13-1zm4-2zm-17 0zm3-9zm-3-1zm13-2zm3-1zm2-3zm-8-1zm6-1zm1-7zm-3-3zm-3-1zm-3-2zm10 0zm-7-3zm-1-1zm7-1zm-3 0zm-7-5zm-1 0zm26-9zm-2 4zm-8 1zm11 1zm-5 4zm9 3zm-18 5zm4 2zm4 0zm0 5zm10 8zm-15 6zm9 3zm7 3zm-15 1zm11 2zm-8 1zm5 0zm-10 0zm3 0zm13 6zm-17 0zm11 1zm1 3zm-5 2zm5 17zm-7 0zm-1 0zm3 6zm-8 1zm3 1zm4 1zm1 2zm2 7zm-2 0zm-2 8zm8 1zm-4 14zm1 1zm0 2zm4 1zm2 3zm-3 5zm-4 3zm3 4zm6 9zm-15 1zm0 0zm14 4zm-16 30zm2 3zm-2 3zm10 4zm-11 0zm3 7zm11 5zm-9 10zm3 2zm5 5zm-5 1zm9 9zm-16 1zm11 1zm-13 0zm3 3zm0 1zm-3 3zm0 0zm19 3zm-5 1zm-13 1zm7 1zm-6 3zm2 1zm0 2zm7 7zm0 0zm-10 2zm0 9zm17 1zm-8 3zm3 1zm5 11zm-10 2zm0 1zm1 0zm-3 2zm5 1zm-9 8zm1 5zm12 0zm-14 0zm15 5zm-3 1zm0 5zm0 0zm-9 11zm9 0zm-4 3zm-9 11zm18 2zm-17 7zm15 2zm-13 0zm-1 13zm-2 3zm14 3zm-2 8zm0 1zm-10 1zm6 3zm-7 2zm21-24zm-1-3zm1-1zm6-11zm-6-3zm4-1zm7-5zm-4-19zm9-3zm-15-6zm1-1zm15-1zm-1-2zm-9-3zm-6-1zm-3 0zm15 0zm2-3zm-3-2zm-6 0zm5-3zm-8-1zm-2 0zm8-1zm-5-1zm3-4zm8-1zm2-5zm-17-6zm6 0zm-3-2zm13-6zm-2 0zm1-3zm-2-2zm-14-2zm0-1zm11-10zm-3-3zm7-4zm-8 0zm-4-2zm1-4zm7-2zm3 0zm-7-2zm9-2zm-4-13zm-10-2zm8-1zm7 0zm-4-2zm4-3zm-12 0zm2 0zm-6-2zm0-5zm1 0zm14-2zm-13 0zm0-4zm11-1zm-13-2zm7-7zm-6-6zm15-7zm-16 0zm13-10zm-5-9zm2-4zm5-5zm-15-3zm12-2zm-12-1zm10-1zm-4-5zm10-2zm-13-3zm5-2zm-6-2zm3-3zm10-12zm-10-2zm11-1zm-7-2zm-4 0zm10-2zm-1-5zm-2-2zm2-2zm-14 0zm15-3zm-6-1zm3-1zm4-2zm-14-1zm-3-4zm-1-2zm12 0zm3-2zm3 0zm-9-3zm-1-4zm-8-2zm1-25zm2-2zm11-2zm-4 0zm-2-8zm10 0zm0-10zm-12-1zm0-3zm-5 0zm13-3zm-5-3zm3-5zm2-2zm-11-4zm4-1zm2-2zm10-6zm6-5zm-3 1zm-1 0zm0 5zm13 1zm-11 0zm15 1zm-14 3zm-2 1zm6 1zm0 4zm-1 2zm-1 3zm13 0zm-3 1zm-3 12zm6 2zm-13 2zm10 6zm-4 1zm3 1zm-2 5zm-10 0zm3 1zm12 3zm-7 2zm-6 0zm4 1zm3 0zm4 1zm-9 0zm-3 3zm4 4zm8 5zm-8 1zm10 14zm-12 7zm11 2zm-10 2zm1 0zm6 2zm5 0zm-5 5zm-9 1zm9 1zm-10 0zm0 15zm8 5zm7 2zm-14 7zm4 7zm9 3zm-15 1zm5 0zm1 2zm-1 0zm11 0zm-7 4zm-5 1zm11 4zm-3 0zm-1 1zm-8 1zm4 0zm-10 0zm5 2zm14 0zm-12 1zm-2 7zm10 4zm-13 2zm4 3zm1 0zm0 15zm6 10zm-10 4zm11 0zm-9 1zm7 4zm-8 1zm5 0zm4 1zm-12 1zm15 0zm-15 1zm13 2zm-7 4zm7 0zm3 1zm-9 4zm-7 1zm4 1zm1 3zm0 2zm11 2zm-7 1zm8 0zm-14 1zm12 6zm-16 2zm16 0zm-6 0zm8 5zm-6 2zm-10 3zm1 1zm-2 1zm14 0zm3 2zm-18 3zm5 2zm13 1zm0 1zm-5 11zm-12 0zm0 2zm9 0zm-2 0zm-2 3zm3 2zm-6 3zm2 4zm2 7zm2 3zm-8 11zm-1 8zm21-37zm0 0zm-1-14zm5-4zm-5-3zm2-2zm-2-8zm0-4zm4-3zm4-5zm-8-1zm18-2zm-15-1zm8-2zm2-2zm-7-1zm-2-6zm4-16zm3-5zm3-2zm-5-1zm-8-3zm14-9zm-9 0zm6-1zm-11-1zm11-2zm-1-2zm8-2zm-4-1zm0-1zm-6-3zm1-4zm1-9zm-2-1zm-8-5zm13-2zm-12-7zm8-2zm0-14zm8-4zm-14-1zm9-4zm-5-3zm-2-6zm8-5zm-4 0zm1-8zm0-3zm-5-7zm-4-2zm9 0zm1-4zm4-3zm-3-4zm-4-4zm7-6zm-6 0zm0-2zm1 0zm3-1zm-2-4zm6-2zm-11-5zm6-3zm-1-6zm1 0zm-10-3zm-3 0zm4-1zm8-1zm-12-5zm18-1zm-9-6zm-6-1zm-1-1zm5-2zm3-8zm4-7zm-4-2zm4-1zm11 21zm3 1zm5 6zm2 2zm-11 0zm7 2zm-8 1zm3 2zm-1 6zm-1 5zm15 3zm0 1zm-14 0zm-3 4zm13 1zm-11 7zm8 5zm-7 1zm1 2zm11 1zm0 14zm2 1zm-18 2zm16 6zm-8 3zm-6 4zm4 4zm0 2zm-3 2zm6 1zm8 2zm-3 9zm-2 0zm1 3zm5 1zm-15 0zm-4 3zm7 4zm5 3zm2 4zm-10 0zm-2 1zm13 10zm-3 7zm0 1zm-8 1zm-2 4zm6 4zm3 2zm1 0zm-11 3zm3 2zm4 1zm-1 4zm4 1zm-10 14zm6 1zm17-74zm1-19zm-3 0zm1-16zm0-31z" fill="none" stroke="#50308a" stroke-width="8.0" stroke-linecap="round"/>
<path transform="scale(.1)" d="M395 4719zm3-1zm-8-1zm7-6zm-3 0zm-6-13zm9-7zm6-1zm-2 0zm1 3zm12 1zm-7 6zm3 0zm-7 6zm7 1zm4 5zm-2 1zm-1 1zm3 2zm5 1zm-10 1zm-8 1zm3 0zm15 7zm-19 3zm19 4zm-3 3zm-13 4zm2 12zm1 0zm-5 12zm3 11zm-1 23zm2 1zm-1 4zm-2 1zm0 13zm3 3zm-1 5zm-1 13zm-2 5zm4 2zm-4 33zm19-146zm14-6zm-14-1zm11-5zm-10-12zm37 20zm-10 117zm-2 6zm4 2zm26-115zm21-5zm-7 5zm4 0zm-2 1zm-5 2zm12 14zm15 3zm-3-1zm-9-8zm16-1zm-16-2zm13-5zm-10-4zm9-1zm-7-5zm10-4zm9 14zm-4 2zm11 2zm-13 2zm3 5zm4 0z" fill="none" stroke="#1b9847" stroke-width="6.8" stroke-linecap="round"/>
<path transform="scale(.1)" d="M521 4763zm10 5zm-10 1zm9 8zm-2 1zm11 8zm0 3zm19 40zm-11-11zm11-3zm-5-11zm-8-4zm-5-6zm28 14zm10 0zm-2 28zm3 11zm-1 43zm20-21zm-13-1zm3-3zm6-4zm-3-4zm0 0zm7-1zm-11-4zm2-4zm2-1zm-4-3zm20 21zm-1 8zm2 5z" fill="none" stroke="#5f9a78" stroke-width="6.8" stroke-linecap="round"/>
<path transform="scale(.1)" d="M515 4610zm3-7zm-3-9zm3-6zm11-15zm9 3zm-4 3zm5 5zm-6 5zm2 1zm-12 0zm16 1zm-4 0zm-3 5zm7 0zm-12 1zm9 1zm-9 5zm5 1zm5 0zm-10 2zm9 1zm0 1zm1 10zm1 1zm-3 34zm-1 4zm4 1zm-10 9zm10 2zm0 4zm1 18zm-6 7zm1 1zm-3 6zm4 7zm-5 5zm0 2zm0 8zm10-53zm2-5zm0-15zm-2-24zm14-3zm-8-3zm10-6zm-7-11zm3-3zm-7 0zm4-3zm3-1zm-10-1zm11 0zm-6-3zm2-3zm6 0zm-8-1zm-5-1zm0-3zm1 0zm4-9zm12-4zm-1-1zm-4-2zm-6-10zm13 20zm3 1zm3 6zm-2 2zm2 7zm6 7zm-1 1z" fill="none" stroke="#442076" stroke-width="6.8" stroke-linecap="round"/>
<path transform="scale(.1)" d="M1039 5020zm-6-2zm-11-5zm12-1zm-8-6zm0-2zm0-5zm-4-6zm25 24zm-6 0zm1 1zm12 1zm-3 4zm-3 0zm-4 0zm9 1zm3 0zm0 1zm-4 0zm-9 0zm7 2zm8 1zm-16 1zm16 1zm-6 3zm-3 0zm-7 6zm10 1zm0 0zm3 2zm1 0zm-4 0zm-3 1zm3 0zm1 0zm3 0zm-8 1zm0 1zm2 1zm9 4zm14 11zm-6-13zm-4-3zm-2 0zm9 0zm-6-2zm0-5zm4-1zm-6-3zm3-11zm-3-4zm19 39zm9 30zm7 3zm-1 6zm2 13zm-11 12zm29 50zm-3 0zm-6-3zm11-4zm-14-5zm9-2zm3-1zm-7-17zm6 0zm-1-4zm2-4zm2-12zm-3-4zm-8-1zm7 0zm-6-5zm-4-3zm2-1zm6 0zm-7-1zm-5-12zm19-1zm-11-4zm-1-1zm22 13zm-6 10zm5 1zm5 1zm4 3zm-12 3zm13 2zm0 1zm-15 0zm2 8zm8 1zm-13 3zm19 1zm-11 0zm-5 2zm8 0zm-1 0zm-9 1zm10 0zm-2 2zm4 1zm-11 0zm11 2zm0 0zm-2 2zm-7 2zm9 1zm-10 1zm12 0zm-1 1zm-6 0zm0 2zm-8 0zm9 1zm6 1zm-3 3zm-8 3zm-1 1zm5 1zm11 1zm-7 0zm4 0zm-1 1zm3 0zm0 1zm1 1zm-13 0zm11 0zm-1 2zm-6 1zm6 0zm-4 7zm-6 1zm-6 3zm19 2zm-14 1zm-4 1zm6 3zm27 0zm-11-2zm-1-4zm10-2zm-5-2zm10-2zm-9-3zm-6 0zm13-2zm-7-2zm-1 0zm6-1zm4-1zm-16-1zm6-1zm-1 0zm-3 0zm9-1zm-11 0zm-1 0zm9 0zm-7-1zm6 0zm2 0zm3-1zm-5-2zm-4-4zm2 0zm-1-2zm-2 0zm-2 0zm9 0zm5-1zm-4 0zm-6-1zm-4 0zm10 0zm-4-1zm-1-1zm11 0zm-15 0zm4-1zm13-1zm-17 0zm4 0zm10-1zm-13-1zm9 0zm7-1zm-14-2zm6-2zm7 0zm-15-4zm-1 0zm11 0zm-12-3zm2-1zm0-1zm6-1zm2-1zm-7-1zm14-2zm-8-1zm-9-1zm9-1zm-10-1zm3 0zm-3-2zm3-3zm23 2zm0 7zm-2 9zm2 1zm9 1zm-1 1zm-14 1zm12 3zm-7 3zm1 1zm-2 0zm14 2zm-6 1zm-3 1zm-7 2zm4 2zm-4 3zm15 1zm2 2zm-13 2zm10 1zm-4 1zm-10 4zm8 0zm-4 5zm-2 2z" fill="none" stroke="#1b9847" stroke-width="9.0" stroke-linecap="round"/>
<path transform="scale(.1)" d="M1025 5004zm31 35zm-2 1zm1 11zm58 115zm-9-28zm24-23zm7 25zm2 3zm14 35zm7-23zm-3-12zm3-1zm-14-9z" fill="none" stroke="#442076" stroke-width="9.0" stroke-linecap="round"/>
<text x="152.60" y="447.80" font-size="7.5" fill="#242424" stroke="#242424">chr7</text>
<rect x="151.00" y="451.20" width="103.60" height="98.40" fill="#fff" stroke="#8c8c8c" stroke-width="0.48"/>
<text x="157.50" y="558.40" font-size="7.5" text-anchor="middle" fill="#333333" stroke="#333333">−5</text>
<text x="181.00" y="558.40" font-size="7.5" text-anchor="middle" fill="#333333" stroke="#333333">0</text>
<text x="204.50" y="558.40" font-size="7.5" text-anchor="middle" fill="#333333" stroke="#333333">5</text>
<text x="228.00" y="558.40" font-size="7.5" text-anchor="middle" fill="#333333" stroke="#333333">10</text>
<text x="251.50" y="558.40" font-size="7.5" text-anchor="middle" fill="#333333" stroke="#333333">15</text>
<text x="147.80" y="476.80" font-size="7.5" text-anchor="end" fill="#333333" stroke="#333333">5</text>
<text x="147.80" y="512.10" font-size="7.5" text-anchor="end" fill="#333333" stroke="#333333">0</text>
<text x="147.80" y="547.40" font-size="7.5" text-anchor="end" fill="#333333" stroke="#333333">−5</text>
<path d="M157.50 549.60v2M181.00 549.60v2M204.50 549.60v2M228.00 549.60v2M251.50 549.60v2M151.00 474.10h-2M151.00 509.40h-2M151.00 544.70h-2" stroke="#555" stroke-width="0.6" fill="none"/>
<text x="208.80" y="567.20" font-size="7.5" text-anchor="middle" fill="#242424" stroke="#242424">UMAP_1</text>
<text x="137.70" y="503.90" font-size="7.5" text-anchor="middle" transform="rotate(-90 137.70 503.90)" fill="#242424" stroke="#242424">UMAP_2</text>
<path transform="scale(.1)" d="M1577 5047zm0 4zm-4 0zm-6 2zm12 8zm0 2zm-14 5zm13 3zm1 0zm-10 9zm4 1zm-8 2zm10 2zm-8 10zm9 2zm-7 3zm10 0zm-3 5zm-5 1zm-6 1zm3 0zm-1 2zm0 3zm10 3zm-14 1zm0 4zm16 1zm-3 1zm-16 3zm1 0zm16 2zm0 11zm-10 8zm3 2zm0 3zm-4 5zm6 11zm-8 2zm6 6zm0 3zm3 0zm-6 6zm8 4zm3 3zm-10 0zm2 2zm0 1zm0 2zm5 1zm1 5zm-7 1zm4 2zm0 2zm-3 1zm7 3zm-2 0zm0 7zm0 9zm1 1zm3 0zm-3 10zm2 11zm17 49zm3-3zm-6-1zm7-10zm-6-13zm6 0zm-16-2zm0-1zm2-5zm11-5zm-13-1zm6-8zm6-1zm-13-4zm1-4zm16-3zm-10 0zm6-2zm-11-6zm-1-9zm13-1zm-5-3zm0-9zm-9-1zm5 0zm0-16zm4-1zm-5 0zm8-4zm-5-3zm10-2zm-13-1zm-4-3zm8-1zm-2 0zm-6-1zm6-3zm9-3zm-12-2zm-3-1zm3-4zm0 0zm4-2zm-2 0zm3-17zm4 0zm-12-5zm7-1zm0-1zm-9-1zm13-2zm1 0zm-7-10zm-2-10zm3-7zm3-5zm-7-5zm10-1zm-4-1zm2-3zm-3-3zm7-7zm-4-1zm5-4zm2-2zm-18 0zm14-7zm-11-5zm1 0zm-4-2zm11 0zm-5-3zm1-1zm-5-4zm7-1zm5-4zm-9-3zm-1-3zm3-3zm11-1zm-2-1zm-16-4zm10-4zm7-2zm-7-1zm-7-3zm-2-3zm2-3zm0-2zm0-4zm5 0zm9-2zm-11-5zm3-1zm9-3zm-4-2zm3-2zm-1-3zm-4-2zm4-8zm16-22zm4 11zm-8 1zm-4 7zm11 1zm3 1zm-13 0zm8 2zm-8 3zm13 1zm-15 3zm10 1zm-11 2zm4 6zm3 4zm3 1zm-6 1zm5 3zm-4 0zm3 1zm1 5zm-11 1zm7 0zm10 3zm0 1zm-10 2zm-8 2zm12 1zm-2 5zm-10 6zm3 1zm0 1zm5 1zm2 2zm-5 1zm7 0zm-1 3zm-7 11zm3 4zm5 4zm-10 7zm2 9zm10 8zm-3 7zm6 4zm-14 0zm-3 5zm4 1zm-4 1zm2 0zm0 0zm9 3zm4 2zm-7 1zm-1 1zm-3 7zm12 3zm-2 0zm-14 1zm9 2zm10 3zm-1 0zm-16 1zm2 1zm3 4zm-7 3zm6 1zm-1 4zm9 1zm0 0zm-10 5zm2 1zm10 1zm-5 4zm-1 1zm-4 0zm-5 1zm-1 5zm15 1zm-6 0zm3 1zm-1 0zm-1 2zm6 0zm-3 3zm-8 7zm-4 1zm2 7zm11 4zm-11 1zm16 2zm-8 6zm7 2zm-13 1zm-5 5zm3 9zm13 3zm0 3zm0 2zm0 1zm-2 5zm-10 3zm8 0zm-2 1zm2 6zm-5 1zm9 1zm-9 2zm12 9zm-16 2zm8 2zm-5 3zm-2 7zm7 3zm5 1zm0 1zm2 1zm-15 2zm1 3zm-4 6zm2 2zm15 4zm-8 6zm-4 4zm14 1zm-11 3zm6 1zm-5 0zm10 1zm-8 0zm0 2zm4 1zm0 1zm-9 0zm8 2zm-11 3zm-3 0zm7 2zm7 1zm-1 18zm5 5zm-1 0zm-1 4zm22 32zm-3-20zm-7-3zm-2-4zm6-1zm0-1zm-1-8zm-8-1zm2-3zm3-5zm3 0zm-11-3zm9-6zm-9 0zm15-2zm-1-1zm-13-5zm13-2zm-2 0zm-4-6zm-3-2zm-5 0zm15-6zm2-1zm-5-5zm0-5zm-5-4zm-1-1zm-3-2zm0-3zm7 0zm0-8zm-9-1zm9-3zm5-4zm-2 0zm-2-3zm-2-2zm5-2zm-9 0zm5-1zm8-8zm-7-10zm0-2zm-4-1zm-3 0zm-1-2zm8-1zm1 0zm5-1zm-4-2zm5-2zm-9-4zm9-2zm-13 0zm1-1zm5-1zm-8-3zm3-1zm12-6zm-5-1zm-2-3zm4-3zm-8-1zm6-1zm-9-5zm2-2zm-4-3zm3-14zm6-6zm-9-2zm12-4zm4-4zm1-7zm-14-1zm2-12zm8-1zm-4-4zm-5-10zm5-8zm-8-7zm-1 0zm8-1zm4-2zm-12-2zm12-1zm-5-15zm-8-2zm16-3zm-8-2zm-1-8zm1-1zm-4 0zm4-3zm-8-4zm18-3zm-4-16zm-4-7zm-3-1zm-6-1zm6 0zm-7-3zm16 0zm-9-5zm-7-1zm2-1zm3 0zm-4-2zm3 0zm13-6zm-2-6zm-12-2zm-2-18zm12-1zm-6-1zm-6 0zm16-6zm-17-2zm0-5zm2-2zm15-7zm-9-2zm-1-1zm-1-2zm-1-5zm4-2zm2-3zm-1-5zm4-1zm4 0zm-2-3zm-2-5zm0-2zm4-3zm16-13zm4 4zm-10 9zm10 0zm-15 2zm6 3zm4 9zm-6 7zm-2 2zm0 7zm9 3zm-12 4zm15 1zm-9 10zm5 3zm-3 1zm-11 2zm5 1zm10 0zm3 5zm-17 5zm5 0zm-5 5zm10 2zm2 0zm-7 3zm11 3zm-3 2zm-12 2zm7 3zm-5 5zm7 5zm-3 3zm1 2zm0 2zm-4 1zm8 7zm6 1zm-11 9zm1 3zm-6 4zm11 6zm-5 2zm-8 2zm17 1zm-5 1zm-9 2zm-3 1zm15 1zm-15 3zm14 1zm-10 2zm6 3zm-2 0zm6 1zm-3 2zm-1 5zm-4 4zm9 5zm0 5zm-2 7zm-13 3zm18 1zm-14 0zm4 3zm-3 2zm5 6zm8 0zm-16 3zm11 2zm-2 1zm3 7zm-12 7zm13 1zm-6 9zm1 1zm7 4zm1 8zm-5 5zm-13 1zm17 1zm-12 4zm1 1zm7 3zm2 2zm-4 5zm-9 1zm2 0zm1 6zm-1 1zm6 4zm8 1zm-2 1zm-15 1zm15 2zm-4 2zm-12 1zm18 2zm-11 1zm-7 5zm11 5zm0 1zm5 0zm-5 0zm-2 1zm-9 1zm2 2zm0 3zm10 1zm-4 2zm10 2zm-10 1zm3 0zm-10 2zm10 0zm5 5zm-11 17zm-5 2zm5 6zm9 0zm-2 1zm2 3zm-11 6zm4 1zm11 2zm-19 1zm13 9zm6 1zm-3 5zm-16 4zm16 2zm1 6zm-14 3zm10 2zm2 0zm-14 0zm13 3zm-2 2zm-9 6zm15 0zm-13 2zm0 5zm10 12zm2 2zm-9 4zm10 9zm-1 5zm-13 3zm13 1zm-7 7zm5 5zm-9 1zm3 2zm9 11zm-1 2zm21 22zm1-1zm-5-4zm2-11zm-12-9zm0 0zm3-2zm9-11zm2-2zm-9-6zm4-1zm5-3zm1-3zm-14 0zm-2-9zm12-8zm-15-10zm2-4zm12 0zm0 0zm1-1zm-6-4zm-3 0zm12-1zm1-3zm0-2zm-6-1zm-3-7zm-7-1zm0-6zm3-1zm13 0zm-8-1zm8-7zm-8-3zm-3-6zm2-2zm-6-1zm10-5zm-9-7zm11-2zm2-2zm0-3zm-4-7zm-9-10zm-3-1zm-2-2zm14-4zm-3-2zm-4-6zm2-5zm-4 0zm-5 0zm2-1zm10 0zm5-16zm-7-1zm-6 0zm-2-6zm13-2zm-13-11zm8-2zm8-6zm-7-2zm-5-3zm5-3zm-1-1zm-3-3zm9-2zm0-1zm-1 0zm-2-8zm-1-3zm-10-7zm10-2zm-4 0zm-5-2zm-2-7zm13-4zm1-3zm-13-1zm12-8zm-9-1zm4-1zm-2-1zm-7-3zm2-2zm0-10zm2-2zm14-5zm-16-1zm0-3zm12-1zm3 0zm-8-3zm4-1zm-4-2zm-4-5zm9-4zm-4-1zm1-1zm6 0zm-8-2zm4-3zm-11-3zm11-1zm1-2zm0-12zm-1-2zm5 0zm-7-1zm-2-1zm-8-1zm-1-2zm6 0zm-3-6zm14-2zm0-2zm-4-1zm2-2zm-9-2zm1-5zm12-2zm-18-4zm11-1zm5-1zm-8-1zm-8-7zm3-9zm15-2zm-6-2zm5-7zm-5-2zm-2-8zm-1-4zm8-3zm-18 0zm0-3zm5-2zm-4-6zm18-10zm0-2zm-3-1zm-3-4zm3 0zm1-4zm-1-2zm-1-3zm-13 0zm6-4zm9 0zm0-4zm-3-1zm-3-10zm2 0zm3-6zm-12-2zm-3-4zm9-2zm22-4zm1 5zm-3 1zm5 4zm-2 2zm-11 10zm14 1zm-13 0zm13 2zm0 1zm-8 2zm10 0zm-13 0zm2 8zm4 2zm0 1zm7 0zm-7 1zm1 4zm5 1zm-15 3zm8 1zm1 7zm-5 2zm9 2zm0 6zm-8 1zm5 1zm-9 6zm5 3zm2 1zm-3 1zm7 7zm-14 2zm6 1zm7 5zm-7 0zm5 0zm-3 4zm7 8zm-11 3zm8 4zm-1 0zm-11 3zm5 2zm4 3zm5 1zm-5 4zm-5 0zm8 8zm-7 2zm10 1zm4 7zm-9 7zm2 1zm1 2zm-10 7zm14 10zm-4 2zm-10 1zm13 3zm-1 0zm-2 1zm3 0zm-15 1zm17 4zm-12 5zm-6 3zm2 1zm9 3zm5 3zm-1 1zm2 0zm-5 2zm-4 2zm10 1zm-14 0zm1 2zm-4 1zm11 4zm6 2zm-14 1zm13 6zm1 2zm-15 4zm14 0zm-4 1zm-10 2zm15 2zm-3 3zm0 2zm0 1zm-12 3zm6 2zm-5 5zm-1 1zm-2 1zm15 0zm-7 1zm4 1zm0 0zm0 4zm-6 3zm-1 5zm-3 8zm0 1zm10 2zm-9 1zm8 1zm-5 1zm12 4zm-14 0zm14 3zm-4 2zm-3 1zm-7 0zm11 5zm-7 2zm-3 1zm11 0zm-3 1zm4 10zm-7 4zm-6 1zm-1 2zm11 1zm-15 3zm8 2zm-1 7zm9 0zm-1 7zm-2 0zm-2 1zm1 1zm3 3zm-5 6zm-2 0zm-8 3zm2 5zm-1 10zm3 0zm10 1zm-12 5zm2 4zm4 2zm11 5zm-14 7zm4 7zm5 1zm-8 1zm-5 1zm6 0zm9 4zm-5 1zm1 6zm0 4zm5 3zm-7 4zm9 2zm-5 6zm-10 1zm15 2zm-15 0zm7 1zm-1 11zm4 4zm-13 9zm18 0zm-17 8zm7 3zm-9 6zm15 0zm-11 6zm7 0zm-10 1zm16 2zm-5 2zm-9 0zm15 2zm-8 4zm-1 5zm9 0zm-7 2zm1 0zm-2 1zm-9 10zm0 1zm5 0zm-3 6zm-2 7zm9 8zm6 6zm13 5zm4-1zm1-1zm-6-1zm3-10zm-1-1zm5-3zm-4-7zm-4-7zm-3-1zm9-10zm5-9zm-9-5zm9-3zm-6-3zm7 0zm-9-2zm2-3zm-2-9zm4-5zm0-4zm1-1zm-12-7zm9 0zm5-6zm-10-4zm10-5zm-7-6zm4-2zm-2-4zm-5-3zm6-5zm-2 0zm-8-3zm7 0zm-8-2zm4-8zm10-2zm-2-4zm-1 0zm-13-2zm3-7zm4-3zm-3-1zm4-1zm5-1zm1-4zm-2-11zm-2-1zm-10-1zm6-1zm12-1zm-11-3zm4-1zm3-8zm2-2zm0-7zm-12-3zm-3-3zm8 0zm4-1zm-7 0zm10-1zm2-4zm-4-3zm5-4zm-4-2zm-13-3zm16-2zm-4-1zm-12-3zm14-1zm-3 0zm-4-2zm1-10zm1-1zm-1 0zm-5-1zm6-4zm3 0zm-7-9zm9-3zm-11-5zm-5-1zm7-11zm2 0zm0-5zm0-5zm10-5zm-9 0zm9-1zm-14-11zm8 0zm2 0zm-9-8zm-5 0zm11-4zm-9 0zm5-5zm1-2zm-3-1zm-4-16zm10-6zm-6-12zm7-1zm-7-1zm11-1zm0-7zm-6-2zm6 0zm0-1zm-1-2zm-8 0zm-7 0zm13-6zm-7-6zm-1 0zm-2-4zm5-6zm7 0zm3 0zm0-5zm-9 0zm6-2zm-2-1zm-3-4zm-10-2zm9 0zm3-1zm2-8zm-13-2zm4-5zm5-1zm-7-5zm-4-1zm10-1zm-5-4zm-1-2zm5-1zm7-3zm-3-2zm-3 0zm-1-3zm-6-1zm0-6zm6-5zm3-2zm4-4zm-12-5zm3-3zm-6-9zm14-3zm-11 0zm0-1zm12-9zm-11-2zm1-1zm3-1zm9-1zm-4-1zm1-4zm-10-3zm12-2zm-7-11zm-5-14zm14-3zm0 0zm-6-5zm15 1zm-7 1zm3 3zm3 8zm-1 1zm-5 4zm15 2zm-16 1zm5 1zm0 1zm-1 0zm14 0zm-10 2zm5 0zm-5 1zm-6 2zm13 0zm-1 1zm0 3zm4 3zm-6 1zm6 2zm-6 2zm2 3zm-7 8zm9 5zm-4 1zm0 4zm-3 4zm5 3zm-2 19zm-3 2zm4 4zm6 0zm-15 0zm4 2zm-4 3zm-2 7zm11 3zm-3 0zm0 7zm-7 5zm1 0zm2 4zm10 1zm-8 12zm8 1zm3 1zm-19 0zm19 2zm-3 8zm3 2zm0 3zm-8 2zm-6 1zm6 3zm-10 3zm12 1zm-2 1zm-11 3zm5 0zm-4 4zm14 1zm3 3zm-15 2zm0 6zm4 1zm-7 0zm7 3zm1 2zm6 1zm-10 2zm8 0zm2 3zm-6 9zm-4 0zm15 9zm-18 3zm0 1zm9 1zm-7 8zm1 7zm-2 1zm4 0zm7 2zm5 7zm-17 2zm9 5zm-5 9zm3 2zm3 1zm1 1zm0 0zm-1 6zm0 2zm-6 1zm-1 0zm10 2zm-1 5zm2 2zm-8 4zm12 1zm-6 2zm4 1zm-6 2zm6 2zm-4 4zm3 4zm-15 1zm13 0zm-14 4zm0 1zm3 2zm1 3zm5 0zm4 5zm-7 0zm-1 2zm5 4zm3 0zm0 3zm-7 3zm9 2zm-14 0zm7 11zm-5 2zm0 5zm4 11zm-4 2zm-3 4zm11 1zm-8 13zm-1 4zm17 1zm-16 2zm14 0zm-16 3zm8 3zm-5 2zm6 2zm3 8zm-5 2zm-3 2zm9 4zm-4 1zm-8 1zm10 6zm-9 0zm4 0zm-4 4zm6 1zm-2 3zm5 0zm-11 4zm15 1zm-10 2zm3 7zm8 5zm-11 1zm-2 8zm9 1zm-12 3zm6 4zm-5 2zm7 6zm1 1zm1 5zm-10 0zm7 3zm-3 1zm11 1zm-1 0zm-9 1zm7 2zm-13 6zm14 2zm3 3zm0 3zm-10 1zm6 4zm-4 0zm-3 0zm4 8zm4 1zm4 1zm-16 1zm7 3zm8 0zm-4 0zm-1 6zm-4 0zm0 1zm-7 9zm12 2zm-2 5zm0 6zm-7 2zm12 0zm-1 1zm-13 2zm4 3zm11 6zm2 1zm13-2zm-1-1zm-6 0zm10-1zm4-2zm-6-5zm-8-12zm3-7zm3-2zm-6-6zm-2 0zm-3-1zm18-3zm-5-3zm4-10zm-8-1zm-9-2zm6-5zm1-3zm2 0zm-6-1zm11-2zm-3-1zm-3-1zm6-2zm-7-1zm-7 0zm15-2zm2-6zm-2-5zm4-4zm-13-9zm8-2zm1-7zm-9-1zm-1-3zm3-6zm10 0zm-6-1zm0 0zm-7-1zm12-3zm-16-4zm12-1zm-3-1zm1-1zm-10-4zm1-1zm1-3zm9-1zm-6-2zm2-2zm-7-2zm14-6zm-11-2zm1-7zm8-5zm-4 0zm5-10zm4-9zm-1-2zm-13 0zm11-1zm-15-3zm14-8zm2 0zm-4-4zm0-2zm-11-6zm11-2zm-10-3zm3-2zm8-6zm-3 0zm9-2zm-16-5zm-2-6zm1-1zm4 0zm-4-7zm13-4zm-13-1zm15-4zm-4-3zm5-1zm-8-2zm9-5zm-8-1zm0-2zm-1-1zm-4-5zm13-1zm-2-16zm-17-2zm5 0zm-3-1zm10-1zm-5-4zm4-6zm-5-4zm3-2zm7-6zm-2-1zm-3-2zm-8-4zm2-3zm5-4zm2-2zm-11-1zm17-17zm-10-3zm4-4zm4-4zm-5-1zm6-7zm-11 0zm1-2zm-2-2zm14-1zm-8-6zm-9-6zm4-2zm9-1zm-14-5zm0-1zm-1-2zm13-16zm-2-1zm1-2zm-12-3zm0-1zm9-1zm-2 0zm-4-9zm12-3zm-6-2zm-3-1zm1-1zm-1-3zm5-8zm7-1zm-5-1zm-12-17zm4-3zm12-2zm1-11zm-14 0zm0-4zm-4-1zm15-2zm1 0zm-7-1zm10-1zm-10-2zm-1-2zm2-3zm-2-1zm-5-1zm7-9zm0-1zm-4-4zm8-1zm-11-1zm10-2zm2-1zm-2 0zm0 0zm0-3zm-6-7zm4 0zm-2-2zm-7-9zm11-1zm-1-1zm7-3zm-19-2zm5-2zm13-1zm-14-2zm-3-6zm32 7zm-3 3zm5 2zm1 1zm-6 1zm-1 4zm-3 1zm-3 6zm6 8zm-3 5zm8 1zm-4 3zm7 2zm2 8zm-14 3zm6 1zm-10 3zm11 3zm-11 2zm5 0zm8 1zm4 4zm-13 2zm11 0zm-2 2zm-14 1zm5 1zm5 8zm-10 1zm15 0zm-12 0zm2 10zm11 7zm-7 1zm-4 5zm11 1zm-11 0zm8 4zm6 0zm-16 4zm5 0zm7 8zm-6 0zm5 1zm-11 11zm-1 0zm12 0zm4 3zm-11 1zm2 6zm0 1zm-1 2zm4 3zm7 1zm-6 4zm-2 1zm7 1zm-17 8zm2 2zm1 1zm13 1zm1 2zm-3 1zm-9 1zm2 7zm-6 1zm14 1zm-6 1zm-3 4zm7 1zm0 1zm-2 9zm-9 2zm-3 0zm13 3zm-10 3zm3 11zm6 1zm4 2zm-10 0zm-2 8zm11 1zm2 10zm-15 2zm6 4zm10 1zm-15 2zm-1 0zm9 4zm-3 0zm9 3zm-4 0zm-6 2zm-4 0zm1 5zm1 3zm-5 1zm17 0zm-13 8zm-3 1zm6 2zm6 6zm-1 0zm-1 13zm-2 2zm-7 10zm12 2zm-6 2zm1 2zm-8 4zm11 13zm-1 1zm1 0zm-3 0zm7 1zm-3 4zm-6 9zm5 1zm-7 2zm-1 0zm9 4zm1 3zm-12 0zm-1 1zm5 1zm-2 5zm7 1zm-4 0zm1 5zm-1 1zm-4 4zm7 2zm-6 9zm6 1zm3 2zm-5 3zm10 2zm-4 1zm2 11zm3 2zm-14 4zm13 3zm-4 1zm-8 1zm6 1zm4 5zm-12 3zm15 0zm-10 2zm-3 4zm-3 14zm6 3zm-9 4zm15 2zm3 5zm-1 11zm-14 2zm4 5zm5 8zm-4 2zm-7 5zm6 6zm-6 0zm18 1zm-12 1zm-1 6zm10 1zm-12 1zm-2 1zm15 7zm-8 5zm-7 6zm-1 2zm7 4zm8 9zm-14 1zm3 1zm-5 3zm8 2zm3 1zm23-21zm-9-4zm-1-2zm10-4zm-14-2zm12-1zm-10-2zm7-6zm1-1zm-9 0zm12-9zm0 0zm0-4zm-9-8zm-4-5zm1-9zm2 0zm-3-5zm5 0zm14-1zm0-5zm-5-4zm-12-1zm11-8zm-5 0zm8-3zm-5 0zm1-1zm-12-8zm19-2zm-19-5zm15-7zm3-1zm-4 0zm-14-9zm14 0zm-10-1zm13-4zm-8-2zm4-5zm-4-5zm4-2zm1-2zm3-4zm-2-1zm-2-1zm-7-1zm7 0zm-4-9zm1 0zm-1-1zm-6-1zm13-6zm-15-4zm10-1zm4-4zm-12-1zm5-5zm10-12zm-8-1zm-8-1zm13-4zm2-1zm-6-1zm4-7zm-11-2zm7 0zm1-2zm2-1zm0-2zm3 0zm-8-2zm-8-3zm7-1zm-6-4zm0-4zm15-1zm-4-5zm-1-2zm6-1zm-6-6zm-8-2zm6-5zm4-7zm5-2zm-2-1zm-11-4zm5-4zm-2-5zm-7-10zm13-1zm-2-1zm-9 0zm-1-3zm2 0zm-1-1zm0-2zm0-2zm-2-3zm13-4zm-12-4zm7-4zm8-2zm-13 0zm10-1zm3-3zm-2 0zm3 0zm-11-3zm5-5zm-9-3zm12-6zm2-2zm-18-1zm4-5zm7-6zm4-1zm-12-2zm12-2zm-15-2zm11-4zm0-1zm5 0zm-7-2zm-4-5zm14-1zm-19 0zm12-3zm-12-3zm8-2zm-8-2zm0 0zm0-2zm4-1zm15-1zm-18-2zm-1-4zm13-2zm-1-1zm4-3zm-16-4zm6-2zm2-3zm-5-6zm9 0zm0-4zm2-1zm-2 0zm-9-1zm15-2zm-7-2zm-8 0zm9-9zm-6-2zm13 0zm-18-1zm11-7zm-10-8zm12-3zm0-1zm-12-8zm15-3zm2-3zm-6-8zm-4-1zm3 0zm-5-2zm0-1zm5 0zm-1-1zm6-3zm-16-3zm11-1zm-9 0zm-1 0zm5-4zm12-6zm-16-1zm16-2zm-1-1zm-4-4zm-11-13zm9-1zm6 0zm-8-5zm-7-6zm29 5zm-3 1zm-8 0zm-1 1zm8 3zm-6 0zm5 0zm-1 3zm0 3zm3 2zm-1 1zm-4 1zm7 10zm-11 1zm14 2zm3 1zm0 8zm-16 1zm2 3zm11 1zm-11 3zm15 4zm-12 9zm7 2zm-6 4zm8 2zm-9 0zm-4 6zm13 0zm-5 8zm-8 3zm2 2zm15 1zm-4 2zm-10 3zm-5 10zm6 0zm3 4zm-1 5zm-5 3zm15 1zm-16 0zm5 1zm7 1zm-3 0zm-2 1zm-2 0zm9 5zm1 1zm-9 3zm-1 15zm4 0zm-7 0zm13 1zm0 6zm-9 1zm-4 0zm6 1zm-2 0zm0 5zm4 0zm-11 4zm12 0zm-4 1zm-6 3zm-3 1zm5 1zm9 1zm4 2zm-2 4zm-2 2zm-11 3zm-1 0zm13 3zm0 1zm-5 1zm-10 1zm16 3zm-16 4zm15 1zm-2 2zm-11 0zm15 2zm-7 1zm-10 2zm3 1zm6 3zm3 0zm-4 5zm5 0zm3 8zm-8 5zm10 1zm-15 7zm0 0zm15 2zm-16 2zm9 0zm-4 5zm-5 6zm17 0zm-6 16zm-2 15zm6 0zm0 2zm-4 0zm0 4zm-11 3zm0 2zm12 3zm-6 6zm-3 4zm13 8zm-17 4zm8 2zm-8 1zm2 1zm7 2zm-2 4zm7 2zm0 3zm-12 5zm8 1zm2 3zm1 0zm-12 17zm-2 1zm5 2zm2 2zm10 0zm-8 0zm5 2zm-7 1zm4 2zm0 2zm-7 6zm4 0zm-3 1zm7 0zm-5 5zm-4 0zm10 2zm4 6zm2 3zm-11 4zm8 4zm-1 2zm-15 2zm2 2zm11 3zm-10 2zm6 3zm2 9zm-5 0zm0 3zm3 1zm8 2zm-13 2zm8 3zm-8 2zm-4 1zm15 5zm-10 5zm0 3zm7 4zm-6 2zm10 4zm3 4zm-1 0zm-10 3zm6 0zm5 0zm-2 3zm2 2zm-17 7zm16 3zm-2 0zm0 7zm-7 4zm-1 5zm-6 7zm24-28zm-3-6zm3-5zm-6-5zm10-14zm-9-3zm10-2zm-2-1zm-4-5zm3-2zm-3-6zm8 0zm-9-6zm-1-1zm7-5zm9-3zm-13-2zm1-6zm-6-3zm9-3zm-6-1zm10-1zm-5-5zm10-6zm0-1zm-9-8zm-2 0zm-4-12zm7-1zm5 0zm-4-1zm7-6zm-12-4zm6-3zm-4-1zm-7-1zm16-1zm-9-4zm-8-3zm14-6zm-1-5zm4-6zm-6-5zm6-3zm-12 0zm-5-2zm16-4zm-7-14zm-8 0zm4-4zm7-9zm-9-1zm6 0zm-10-1zm2-5zm8-1zm6 0zm3-1zm-5-1zm-9-1zm12 0zm2 0zm-14-8zm-1-7zm10-2zm-3 0zm-7-1zm-2-4zm1-11zm11-1zm3-5zm-12-1zm-3-6zm14-2zm1-1zm-8 0zm-5-5zm12-7zm-5-7zm-8-2zm0-2zm-3-4zm16 0zm-9 0zm-2-3zm-1-3zm2-2zm12 0zm-18-6zm4-4zm4-4zm3-7zm-10-1zm1-1zm10-2zm-5-4zm9-4zm-7-3zm-8-3zm10-1zm3 0zm-13 0zm-1-2zm11-3zm8-4zm-11-1zm-7-2zm17-6zm-11-2zm-1-4zm6-8zm-9-1zm-3-3zm17-5zm-6-2zm1 0zm1-2zm-9-4zm1-7zm-4-5zm8-5zm6-6zm-3-5zm-3-2zm1 0zm0-3zm1-2zm0-5zm-6-4zm10-19zm-10-1zm4-2zm10-8zm-17-1zm-2-2zm9-3zm-3 0zm-4-3zm11-3zm-3-3zm7-1zm-10-4zm0 0zm15-2zm8 1zm-10 1zm4 5zm10 2zm-3 5zm5 2zm3 6zm-9 0zm3 1zm-10 1zm9 3zm-11 1zm15 2zm-2 0zm3 2zm-12 3zm3 3zm-3 1zm1 19zm-6 5zm5 5zm-3 1zm17 3zm-15 0zm13 2zm-9 3zm-1 3zm-1 2zm1 1zm-6 3zm13 1zm5 6zm-6 3zm-6 7zm4 0zm-2 1zm-5 2zm9 14zm0 1zm-9 3zm0 1zm2 1zm-1 13zm4 0zm-6 11zm7 1zm2 6zm-1 0zm-4 1zm4 3zm5 3zm0 4zm-3 0zm-13 3zm4 1zm6 1zm-9 4zm4 1zm7 1zm-1 1zm3 0zm3 2zm-9 6zm1 1zm-5 12zm6 2zm-7 4zm15 7zm-10 4zm-8 2zm13 2zm-8 2zm6 5zm0 0zm-1 4zm5 5zm-5 3zm-2 5zm6 0zm4 2zm-17 0zm3 3zm5 6zm-3 1zm-4 1zm-2 4zm17 1zm-12 0zm8 4zm1 2zm-13 3zm10 0zm-3 3zm-4 1zm-1 2zm-3 13zm13 2zm-12 3zm15 2zm-15 5zm1 2zm11 2zm-3 4zm7 3zm0 1zm-12 3zm9 2zm-5 0zm0 0zm-1 2zm-1 2zm1 4zm0 3zm-4 1zm5 3zm-9 1zm18 0zm-14 2zm-2 1zm1 2zm6 0zm-5 3zm-2 16zm12 0zm0 5zm0 5zm-6 0zm6 1zm-8 6zm-6 0zm18 4zm-10 5zm1 2zm-3 4zm12 2zm-3 4zm-3 3zm4 4zm-7 3zm-7 3zm-2 2zm1 7zm12 2zm-11 0zm3 19zm17-33zm1-7zm3-1zm-3-1zm5-17zm-5-1zm1 0zm-1-3zm9 0zm-9-1zm-3-6zm8-1zm10 0zm-12-1zm9-8zm2-7zm-17-5zm2-1zm9-1zm-8-8zm5-2zm3-1zm-5-2zm9-7zm-9-2zm8-5zm-12-1zm11-2zm-9 0zm4-1zm11-4zm-17-8zm9 0zm-8-1zm2-2zm13-3zm-9 0zm2-2zm8-6zm-14-1zm-1-3zm-2-4zm6-1zm-6 0zm11-2zm-7-1zm5-14zm3-1zm-13-5zm-1-3zm6-1zm4 0zm3-4zm1-1zm-12-8zm6-9zm11-2zm-12-5zm12-2zm-7-2zm-3-3zm10-2zm-2 0zm-4-11zm-9 0zm-3-6zm0-2zm7-1zm10-2zm-9 0zm-4-7zm11-3zm-4-1zm6-3zm-13-3zm-2 0zm4-5zm1-1zm3-5zm-11-3zm13-2zm5-8zm-4-4zm-8-2zm12-6zm1 0zm-4 0zm-9 0zm-1-1zm-5-3zm15 0zm-13-7zm12-1zm-6-2zm-7-7zm15-1zm-7 0zm6-3zm-3-4zm-11-2zm15-9zm1-8zm-15-7zm13 0zm2-1zm-14 0zm-1-2zm2-2zm4-3zm5-3zm2-5zm-9-12zm1-12zm2-2zm10-4zm-6-4zm-1 0zm2-1zm-3-3zm8-4zm-15-2zm4-22zm-1-4zm0-1zm0-1zm8-8zm11 2zm3 1zm-4 2zm12 2zm-7 3zm7 0zm-13 8zm14 1zm-11 1zm-1 6zm11 4zm-15 0zm0 1zm16 2zm-18 4zm0 0zm4 3zm2 5zm12 0zm-3 1zm-13 2zm13 0zm3 2zm-17 2zm1 1zm11 1zm6 1zm-13 10zm11 7zm-17 7zm11 2zm-3 1zm7 3zm-13 2zm7 4zm6 1zm-3 1zm2 5zm-11 7zm3 4zm1 0zm-7 2zm7 1zm-5 2zm1 0zm12 7zm1 0zm-14 3zm7 0zm0 1zm10 5zm-18 1zm12 0zm-3 1zm8 6zm-17 6zm6 6zm9 1zm-8 5zm8 1zm-16 5zm6 4zm11 5zm-3 1zm-9 1zm12 2zm-6 2zm4 1zm-7 9zm10 0zm-11 2zm11 4zm-4 0zm0 5zm-12 3zm1 0zm7 5zm-9 0zm-1 1zm15 2zm-4 17zm6 0zm-13 5zm3 6zm11 1zm-4 1zm4 11zm-15 2zm7 6zm-10 3zm0 5zm18 2zm-5 7zm-2 3zm-4 9zm7 2zm3 5zm-17 2zm4 1zm-1 3zm-3 3zm9 1zm-8 3zm18 1zm-8 0zm-6 5zm8 4zm-4 1zm-2 1zm-2 4zm7 0zm-8 3zm12 3zm-8 1zm-8 5zm16 0zm-10 3zm-3 0zm2 3zm10 2zm-5 4zm2 8zm-11 6zm2 2zm17-27zm5-32zm6-1zm-1-2zm-5-4zm-2-11zm0-1zm8-12zm-7-1zm14-1zm-11-10zm-2 0zm10-10zm-1-1zm-13-1zm13-2zm-3-2zm1-1zm0-1zm4-10zm0 0zm-10-3zm5-2zm3-10zm-9-1zm11-2zm-8-1zm10 0zm-4-4zm-5 0zm-4-4zm-5-6zm6-2zm9-7zm-4-2zm-6-2zm13 0zm-10-2zm-2-3zm-6-2zm2-2zm15-1zm-12-4zm13-4zm-7-1zm2-2zm0-2zm5 0zm-3-1zm-13-2zm5-5zm6 0zm4-2zm-10-2zm11-4zm-14-5zm9-5zm-3 0zm-10 0zm9-2zm-6-1zm11-7zm-6-3zm-1 0zm-7-6zm14-9zm3-1zm-17-2zm2 0zm5-3zm-5-3zm0 0zm16-1zm-11-1zm-7-3zm0-1zm3 0zm-1-1zm-1-6zm15-9zm-8-2zm11-4zm-1-5zm-13-3zm11-1zm-2 0zm0-2zm-11-1zm12-2zm-9 0zm10-9zm-15-5zm13-1zm-7 0zm7-1zm-14-7zm5-1zm8-2zm-2-8zm-7-2zm13-3zm-7-1zm4-5zm5-7zm-9-1zm2-10zm4 0zm2-2zm-15 0zm1-1zm-3-3zm10-6zm10 3zm-1 3zm8 2zm1 2zm-9 4zm6 4zm-3 8zm12 4zm-5 0zm1 0zm-2 1zm7 1zm-3 13zm2 0zm1 4zm0 2zm-5 0zm-3 2zm2 1zm4 2zm2 1zm-9 0zm0 1zm3 8zm-5 3zm-3 3zm7 6zm6 2zm-14 1zm1 2zm15 0zm-3 1zm-6 3zm7 5zm-11 4zm-1 1zm14 8zm-14 7zm9 2zm2 3zm-10 2zm11 2zm0 4zm-11 2zm1 0zm11 3zm-12 9zm13 7zm-6 3zm-3 2zm8 1zm-3 8zm-4 2zm-6 0zm9 1zm-4 5zm2 2zm2 0zm2 0zm-8 2zm-6 0zm4 3zm14 0zm-4 3zm3 2zm2 2zm-16 3zm15 2zm-1 2zm-6 2zm-4 6zm-4 1zm13 2zm-5 1zm-6 4zm-1 6zm10 1zm-1 3zm1 2zm-10 2zm10 2zm-13 6zm-1 2zm13 19zm-6 1zm11 3zm-5 5zm-2 2zm-6 0zm7 0zm-7 6zm4 2zm0 8zm-6 6zm-1 3zm-2 13zm1 3zm23-71zm3-2zm3-9zm-5-1zm0-1zm-5-1zm8-1zm1-2zm-5 0zm-2-4zm11-1zm2-2zm-2-3zm-8-4zm-4-2zm2-1zm-1-1zm-1-3zm15-8zm-6 0zm0-3zm9 0zm-5-5zm-9-2zm-4-2zm0 0zm5-1zm-5-4zm5-4zm2-1zm0-1zm6-1zm-5-4zm0 0zm9-3zm-13-5zm7-8zm4-4zm-16 0zm12-1zm-8 0zm-2-7zm12-4zm1 0zm3-2zm-9-5zm10-2zm-2 0zm-6-1zm-9 0zm5-5zm1-1zm6-2zm-6-1zm-5-3zm16 0zm-5-2zm5-1zm-5-3zm2-2zm-5-13zm-5-6zm-3-1zm13 0zm-5-1zm-11-6zm3-4zm16 0zm-4-5zm-8-8zm-5-3zm5-1zm-3 0zm14-8zm-10-2zm-8-2zm2-11zm3-4zm-5-13zm21 48zm9 15zm-9 1zm4 5zm-4 5zm3 7zm-3 6zm5 4zm2 3zm4 3zm-7 4zm8 2zm-3 0zm-10 2zm9 6zm-6 1zm3 3zm-1 0zm-1 0zm1 2zm-4 8zm10 1zm-8 5zm-3 13zm2 2zm2 1zm-4 3zm4 8zm-2 6zm-1 5z" fill="none" stroke="#50308a" stroke-width="8.0" stroke-linecap="round"/>
<path transform="scale(.1)" d="M1698 4686zm-1 11zm-3 10zm-3 1zm3 2zm2 16zm3 3zm11 150zm3-4zm-6-6zm4-16zm-3-3zm2-29zm0-3zm-2-2zm3-3zm0-2zm-2-32zm2-4zm-2-7zm3-9zm-3-2zm2-1zm-2-12zm7-1zm-8-9zm-8-5zm10-1zm-1-3zm-3-1zm2-2zm6-1zm-5-3zm-5-3zm-3-1zm1-4zm3-4zm3 0zm5 0zm-7-1zm1 0zm1-5zm-8-2zm18 0zm-18-3zm9-3zm16 2zm5 13zm2 2zm-12 9zm30 133zm3-6zm6-110zm-1-6zm3-2zm10 4zm6 10zm3-6zm12-4zm18 1zm-9 3zm18 4zm-18 5zm4 4zm23 5zm-4-5zm7-1zm1-3zm-11-1zm2 0zm3-1zm-1-2zm2-2zm-1 0zm-6-2zm4-2zm3-8z" fill="none" stroke="#1b9847" stroke-width="6.8" stroke-linecap="round"/>
<path transform="scale(.1)" d="M1828 4798zm9-8zm0-2zm-3-18zm3-8zm3 3zm1 3zm2 12zm5 4zm-6 8zm10 1zm-8 1zm-1 0zm9 5zm-3 2zm8 2zm0 2zm-2 6zm-3 2zm-9 16zm5 11zm3 27zm23 14zm4-41zm-1-13zm-5-7zm-10 0zm3 0zm0-17zm19 23zm5 1zm-9 5zm10 18zm-8 2zm8 7zm-1 2zm-6 23zm31-13zm-14-23z" fill="none" stroke="#5f9a78" stroke-width="6.8" stroke-linecap="round"/>
<path transform="scale(.1)" d="M1835 4697zm3-85zm-11-1zm-3-3zm15-1zm-3 0zm2-9zm1-1zm-4 0zm0-7zm4-4zm-1 0zm7-26zm-1 3zm-3 5zm3 4zm12 1zm-7 0zm-7 0zm15 2zm-3 4zm-5 2zm8 2zm-16 1zm8 1zm-5 5zm12 0zm-5 4zm-2 6zm-1 1zm-6 2zm6 1zm-5 5zm13 1zm-4 3zm-6 2zm8 2zm3 1zm-9 3zm-3 6zm2 18zm2 3zm-7 4zm4 2zm-1 11zm-2 4zm2 0zm-4 20zm2 7zm-3 0zm0 3zm0 2zm3 5zm-1 8zm19-95zm11-10zm-11-13zm4-4zm-1 0zm-2-5zm7-3zm-2-2zm3 0zm8-1zm-13-13z" fill="none" stroke="#442076" stroke-width="6.8" stroke-linecap="round"/>
<path transform="scale(.1)" d="M2339 5004zm-4 1zm-5 1zm7 0zm-4 2zm5 6zm14 34zm5-6zm-4 0zm2-2zm-5-1zm9 0zm-3-1zm-5-2zm4 0zm-4-3zm8-5zm-2-1zm-11-2zm-1 0zm12-1zm-6-1zm-3-1zm8-1zm-1-2zm-12-1zm12-1zm-6 0zm-5-1zm14 0zm-7-2zm13 18zm-1 2zm14 0zm-8 0zm-5 0zm-4 1zm9 0zm-5 2zm-1 1zm12 0zm1 1zm-6 2zm7 0zm-11 0zm-5 1zm0 2zm0 1zm6 1zm-5 5zm2 3zm30 56zm3-18zm-3-19zm-8-16zm25 32zm2 4zm-1 12zm3 1zm-6 0zm9 0zm1 1zm-2 5zm-6 1zm6 5zm-1 1zm-11 2zm8 14zm0 2zm6 10zm-1 9zm-5 10zm26 14zm-4 0zm4-1zm-1-1zm-5-2zm0-1zm-2-3zm3-4zm1-1zm2 0zm-11-7zm3 0zm0-1zm5-1zm-7-4zm-3-1zm7-2zm1 0zm-9-1zm4 0zm10-2zm-11-1zm-3-1zm16-1zm0-2zm-4-1zm1 0zm-1 0zm2-2zm-10-2zm-6-2zm8-2zm-5-1zm6-2zm4-2zm-9 0zm11-1zm-12-1zm12-1zm-12 0zm6-1zm2-1zm-5 0zm0-2zm1-5zm-4-1zm10-6zm-4 0zm-1-1zm-5 0zm18 3zm16 0zm-11 2zm0 5zm11 2zm-6 0zm-11 1zm13 8zm5 2zm-15 0zm5 1zm5 0zm-4 2zm0 2zm-4 1zm5 1zm-11 1zm16 0zm2 0zm-2 1zm-3 0zm-7 1zm-3 0zm6 0zm6 0zm4 0zm-16 2zm4 1zm3 0zm4 1zm-9 0zm-4 1zm9 1zm-3 2zm-6 1zm9 0zm5 3zm-15 0zm0 1zm19 0zm-14 0zm0 1zm2 1zm-6 0zm14 0zm3 3zm-8 0zm-9 0zm14 1zm-12 0zm16 1zm-14 0zm4 1zm8 3zm-5 0zm-9 0zm12 2zm-10 0zm-1 2zm-4 0zm15 1zm-7 0zm10 0zm-11 1zm5 0zm-12 2zm7 1zm-6 1zm18 1zm-6 2zm4 5zm-6 3zm11-7zm3-3zm-3 0zm16-3zm-14-2zm10-2zm-3-1zm7-3zm-18-1zm3-1zm4-1zm-6 0zm16 0zm0-2zm-15-1zm2 0zm6 0zm-8-1zm5-5zm-6-1zm13-6zm4 0zm-9-2zm-5-1zm5 0zm6 0zm1 0zm-14-1zm7 0zm-9 0zm5-8zm14-3zm-5 0zm-7-2zm5-2zm-12-7zm25 10zm-5 3zm2 1zm6 22z" fill="none" stroke="#1b9847" stroke-width="9.0" stroke-linecap="round"/>
<path transform="scale(.1)" d="M2354 5021zm22 16zm0 1zm42 72zm-6 23zm16 15zm7-6zm15-28zm-5 27zm12 13zm16 13zm-3-7zm-10-13zm26-3z" fill="none" stroke="#442076" stroke-width="9.0" stroke-linecap="round"/>
<text x="284.20" y="447.80" font-size="7.5" fill="#242424" stroke="#242424">chr15</text>
<rect x="284.60" y="451.20" width="103.60" height="98.40" fill="#fff" stroke="#8c8c8c" stroke-width="0.48"/>
<text x="291.10" y="558.40" font-size="7.5" text-anchor="middle" fill="#333333" stroke="#333333">−5</text>
<text x="314.60" y="558.40" font-size="7.5" text-anchor="middle" fill="#333333" stroke="#333333">0</text>
<text x="338.10" y="558.40" font-size="7.5" text-anchor="middle" fill="#333333" stroke="#333333">5</text>
<text x="361.60" y="558.40" font-size="7.5" text-anchor="middle" fill="#333333" stroke="#333333">10</text>
<text x="385.10" y="558.40" font-size="7.5" text-anchor="middle" fill="#333333" stroke="#333333">15</text>
<text x="281.40" y="476.80" font-size="7.5" text-anchor="end" fill="#333333" stroke="#333333">5</text>
<text x="281.40" y="512.10" font-size="7.5" text-anchor="end" fill="#333333" stroke="#333333">0</text>
<text x="281.40" y="547.40" font-size="7.5" text-anchor="end" fill="#333333" stroke="#333333">−5</text>
<path d="M291.10 549.60v2M314.60 549.60v2M338.10 549.60v2M361.60 549.60v2M385.10 549.60v2M284.60 474.10h-2M284.60 509.40h-2M284.60 544.70h-2" stroke="#555" stroke-width="0.6" fill="none"/>
<text x="340.90" y="567.20" font-size="7.5" text-anchor="middle" fill="#242424" stroke="#242424">UMAP_1</text>
<text x="268.30" y="503.90" font-size="7.5" text-anchor="middle" transform="rotate(-90 268.30 503.90)" fill="#242424" stroke="#242424">UMAP_2</text>
<path transform="scale(.1)" d="M2899 5119zm-1 15zm0 16zm20 112zm-1-18zm-3-2zm5-5zm-2-6zm-2-13zm-4-2zm8-2zm-2-1zm0-12zm-3-3zm-9-11zm13-1zm-5-3zm-8-2zm1-2zm11-8zm-14-1zm2-3zm8-1zm-4-2zm-1 0zm-7-5zm2 0zm14-3zm-5-1zm-11 0zm3-2zm6-2zm-5 0zm8-7zm-13 0zm15-5zm4-3zm-11-5zm2-1zm-9-1zm3-2zm1-3zm2-2zm3-6zm6-18zm-15-2zm-1-2zm3-9zm-2-1zm6-2zm2-4zm-2 0zm-2-1zm9-1zm-3-2zm-5-6zm2-1zm1-6zm-7-2zm10-11zm2-12zm1-1zm0-2zm-1 0zm0-10zm2-3zm23-44zm-4 7zm3 1zm-5 2zm2 0zm-2 1zm3 3zm-4 2zm1 3zm6 2zm-8 7zm6 1zm-7 4zm4 2zm-14 10zm3 1zm11 4zm-5 3zm1 6zm7 6zm-9 1zm-2 6zm12 3zm-13 2zm8 12zm-7 1zm9 1zm-13 11zm12 14zm-2 1zm-1 8zm-2 11zm6 2zm4 2zm-11 16zm9 6zm-6 2zm5 1zm1 0zm-6 2zm0 0zm-10 3zm3 7zm6 6zm-2 1zm-5 2zm16 0zm-17 5zm10 0zm-7 8zm7 1zm-1 2zm0 1zm-3 1zm8 1zm1 0zm-11 1zm6 4zm-11 4zm3 2zm10 0zm-11 1zm3 4zm-1 0zm-3 6zm15 6zm-11 7zm9 3zm3 1zm-11 4zm-1 5zm0 1zm4 0zm2 0zm1 4zm5 6zm-1 0zm-10 4zm2 5zm2 0zm-1 1zm4 6zm-7 2zm8 2zm-5 7zm-2 7zm-5 2zm6 6zm-1 4zm4 3zm5 10zm1 7zm1 1zm-3 3zm2 6zm13 24zm6-1zm-2-2zm2-7zm-9-4zm-5-2zm6-2zm9-1zm-18-6zm15-1zm-2-2zm2-5zm-1-3zm-13-4zm4-1zm-2-4zm-1 0zm8-2zm9-5zm-5 0zm4-4zm-1-2zm-10-4zm-4-1zm13-3zm-4 0zm-5-2zm-1-3zm-4-9zm8-4zm-5-5zm6-2zm3-8zm1-2zm3 0zm-13-2zm-5-8zm19-6zm-7 0zm-7-2zm11-4zm2-1zm-9-1zm5-2zm1-1zm-5-3zm0-2zm-10-3zm0-4zm9 0zm-9 0zm8-1zm-6-3zm14 0zm-14-6zm12-7zm-9-2zm11-2zm-7-10zm-4-1zm3-1zm0-2zm2-2zm5-4zm4-3zm-17-1zm17-4zm-15-2zm11-2zm3-1zm-7-8zm1-4zm7-1zm-13-6zm4-5zm9-6zm-13-4zm7 0zm4-5zm0-1zm2-2zm-8-3zm-9-1zm5-7zm1-3zm0-1zm2-1zm-10-1zm11-1zm-4-7zm10-3zm-15-2zm12-1zm1-4zm-3-2zm2-1zm-10-1zm-4-3zm2-3zm9-2zm5-2zm2-1zm-7-1zm-4-4zm-6-2zm10-6zm-5-5zm-5-3zm3-2zm-3-8zm10-1zm-1-5zm7-1zm-12-1zm7-5zm0-1zm-4 0zm10-5zm-9-2zm3-3zm7-1zm-14-9zm8-3zm-3 0zm-3-1zm10-6zm-6-8zm4 0zm-2-4zm2-4zm0 0zm4-3zm-6-8zm22-22zm-3 3zm3 1zm4 0zm-9 1zm3 0zm-9 6zm8 0zm-5 7zm10 3zm-3 0zm-4 4zm-4 1zm6 8zm5 0zm1 4zm-15 4zm8 3zm8 3zm-6 0zm2 1zm-1 2zm-2 4zm5 4zm2 3zm-9 0zm1 6zm3 3zm-6 1zm3 0zm1 2zm4 2zm-2 4zm5 0zm-9 1zm8 22zm-13 0zm-4 8zm0 0zm12 0zm-10 2zm-1 1zm-1 1zm0 2zm11 5zm1 1zm-2 1zm-10 0zm5 2zm-2 1zm13 0zm-1 0zm-16 1zm3 2zm1 1zm-2 2zm11 1zm-8 6zm-5 0zm5 9zm4 3zm8 1zm-12 2zm8 2zm-2 2zm1 0zm5 2zm-3 3zm-3 4zm3 0zm-4 7zm6 1zm-6 8zm-6 0zm12 2zm-3 0zm4 2zm-7 2zm8 0zm-9 8zm2 7zm-5 3zm-1 7zm2 6zm-4 5zm15 0zm-11 1zm4 7zm-3 8zm5 1zm-7 3zm7 0zm6 1zm-2 1zm-6 2zm3 3zm2 4zm-7 1zm-5 5zm5 5zm4 1zm1 4zm4 2zm-2 1zm-12 0zm7 8zm-10 4zm0 1zm8 13zm-5 0zm13 5zm2 4zm0 4zm-4 3zm-8 2zm11 2zm-9 3zm-8 3zm4 0zm4 1zm-6 1zm-1 2zm7 1zm2 0zm6 8zm-14 0zm13 11zm-9 1zm7 2zm1 2zm-15 6zm8 1zm-1 1zm2 1zm4 2zm-3 1zm0 3zm-3 4zm-2 7zm9 0zm-2 2zm-2 2zm0 6zm0 0zm5 3zm-9 3zm8 1zm-2 0zm1 2zm-10 5zm13 2zm-2 2zm0 10zm-12 1zm16 12zm20 32zm0 0zm-2-4zm-3-3zm1-1zm-5-3zm6-3zm-4-1zm-1-2zm6-12zm-12-2zm13-3zm-7-10zm-2-2zm-6-1zm-2-7zm3 0zm6-1zm4-4zm-3 0zm-9-3zm9-3zm6-3zm-2 0zm-10-16zm5-4zm2-1zm8-5zm-14-1zm0-2zm4-6zm-8-6zm2-1zm6-2zm-7-8zm13 0zm-10-5zm-2-1zm7-1zm-4 0zm9-4zm0-3zm-15-2zm8-12zm11-4zm-18-2zm5 0zm10-3zm-4-2zm-9 0zm2-1zm-3-3zm15-3zm-1-5zm-8-1zm-4-8zm6-1zm2 0zm-11-7zm0-1zm4-15zm1-2zm7-2zm-2-5zm8 0zm-11-4zm-7 0zm10-3zm1-5zm-12 0zm2-1zm17-4zm-13-1zm-3-3zm2-1zm13-1zm-10-2zm-4-4zm2 0zm4-1zm6-1zm-2-1zm-9-3zm0-2zm11 0zm3-3zm-6-3zm-10-1zm-1-14zm0-1zm9-7zm3 0zm-14-2zm19-5zm-7-2zm-2-1zm-3-3zm2-5zm3-2zm-8-5zm4-4zm9-10zm-6 0zm-6-1zm14-2zm-12-3zm-6-5zm8-3zm-2 0zm1-11zm-6 0zm5 0zm0-1zm3-1zm9-3zm-12 0zm3-3zm4 0zm-14-1zm15-1zm-3 0zm2-1zm-2-6zm7-5zm-6-1zm1-1zm-11-2zm8-1zm-8 0zm2-7zm4-3zm8-2zm-5-1zm-4-2zm-8-6zm4 0zm4 0zm0-1zm-1-2zm9-1zm-14-8zm0-1zm16-1zm0-5zm-4-7zm-2-6zm0-3zm-7-2zm4-4zm5-1zm2-6zm-7-4zm3 0zm-2-2zm-1-6zm7-4zm-6 0zm1-1zm8-1zm-8 0zm0-5zm-9-4zm12 0zm-8-5zm24-21zm0 1zm7 5zm-11 8zm7 5zm-6 1zm11 4zm-9 5zm4 2zm5 2zm-7 2zm4 0zm-5 1zm-2 5zm0 2zm6 4zm-7 7zm8 2zm-6 1zm-6 1zm3 1zm0 1zm2 1zm-5 6zm3 3zm3 1zm-9 1zm12 0zm-1 1zm-6 5zm-2 0zm1 2zm2 1zm2 2zm6 7zm-14 4zm16 5zm-13 1zm0 4zm16 3zm-3 0zm-1 9zm-13 4zm3 0zm-5 0zm1 9zm15 2zm1 8zm-4 1zm6 1zm-8 3zm8 3zm-1 1zm-12 1zm5 8zm-5 6zm13 2zm-11 1zm5 3zm-2 0zm6 2zm-15 3zm12 6zm-14 2zm8 2zm-2 1zm11 0zm-5 2zm-7 1zm8 0zm-8 2zm5 0zm1 4zm-2 2zm-8 0zm13 2zm-14 6zm15 1zm-12 7zm11 2zm3 8zm-4 2zm3 2zm-12 5zm15 2zm-12 8zm4 3zm6 2zm-5 3zm6 1zm-13 12zm-1 1zm9 1zm5 0zm-14 5zm-2 3zm16 2zm-17 0zm14 1zm-5 10zm0 0zm-7 0zm1 4zm2 1zm-6 4zm17 2zm-5 2zm5 4zm-6 0zm4 1zm-5 1zm-2 9zm4 4zm1 5zm5 0zm-3 4zm-6 0zm-4 2zm4 2zm1 0zm5 2zm-11 1zm-2 1zm-2 5zm3 7zm4 2zm4 11zm2 5zm-12 2zm7 0zm4 0zm-4 5zm1 0zm9 2zm-12 1zm12 3zm-9 6zm1 1zm-8 2zm10 6zm-11 5zm7 8zm0 2zm1 5zm-4 1zm6 3zm2 7zm-11 6zm10 0zm6 12zm-11 1zm10 2zm-2 3zm0 1zm1 2zm-16 2zm5 3zm1 8zm6 1zm-4 1zm10 4zm-6 1zm-2 1zm-3 1zm-4 1zm10 2zm-6 0zm6 6zm3 5zm-11 3zm1 0zm1 2zm9 1zm3 6zm-13 4zm1 4zm2 4zm5 5zm22 17zm-8-9zm4 0zm3-1zm-9 0zm6-5zm-3-6zm-9 0zm5-1zm5-2zm-10-4zm14-12zm1-1zm-2-7zm-7-6zm-2 0zm0-7zm7-3zm-5-1zm8-3zm5-5zm-13-1zm-1 0zm-4-2zm16-2zm-9-7zm5 0zm3-6zm-4-3zm-3-3zm8-5zm-9-1zm8-6zm-8 0zm9-3zm-4-7zm-10-1zm5-1zm10-2zm-12-2zm3-2zm7-1zm-9-1zm3-4zm5-2zm-1-1zm-8-9zm8-2zm-6-1zm-5-2zm11-3zm-2-8zm6-6zm-1-1zm-17-5zm1 0zm9 0zm-8 0zm-1-6zm7 0zm-6 0zm3-1zm2-5zm4-7zm-2 0zm8-2zm-7-7zm-2-2zm9-3zm2 0zm-12-3zm-7-2zm10-1zm-5-5zm12-1zm-17-3zm15-3zm0-4zm1-4zm-14-3zm4-3zm10-1zm-15-1zm11-1zm-1-3zm-1-1zm1-1zm-2-15zm6-2zm-10-7zm2-1zm4-1zm-7-1zm15-2zm-10-1zm-4-3zm11-3zm2-6zm-3-4zm-8-4zm4-2zm-10-1zm3-2zm1-5zm8-1zm-6-2zm-3-1zm15-2zm-1-3zm-14-1zm11-4zm-13 0zm15-2zm-16-3zm10-3zm-9-4zm10-2zm7 0zm-2-2zm-4-4zm-5-7zm1-3zm10-3zm-14-5zm-5 0zm16-3zm-16-7zm13 0zm-2-4zm-3-3zm10 0zm-11-1zm5-1zm1-1zm-6-3zm2-3zm-5-2zm0-6zm9-1zm-7-9zm5 0zm1-1zm-10 0zm-1-6zm3 0zm1-3zm7 0zm5-7zm-11-1zm-2-1zm13-9zm2-5zm-1-3zm0 0zm-1-3zm-10-2zm3-2zm6-2zm3-1zm-14-2zm7-6zm5-2zm0-4zm-17-2zm17-2zm2 0zm-6-4zm-3-2zm1 0zm6-1zm-11-3zm-4-2zm10-15zm1-4zm-1-2zm-11-2zm11 0zm-8-1zm-1-1zm12-3zm0-6zm-5-5zm2-1zm-7-2zm4-4zm-5 0zm-4-2zm8-8zm-6-1zm3-1zm13-1zm-7-1zm4-1zm6-1zm14 2zm-7 2zm-5 2zm12 0zm-5 9zm8 1zm-9 1zm4 1zm-7 3zm8 5zm4 2zm-14 2zm-2 1zm12 7zm-12 7zm6 2zm-8 5zm4 1zm-3 4zm17 15zm-4 4zm4 2zm-8 1zm-10 4zm16 2zm-10 12zm12 6zm-15 1zm5 3zm2 2zm-5 0zm12 0zm-2 1zm-6 2zm2 7zm-5 3zm6 16zm5 11zm-14 6zm12 4zm-9 2zm3 1zm9 8zm-5 5zm-7 1zm10 9zm-7 0zm1 3zm-10 1zm3 2zm0 0zm13 0zm1 0zm-10 3zm-6 1zm14 1zm-15 1zm19 2zm-18 6zm2 2zm11 7zm-3 3zm8 3zm-19 3zm12 1zm4 3zm-10 3zm9 1zm-9 1zm1 1zm4 5zm-11 3zm11 1zm-1 1zm2 8zm5 8zm2 1zm-15 1zm13 3zm-7 0zm7 10zm-14 8zm10 4zm-10 3zm13 1zm3 1zm-16 6zm8 1zm-11 3zm13 1zm5 2zm-3 1zm-10 0zm-1 5zm-3 4zm0 6zm10 3zm4 7zm-14 3zm2 6zm9 5zm7 1zm-13 2zm-5 0zm6 3zm0 6zm-4 4zm9 2zm1 0zm-9 4zm15 0zm-12 3zm11 4zm-3 1zm-14 4zm2 2zm3 0zm7 1zm-7 1zm5 4zm-10 4zm8 2zm7 5zm-1 4zm-1 5zm-1 3zm-3 1zm7 0zm-14 4zm16 1zm-11 3zm-2 2zm0 1zm6 1zm-11 1zm15 0zm1 2zm-1 2zm-16 3zm11 4zm4 3zm-14 1zm0 1zm17 2zm-8 6zm-8 2zm4 7zm1 3zm2 6zm-3 3zm-5 0zm8 5zm1 0zm9 7zm-11 4zm1 1zm-9 1zm0 2zm15 0zm-15 2zm12 2zm0 5zm5 1zm-10 2zm7 0zm2 2zm-10 2zm-4 2zm13 2zm2 2zm-2 4zm-4 3zm-11 1zm13 1zm-5 2zm5 2zm-3 7zm4 3zm2 4zm-3 0zm-5 0zm-8 7zm5 4zm9 4zm20 13zm1-1zm-6-9zm10-6zm-16 0zm4-1zm6-2zm-2-9zm7 0zm-10-4zm6 0zm2-2zm-11 0zm14-1zm-1-6zm-5-1zm1 0zm-3 0zm3 0zm-6-3zm1-1zm-3 0zm5-3zm-2-1zm-8-3zm15-3zm-10-7zm9-2zm-2-4zm3-5zm2-1zm0-1zm-6-3zm1 0zm-2-1zm-4-1zm12-5zm-16-6zm10 0zm6-3zm-4 0zm4-5zm-7-1zm-4 0zm2-7zm-9-2zm8-1zm0-2zm2-2zm1 0zm-6-3zm13-10zm-10-3zm-1 0zm11 0zm-5-10zm-1 0zm-3-2zm5-2zm-3-3zm6-3zm-11-2zm-5-3zm16-1zm-4-3zm-11-12zm5-3zm-7-1zm10-2zm5-4zm-6-3zm-7-1zm12-5zm-8-4zm-6-1zm17-3zm-2-2zm-16 0zm10-6zm7-2zm-12-2zm-4-1zm8-1zm-3-1zm6-1zm-3-9zm9 0zm-1 0zm-12-2zm11-7zm-9-1zm9-3zm-11-1zm8-2zm-8-6zm12-5zm-10-2zm-3-5zm5-3zm-4-1zm5-8zm-3-3zm-3 0zm3-6zm8-7zm-2-1zm2-1zm-7-2zm11-3zm-6-1zm-6-6zm10-1zm-3 0zm3-6zm-4 0zm-3-8zm-4-3zm-5-7zm14-1zm-7-2zm-7-1zm18-6zm0-1zm-4-1zm3-3zm-10-1zm8-1zm-15-2zm11-5zm3-6zm-5-1zm-3-2zm12-5zm-1-4zm-10 0zm-5-2zm1 0zm14-25zm-5-1zm-11-4zm-2-5zm8-1zm-3 0zm3-2zm3-1zm-3 0zm6-1zm-3-12zm-3-5zm-8-8zm8-6zm1-2zm1-4zm5 0zm-10-2zm12 0zm-5-1zm2-4zm-6-12zm0-2zm10-1zm-10 0zm5-1zm-8-2zm0-2zm11-1zm1-1zm-1-5zm-10-1zm5-4zm-8-2zm9-1zm1-1zm3-1zm3-8zm-17-2zm16-13zm-3-2zm2-1zm-3 0zm-6-1zm-3-2zm8-2zm-1-3zm5 0zm-8-4zm-4-2zm9-1zm-6-1zm0-4zm10-8zm-16 0zm14-1zm1 0zm-11-4zm-3-3zm-3-2zm5-7zm24 5zm-9 2zm11 0zm2 2zm-3 0zm-2 5zm4 4zm-8 0zm-3 0zm9 0zm1 3zm-2 9zm5 2zm-14 1zm0 0zm10 2zm-7 3zm16 2zm-7 0zm1 2zm-2 6zm-10 2zm1 2zm2 7zm15 2zm-14 4zm13 1zm-14 0zm2 3zm10 3zm-11 12zm3 4zm2 7zm9 1zm-7 2zm0 3zm-6 1zm1 3zm-5 6zm10 0zm-3 1zm-3 0zm4 3zm9 3zm-19 1zm1 2zm13 1zm-4 4zm-9 0zm16 7zm-11 1zm-3 6zm11 1zm0 1zm-10 11zm12 8zm-11 1zm0 0zm6 3zm-4 7zm3 6zm-6 1zm2 1zm13 0zm-14 2zm11 3zm-8 0zm2 3zm-7 3zm16 3zm-12 4zm12 3zm-8 1zm2 3zm-1 8zm-11 4zm4 0zm13 3zm-5 1zm-4 2zm9 2zm-17 1zm14 6zm-15 1zm19 1zm-3 5zm-15 14zm15 10zm2 9zm-12 4zm7 4zm1 1zm-8 11zm5 10zm5 1zm3 1zm-3 4zm-3 3zm-4 3zm9 0zm-2 2zm-13 9zm-3 0zm5 2zm-2 3zm13 1zm-6 1zm-1 3zm4 1zm-2 2zm-8 2zm-1 5zm4 0zm9 1zm0 0zm-11 4zm-3 4zm3 1zm12 2zm-5 1zm-8 5zm2 1zm10 1zm-1 4zm-8 3zm5 1zm-10 4zm11 3zm0 16zm5 0zm-15 0zm1 9zm11 7zm-5 5zm8 0zm-5 4zm1 5zm-6 1zm11 2zm-4 1zm-2 3zm-3 5zm9 3zm-1 0zm0 5zm-4 4zm-2 3zm1 5zm-3 3zm8 3zm-12 7zm0 2zm5 7zm6 6zm-9 1zm11 0zm1 1zm-7 2zm1 1zm-11 2zm17 8zm-16 0zm15 3zm-3 0zm-14 1zm17 2zm-12 3zm12 6zm0 2zm0 3zm-12 5zm-2 2zm4 0zm8 4zm-16 2zm7 1zm0 3zm-6 3zm8 2zm-7 5zm2 2zm3 0zm4 6zm-1 1zm-1 4zm12-4zm12-14zm2-6zm-10 0zm6-14zm-8-1zm13 0zm3-2zm-9 0zm-5-2zm14-12zm-17-6zm15-2zm-4-1zm-8-1zm-5-2zm5-5zm5-1zm0-1zm4 0zm-5-4zm10 0zm-14-7zm10-5zm-15 0zm12-4zm5-4zm-11-8zm0-2zm1-6zm-2-2zm-3-1zm6-4zm0 0zm3-5zm-6-3zm-5-1zm7-1zm8-13zm-5-7zm-2-1zm8 0zm3-1zm-13-1zm13-6zm-3-3zm-16 0zm1-4zm9-6zm-5-1zm-4-5zm-1-2zm19 0zm-14-17zm7-2zm5-2zm-6-2zm-10-4zm8-1zm-1-1zm1 0zm10-1zm-5 0zm-9-1zm0-4zm-3-3zm4-4zm11 0zm0-1zm-17-1zm0-1zm19-2zm-12 0zm9-3zm3 0zm-14-2zm12-11zm-16-4zm3-7zm9-4zm-7 0zm1-1zm0-2zm6-3zm2 0zm-14-1zm18-1zm-13-2zm4-5zm-1-5zm-6-1zm13-3zm-15-6zm13-1zm2-9zm2-1zm-7-1zm-4-1zm0-1zm9-2zm-7-3zm-9-9zm6-3zm-2-1zm4-7zm-4-5zm7-4zm-10 0zm1-4zm-1-2zm12-4zm4-4zm1-2zm-6 0zm-2-1zm-7-4zm7-4zm5 0zm-3-8zm-5 0zm0 0zm7-5zm2-6zm-10-6zm11-2zm-13 0zm1-1zm0-1zm-4 0zm3 0zm3-1zm-2-8zm1-4zm8-4zm3-3zm-11-2zm2-1zm-5-3zm13-1zm-5-2zm-11-7zm16-3zm-8-2zm2-4zm-9-1zm9-1zm9-5zm-15 0zm10-5zm-1-1zm0-7zm-3-1zm5-1zm-8-1zm7-1zm-6 0zm7-2zm-13-1zm8-3zm-3 0zm4-1zm-2 0zm6-1zm-12-6zm-3-3zm9-1zm7-1zm-15-2zm2-4zm0-1zm5-1zm-6-17zm17-1zm-4-1zm3-2zm-6-2zm-9-3zm1-4zm-2-1zm13 0zm-1-9zm-6-1zm2-7zm8-3zm1-2zm-6-2zm-5-3zm7-6zm-9-3zm-3-1zm22 6zm-1 3zm9 0zm-9 6zm10 2zm3 2zm1 1zm-7 1zm1 1zm-5 2zm6 1zm3 0zm-15 3zm9 0zm-7 1zm4 6zm3 1zm3 3zm-11 1zm-2 6zm15 21zm0 13zm4 2zm0 2zm-15 3zm12 1zm-7 16zm9 2zm-12 3zm-5 3zm2 0zm-2 0zm9 3zm6 1zm0 3zm-8 3zm2 14zm9 2zm-14 4zm14 2zm-7 7zm-11 1zm4 5zm1 0zm-6 6zm2 3zm-1 6zm17 1zm-4 2zm-7 2zm11 3zm-12 0zm-4 1zm16 0zm-8 2zm9 2zm-12 6zm6 2zm-5 4zm-3 2zm7 0zm-11 2zm4 4zm12 1zm1 3zm-12 0zm-2 2zm4 15zm3 0zm-4 2zm10 10zm-2 5zm-5 1zm-6 1zm3 0zm2 2zm-7 2zm0 0zm-2 3zm3 6zm4 1zm-2 0zm12 4zm-17 10zm11 1zm-6 0zm-4 2zm10 2zm6 9zm-6 2zm2 1zm0 0zm-5 4zm3 2zm1 2zm-9 0zm6 0zm0 3zm-3 8zm6 8zm6 4zm-6 1zm7 2zm-1 2zm-2 9zm-1 6zm-10 6zm6 3zm4 2zm1 3zm-5 4zm4 0zm-11 0zm3 6zm5 3zm-10 8zm9 0zm6 1zm0 5zm-6 12zm3 1zm-8 6zm12 1zm-4 1zm-2 0zm1 7zm-1 6zm-7 2zm-3 3zm5 0zm3 1zm5 11zm-1 3zm0 1zm-5 4zm9 13zm-7 2zm1 0zm-2 1zm7 2zm-1 3zm-15 3zm13 13zm-14 2zm18 6zm-6 0zm-8 4zm14 2zm-2 3zm-13 1zm9 0zm-3 0zm7 8zm0 10zm-3 1zm-10 3zm-3 6zm1 9zm0 2zm19-25zm1-10zm14-12zm-6-2zm8 0zm-6-1zm-6-3zm9-1zm-1-1zm-7-3zm-3-2zm3-4zm6-4zm7-3zm-8-1zm3-3zm-4-2zm3-12zm-2-3zm-5-1zm6-1zm-6 0zm11-4zm-14-1zm6-3zm-7-1zm-2-3zm18-4zm-8-2zm-6 0zm10-3zm-6-1zm-6-2zm4-1zm2-7zm6-1zm3-3zm-14-1zm13 0zm-8-1zm5-12zm4-4zm-2-10zm-12-1zm0-2zm14-4zm-11-3zm7-2zm4 0zm-2-3zm-13-3zm11-4zm2-1zm1-2zm-16-2zm8-7zm-1 0zm6-6zm2-10zm-12-3zm8 0zm-9-12zm15-1zm-4-4zm-5-1zm-6 0zm5 0zm1-1zm0 0zm2-4zm1 0zm-2-9zm10 0zm-2-1zm-3-6zm-2-12zm4-4zm-1-4zm-8-2zm-3 0zm5-4zm10-4zm-4-1zm1-3zm-8-2zm-1-11zm-4-5zm9-4zm-11-2zm2-3zm10-3zm-10 0zm1-2zm13-2zm-12-2zm-3-3zm1-1zm13-2zm0-2zm1-6zm-6-2zm-8-6zm7-4zm-6 0zm-4-7zm7-3zm4-1zm-4-4zm0-4zm6-1zm-13-1zm12-2zm-11-5zm9 0zm2-3zm5-1zm2 0zm-18-6zm-1-1zm8-1zm-7-5zm13-2zm5 0zm-3-8zm-5-1zm-5-3zm11-1zm-7 0zm-6-4zm13 0zm-15-1zm0-2zm3-1zm9-4zm-6-1zm7-3zm-10-12zm13-1zm-6-1zm5-1zm2-3zm-16-4zm7 0zm7-6zm-1-7zm-1-4zm1 0zm-7 0zm9-1zm-9-1zm6-3zm0-5zm-9-2zm4-3zm6-8zm-9-3zm-7-11zm10-19zm7-5zm-16 0zm6-2zm-7-3zm0-2zm35 1zm-6 4zm-3 3zm-6 1zm10 0zm3 9zm2 1zm-4 5zm-7 3zm-3 9zm8 0zm4 6zm2 5zm2 6zm2 1zm-15 0zm0 6zm-4 2zm7 2zm10 5zm-12 1zm-3 2zm1 2zm0 0zm13 1zm-9 1zm4 6zm-4 0zm-4 3zm13 1zm1 0zm-1 9zm-9 7zm-7 0zm17 1zm-6 5zm-1 0zm-10 1zm5 9zm13 5zm-14 3zm9 7zm3 2zm-3 4zm-13 1zm9 2zm10 3zm-1 1zm0 2zm-14 5zm-2 4zm4 5zm6 0zm3 2zm-8 2zm3 0zm-9 5zm11 1zm5 9zm-10 7zm9 2zm2 0zm-17 6zm11 5zm7 1zm-16 5zm15 2zm-18 0zm12 3zm-3 1zm-4 0zm4 2zm-6 2zm14 0zm1 4zm-5 5zm-13 2zm15 5zm-8 7zm-2 7zm11 6zm1 2zm-16 1zm16 1zm-16 3zm-1 9zm3 1zm11 0zm3 2zm-8 2zm0 5zm-7 5zm13 3zm0 4zm-10 1zm5 1zm-1 20zm9 5zm0 15zm-5 1zm2 0zm-1 5zm-1 1zm-7 2zm-6 3zm13 1zm-12 7zm4 0zm0 1zm8 0zm-13 2zm10 4zm1 3zm-1 6zm7 1zm-2 5zm-4 3zm1 1zm-2 0zm-5 6zm-3 5zm0 0zm6 1zm-4 2zm12 1zm-12 8zm7 5zm8 0zm0 3zm-10 0zm-2 4zm6 6zm1 0zm-11 12zm7 2zm8 0zm-13 14zm-2 0zm10 10zm-1 1zm-11 3zm5 7zm22-40zm-1-14zm1 0zm-1-2zm-6-6zm5-1zm10-2zm-12 0zm15-2zm-10-6zm2 0zm-2-1zm-5-3zm-1-13zm6 0zm-1-4zm1-2zm-8-1zm-1 0zm2-1zm14-2zm3-9zm-7-2zm2-1zm-11-8zm6-16zm4-3zm-13 0zm1-1zm2-1zm14-6zm-2-3zm-6-1zm-2-2zm2-1zm2-6zm-11 0zm11-4zm-2-2zm-9-8zm0-2zm3-13zm4-6zm10-3zm-5-2zm0 0zm-12-4zm14-1zm-13-5zm7-1zm9-1zm-10-2zm6-2zm-1-1zm1-1zm-13 0zm16-9zm-4-1zm3-3zm2-1zm-10-4zm-2-5zm-5-5zm7-1zm-1-13zm-1-5zm14 0zm-4-1zm-13 0zm9-2zm5 0zm-6-6zm-10-3zm9-2zm6-4zm-3-9zm-2-2zm-1-1zm8-1zm-5-1zm6-1zm-6-2zm-8 0zm2-4zm11 0zm2-2zm-6 0zm0-4zm-13-3zm14-4zm0-2zm-8-1zm7-1zm1-1zm-9-2zm8-1zm-10-3zm11-3zm-9-3zm3-8zm10-4zm-2 0zm1 0zm-9-2zm3-1zm8 0zm-8-5zm5-2zm-7-9zm-2 0zm12-4zm-18-4zm10 0zm4-1zm-3-1zm-9-2zm8-1zm-7-7zm8 0zm-3-3zm7-3zm-11-4zm-3-1zm12-7zm0-1zm-13-4zm3-1zm2 0zm4-1zm6-2zm-16-1zm17-3zm-16 0zm17-7zm-2-1zm-16-2zm7-2zm12-6zm-15-7zm5-2zm3-3zm-9-4zm-1-8zm11-4zm-4-8zm23-10zm-1 12zm0 0zm8 4zm-17 0zm5 1zm1 0zm3 7zm-7 1zm-3 4zm6 1zm0 0zm-6 2zm18 3zm-8 2zm-8 3zm15 0zm-6 1zm-5 7zm5 1zm-7 1zm0 1zm7 6zm6 1zm-8 2zm0 1zm-2 0zm3 2zm0 0zm-8 2zm9 3zm-4 2zm4 5zm-12 4zm2 2zm17 0zm-12 1zm10 2zm-11 3zm10 1zm-15 3zm5 2zm-2 2zm9 3zm1 5zm-14 7zm14 2zm-2 3zm-1 0zm-11 1zm9 3zm-9 1zm12 2zm-4 3zm-4 0zm2 2zm-6 0zm1 1zm13 8zm5 2zm-17 1zm16 0zm-1 3zm-5 1zm6 3zm-16 1zm12 3zm-5 7zm-5 0zm0 2zm-4 0zm9 3zm7 2zm2 4zm-4 1zm-2 1zm-7 2zm8 6zm-5 8zm-8 6zm14 6zm-12 1zm9 1zm0 2zm-11 1zm4 3zm7 3zm0 1zm6 10zm-5 3zm3 1zm-3 4zm5 0zm-2 2zm-5 2zm9 6zm-19 13zm2 1zm7 2zm-1 7zm5 5zm5 1zm-7 9zm6 1zm-17 17zm7 1zm4 3zm-11 0zm0 7zm12 1zm-2 14zm0 1zm5 0zm0 3zm-1 2zm-12 7zm0 3zm10 2zm1 0zm6 4zm-2 13zm-8 4zm-2 1zm5 1zm-8 1zm-2 0zm7 13zm-3 1zm-3 0zm4 4zm-2 3zm1 5zm6 1zm-7 2zm6 1zm-7 3zm6 1zm-8 2zm18-26zm4-7zm-2-1zm1-20zm-1-12zm17-1zm-13-11zm9-12zm-1-2zm-4-3zm2 0zm-4 0zm-8-9zm18-1zm-2-1zm-6-6zm2-3zm-3-1zm2-1zm-3-5zm-4-1zm5-2zm-1-2zm2-1zm-7-5zm12-1zm2-6zm-13-2zm8-5zm1-1zm6 0zm-8 0zm5-1zm-1 0zm0-2zm-8-1zm9 0zm-16-2zm4-1zm15-3zm-18-1zm14-3zm-12-1zm-3-10zm5-2zm-4-3zm6-3zm-6-2zm11 0zm0-3zm-2 0zm2-4zm-4-1zm-8-1zm17-5zm-2-5zm-1-3zm-5 0zm-8-1zm18-7zm-4-1zm3-4zm1-3zm-9-2zm4 0zm0 0zm-7-14zm-1-1zm5-3zm-10-1zm17-1zm-16-7zm13-6zm-13-1zm4-1zm11-2zm-8-3zm-9-8zm18-2zm-10-4zm-4-1zm4-3zm-6-1zm10 0zm-4-4zm10-8zm-3-2zm-5-9zm-7-2zm6 0zm-2-3zm12-2zm-12-6zm-7 0zm7-2zm-5-5zm17-7zm-2-2zm-6-2zm7-8zm-7-1zm-2-1zm1-2zm-3-3zm12-5zm-10-1zm-6-4zm10-2zm-11-1zm10-4zm1-2zm-6-3zm-7-1zm17-1zm-17-1zm9-4zm3 0zm-3-1zm6-5zm-5 0zm0-4zm-8-12zm11-2zm24-10zm0 3zm-13 6zm2 5zm10 6zm-5 0zm5 1zm-2 2zm4 0zm-10 0zm7 3zm-1 0zm2 5zm3 9zm-13 8zm0 1zm2 3zm-3 3zm5 1zm-8 3zm12 2zm-2 1zm-12 8zm5 4zm-3 1zm16 1zm-17 1zm4 5zm9 4zm-4 1zm-10 0zm3 2zm-2 0zm6 1zm4 3zm2 1zm-11 0zm10 4zm-7 2zm1 3zm6 1zm-7 3zm6 2zm2 2zm5 1zm-12 2zm0 4zm10 0zm-3 2zm-1 5zm-3 3zm10 3zm-15 0zm3 0zm7 4zm2 0zm-15 9zm14 5zm-10 0zm-3 1zm13 1zm-11 1zm7 4zm6 4zm0 1zm-17 2zm18 8zm-10 1zm-5 7zm5 7zm3 2zm0 1zm-4 4zm11 1zm-15 2zm-1 5zm3 3zm2 4zm2 2zm4 2zm0 3zm-2 4zm2 5zm-1 12zm2 1zm3 5zm-1 0zm2 3zm-14 2zm13 1zm-16 16zm6 1zm-6 2zm18 0zm-7 3zm2 1zm-11 1zm1 3zm15 2zm-1 2zm-2 1zm-11 3zm-5 2zm1 8zm16 7zm-9 1zm8 2zm-8 0zm6 9zm-10 2zm-1 24zm17-56zm0-3zm8-4zm-1-6zm5-4zm-4-7zm-4-3zm0-5zm13-1zm-16-2zm13 0zm-12-2zm12-1zm-6-2zm8-1zm-16-5zm7-2zm8-2zm-9-1zm11 0zm-5-1zm3-4zm-10-4zm8-5zm-8-11zm-2-3zm6-2zm5-2zm-8-1zm6-2zm-4-4zm9-4zm-10-3zm1-1zm-8-2zm6 0zm-5-4zm7-5zm7-4zm-10-2zm10-3zm0 0zm-7 0zm-8-1zm15 0zm-11 0zm-1-2zm1-2zm-3-3zm17-1zm-2-3zm-4-2zm7-6zm-16 0zm15-2zm-14-7zm12-7zm-1-8zm0-5zm-4-5zm7-2zm-8-2zm-9-4zm4-3zm12-2zm-11-1zm-5-4zm12-3zm-3-2zm-3-1zm11-5zm-9-1zm-7-1zm15 0zm-15-6zm5-13zm-5-1zm2-5zm13 0zm-6-2zm-3-1zm-8-1zm13-1zm0-1zm6-2zm-16 0zm-3-1zm18-1zm0-4zm-13-1zm-1-3zm11-3zm-5-2zm3-1zm-10-2zm1-2zm4-6zm-4-1zm13-3zm-1-2zm-9-3zm10 0zm-9-9zm-6-1zm24 14zm-2 10zm0 3zm2 4zm5 8zm0 3zm-4 0zm2 5zm-8 1zm0 5zm1 2zm1 1zm0 0zm2 2zm6 1zm6 1zm-3 3zm4 2zm0 3zm-10 0zm2 2zm5 5zm-1 1zm-2 7zm5 7zm0 5zm-12 5zm3 0zm4 11zm-2 0zm-7 5zm16 11zm-12 7zm0 2zm10 6zm-8 2zm9 1zm-9 2zm-1 1zm-7 0zm17 15zm-9 1zm-7 10zm12 8zm-11 1zm1 0zm1 7zm-4 4zm8 1zm-1 1zm-7 6zm8 10zm-1 0zm-2 1zm-2 2zm2 7zm-6 2zm1 8zm0 6zm22-96zm2-2zm-3-5zm4 0zm-1-20zm-2-2zm-1-5zm-2-7zm6-3zm1-6zm-1-6zm1-12zm-7-17zm1-6z" fill="none" stroke="#50308a" stroke-width="8.0" stroke-linecap="round"/>
<path transform="scale(.1)" d="M3039 4736zm-11-7zm7-2zm-1-1zm-7-10zm11-1zm-4 0zm5-7zm-2 0zm-4-2zm-3-1zm7 0zm0-3zm-7-2zm9-12zm18-4zm-14 3zm11 1zm2 5zm1 1zm-6 3zm-4 3zm6 4zm5 1zm-16 4zm7 2zm-8 0zm8 0zm1 4zm-2 1zm-1 2zm2 1zm10 4zm-15 2zm1 8zm-3 3zm11 7zm-5 6zm-3 13zm0 6zm1 9zm0 1zm-2 4zm6 4zm-5 6zm2 6zm1 1zm3 7zm-5 5zm1 21zm0 1zm-3 3zm5 1zm-1 12zm2 6zm-6 3zm1 6zm1 7zm1 2zm28-145zm-14-6zm6-11zm-3-7zm0-3zm29 23zm-13 1zm7 124zm-1 1zm-1 9zm22-129zm-3-1zm3-3zm32 5zm-10 8zm5 8zm16 1zm4-1zm-10-1zm12-2zm-12-1zm13-3zm0-8zm2-2zm-17-3zm14-3zm12 6zm-8 2zm8 1zm-4 5zm3 6zm8 6zm-10 4zm3 1z" fill="none" stroke="#1b9847" stroke-width="6.8" stroke-linecap="round"/>
<path transform="scale(.1)" d="M3173 4759zm-5 1zm2 4zm6 13zm2 1zm-5 71zm24-28zm-12-13zm0-9zm5 0zm-6-13zm5 0zm11 23zm3 8zm1 1zm5 7zm-8 4zm16 3zm-11 2zm-3 3zm12 3zm2 7zm1 2zm-11 12zm-6 4zm26-1zm5-2zm0-7zm3 0zm-10-2zm2-16zm-3-2zm0-9zm23 25zm1 2zm-2 2zm0 1zm0 3z" fill="none" stroke="#5f9a78" stroke-width="6.8" stroke-linecap="round"/>
<path transform="scale(.1)" d="M3159 4578zm11-6zm6 3zm-2 1zm-3 1zm0 3zm6 9zm1 1zm-6 6zm2 1zm-9 11zm12 2zm-12 0zm-2 1zm8 2zm-2 2zm1 3zm6 8zm0 50zm0 9zm1 6zm2 8zm-5 4zm6-9zm0-3zm0-8zm0-8zm2-13zm5-2zm-1-6zm-4 0zm2-5zm2 0zm-2-1zm-4-1zm6-5zm-2-18zm-2-2zm10-7zm-4-1zm4-2zm-7-1zm5-2zm-4-1zm7 0zm-2-1zm-2-1zm6-2zm-13-4zm15-3zm-16 0zm6-1zm2 0zm-8-5zm5-2zm-6-2zm1 0zm11-1zm-11-1zm18-2zm-3-1zm-2-2zm-5-7zm-8-3zm0-4zm11-1zm1-5zm7 12zm5 5zm3 11zm4 5zm-8 5zm-2 6zm4 1zm3 4z" fill="none" stroke="#442076" stroke-width="6.8" stroke-linecap="round"/>
<path transform="scale(.1)" d="M3679 5029zm-1-13zm-4-4zm-3-1zm2-2zm-1 0zm3-1zm5 6zm16 0zm-3 3zm-8 3zm1 1zm-6 0zm10 1zm5 1zm-9 0zm7 0zm-7 1zm0 0zm9 1zm-7 3zm4 6zm3 1zm-1 2zm0 2zm2 1zm-4 1zm-2 1zm-5 0zm13 4zm-9 3zm5 0zm-2 5zm20 22zm1-1zm5-3zm-5-13zm-10-1zm-1-1zm11-1zm-8-5zm1-1zm-1-1zm2-1zm-6-7zm7-1zm-1-1zm-2 0zm2-1zm2-2zm-4-1zm-5-2zm6-2zm-6-6zm27 66zm30 86zm2-12zm-4-1zm-1-8zm-8-1zm9-4zm3-7zm-8-4zm8 0zm-2 0zm-3 0zm-1-4zm5-5zm-14-1zm-2-2zm18-4zm-3-2zm3-4zm-8-1zm-9-2zm-1-2zm-1-6zm13-2zm-3 0zm-7-1zm-2-5zm9-2zm6-25zm4 18zm0 11zm7 4zm1 3zm11 2zm-8 3zm1 2zm-2 5zm-2 2zm7 8zm-5 0zm-3 0zm-4 0zm14 2zm-17 1zm2 1zm11 0zm2 0zm3 1zm-6 2zm-2 3zm-9 0zm8 0zm-5 2zm13 1zm-1 1zm2 0zm-6 0zm-11 2zm12 1zm-9 1zm11 2zm0 0zm-15 1zm12 2zm0 0zm-10 6zm14 0zm2 1zm-4 0zm-9 0zm3 1zm2 2zm4 0zm5 2zm-14 2zm10 3zm0 0zm2 3zm-13 0zm4 3zm0 0zm11 1zm-9 7zm16 2zm12-4zm-12-3zm-4-1zm8 0zm-8-1zm10-2zm-1-2zm-1 0zm-6 0zm3-1zm3 0zm3-4zm-8 0zm5-1zm3-2zm-12 0zm17-1zm-3-1zm-8-1zm2-1zm7-1zm0 0zm-8-1zm11 0zm-17-2zm4 0zm4 0zm-3 0zm5-1zm-12 0zm8-2zm2 0zm6-1zm-12-1zm9-2zm-1-1zm-9-1zm9 0zm-7 0zm0 0zm10-1zm-11-2zm1 0zm-2 0zm0-1zm3-1zm1 0zm7-1zm3-1zm-6-1zm-2-1zm9-1zm1 0zm-15-6zm8-1zm1-1zm-10-2zm13-1zm-7 0zm-1-3zm5-1zm4 0zm-3-1zm-7 0zm11-3zm-13-9zm19 6zm2 4zm-2 2zm10 0zm-11 9zm4 1zm0 1zm-5 1zm3 0zm-3 2zm17 6zm0 1zm-12 0zm-3 1zm6 1zm3 0zm4 1zm-9 2zm-7 2zm5 2zm-1 0zm-5 0zm7 0zm-2 3zm9 10zm-5 1zm1 3zm-8 4zm20-10zm3-8z" fill="none" stroke="#1b9847" stroke-width="9.0" stroke-linecap="round"/>
<path transform="scale(.1)" d="M3677 5006zm-8-1zm32 48zm1-19zm55 96zm2-26zm17 12zm1 35zm-3 1zm6 22zm9-8zm7-22zm10-24zm-1 9z" fill="none" stroke="#442076" stroke-width="9.0" stroke-linecap="round"/>
<text x="415.00" y="447.80" font-size="7.5" fill="#242424" stroke="#242424">chr20</text>
<rect x="416.00" y="451.20" width="103.60" height="98.40" fill="#fff" stroke="#8c8c8c" stroke-width="0.48"/>
<text x="422.50" y="558.40" font-size="7.5" text-anchor="middle" fill="#333333" stroke="#333333">−5</text>
<text x="446.00" y="558.40" font-size="7.5" text-anchor="middle" fill="#333333" stroke="#333333">0</text>
<text x="469.50" y="558.40" font-size="7.5" text-anchor="middle" fill="#333333" stroke="#333333">5</text>
<text x="493.00" y="558.40" font-size="7.5" text-anchor="middle" fill="#333333" stroke="#333333">10</text>
<text x="516.50" y="558.40" font-size="7.5" text-anchor="middle" fill="#333333" stroke="#333333">15</text>
<text x="412.80" y="476.80" font-size="7.5" text-anchor="end" fill="#333333" stroke="#333333">5</text>
<text x="412.80" y="512.10" font-size="7.5" text-anchor="end" fill="#333333" stroke="#333333">0</text>
<text x="412.80" y="547.40" font-size="7.5" text-anchor="end" fill="#333333" stroke="#333333">−5</text>
<path d="M422.50 549.60v2M446.00 549.60v2M469.50 549.60v2M493.00 549.60v2M516.50 549.60v2M416.00 474.10h-2M416.00 509.40h-2M416.00 544.70h-2" stroke="#555" stroke-width="0.6" fill="none"/>
<text x="469.70" y="567.20" font-size="7.5" text-anchor="middle" fill="#242424" stroke="#242424">UMAP_1</text>
<text x="400.00" y="503.90" font-size="7.5" text-anchor="middle" transform="rotate(-90 400.00 503.90)" fill="#242424" stroke="#242424">UMAP_2</text>
<path transform="scale(.1)" d="M4219 5050zm0 16zm-3 16zm-4 4zm7 23zm-3 6zm3 2zm0 4zm-2 2zm-2 0zm3 3zm0 25zm-3 7zm-1 3zm4 27zm19 88zm-3-6zm3 0zm-4-5zm3-4zm3-3zm-6-1zm3-1zm3-10zm-3-3zm-6-7zm-5-5zm-1-1zm7-8zm-2-2zm9-5zm-10-1zm-6-5zm4-1zm-4-1zm10-1zm4-1zm-10-3zm6 0zm7-1zm-2-1zm-3-1zm1-14zm-5-2zm1-2zm6-1zm-4-2zm6-2zm0 0zm0-13zm-12-1zm12-1zm-17-3zm2-2zm5-4zm9 0zm-3-1zm3 0zm-13-3zm-4-1zm7 0zm-7-2zm7-2zm6-2zm3-3zm-5-1zm-8-10zm4-2zm-7-2zm18-3zm-16-2zm-3-5zm11 0zm-5-5zm11-4zm-16 0zm16-3zm-2-4zm-3-2zm-4-3zm-2-3zm2 0zm8-8zm-11-3zm7-7zm1 0zm2-2zm0-9zm-1-6zm-6 0zm-6-1zm17-2zm-10-1zm3-9zm-3-4zm0-2zm3-1zm7-1zm-10-9zm-2-1zm8-4zm2-2zm-3-8zm0 0zm25-47zm-1 4zm-1 6zm-1 1zm-4 4zm3 1zm3 5zm-12 2zm13 2zm-3 4zm-12 1zm7 7zm0 0zm-7 1zm8 2zm-3 11zm-4 2zm8 2zm-10 2zm9 7zm1 4zm2 5zm-5 7zm-4 2zm2 0zm-6 0zm7 1zm2 5zm5 1zm2 0zm-18 6zm0 0zm19 6zm-19 2zm2 5zm-1 4zm-1 3zm16 2zm-2 0zm-10 7zm11 2zm3 2zm-1 1zm2 1zm-17 3zm6 1zm9 2zm-9 2zm9 1zm-8 4zm9 5zm-5 9zm-12 8zm9 5zm1 2zm4 2zm-14 2zm4 1zm5 0zm0 7zm-7 4zm-1 0zm3 3zm10 0zm-1 1zm-1 0zm-10 4zm12 1zm-1 1zm-10 4zm14 1zm-10 0zm8 14zm3 3zm-18 2zm10 2zm1 1zm-12 11zm19 9zm-16 2zm9 10zm-11 1zm3 2zm1 0zm-3 1zm-1 0zm-1 4zm1 0zm18 1zm-6 2zm-1 0zm-4 2zm6 0zm4 6zm-6 2zm-3 0zm-8 1zm8 4zm8 0zm-8 7zm-3 1zm13 2zm-17 5zm0 6zm12 1zm-7 1zm-7 1zm11 5zm2 2zm-4 4zm9 1zm-3 4zm-7 5zm0 2zm10 10zm-4 4zm-2 5zm-2 2zm6 8zm17 31zm-6-12zm6-5zm-5 0zm4-9zm3-5zm-15-5zm19-1zm-9-1zm3-6zm2 0zm-2-1zm4-2zm-1-1zm-3-3zm3-9zm-15-4zm3-3zm11-5zm0-1zm-4 0zm-2-2zm8-1zm-1-3zm-3 0zm-3-1zm7 0zm-17-1zm6-9zm0-2zm9-6zm2 0zm-8-3zm-5 0zm3 0zm9-3zm2-11zm-1-3zm-1-6zm-15-8zm-1-3zm19 0zm-18-1zm1-3zm0-6zm15-2zm-5-6zm1-3zm2-5zm-14-2zm7-18zm10-1zm-11-4zm1-29zm-2-2zm0-3zm3 0zm9-1zm-15-1zm6 0zm0 0zm-7-4zm17-2zm-9-1zm5-3zm2 0zm-4-2zm-4-6zm0-3zm0-4zm10-5zm-11-8zm1-4zm-8-3zm17-2zm-12-5zm3-1zm5-2zm-13-4zm0-5zm3 0zm-4-10zm13-4zm-10-4zm-3-1zm7-3zm7 0zm-2 0zm-11-1zm4-4zm9-7zm4-3zm-13-10zm1-1zm2 0zm-5-2zm5-1zm3 0zm-11-1zm15-6zm-8-2zm4-2zm-7-3zm14-1zm-2-3zm-14-1zm15 0zm-14-1zm11-1zm5 0zm-1-1zm-13-4zm11-5zm-11-1zm9-12zm-1-1zm-11-10zm9-1zm2-2zm4 0zm2-2zm18-34zm-2 4zm-4 1zm6 5zm-17 7zm17 0zm-6 2zm-7 8zm1 2zm3 1zm-5 1zm-2 2zm13 4zm-4 4zm-6 2zm6 9zm5 4zm-7 2zm-3 5zm11 2zm-6 0zm-1 1zm-9 2zm10 3zm-1 5zm-2 1zm2 2zm10 6zm-12 0zm5 4zm-11 4zm2 0zm14 3zm-11 1zm0 0zm0 4zm9 1zm-2 1zm-13 1zm2 1zm11 7zm-1 1zm-2 1zm7 3zm-10 14zm7 3zm2 0zm2 0zm-13 1zm0 4zm6 1zm-7 1zm14 3zm-5 0zm3 10zm3 5zm-15 0zm-4 2zm16 5zm-12 2zm2 1zm7 14zm-12 0zm14 3zm-7 8zm2 6zm-1 8zm2 7zm3 4zm-11 6zm10 13zm0 11zm-9 5zm14 1zm-10 1zm2 5zm7 1zm-7 1zm9 7zm-7 1zm-11 1zm1 3zm13 3zm-7 0zm-6 2zm15 3zm-9 3zm5 0zm-5 2zm9 1zm-13 3zm13 11zm-6 10zm3 3zm-3 1zm-2 5zm9 0zm-3 3zm2 2zm-4 3zm-4 7zm-5 2zm6 1zm-5 1zm4 2zm1 0zm9 5zm-19 4zm14 2zm-4 5zm3 3zm6 2zm-7 4zm2 1zm1 1zm-10 6zm7 1zm-12 1zm11 13zm-10 1zm7 1zm9 0zm-9 3zm-2 2zm-2 0zm11 1zm0 2zm2 3zm-12 2zm-4 1zm7 1zm-2 1zm8 9zm4 1zm-9 4zm-8 1zm4 2zm3 3zm8 4zm-7 0zm5 7zm-8 3zm5 2zm-7 1zm5 2zm8 1zm-1 8zm3 3zm0 8zm20 22zm-8-10zm-5-10zm4-1zm2-1zm1-4zm-5-2zm7-1zm-12-3zm14-1zm-4-1zm-5-1zm-6 0zm13-3zm2 0zm-2-17zm-2-3zm4-1zm-8-1zm-5-1zm-1-3zm-2-2zm16 0zm-11-14zm-1-5zm-4-7zm7-4zm5-7zm3-3zm-12-10zm6-2zm1-1zm0 0zm-5-13zm11-2zm-4-1zm6-2zm-14-4zm7-1zm-8-2zm13-1zm0-7zm-3 0zm0-1zm-2-1zm-5 0zm-4-1zm-3-2zm14-1zm-5 0zm-3 0zm-6-1zm11 0zm0 0zm-4-1zm-6-1zm18-1zm-17-3zm3-2zm-2 0zm4-2zm-3-1zm-2-7zm11-6zm-2-4zm-4-1zm2 0zm-8 0zm8-3zm-9-4zm18-1zm-17-1zm9 0zm-7-5zm11 0zm-11-2zm2-2zm5-3zm-2-9zm-8-2zm15-1zm3-2zm-6-7zm-3-1zm1-2zm-5-2zm12-1zm-9-4zm4-3zm-10-2zm-1-5zm18-4zm-1-8zm-7-1zm8-1zm0-1zm-12-2zm7 0zm3-1zm-7-2zm-5-1zm1-3zm-4-4zm8-3zm-1-2zm-7-1zm2-10zm0-5zm4-4zm-6-1zm2 0zm7 0zm-10-4zm16-10zm-17-1zm0-5zm1-7zm2-1zm8-1zm-4-1zm-7-1zm11-1zm0-1zm-3-5zm-2-1zm-1-7zm-2-1zm12 0zm-15 0zm3-4zm9 0zm7-3zm-3-1zm-7-10zm3-6zm-12-1zm1-2zm4-2zm-2-16zm13-1zm2 0zm0-6zm1-6zm-9-7zm1-2zm-1-1zm-2-3zm7-2zm-1-6zm1-2zm-2-1zm-1-1zm7-1zm-16 0zm1-2zm-3-5zm5-1zm4-3zm2-2zm7-1zm-19 0zm19-1zm-2-2zm-12-2zm-3-4zm5-1zm12-3zm-17-9zm1-4zm11-1zm-13-2zm1-3zm13 0zm-3-2zm4 0zm-10-2zm13-3zm-17-8zm8-1zm23-8zm-3 6zm-10 3zm9 1zm10 1zm-18 3zm0 12zm14 0zm-4 1zm-4 0zm6 2zm-13 2zm11 2zm2 1zm-8 1zm7 1zm-1 2zm8 13zm-5 1zm-3 0zm-1 3zm1 1zm-1 0zm5 3zm-11 1zm9 1zm-6 2zm6 4zm-1 3zm-8 3zm2 6zm10 2zm-5 7zm-11 11zm12 4zm7 1zm-11 0zm-2 1zm10 1zm-2 2zm-6 7zm3 3zm-1 4zm-3 1zm5 1zm-7 1zm1 3zm9 9zm-9 8zm12 0zm-18 4zm3 1zm13 1zm3 2zm-11 1zm11 0zm-12 4zm-6 0zm10 6zm-3 5zm-3 0zm3 1zm11 1zm0 4zm-14 0zm13 3zm-5 7zm2 4zm0 1zm-13 0zm7 5zm7 13zm-10 1zm-5 3zm8 2zm-5 0zm6 2zm-5 3zm3 0zm-7 3zm10 11zm1 1zm-11 6zm18 2zm-9 1zm-2 2zm11 3zm0 3zm-5 3zm0 0zm4 1zm-3 13zm-15 0zm11 3zm5 7zm-5 3zm-6 1zm1 2zm6 1zm0 0zm-4 2zm-4 2zm8 0zm-9 0zm-1 5zm14 9zm0 5zm-16 6zm9 5zm-6 2zm11 0zm-10 1zm-4 1zm4 5zm2 1zm9 3zm-4 7zm4 0zm-2 0zm-6 5zm-4 1zm6 3zm0 2zm-1 10zm-5 9zm16 6zm-3 4zm-6 1zm6 4zm-8 9zm1 7zm-6 8zm0 1zm4 12zm4 9zm1 0zm-11 2zm13 2zm-10 3zm10 2zm-12 2zm3 2zm-4 5zm5 1zm-2 0zm12 3zm-2 1zm-11 2zm5 2zm-3 5zm8 2zm-5 5zm-3 1zm-4 0zm2 2zm12 1zm1 2zm-9 1zm-2 5zm3 4zm1 0zm10 3zm-4 1zm-9 7zm8 4zm-4 3zm2 0zm0 7zm6 2zm14 22zm4-5zm2-5zm-7-2zm0-1zm7-5zm-2-4zm-12-1zm6-4zm0 0zm9-10zm-8 0zm3 0zm-3-3zm0-3zm-5 0zm9-5zm-11-2zm-4-8zm18-2zm-13-2zm-1-5zm10-1zm5-2zm-10-5zm-1-3zm3-3zm3-3zm-10-4zm15 0zm-3-1zm1 0zm-4-5zm-2-1zm6-1zm-7-1zm6-3zm-11-5zm11 0zm-14-5zm2-3zm9-1zm-8 0zm12-16zm-12-1zm2-2zm4-4zm4-1zm-14 0zm17-4zm-17-3zm7-1zm6-8zm2 0zm3 0zm-14-2zm-1-1zm13-2zm-6-2zm-3 0zm11-1zm-14-2zm8-4zm-2-3zm1-4zm-11-4zm8-1zm-1-3zm-5-1zm-3-1zm8-4zm-8-7zm3-15zm2-1zm14-11zm-7-2zm-10-1zm16-4zm1-2zm-12-2zm-7-2zm19-1zm-19 0zm2-1zm3-6zm2 0zm8-13zm-2-4zm-2-2zm-6-3zm2-2zm-2-2zm9-7zm-6-2zm11-2zm-9-3zm-1-6zm5-1zm1-2zm-11 0zm9-2zm-9-1zm5-2zm10-2zm-16-4zm3-5zm0-7zm2-2zm-3 0zm10-4zm4 0zm-14-3zm1-1zm-5-5zm6-1zm-3-5zm0-1zm-3-1zm11-1zm-10-1zm4-4zm8 0zm4 0zm-4-2zm-1-1zm6 0zm-16-2zm12 0zm-9 0zm-2-6zm-3-8zm6-3zm-6-1zm6-1zm-7-4zm17-1zm-15-4zm16-2zm-8-4zm-2 0zm2-2zm7-2zm0 0zm-11-2zm0-4zm1-3zm-6-4zm1-7zm3-2zm5-1zm-9-1zm10-1zm-5-1zm-4-7zm17-3zm-10-1zm-4-5zm14 0zm-17-4zm2-1zm3-1zm3-3zm-4-1zm13-2zm-7-6zm3 0zm1 0zm-16-3zm16-7zm-15-2zm8-5zm1-6zm5-2zm-8-2zm1-5zm1-1zm-8 0zm1-3zm-1-2zm-1-3zm13-1zm6-1zm-4-4zm-9-2zm11 0zm1-5zm-9-2zm0-4zm-1-1zm-1-3zm-1-3zm-3 0zm4-1zm4-8zm5-3zm-1-5zm-7-2zm17-10zm14 1zm-1 1zm-15 6zm6 3zm-9 1zm13 1zm-12 0zm13 1zm-8 1zm12 7zm-15 1zm13 1zm-10 13zm11 1zm-8 2zm8 2zm-14 1zm11 1zm-4 2zm-2 4zm-1 6zm3 3zm-2 7zm6 1zm-2 0zm4 5zm-15 1zm14 3zm4 0zm-11 2zm1 1zm2 1zm-2 7zm-1 8zm-2 6zm7 3zm-9 1zm10 4zm-10 3zm7 5zm1 2zm2 1zm-9 3zm12 6zm-14 1zm7 1zm-3 1zm-6 7zm7 1zm0 15zm3 4zm5 2zm-11 1zm0 2zm-5 5zm9 9zm-1 4zm-6 0zm5 2zm-2 0zm-4 1zm11 6zm-10 3zm2 1zm12 0zm2 1zm-18 1zm0 2zm0 0zm16 3zm3 2zm-9 3zm-9 6zm0 6zm2 1zm13 1zm-4 0zm2 0zm-9 0zm7 2zm3 7zm0 2zm-6 3zm2 1zm-6 2zm14 1zm-12 2zm10 0zm-3 0zm-14 2zm18 6zm-13 3zm-1 3zm13 3zm-8 11zm-8 1zm0 0zm0 1zm7 7zm8 5zm-1 1zm0 5zm-1 6zm0 1zm4 0zm-2 1zm-9 1zm10 3zm-6 1zm-8 4zm9 6zm-8 1zm5 7zm-9 1zm13 5zm-12 0zm11 1zm-7 4zm13 6zm-6 2zm-4 8zm-6 1zm6 1zm-3 7zm9 1zm-9 1zm1 2zm1 1zm-1 12zm7 2zm3 0zm-16 3zm18 6zm-18 3zm0 5zm15 2zm-4 3zm0 2zm-8 4zm9 1zm-4 2zm11 2zm-9 1zm2 0zm-8 0zm0 2zm11 0zm-14 1zm13 10zm-7 2zm-5 0zm12 0zm3 1zm-12 1zm-5 16zm8 0zm-1 2zm11 2zm-12 1zm-6 3zm10 1zm8 0zm-4 13zm2 10zm-13 3zm3 3zm-3 8zm4 1zm2 1zm3 3zm-10 5zm14 1zm2 1zm-12 1zm3 4zm-4 1zm-3 1zm0 0zm17 1zm-10 0zm-4 2zm4 3zm-7 1zm13 7zm-15 1zm17 3zm-12 1zm4 2zm0 0zm3 9zm-12 0zm17 2zm-6 0zm-4 4zm8 3zm-1 3zm-6 1zm-6 2zm15 2zm-5 1zm24 12zm-11-4zm13-3zm-1-1zm-10 0zm-1 0zm10-2zm-9-2zm-6-1zm13-1zm-2-2zm-11-3zm13-7zm4-1zm-12 0zm12 0zm1-4zm-7-1zm-12-1zm19-4zm-3-8zm-14-3zm10-6zm-7-2zm12 0zm-3-1zm-6-7zm10-3zm-10-5zm8-1zm-10 0zm3-1zm0-2zm3-2zm-11 0zm5-4zm5-2zm7-4zm-6-2zm6-13zm-13-7zm14-1zm-16-4zm12-3zm-14-1zm11 0zm4-10zm-14-1zm8-4zm-1-2zm5 0zm5-2zm-14-1zm10-2zm1-1zm-13-3zm11-5zm-1 0zm-8-11zm12-7zm1-1zm-12-1zm-6-2zm16-4zm-3-7zm-12-2zm17-2zm-9-9zm9-7zm-17-1zm9 0zm-9-4zm14-4zm3-1zm0-9zm-13-9zm-3-1zm8-8zm2-7zm-10-7zm9-3zm5-2zm-7-5zm0-2zm6-4zm-1-7zm-2 0zm-8-3zm2-5zm-2-8zm8-12zm-12-3zm6-6zm-1-1zm11 0zm-13-3zm2-3zm-3-1zm-1-2zm7-1zm-7-1zm9-2zm-6-1zm5-8zm2-2zm3-8zm-14-2zm10-2zm1-1zm-7-1zm-2-3zm12-1zm-3-6zm-6-6zm2-9zm7-3zm-3-1zm1-3zm6-1zm-10-2zm3-2zm1-1zm-2-2zm0 0zm6-2zm-2-1zm-7-2zm12-1zm-7 0zm4-4zm3-2zm-15-4zm8-1zm-2-7zm-10 0zm9-1zm-3-3zm-5-6zm9-2zm-6-3zm14-7zm-15 0zm7-2zm-5-1zm-5-1zm3-3zm9-1zm-12-2zm19-2zm0-1zm-10 0zm3-2zm2-1zm-8-4zm12 0zm-6-3zm-7 0zm5 0zm-3-5zm-6-1zm13-19zm-9-1zm0-1zm-2-1zm15 0zm-4 0zm-13-2zm2-3zm1-8zm3-1zm-5 0zm17-6zm-15-2zm15-3zm-3 0zm-3-3zm-9 0zm2-4zm5-3zm-7-1zm10-3zm-8-3zm7-2zm-1-2zm-3-5zm2-3zm-5-3zm8-6zm-12-2zm24-5zm11 8zm-3 3zm-4 3zm-5 3zm7 0zm-12 2zm2 2zm6 1zm7 1zm4 0zm0 2zm-14 1zm1 4zm-5 2zm4 10zm-5 7zm10 4zm-2 27zm-2 10zm9 2zm-10 4zm2 1zm8 8zm-12 3zm5 0zm4 1zm-12 1zm9 1zm0 11zm9 3zm-17 2zm6 3zm7 1zm-1 1zm6 9zm-17 2zm11 0zm-3 1zm-1 10zm9 0zm-12 8zm8 4zm2 1zm-2 7zm3 1zm2 0zm-14 2zm4 1zm-2 3zm-5 10zm0 1zm8 3zm-2 0zm-4 0zm-3 1zm18 2zm-4 7zm-7 1zm8 4zm-5 2zm-4 0zm-5 6zm2 3zm-4 1zm12 5zm5 8zm-9 5zm-2 2zm3 12zm-6 10zm4 6zm0 0zm-4 2zm-1 5zm9 6zm-4 4zm2 6zm-4 2zm-2 1zm0 4zm14 4zm-1 1zm-1 4zm1 8zm-15 5zm18 1zm-18 5zm5 12zm-4 1zm15 3zm-15 7zm5 2zm-2 9zm14 3zm-15 4zm12 3zm-7 2zm-1 2zm-7 1zm6 0zm5 2zm-1 0zm-11 1zm12 4zm3 3zm-7 1zm5 6zm-2 1zm5 10zm-2 1zm-14 1zm9 3zm-3 1zm7 3zm2 2zm-12 21zm6 8zm2 3zm7 2zm0 4zm-12 6zm-5 2zm-1 2zm18 1zm-3 2zm4 6zm0 0zm-10 2zm-9 6zm3 3zm4 1zm2 7zm-2 0zm11 4zm1 0zm-16 1zm12 2zm-10 5zm9 2zm-1 2zm1 7zm-11 1zm2 4zm7 1zm1 2zm-7 0zm3 1zm0 2zm-4 1zm-2 4zm-1 0zm4 5zm11 2zm-17 3zm4 4zm4 2zm-4 1zm-2 4zm2 1zm3 6zm19-12zm4-4zm-8 0zm8-3zm9-7zm-1-4zm-15 0zm16-12zm-1-5zm-14-2zm7-3zm-11-3zm17-2zm-5-2zm3-2zm3-3zm-18-11zm19-1zm-13-8zm9-3zm-12 0zm15-3zm-5 0zm1-3zm-2-3zm7-1zm-17-2zm0-1zm1 0zm12-1zm-8-6zm10-6zm-7-5zm-7-1zm-2-4zm17-1zm-5 0zm4-1zm1-3zm1-2zm-18-5zm11-5zm-1-2zm6 0zm-9-5zm10-4zm-15 0zm9-7zm-5-3zm1 0zm2-1zm0-8zm-9-1zm17-2zm-1-3zm2-2zm-2-7zm-3-2zm-10-2zm-1-7zm12-2zm4-1zm-17-5zm10-1zm-7 0zm6-2zm-2 0zm-5-6zm1-6zm8-3zm-7-5zm7-3zm-10-2zm-3-1zm10-1zm0-10zm-8-1zm8-3zm6-2zm-13-1zm0-1zm3-3zm-1-1zm0-4zm3-3zm6-2zm-4-6zm7-9zm-4-1zm5-6zm-17-6zm13 0zm3-1zm-2-2zm2-1zm0-5zm-9-8zm-5-10zm10-1zm0-3zm1-2zm3-2zm0-1zm-4-1zm6-1zm-15-3zm-4 0zm15-6zm-2-2zm-10-2zm8-2zm-4-9zm7-3zm-3-8zm-6-1zm9 0zm4-4zm-18-11zm18-4zm-8-2zm-5-4zm10-4zm-4-9zm0-1zm-3-11zm9-2zm2-3zm-6-3zm-3-3zm8-4zm-7 0zm-5-1zm-3-1zm-3 0zm2-8zm17-4zm-9-2zm3-2zm4-1zm-1-5zm-13-2zm1 0zm12-1zm-1-3zm-14-7zm13 0zm2-6zm-12-3zm8-6zm-10-3zm12-4zm-2-8zm1-1zm-7-1zm4-5zm7-4zm-9-4zm-5-5zm9-6zm1-1zm-1-3zm0-6zm2-3zm-10-1zm9-3zm-3-4zm-6-1zm10-4zm0-1zm10 1zm10 5zm2 0zm-4 2zm-9 2zm9 1zm4 2zm-9 2zm-2 1zm6 2zm0 1zm2 12zm-9 10zm6 7zm4 0zm-14 1zm9 0zm-5 6zm12 1zm-4 1zm1 1zm0 2zm4 1zm-10 2zm-4 0zm9 0zm6 1zm-5 1zm-3 0zm-4 1zm3 2zm-5 1zm-4 11zm18 8zm1 10zm-6 0zm-12 1zm10 8zm2 0zm-13 1zm2 5zm-1 3zm-1 6zm2 1zm4 3zm-1 4zm1 0zm8 3zm1 8zm-15 0zm1 2zm6 3zm1 0zm7 8zm-9 5zm7 2zm-11 2zm-2 2zm9 4zm-5 0zm13 4zm-7 2zm-10 0zm17 3zm-13 3zm4 6zm0 4zm9 0zm-13 8zm-2 1zm8 5zm-1 1zm4 7zm-11 3zm9 3zm3 1zm-1 10zm1 1zm3 5zm-16 14zm3 1zm-1 1zm3 3zm0 2zm4 0zm9 2zm-4 0zm-1 2zm-10 1zm8 4zm-7 1zm-3 3zm0 2zm1 1zm6 8zm5 1zm-4 1zm7 3zm0 2zm-8 9zm1 3zm-10 1zm6 1zm-2 4zm-1 2zm6 4zm7 0zm-3 0zm-1 0zm6 1zm-9 1zm-1 2zm0 0zm11 3zm-12 5zm3 2zm8 3zm-2 1zm3 13zm-16 0zm9 0zm-12 3zm11 6zm7 0zm-10 3zm-6 4zm14 6zm-10 7zm1 2zm1 10zm3 2zm8 11zm-12 1zm9 4zm-2 0zm1 11zm1 5zm-12 5zm2 2zm8 4zm3 14zm-17 2zm19 2zm-11 4zm-5 4zm9 13zm4 3zm-13 5zm8 4zm2 4zm-11 1zm9 2zm-3 0zm3 9zm4 4zm2 1zm-8 1zm-4 6zm-2 2zm1 4zm5 0zm11-18zm7-7zm0-5zm0-5zm11-4zm-9-2zm5-2zm-11-2zm5-5zm2-2zm-9-2zm7-6zm8-2zm-11-3zm2 0zm11-3zm-9-5zm10-2zm-4 0zm4 0zm0-2zm-16-1zm15-3zm-16-2zm5-1zm2-4zm-3-1zm4-4zm-10-1zm19-4zm-9-5zm-6 0zm11-3zm-13-3zm3-3zm9 0zm5-2zm-10-1zm10-1zm-19-4zm2-2zm6 0zm-7-1zm13-1zm-2-4zm-6-2zm10-6zm1-6zm-7-7zm-1-2zm10-2zm-18 0zm11-13zm2-1zm-10-7zm10-6zm-13-1zm-1-1zm13-2zm-1-7zm3-9zm-13-3zm11-1zm-2-1zm0-1zm-6 0zm2-1zm-6-1zm13 0zm-3-3zm-3-1zm-6-14zm15-3zm-14 0zm10-2zm-11-1zm2-2zm-3-6zm0-1zm6-1zm-5-7zm10 0zm-12-3zm12-2zm-5-5zm0-1zm6-1zm-11-4zm10 0zm-5-1zm11-6zm-4 0zm-10-3zm-4-2zm12-2zm-2-2zm-6-3zm8-6zm-8 0zm-2-11zm6-1zm10-2zm-10-4zm-8-2zm6-8zm5-1zm0-12zm-11-2zm8 0zm3-4zm-9-2zm7-1zm4-1zm5-7zm-9 0zm2-2zm-2 0zm-5-4zm15 0zm-4-1zm-1-1zm-8-2zm13-1zm0-3zm-14-4zm-1-2zm6-1zm6-11zm-10-2zm13-2zm-5-1zm0 0zm-10-9zm1-2zm2-3zm7 0zm-8-1zm11-4zm-1-6zm-8-6zm-5-1zm8-10zm6 0zm1-6zm-14-1zm-2-8zm16-4zm0-3zm-10-3zm-4-1zm13-1zm2-2zm-1 0zm-8-2zm1-1zm3-1zm1 0zm-15-6zm17-3zm-3 0zm3-2zm-3 0zm-1-2zm2-10zm4-4zm-15-7zm-1-6zm16-6zm12-7zm-11 8zm19 5zm-10 0zm3 6zm4 1zm-16 5zm6 2zm5 3zm-6 0zm-2 1zm5 3zm-8 0zm17 9zm2 1zm-4 4zm-8 4zm3 0zm-5 4zm0 1zm-1 2zm1 2zm11 3zm-6 3zm-10 0zm11 1zm-10 2zm11 2zm5 3zm-6 2zm3 0zm-2 14zm-12 8zm1 4zm15 1zm-6 4zm1 3zm-6 0zm9 1zm0 3zm-14 2zm8 8zm-5 5zm-3 3zm10 0zm5 9zm-14 7zm3 1zm-3 0zm13 6zm-4 0zm-4 3zm3 1zm-9 5zm19 0zm-9 5zm7 0zm-16 3zm16 4zm-1 6zm-16 1zm11 2zm5 0zm2 9zm-9 1zm7 3zm-6 1zm-6 6zm11 0zm-12 6zm-2 0zm3 4zm4 1zm10 2zm-4 4zm-13 1zm11 4zm1 1zm0 1zm-6 2zm-6 1zm18 1zm-2 0zm2 1zm-10 0zm7 0zm-6 1zm-10 1zm3 4zm9 0zm-12 2zm18 1zm-2 4zm-9 4zm10 0zm-15 6zm8 5zm-10 1zm0 8zm6 2zm-5 10zm18 0zm-7 3zm0 1zm-5 3zm3 3zm-7 2zm13 8zm-13 2zm15 5zm-8 1zm-10 4zm9 9zm-1 9zm11 1zm-16 2zm13 2zm-10 1zm4 1zm-3 1zm9 10zm-9 0zm9 1zm-9 4zm-6 0zm10 1zm-5 6zm-1 0zm10 5zm4 2zm-3 1zm-5 1zm-1 1zm5 1zm-5 4zm-2 3zm-3 1zm-2 5zm-1 4zm6 6zm8 4zm-6 5zm7 2zm-14 2zm6 2zm8 1zm-7 3zm6 3zm-10 2zm-5 2zm5 1zm11 6zm-2 3zm-10 3zm1 1zm1 5zm0 1zm4 4zm-6 2zm-2 5zm18-24zm-1-4zm4-2zm-1-13zm6-3zm-9-5zm1 0zm11 0zm-11-3zm13-2zm5-2zm-12-3zm6-9zm-2-3zm-10-6zm11-2zm-5-2zm-3-1zm4 0zm3-1zm-1-2zm6-10zm-10-1zm-6 0zm10 0zm5-5zm-6 0zm-9-1zm1-4zm14-1zm4-4zm-9 0zm5-3zm-8-2zm-7-1zm13-2zm6-3zm-12 0zm6-2zm-9-2zm2-3zm3 0zm3-3zm-5-3zm1-1zm-2 0zm4-6zm-8 0zm10-5zm-6-3zm-6-1zm0-14zm6-1zm-6-2zm17-4zm-2-4zm-2-1zm-6 0zm5-2zm-1 0zm4-6zm2 0zm-2-2zm-8-1zm6 0zm-6-4zm4-2zm-4-2zm-4-4zm3 0zm13-8zm-12 0zm10 0zm-14-5zm3-1zm-6-2zm11-1zm4-3zm-7-8zm-2-1zm-4-4zm11-1zm-3-4zm-1-1zm-6-3zm7-1zm-4 0zm6-2zm1-2zm-1 0zm1-5zm4 0zm-8-4zm4-4zm4-4zm-4-2zm-5 0zm11-1zm-7-8zm2-5zm-11-3zm10-2zm-7-11zm3 0zm2-1zm-8 0zm8-1zm7-1zm-14-1zm7-1zm0-6zm-11-13zm16-1zm1-2zm-10-3zm6-4zm-4-5zm-6 0zm7-1zm-9 0zm0-12zm11-8zm-11-2zm18-6zm-12-1zm4-1zm-5-1zm10-2zm-3-6zm1-3zm-8 0zm12-1zm-7-11zm-10-2zm13 0zm-1 0zm-8-4zm9-5zm-8-1zm12-2zm-13-4zm14-1zm-12-2zm0-5zm-6-11zm10 0zm-10-3zm0-5zm4-10zm11-4zm-16-2zm14 0zm5-2zm-10-1zm19-9zm7 3zm-4 3zm-11 2zm17 1zm-4 1zm-11 1zm4 0zm11 1zm-1 5zm-10 3zm5 1zm8 2zm-8 2zm2 3zm-8 0zm-5 3zm13 3zm-9 1zm4 6zm-2 4zm-1 14zm7 3zm-11 4zm15 2zm-11 6zm1 5zm13 2zm-14 5zm-1 3zm12 4zm-10 1zm1 4zm-3 1zm6 1zm8 1zm-15 3zm13 4zm3 3zm-5 3zm-10 4zm-2 4zm14 2zm1 1zm-4 3zm-13 0zm14 6zm-9 12zm10 1zm0 2zm4 8zm-8 5zm-2 3zm10 2zm-14 4zm-5 3zm3 3zm5 2zm6 5zm2 1zm-13 0zm2 21zm11 2zm-7 3zm4 0zm1 1zm-11 9zm15 7zm-17 1zm13 2zm3 3zm-2 1zm-10 8zm3 3zm10 5zm-4 1zm-1 1zm0 3zm-10 0zm10 1zm-1 7zm2 0zm-7 1zm2 6zm-8 6zm11 2zm-6 1zm3 2zm-8 0zm6 3zm11 6zm0 3zm-18 2zm4 2zm2 2zm-2 1zm4 5zm-6 10zm9 3zm1 4zm-8 3zm3 1zm10 2zm-3 1zm2 5zm-7 10zm2 1zm2 3zm-4 1zm0 4zm-1 4zm-7 6zm-1 3zm18 1zm-8 4zm0 3zm3 3zm-7 3zm0 3zm-3 1zm-2 4zm23-35zm2-5zm4-9zm-2-6zm-3-9zm0-1zm14-6zm-15-1zm1-7zm-3-3zm0-1zm14-3zm-4-1zm-1-2zm-4-8zm-3-9zm-4-1zm11 0zm4 0zm4-5zm-1-8zm1-3zm-8-1zm0 0zm2-4zm-11-1zm3-3zm5-1zm-2-1zm-1 0zm8-1zm-15-1zm3-5zm12-3zm-8-2zm12 0zm-15-1zm6-1zm0-9zm2-7zm-5-3zm5-1zm3-4zm0-9zm-10-2zm14 0zm-8-3zm-4-1zm-5-4zm0-8zm16 0zm-7-3zm-4-3zm-5-2zm5-3zm-5-1zm9-1zm-6-3zm8-5zm6-1zm-8-1zm-8-6zm9-3zm-7-2zm8-2zm4-6zm-3-1zm0-7zm-5 0zm6 0zm3-1zm-5-9zm0-4zm-11-1zm17-2zm0-2zm-1-10zm-16-4zm5-1zm7-8zm0-3zm3-2zm-13-11zm14-1zm-5-1zm6-8zm-19-3zm18-4zm-17-3zm3-1zm-1 0zm9-8zm3-8zm-13 0zm10-4zm3-1zm4-7zm-15-2zm11-2zm-5-9zm-5-3zm1-1zm-4-4zm4-2zm5-4zm2-8zm-7-4zm19-10zm3 0zm-7 7zm9 0zm-2 5zm6 0zm-11 0zm-1 8zm15 2zm-11 1zm7 1zm-2 0zm3 1zm-6 3zm8 3zm0 1zm-5 1zm4 5zm-4 0zm8 1zm-2 0zm-5 1zm-6 5zm0 0zm8 1zm0 18zm-5 0zm-9 4zm10 4zm6 4zm-11 4zm5 5zm-9 0zm12 1zm-3 1zm-7 1zm10 3zm3 2zm-1 1zm-1 2zm-4 1zm-8 1zm0 0zm5 1zm8 1zm-3 2zm-10 3zm0 4zm10 5zm2 1zm5 1zm-6 0zm-8 7zm2 2zm-6 2zm-1 3zm14 7zm-2 1zm-2 3zm3 1zm-12 2zm9 3zm5 1zm-10 2zm1 3zm-4 1zm16 2zm-17 20zm0 1zm11 1zm4 0zm-12 4zm6 12zm-8 0zm5 1zm-6 2zm1 1zm13 6zm-2 6zm-9 1zm10 3zm-6 0zm2 0zm2 0zm-1 1zm-9 3zm15 0zm1 1zm-15 8zm4 2zm0 4zm1 3zm4 2zm-6 5zm9 2zm0 3zm-12 1zm-2 1zm6 1zm12 2zm-10 1zm-7 1zm13 1zm-3 2zm7 8zm-8 7zm-10 2zm8 8zm1 16zm-6 6zm0 6zm-2 7zm2 5zm18-57zm1-4zm-2 0zm1-3zm-1-18zm10-10zm7-4zm-4 0zm-13-4zm17-10zm-11-2zm-1-2zm9-6zm-12-5zm16-1zm-2-2zm-15-1zm4-1zm-4-8zm13 0zm4-11zm-3-6zm-5-3zm-7-4zm-1-3zm-2-7zm15-5zm-10-5zm11-1zm-16-1zm8-1zm9-1zm-10-3zm-5-1zm3-1zm11-7zm-17-1zm15 0zm-13-3zm2-1zm14-2zm-7-6zm-4 0zm2-2zm-2 0zm-5-5zm17-1zm-8-2zm-9 0zm1-3zm15 0zm-7 0zm-2-1zm-1-2zm6-5zm-3-4zm3 0zm-7-1zm-3-1zm5-2zm9 0zm-11-2zm-7 0zm0-3zm0-1zm8-1zm-1-1zm-5-9zm-1-1zm14 0zm-4-8zm-5-1zm-1-1zm-1-1zm7-1zm-11-1zm7-4zm-4-5zm-2-2zm14-1zm-7-1zm1 0zm-9-5zm8-1zm8-3zm-5 0zm1-2zm-6-5zm-5-1zm10 0zm-1-2zm0-1zm4-6zm-4 0zm-9-1zm7-2zm-1-1zm-4-1zm17 8zm2 12zm4 14zm-6 2zm16 11zm-10 3zm2 1zm5 1zm3 1zm-12 1zm3 3zm2 1zm-1 3zm5 1zm2 3zm0 2zm0 6zm-6 1zm-9 10zm18 4zm-1 5zm-8 1zm8 2zm-8 1zm-3 3zm9 9zm-4 7zm4 3zm-2 0zm0 1zm-1 3zm-9 3zm7 5zm-1 0zm-3 0zm-6 4zm7 6zm-3 1zm1 0zm3 0zm2 2zm-5 3zm2 2zm0 0zm4 6zm-11 2zm3 1zm-2 3zm9 1zm-8 5zm4 14zm3 0zm-7 5zm3 4zm-3 4zm-2 6zm3 2zm17-79zm2-24zm-2-24z" fill="none" stroke="#50308a" stroke-width="8.0" stroke-linecap="round"/>
<path transform="scale(.1)" d="M4339 4714zm20 128zm0-29zm-1-65zm-4-10zm-9-3zm-3-9zm10-6zm7-1zm0-2zm-14-3zm0-1zm-3-3zm10-2zm-8-4zm-4-2zm7-1zm4-5zm1-1zm-1-3zm12 1zm10 5zm-11 5zm0 1zm1 4zm11 1zm-4 2zm7 0zm2 10zm-7 4zm-10 1zm-1 1zm4 3zm5 2zm-3 3zm5 4zm-11 0zm-1 22zm1 2zm1 6zm-1 7zm2 16zm0 10zm0 6zm-2 31zm1 17zm0 2zm-1 9zm2 0zm-3 8zm0 0zm4 11zm35-33zm-10-126zm6 0zm-12-2zm14 0zm-15-4zm2-1zm-1-3zm-3-4zm0-20zm37 32zm-15 1zm9 4zm23-1zm24 2zm-16 6zm14 0zm9 21zm6-8zm-3-5zm1 0zm9-2zm-10 0zm-6-4zm4-1zm-4-6zm-2-1zm10-3zm16-2zm2 1zm-2 9zm5 4z" fill="none" stroke="#1b9847" stroke-width="6.8" stroke-linecap="round"/>
<path transform="scale(.1)" d="M4477 4823zm2-81zm3 7zm-1 5zm0 4zm3 4zm-2 3zm2 12zm4 1zm4 8zm-1 3zm26 58zm-2-16zm1-2zm0-5zm-7-6zm-7-16zm37-1zm-14 17zm10 9zm-10 9zm9 17zm-8 4zm8 3zm-5 12zm6 8zm6-17zm18-2zm-8-3zm2-6zm-12-6zm23-58zm1 75zm-1 11zm1 10z" fill="none" stroke="#5f9a78" stroke-width="6.8" stroke-linecap="round"/>
<path transform="scale(.1)" d="M4479 4588zm-7-4zm7 0zm5-20zm4 2zm11 6zm-16 4zm8 6zm5 3zm-7 2zm-2 8zm8 1zm-7 7zm0 5zm-1 0zm4 4zm-2 3zm4 9zm1 3zm1 22zm-2 13zm3 4zm-6 4zm1 3zm-3 7zm8 9zm-5 4zm5 0zm-3 1zm-3 6zm1 2zm-4 4zm3 2zm-3 0zm6 4zm-4 4zm5 9zm-7 1zm18-99zm3 0zm0-2zm-6-3zm10-6zm1 0zm-4-1zm4-1zm3-2zm-8-4zm-4-1zm-4 0zm11-2zm-6-3zm0 0zm4-6zm9-1zm0-1zm-18-1zm15 0zm-14-4zm-1 0zm14-2zm-7-10zm10-2zm-2-3zm-12-12zm22 23zm-3 8zm3 1zm-5 13zm1 5z" fill="none" stroke="#442076" stroke-width="6.8" stroke-linecap="round"/>
<path transform="scale(.1)" d="M4996 5036zm2-1zm-3-4zm-12-18zm2-3zm-3-1zm5-1zm1-2zm-5-3zm17 11zm0 3zm0 2zm7 0zm8 1zm-9 1zm-6 0zm8 0zm-8 1zm9 2zm10 1zm-8 3zm2 0zm-13 1zm0 0zm8 0zm-3 1zm7 1zm-7 0zm1 2zm-4 1zm6 1zm-3 2zm13 3zm-6 0zm-2 7zm8 0zm-3 1zm-7 1zm8 1zm0 1zm2 4zm0 3zm5 16zm12-3zm-11-14zm2-9zm4-2zm0 0zm-9-1zm0-1zm-1-6zm2-1zm-2-2zm23 50zm14 17zm0 6zm0 1zm1 39zm21 36zm-5-7zm0-3zm-4-4zm-5 0zm7-1zm-10-4zm9-1zm-9-2zm15 0zm-6-2zm7 0zm-6-2zm-6-3zm10-5zm-8-5zm4 0zm4 0zm1-4zm0-1zm-16 0zm18-1zm-19-2zm16-3zm0 0zm-2-2zm-7-6zm-1 0zm8-2zm-14 0zm7-5zm-4-2zm2-3zm10-3zm-2-4zm-1-4zm4-2zm-6-1zm-7-2zm-1-1zm0-1zm21-3zm6 19zm-4 1zm1 3zm-2 8zm7 1zm-8 1zm2 1zm-4 1zm6 1zm2 0zm0 0zm5 1zm5 3zm-11 1zm3 3zm-7 0zm-4 0zm11 0zm-11 1zm4 3zm13 0zm-8 1zm-2 2zm-6 1zm6 1zm10 0zm-2 2zm2 1zm-12 1zm2 5zm11 0zm-17 1zm3 0zm-4 1zm13 0zm2 2zm4 2zm-12 1zm-4 1zm5 1zm-3 1zm14 5zm-1 0zm-9 3zm-7 3zm1 1zm7 4zm0 1zm22 4zm-9-2zm13-5zm-15-2zm12-3zm1-3zm1-1zm-4-6zm-9 0zm-2-1zm4-1zm4-2zm10-1zm-1 0zm-5-1zm-5-2zm-3 0zm11-1zm-5-1zm4-1zm-11 0zm-2 0zm17 0zm-18-1zm8 0zm-2 0zm-5-1zm6 0zm-1 0zm-4-1zm0-1zm8 0zm-1-1zm5-1zm0-2zm-4-1zm4-2zm0 0zm-11 0zm12 0zm-10-1zm3-1zm2-3zm6 0zm-8 0zm-8-1zm0 0zm14-1zm-14 0zm15-1zm-5-3zm0-2zm-7 0zm5-2zm6 0zm-14-3zm8-1zm1-2zm6-3zm-11-3zm12-1zm9 4zm-1 8zm-4 2zm2 7zm1 3zm4 1zm-7 1zm16 0zm-1 0zm-15 3zm16 3zm-6 1zm8 1zm-8 4zm3 1zm-9 2zm-1 0zm8 2zm-7 2zm-2 1zm5 4zm-2 2zm-1 6zm2 0zm-5 3z" fill="none" stroke="#1b9847" stroke-width="9.0" stroke-linecap="round"/>
<path transform="scale(.1)" d="M4984 4997zm33 25zm-7 4zm68 118zm8-19zm13 5zm-5 33zm-1 7zm8-1zm12 0zm5-15zm-14-2zm14-24zm20 13z" fill="none" stroke="#442076" stroke-width="9.0" stroke-linecap="round"/>
<text x="0.20" y="590.50" font-size="10.3" font-weight="bold" fill="#111" stroke="#111">C</text>
<text x="10.60" y="598.20" font-size="7.0" fill="#242424" stroke="#242424">EI_047</text>
<rect x="10.60" y="602.00" width="200.60" height="77.50" fill="#fff" stroke="#858585" stroke-width="0.55"/>
<path d="M17.5 640.35L18.0 640.35L18.5 640.35L19.0 640.35L19.5 640.35L20.0 640.35L20.5 640.34L21.0 640.34L21.5 640.34L22.0 640.33L22.5 640.33L23.0 640.32L23.5 640.32L24.0 640.31L24.5 640.30L25.0 640.30L25.5 640.29L26.0 640.28L26.5 640.27L27.0 640.26L27.5 640.25L28.0 640.24L28.5 640.22L29.0 640.21L29.5 640.20L30.0 640.18L30.5 640.17L31.0 640.15L31.5 640.13L32.0 640.12L32.5 640.10L33.0 640.08L33.5 640.06L34.0 640.04L34.5 640.02L35.0 640.00L35.5 639.98L36.0 639.95L36.5 639.93L37.0 639.90L37.5 639.88L38.0 639.85L38.5 639.83L39.0 639.80L39.5 639.77L40.0 639.74L40.5 639.71L41.0 639.68L41.5 639.65L42.0 639.61L42.5 639.58L43.0 639.55L43.5 639.51L44.0 639.47L44.5 639.44L45.0 639.40L45.5 639.36L46.0 639.32L46.5 639.28L47.0 639.24L47.5 639.20L48.0 639.17L48.5 639.08L49.0 638.93L49.5 638.72L50.0 638.46L50.5 638.14L51.0 637.78L51.5 637.37L52.0 636.91L52.5 636.41L53.0 635.87L53.5 635.29L54.0 634.67L54.5 634.02L55.0 633.34L55.5 632.63L56.0 631.89L56.5 631.12L57.0 630.33L57.5 629.52L58.0 628.69L58.5 627.85L59.0 626.99L59.5 626.12L60.0 625.23L60.5 624.34L61.0 623.45L61.5 622.55L62.0 621.65L62.5 620.75L63.0 619.86L63.5 618.97L64.0 618.08L64.5 617.21L65.0 616.35L65.5 615.51L66.0 614.68L66.5 613.87L67.0 613.08L67.5 612.31L68.0 611.57L68.5 610.86L69.0 610.18L69.5 609.53L70.0 608.91L70.5 608.33L71.0 607.79L71.5 607.29L72.0 606.83L72.5 606.42L73.0 606.06L73.5 605.74L74.0 605.48L74.5 605.27L75.0 605.12L75.5 605.03L76.0 605.00L76.5 605.00L77.0 605.00L77.5 605.00L78.0 605.00L78.5 605.00L79.0 605.00L79.5 605.00L80.0 605.00L80.5 605.00L81.0 605.00L81.5 605.00L82.0 605.00L82.5 605.00L83.0 605.00L83.5 605.00L84.0 605.00L84.5 605.00L85.0 605.00L85.5 605.00L86.0 605.00L86.5 605.00L87.0 605.00L87.5 605.00L88.0 605.00L88.5 605.00L89.0 605.00L89.5 605.00L90.0 605.00L90.5 605.00L91.0 605.00L91.5 605.00L92.0 605.00L92.5 605.00L93.0 605.00L93.5 605.00L94.0 605.00L94.5 605.00L95.0 605.00L95.5 605.00L96.0 605.00L96.5 605.00L97.0 605.00L97.5 605.00L98.0 605.00L98.5 605.00L99.0 605.00L99.5 605.00L100.0 605.00L100.5 605.00L101.0 605.00L101.5 605.00L102.0 605.00L102.5 605.00L103.0 605.00L103.5 605.00L104.0 605.00L104.5 605.00L105.0 605.00L105.5 605.00L106.0 605.00L106.5 605.00L107.0 605.00L107.5 605.00L108.0 605.00L108.5 605.00L109.0 605.00L109.5 605.00L110.0 605.00L110.5 605.00L111.0 605.00L111.5 605.00L112.0 605.00L112.5 605.00L113.0 605.00L113.5 605.03L114.0 605.12L114.5 605.26L115.0 605.46L115.5 605.71L116.0 606.01L116.5 606.36L117.0 606.76L117.5 607.20L118.0 607.68L118.5 608.20L119.0 608.76L119.5 609.36L120.0 609.98L120.5 610.64L121.0 611.33L121.5 612.05L122.0 612.80L122.5 613.56L123.0 614.35L123.5 615.16L124.0 615.99L124.5 616.83L125.0 617.68L125.5 618.55L126.0 619.42L126.5 620.30L127.0 621.19L127.5 622.08L128.0 622.97L128.5 623.86L129.0 624.75L129.5 625.63L130.0 626.50L130.5 627.37L131.0 628.22L131.5 629.06L132.0 629.89L132.5 630.70L133.0 631.49L133.5 632.25L134.0 633.00L134.5 633.72L135.0 634.41L135.5 635.07L136.0 635.69L136.5 636.29L137.0 636.85L137.5 637.37L138.0 637.85L138.5 638.29L139.0 638.69L139.5 639.04L140.0 639.34L140.5 639.59L141.0 639.79L141.5 639.93L142.0 640.02L142.5 640.05L143.0 640.02L143.5 639.92L144.0 639.77L144.5 639.56L145.0 639.29L145.5 638.97L146.0 638.59L146.5 638.17L147.0 637.70L147.5 637.19L148.0 636.64L148.5 636.04L149.0 635.41L149.5 634.75L150.0 634.05L150.5 633.32L151.0 632.56L151.5 631.77L152.0 630.96L152.5 630.13L153.0 629.28L153.5 628.42L154.0 627.54L154.5 626.64L155.0 625.74L155.5 624.83L156.0 623.91L156.5 622.99L157.0 622.06L157.5 621.14L158.0 620.22L158.5 619.31L159.0 618.41L159.5 617.51L160.0 616.63L160.5 615.77L161.0 614.92L161.5 614.09L162.0 613.28L162.5 612.49L163.0 611.73L163.5 611.00L164.0 610.30L164.5 609.64L165.0 609.01L165.5 608.41L166.0 607.86L166.5 607.35L167.0 606.88L167.5 606.46L168.0 606.08L168.5 605.76L169.0 605.49L169.5 605.28L170.0 605.13L170.5 605.03L171.0 605.00L171.5 605.00L172.0 605.00L172.5 605.00L173.0 605.00L173.5 605.00L174.0 605.00L174.5 605.00L175.0 605.00L175.5 605.00L176.0 605.00L176.5 605.00L177.0 605.00L177.5 605.00L178.0 605.00L178.5 605.00L179.0 605.00L179.5 605.00L180.0 605.00L180.5 605.00L181.0 605.00L181.5 605.00L182.0 605.00L182.5 605.00L183.0 605.00L183.5 605.00L184.0 605.00L184.5 605.00L185.0 605.00L185.5 605.00L186.0 605.00L186.5 605.00L187.0 605.00L187.5 605.00L188.0 605.00L188.5 605.00L189.0 605.00L189.5 605.00L190.0 605.00L190.5 605.00L191.0 605.00L191.5 605.00L192.0 605.00L192.5 605.00L193.0 605.00L193.5 605.00L194.0 605.00L194.5 605.00L195.0 605.00L195.5 605.00L196.0 605.00L196.5 605.00L197.0 605.00L197.5 605.00L198.0 605.00L198.5 605.00L199.0 605.00L199.5 605.00L200.0 605.00L200.5 605.00L201.0 605.00L201.5 605.00L202.0 605.00L202.5 605.00L203.0 605.00L203.5 605.00L203.8 605.00L203.8 676.20L203.5 676.20L203.0 676.20L202.5 676.20L202.0 676.20L201.5 676.20L201.0 676.20L200.5 676.20L200.0 676.20L199.5 676.20L199.0 676.20L198.5 676.20L198.0 676.20L197.5 676.20L197.0 676.20L196.5 676.20L196.0 676.20L195.5 676.20L195.0 676.20L194.5 676.20L194.0 676.20L193.5 676.20L193.0 676.20L192.5 676.20L192.0 676.20L191.5 676.20L191.0 676.20L190.5 676.20L190.0 676.20L189.5 676.20L189.0 676.20L188.5 676.20L188.0 676.20L187.5 676.20L187.0 676.20L186.5 676.20L186.0 676.20L185.5 676.20L185.0 676.20L184.5 676.20L184.0 676.20L183.5 676.20L183.0 676.20L182.5 676.20L182.0 676.20L181.5 676.20L181.0 676.20L180.5 676.20L180.0 676.20L179.5 676.20L179.0 676.20L178.5 676.20L178.0 676.20L177.5 676.20L177.0 676.20L176.5 676.20L176.0 676.20L175.5 676.20L175.0 676.20L174.5 676.20L174.0 676.20L173.5 676.20L173.0 676.20L172.5 676.20L172.0 676.20L171.5 676.20L171.0 676.20L170.5 676.17L170.0 676.07L169.5 675.92L169.0 675.71L168.5 675.44L168.0 675.12L167.5 674.74L167.0 674.32L166.5 673.85L166.0 673.34L165.5 672.79L165.0 672.19L164.5 671.56L164.0 670.90L163.5 670.20L163.0 669.47L162.5 668.71L162.0 667.92L161.5 667.11L161.0 666.28L160.5 665.43L160.0 664.57L159.5 663.69L159.0 662.79L158.5 661.89L158.0 660.98L157.5 660.06L157.0 659.14L156.5 658.21L156.0 657.29L155.5 656.37L155.0 655.46L154.5 654.56L154.0 653.66L153.5 652.78L153.0 651.92L152.5 651.07L152.0 650.24L151.5 649.43L151.0 648.64L150.5 647.88L150.0 647.15L149.5 646.45L149.0 645.79L148.5 645.16L148.0 644.56L147.5 644.01L147.0 643.50L146.5 643.03L146.0 642.61L145.5 642.23L145.0 641.91L144.5 641.64L144.0 641.43L143.5 641.28L143.0 641.18L142.5 641.15L142.0 641.18L141.5 641.27L141.0 641.41L140.5 641.61L140.0 641.86L139.5 642.16L139.0 642.51L138.5 642.91L138.0 643.35L137.5 643.83L137.0 644.35L136.5 644.91L136.0 645.51L135.5 646.13L135.0 646.79L134.5 647.48L134.0 648.20L133.5 648.95L133.0 649.71L132.5 650.50L132.0 651.31L131.5 652.14L131.0 652.98L130.5 653.83L130.0 654.70L129.5 655.57L129.0 656.45L128.5 657.34L128.0 658.23L127.5 659.12L127.0 660.01L126.5 660.90L126.0 661.78L125.5 662.65L125.0 663.52L124.5 664.37L124.0 665.21L123.5 666.04L123.0 666.85L122.5 667.64L122.0 668.40L121.5 669.15L121.0 669.87L120.5 670.56L120.0 671.22L119.5 671.84L119.0 672.44L118.5 673.00L118.0 673.52L117.5 674.00L117.0 674.44L116.5 674.84L116.0 675.19L115.5 675.49L115.0 675.74L114.5 675.94L114.0 676.08L113.5 676.17L113.0 676.20L112.5 676.20L112.0 676.20L111.5 676.20L111.0 676.20L110.5 676.20L110.0 676.20L109.5 676.20L109.0 676.20L108.5 676.20L108.0 676.20L107.5 676.20L107.0 676.20L106.5 676.20L106.0 676.20L105.5 676.20L105.0 676.20L104.5 676.20L104.0 676.20L103.5 676.20L103.0 676.20L102.5 676.20L102.0 676.20L101.5 676.20L101.0 676.20L100.5 676.20L100.0 676.20L99.5 676.20L99.0 676.20L98.5 676.20L98.0 676.20L97.5 676.20L97.0 676.20L96.5 676.20L96.0 676.20L95.5 676.20L95.0 676.20L94.5 676.20L94.0 676.20L93.5 676.20L93.0 676.20L92.5 676.20L92.0 676.20L91.5 676.20L91.0 676.20L90.5 676.20L90.0 676.20L89.5 676.20L89.0 676.20L88.5 676.20L88.0 676.20L87.5 676.20L87.0 676.20L86.5 676.20L86.0 676.20L85.5 676.20L85.0 676.20L84.5 676.20L84.0 676.20L83.5 676.20L83.0 676.20L82.5 676.20L82.0 676.20L81.5 676.20L81.0 676.20L80.5 676.20L80.0 676.20L79.5 676.20L79.0 676.20L78.5 676.20L78.0 676.20L77.5 676.20L77.0 676.20L76.5 676.20L76.0 676.20L75.5 676.17L75.0 676.08L74.5 675.93L74.0 675.72L73.5 675.46L73.0 675.14L72.5 674.78L72.0 674.37L71.5 673.91L71.0 673.41L70.5 672.87L70.0 672.29L69.5 671.67L69.0 671.02L68.5 670.34L68.0 669.63L67.5 668.89L67.0 668.12L66.5 667.33L66.0 666.52L65.5 665.69L65.0 664.85L64.5 663.99L64.0 663.12L63.5 662.23L63.0 661.34L62.5 660.45L62.0 659.55L61.5 658.65L61.0 657.75L60.5 656.86L60.0 655.97L59.5 655.08L59.0 654.21L58.5 653.35L58.0 652.51L57.5 651.68L57.0 650.87L56.5 650.08L56.0 649.31L55.5 648.57L55.0 647.86L54.5 647.18L54.0 646.53L53.5 645.91L53.0 645.33L52.5 644.79L52.0 644.29L51.5 643.83L51.0 643.42L50.5 643.06L50.0 642.74L49.5 642.48L49.0 642.27L48.5 642.12L48.0 642.03L47.5 642.00L47.0 641.96L46.5 641.92L46.0 641.88L45.5 641.84L45.0 641.80L44.5 641.76L44.0 641.73L43.5 641.69L43.0 641.65L42.5 641.62L42.0 641.59L41.5 641.55L41.0 641.52L40.5 641.49L40.0 641.46L39.5 641.43L39.0 641.40L38.5 641.37L38.0 641.35L37.5 641.32L37.0 641.30L36.5 641.27L36.0 641.25L35.5 641.22L35.0 641.20L34.5 641.18L34.0 641.16L33.5 641.14L33.0 641.12L32.5 641.10L32.0 641.08L31.5 641.07L31.0 641.05L30.5 641.03L30.0 641.02L29.5 641.00L29.0 640.99L28.5 640.98L28.0 640.96L27.5 640.95L27.0 640.94L26.5 640.93L26.0 640.92L25.5 640.91L25.0 640.90L24.5 640.90L24.0 640.89L23.5 640.88L23.0 640.88L22.5 640.87L22.0 640.87L21.5 640.86L21.0 640.86L20.5 640.86L20.0 640.85L19.5 640.85L19.0 640.85L18.5 640.85L18.0 640.85L17.5 640.85Z" fill="#a9a9a9"/>
<path d="M17.5 640.35L18.0 640.35L18.5 640.35L19.0 640.35L19.5 640.35L20.0 640.35L20.5 640.34L21.0 640.34L21.5 640.34L22.0 640.33L22.5 640.33L23.0 640.32L23.5 640.32L24.0 640.31L24.5 640.30L25.0 640.30L25.5 640.29L26.0 640.28L26.5 640.27L27.0 640.26L27.5 640.25L28.0 640.24L28.5 640.22L29.0 640.21L29.5 640.20L30.0 640.18L30.5 640.17L31.0 640.15L31.5 640.13L32.0 640.12L32.5 640.10L33.0 640.08L33.5 640.06L34.0 640.04L34.5 640.02L35.0 640.00L35.5 639.98L36.0 639.95L36.5 639.93L37.0 639.90L37.5 639.88L38.0 639.85L38.5 639.83L39.0 639.80L39.5 639.77L40.0 639.74L40.5 639.71L41.0 639.68L41.5 639.65L42.0 639.61L42.5 639.58L43.0 639.55L43.5 639.51L44.0 639.47L44.5 639.44L45.0 639.40L45.5 639.36L46.0 639.32L46.5 639.28L47.0 639.24L47.5 639.20L48.0 639.17L48.5 639.08L49.0 638.93L49.5 638.72L49.5 642.48L49.0 642.27L48.5 642.12L48.0 642.03L47.5 642.00L47.0 641.96L46.5 641.92L46.0 641.88L45.5 641.84L45.0 641.80L44.5 641.76L44.0 641.73L43.5 641.69L43.0 641.65L42.5 641.62L42.0 641.59L41.5 641.55L41.0 641.52L40.5 641.49L40.0 641.46L39.5 641.43L39.0 641.40L38.5 641.37L38.0 641.35L37.5 641.32L37.0 641.30L36.5 641.27L36.0 641.25L35.5 641.22L35.0 641.20L34.5 641.18L34.0 641.16L33.5 641.14L33.0 641.12L32.5 641.10L32.0 641.08L31.5 641.07L31.0 641.05L30.5 641.03L30.0 641.02L29.5 641.00L29.0 640.99L28.5 640.98L28.0 640.96L27.5 640.95L27.0 640.94L26.5 640.93L26.0 640.92L25.5 640.91L25.0 640.90L24.5 640.90L24.0 640.89L23.5 640.88L23.0 640.88L22.5 640.87L22.0 640.87L21.5 640.86L21.0 640.86L20.5 640.86L20.0 640.85L19.5 640.85L19.0 640.85L18.5 640.85L18.0 640.85L17.5 640.85Z" fill="#7c7c7c"/>
<path d="M46.0 639.38L46.5 639.34L47.0 639.30L47.5 639.26L48.0 639.23L48.5 639.15L49.0 639.00L49.5 638.80L50.0 638.55L50.5 638.25L51.0 637.91L51.5 637.51L52.0 637.08L52.5 636.60L53.0 636.08L53.5 635.53L54.0 634.94L54.5 634.32L55.0 633.67L55.5 632.99L56.0 632.28L56.5 631.55L57.0 630.80L57.5 630.02L58.0 629.23L58.5 628.42L59.0 627.60L59.5 626.77L60.0 625.93L60.5 625.08L61.0 624.22L61.5 623.36L62.0 622.50L62.5 621.64L63.0 620.79L63.5 619.94L64.0 619.10L64.5 618.26L65.0 617.44L65.5 616.64L66.0 615.84L66.5 615.07L67.0 614.32L67.5 613.58L68.0 612.88L68.5 612.20L69.0 611.55L69.5 610.92L70.0 610.34L70.5 609.78L71.0 609.27L71.5 608.79L72.0 608.35L72.5 607.96L73.0 607.61L73.5 607.31L74.0 607.06L74.5 606.86L75.0 606.72L75.5 606.63L76.0 606.60L76.5 606.60L77.0 606.60L77.5 606.60L78.0 606.60L78.5 606.60L79.0 606.60L79.5 606.60L80.0 606.60L80.5 606.60L81.0 606.60L81.5 606.60L82.0 606.60L82.5 606.60L83.0 606.60L83.5 606.60L84.0 606.60L84.5 606.60L85.0 606.60L85.5 606.60L86.0 606.60L86.5 606.60L87.0 606.60L87.5 606.60L88.0 606.60L88.5 606.60L89.0 606.60L89.5 606.60L90.0 606.60L90.5 606.60L91.0 606.60L91.5 606.60L92.0 606.60L92.5 606.60L93.0 606.60L93.5 606.60L94.0 606.60L94.5 606.60L95.0 606.60L95.5 606.60L96.0 606.60L96.5 606.60L97.0 606.60L97.5 606.60L98.0 606.60L98.5 606.60L99.0 606.60L99.5 606.60L100.0 606.60L100.5 606.60L101.0 606.60L101.5 606.60L102.0 606.60L102.5 606.60L103.0 606.60L103.5 606.60L104.0 606.60L104.5 606.60L105.0 606.60L105.5 606.60L106.0 606.60L106.5 606.60L107.0 606.60L107.5 606.60L108.0 606.60L108.5 606.60L109.0 606.60L109.5 606.60L110.0 606.60L110.5 606.60L111.0 606.60L111.5 606.60L112.0 606.60L112.5 606.60L113.0 606.60L113.5 606.63L114.0 606.71L114.5 606.85L115.0 607.04L115.5 607.28L116.0 607.57L116.5 607.90L117.0 608.28L117.5 608.70L118.0 609.16L118.5 609.66L119.0 610.19L119.5 610.76L120.0 611.36L120.5 611.99L121.0 612.65L121.5 613.34L122.0 614.05L122.5 614.78L123.0 615.53L123.5 616.31L124.0 617.09L124.5 617.90L125.0 618.71L125.5 619.54L126.0 620.37L126.5 621.22L127.0 622.06L127.5 622.91L128.0 623.76L128.5 624.61L129.0 625.46L129.5 626.30L130.0 627.14L130.5 627.96L131.0 628.78L131.5 629.58L132.0 630.37L132.5 631.14L133.0 631.90L133.5 632.63L134.0 633.34L134.5 634.02L135.0 634.68L135.5 635.32L136.0 635.92L136.5 636.48L137.0 637.02L137.5 637.52L138.0 637.98L138.5 638.40L139.0 638.77L139.5 639.11L140.0 639.39L140.5 639.63L141.0 639.82L141.5 639.96L142.0 640.05L142.5 640.07L143.0 640.04L143.5 639.95L144.0 639.81L144.5 639.60L145.0 639.35L145.5 639.04L146.0 638.68L146.5 638.28L147.0 637.83L147.5 637.35L148.0 636.82L148.5 636.25L149.0 635.65L149.5 635.01L150.0 634.34L150.5 633.64L151.0 632.92L151.5 632.17L152.0 631.40L152.5 630.60L153.0 629.79L153.5 628.96L154.0 628.12L154.5 627.27L155.0 626.41L155.5 625.53L156.0 624.66L156.5 623.78L157.0 622.90L157.5 622.02L158.0 621.14L158.5 620.27L159.0 619.41L159.5 618.55L160.0 617.71L160.5 616.88L161.0 616.07L161.5 615.28L162.0 614.51L162.5 613.76L163.0 613.03L163.5 612.34L164.0 611.67L164.5 611.03L165.0 610.43L165.5 609.86L166.0 609.33L166.5 608.84L167.0 608.39L167.5 607.99L168.0 607.64L168.5 607.33L169.0 607.07L169.5 606.87L170.0 606.72L170.5 606.63L171.0 606.60L171.5 606.60L172.0 606.60L172.5 606.60L173.0 606.60L173.5 606.60L174.0 606.60L174.5 606.60L175.0 606.60L175.5 606.60L176.0 606.60L176.5 606.60L177.0 606.60L177.5 606.60L178.0 606.60L178.5 606.60L179.0 606.60L179.5 606.60L180.0 606.60L180.5 606.60L181.0 606.60L181.5 606.60L182.0 606.60L182.5 606.60L183.0 606.60L183.5 606.60L184.0 606.60L184.5 606.60L185.0 606.60L185.5 606.60L186.0 606.60L186.5 606.60L187.0 606.60L187.5 606.60L188.0 606.60L188.5 606.60L189.0 606.60L189.5 606.60L190.0 606.60L190.5 606.60L191.0 606.60L191.5 606.60L192.0 606.60L192.5 606.60L193.0 606.60L193.5 606.60L194.0 606.60L194.5 606.60L195.0 606.60L195.5 606.60L196.0 606.60L196.5 606.60L197.0 606.60L197.5 606.60L198.0 606.60L198.5 606.60L199.0 606.60L199.5 606.60L200.0 606.60L200.5 606.60L201.0 606.60L201.5 606.60L202.0 606.60L202.5 606.60L203.0 606.60L203.5 606.60L203.8 606.60L203.8 674.60L203.5 674.60L203.0 674.60L202.5 674.60L202.0 674.60L201.5 674.60L201.0 674.60L200.5 674.60L200.0 674.60L199.5 674.60L199.0 674.60L198.5 674.60L198.0 674.60L197.5 674.60L197.0 674.60L196.5 674.60L196.0 674.60L195.5 674.60L195.0 674.60L194.5 674.60L194.0 674.60L193.5 674.60L193.0 674.60L192.5 674.60L192.0 674.60L191.5 674.60L191.0 674.60L190.5 674.60L190.0 674.60L189.5 674.60L189.0 674.60L188.5 674.60L188.0 674.60L187.5 674.60L187.0 674.60L186.5 674.60L186.0 674.60L185.5 674.60L185.0 674.60L184.5 674.60L184.0 674.60L183.5 674.60L183.0 674.60L182.5 674.60L182.0 674.60L181.5 674.60L181.0 674.60L180.5 674.60L180.0 674.60L179.5 674.60L179.0 674.60L178.5 674.60L178.0 674.60L177.5 674.60L177.0 674.60L176.5 674.60L176.0 674.60L175.5 674.60L175.0 674.60L174.5 674.60L174.0 674.60L173.5 674.60L173.0 674.60L172.5 674.60L172.0 674.60L171.5 674.60L171.0 674.60L170.5 674.57L170.0 674.48L169.5 674.33L169.0 674.13L168.5 673.87L168.0 673.56L167.5 673.21L167.0 672.81L166.5 672.36L166.0 671.87L165.5 671.34L165.0 670.77L164.5 670.17L164.0 669.53L163.5 668.86L163.0 668.17L162.5 667.44L162.0 666.69L161.5 665.92L161.0 665.13L160.5 664.32L160.0 663.49L159.5 662.65L159.0 661.79L158.5 660.93L158.0 660.06L157.5 659.18L157.0 658.30L156.5 657.42L156.0 656.54L155.5 655.67L155.0 654.79L154.5 653.93L154.0 653.08L153.5 652.24L153.0 651.41L152.5 650.60L152.0 649.80L151.5 649.03L151.0 648.28L150.5 647.56L150.0 646.86L149.5 646.19L149.0 645.55L148.5 644.95L148.0 644.38L147.5 643.85L147.0 643.37L146.5 642.92L146.0 642.52L145.5 642.16L145.0 641.85L144.5 641.60L144.0 641.39L143.5 641.25L143.0 641.16L142.5 641.13L142.0 641.15L141.5 641.24L141.0 641.38L140.5 641.57L140.0 641.81L139.5 642.09L139.0 642.43L138.5 642.80L138.0 643.22L137.5 643.68L137.0 644.18L136.5 644.72L136.0 645.28L135.5 645.88L135.0 646.52L134.5 647.18L134.0 647.86L133.5 648.57L133.0 649.30L132.5 650.06L132.0 650.83L131.5 651.62L131.0 652.42L130.5 653.24L130.0 654.06L129.5 654.90L129.0 655.74L128.5 656.59L128.0 657.44L127.5 658.29L127.0 659.14L126.5 659.98L126.0 660.83L125.5 661.66L125.0 662.49L124.5 663.30L124.0 664.11L123.5 664.89L123.0 665.67L122.5 666.42L122.0 667.15L121.5 667.86L121.0 668.55L120.5 669.21L120.0 669.84L119.5 670.44L119.0 671.01L118.5 671.54L118.0 672.04L117.5 672.50L117.0 672.92L116.5 673.30L116.0 673.63L115.5 673.92L115.0 674.16L114.5 674.35L114.0 674.49L113.5 674.57L113.0 674.60L112.5 674.60L112.0 674.60L111.5 674.60L111.0 674.60L110.5 674.60L110.0 674.60L109.5 674.60L109.0 674.60L108.5 674.60L108.0 674.60L107.5 674.60L107.0 674.60L106.5 674.60L106.0 674.60L105.5 674.60L105.0 674.60L104.5 674.60L104.0 674.60L103.5 674.60L103.0 674.60L102.5 674.60L102.0 674.60L101.5 674.60L101.0 674.60L100.5 674.60L100.0 674.60L99.5 674.60L99.0 674.60L98.5 674.60L98.0 674.60L97.5 674.60L97.0 674.60L96.5 674.60L96.0 674.60L95.5 674.60L95.0 674.60L94.5 674.60L94.0 674.60L93.5 674.60L93.0 674.60L92.5 674.60L92.0 674.60L91.5 674.60L91.0 674.60L90.5 674.60L90.0 674.60L89.5 674.60L89.0 674.60L88.5 674.60L88.0 674.60L87.5 674.60L87.0 674.60L86.5 674.60L86.0 674.60L85.5 674.60L85.0 674.60L84.5 674.60L84.0 674.60L83.5 674.60L83.0 674.60L82.5 674.60L82.0 674.60L81.5 674.60L81.0 674.60L80.5 674.60L80.0 674.60L79.5 674.60L79.0 674.60L78.5 674.60L78.0 674.60L77.5 674.60L77.0 674.60L76.5 674.60L76.0 674.60L75.5 674.57L75.0 674.48L74.5 674.34L74.0 674.14L73.5 673.89L73.0 673.59L72.5 673.24L72.0 672.85L71.5 672.41L71.0 671.93L70.5 671.42L70.0 670.86L69.5 670.28L69.0 669.65L68.5 669.00L68.0 668.32L67.5 667.62L67.0 666.88L66.5 666.13L66.0 665.36L65.5 664.56L65.0 663.76L64.5 662.94L64.0 662.10L63.5 661.26L63.0 660.41L62.5 659.56L62.0 658.70L61.5 657.84L61.0 656.98L60.5 656.12L60.0 655.27L59.5 654.43L59.0 653.60L58.5 652.78L58.0 651.97L57.5 651.18L57.0 650.40L56.5 649.65L56.0 648.92L55.5 648.21L55.0 647.53L54.5 646.88L54.0 646.26L53.5 645.67L53.0 645.12L52.5 644.60L52.0 644.12L51.5 643.69L51.0 643.29L50.5 642.95L50.0 642.65L49.5 642.40L49.0 642.20L48.5 642.05L48.0 641.97L47.5 641.94L47.0 641.90L46.5 641.86L46.0 641.82Z" fill="#21a34a"/>
<path d="M47.0 639.38L47.5 639.34L48.0 639.32L48.5 639.23L49.0 639.10L49.5 638.91L50.0 638.68L50.5 638.40L51.0 638.07L51.5 637.70L52.0 637.29L52.5 636.84L53.0 636.36L53.5 635.84L54.0 635.28L54.5 634.70L55.0 634.09L55.5 633.45L56.0 632.79L56.5 632.10L57.0 631.39L57.5 630.66L58.0 629.92L58.5 629.16L59.0 628.39L59.5 627.61L60.0 626.82L60.5 626.02L61.0 625.22L61.5 624.41L62.0 623.60L62.5 622.80L63.0 621.99L63.5 621.19L64.0 620.40L64.5 619.62L65.0 618.85L65.5 618.09L66.0 617.35L66.5 616.62L67.0 615.91L67.5 615.23L68.0 614.56L68.5 613.92L69.0 613.31L69.5 612.73L70.0 612.17L70.5 611.65L71.0 611.17L71.5 610.72L72.0 610.31L72.5 609.94L73.0 609.61L73.5 609.33L74.0 609.10L74.5 608.91L75.0 608.78L75.5 608.69L76.0 608.67L76.5 608.67L77.0 608.67L77.5 608.67L78.0 608.67L78.5 608.67L79.0 608.67L79.5 608.67L80.0 608.67L80.5 608.67L81.0 608.67L81.5 608.67L82.0 608.67L82.5 608.67L83.0 608.67L83.5 608.67L84.0 608.67L84.5 608.67L85.0 608.67L85.5 608.67L86.0 608.67L86.5 608.67L87.0 608.67L87.5 608.67L88.0 608.67L88.5 608.67L89.0 608.67L89.5 608.67L90.0 608.67L90.5 608.67L91.0 608.67L91.5 608.67L92.0 608.67L92.5 608.67L93.0 608.67L93.5 608.67L94.0 608.67L94.5 608.67L95.0 608.67L95.5 608.67L96.0 608.67L96.5 608.67L97.0 608.67L97.5 608.67L98.0 608.67L98.5 608.67L99.0 608.67L99.5 608.67L100.0 608.67L100.5 608.67L101.0 608.67L101.5 608.67L102.0 608.67L102.5 608.67L103.0 608.67L103.5 608.67L104.0 608.67L104.5 608.67L105.0 608.67L105.5 608.67L106.0 608.67L106.5 608.67L107.0 608.67L107.5 608.67L108.0 608.67L108.5 608.67L109.0 608.67L109.5 608.67L110.0 608.67L110.5 608.67L111.0 608.67L111.5 609.17L112.0 609.67L112.5 610.20L113.0 610.76L113.5 611.35L114.0 611.96L114.5 612.59L115.0 613.25L115.5 613.93L116.0 614.62L116.5 615.34L117.0 616.07L117.5 616.82L118.0 617.58L118.5 618.35L119.0 619.13L119.5 619.93L120.0 620.73L120.5 621.54L121.0 622.35L121.5 623.17L122.0 623.99L122.5 624.81L123.0 625.64L123.5 626.46L124.0 627.27L124.5 628.08L125.0 628.89L125.5 629.69L126.0 630.48L126.5 631.26L127.0 632.03L127.5 632.78L128.0 633.53L128.5 634.25L129.0 634.96L129.5 635.65L130.0 636.32L130.5 636.96L131.0 637.59L131.5 638.19L132.0 638.77L132.5 639.31L133.0 639.83L133.5 640.32L133.8 640.60L133.8 640.60L133.5 640.88L133.0 641.37L132.5 641.89L132.0 642.43L131.5 643.01L131.0 643.61L130.5 644.24L130.0 644.88L129.5 645.55L129.0 646.24L128.5 646.95L128.0 647.67L127.5 648.42L127.0 649.17L126.5 649.94L126.0 650.72L125.5 651.51L125.0 652.31L124.5 653.12L124.0 653.93L123.5 654.74L123.0 655.56L122.5 656.39L122.0 657.21L121.5 658.03L121.0 658.85L120.5 659.66L120.0 660.47L119.5 661.27L119.0 662.07L118.5 662.85L118.0 663.62L117.5 664.38L117.0 665.13L116.5 665.86L116.0 666.58L115.5 667.27L115.0 667.95L114.5 668.61L114.0 669.24L113.5 669.85L113.0 670.44L112.5 671.00L112.0 671.53L111.5 672.03L111.0 672.53L110.5 672.53L110.0 672.53L109.5 672.53L109.0 672.53L108.5 672.53L108.0 672.53L107.5 672.53L107.0 672.53L106.5 672.53L106.0 672.53L105.5 672.53L105.0 672.53L104.5 672.53L104.0 672.53L103.5 672.53L103.0 672.53L102.5 672.53L102.0 672.53L101.5 672.53L101.0 672.53L100.5 672.53L100.0 672.53L99.5 672.53L99.0 672.53L98.5 672.53L98.0 672.53L97.5 672.53L97.0 672.53L96.5 672.53L96.0 672.53L95.5 672.53L95.0 672.53L94.5 672.53L94.0 672.53L93.5 672.53L93.0 672.53L92.5 672.53L92.0 672.53L91.5 672.53L91.0 672.53L90.5 672.53L90.0 672.53L89.5 672.53L89.0 672.53L88.5 672.53L88.0 672.53L87.5 672.53L87.0 672.53L86.5 672.53L86.0 672.53L85.5 672.53L85.0 672.53L84.5 672.53L84.0 672.53L83.5 672.53L83.0 672.53L82.5 672.53L82.0 672.53L81.5 672.53L81.0 672.53L80.5 672.53L80.0 672.53L79.5 672.53L79.0 672.53L78.5 672.53L78.0 672.53L77.5 672.53L77.0 672.53L76.5 672.53L76.0 672.53L75.5 672.51L75.0 672.42L74.5 672.29L74.0 672.10L73.5 671.87L73.0 671.59L72.5 671.26L72.0 670.89L71.5 670.48L71.0 670.03L70.5 669.55L70.0 669.03L69.5 668.47L69.0 667.89L68.5 667.28L68.0 666.64L67.5 665.97L67.0 665.29L66.5 664.58L66.0 663.85L65.5 663.11L65.0 662.35L64.5 661.58L64.0 660.80L63.5 660.01L63.0 659.21L62.5 658.40L62.0 657.60L61.5 656.79L61.0 655.98L60.5 655.18L60.0 654.38L59.5 653.59L59.0 652.81L58.5 652.04L58.0 651.28L57.5 650.54L57.0 649.81L56.5 649.10L56.0 648.41L55.5 647.75L55.0 647.11L54.5 646.50L54.0 645.92L53.5 645.36L53.0 644.84L52.5 644.36L52.0 643.91L51.5 643.50L51.0 643.13L50.5 642.80L50.0 642.52L49.5 642.29L49.0 642.10L48.5 641.97L48.0 641.88L47.5 641.86L47.0 641.82Z" fill="#fdd30a"/>
<text x="93.20" y="636.80" font-size="7.0" text-anchor="middle" fill="#2a2a22" stroke="#2a2a22">TP53 p.R175H</text>
<text x="93.20" y="644.95" font-size="7.0" text-anchor="middle" fill="#2a2a22" stroke="#2a2a22">Low hypodiploidy</text>
<text x="93.20" y="653.10" font-size="7.0" text-anchor="middle" fill="#2a2a22" stroke="#2a2a22">TET2 p.P612fs</text>
<text x="177.20" y="642.90" font-size="7.0" text-anchor="middle" fill="#eefbea" stroke="#eefbea">TP53 p.R175H</text>
<text x="95.20" y="686.80" font-size="7.0" text-anchor="middle" fill="#242424" stroke="#242424">Diagnosis</text>
<text x="187.20" y="686.80" font-size="7.0" text-anchor="middle" fill="#242424" stroke="#242424">Remission</text>
<text x="227.00" y="598.20" font-size="7.0" fill="#242424" stroke="#242424">EI_046</text>
<rect x="226.30" y="602.00" width="200.70" height="77.50" fill="#fff" stroke="#858585" stroke-width="0.55"/>
<path d="M233.0 640.25L233.5 640.25L234.0 640.25L234.5 640.25L235.0 640.25L235.5 640.25L236.0 640.24L236.5 640.24L237.0 640.24L237.5 640.23L238.0 640.23L238.5 640.22L239.0 640.22L239.5 640.21L240.0 640.21L240.5 640.20L241.0 640.19L241.5 640.18L242.0 640.17L242.5 640.16L243.0 640.15L243.5 640.14L244.0 640.13L244.5 640.12L245.0 640.11L245.5 640.09L246.0 640.08L246.5 640.06L247.0 640.05L247.5 640.03L248.0 640.01L248.5 640.00L249.0 639.98L249.5 639.96L250.0 639.94L250.5 639.92L251.0 639.90L251.5 639.88L252.0 639.85L252.5 639.83L253.0 639.81L253.5 639.78L254.0 639.75L254.5 639.73L255.0 639.70L255.5 639.67L256.0 639.65L256.5 639.62L257.0 639.59L257.5 639.55L258.0 639.52L258.5 639.49L259.0 639.46L259.5 639.42L260.0 639.39L260.5 639.35L261.0 639.32L261.5 639.28L262.0 639.24L262.5 639.20L263.0 639.16L263.5 639.12L264.0 639.09L264.5 639.04L265.0 638.92L265.5 638.74L266.0 638.51L266.5 638.22L267.0 637.88L267.5 637.49L268.0 637.05L268.5 636.57L269.0 636.04L269.5 635.47L270.0 634.87L270.5 634.23L271.0 633.55L271.5 632.84L272.0 632.11L272.5 631.34L273.0 630.55L273.5 629.74L274.0 628.91L274.5 628.07L275.0 627.20L275.5 626.32L276.0 625.44L276.5 624.54L277.0 623.64L277.5 622.73L278.0 621.82L278.5 620.91L279.0 620.00L279.5 619.10L280.0 618.21L280.5 617.32L281.0 616.45L281.5 615.59L282.0 614.75L282.5 613.93L283.0 613.13L283.5 612.35L284.0 611.60L284.5 610.87L285.0 610.18L285.5 609.51L286.0 608.89L286.5 608.30L287.0 607.74L287.5 607.23L288.0 606.77L288.5 606.35L289.0 605.98L289.5 605.66L290.0 605.39L290.5 605.18L291.0 605.03L291.5 604.93L292.0 604.90L292.5 604.90L293.0 604.90L293.5 604.90L294.0 604.90L294.5 604.90L295.0 604.90L295.5 604.90L296.0 604.90L296.5 604.90L297.0 604.90L297.5 604.90L298.0 604.90L298.5 604.90L299.0 604.90L299.5 604.90L300.0 604.90L300.5 604.90L301.0 604.90L301.5 604.90L302.0 604.90L302.5 604.90L303.0 604.90L303.5 604.90L304.0 604.90L304.5 604.90L305.0 604.90L305.5 604.90L306.0 604.90L306.5 604.90L307.0 604.90L307.5 604.90L308.0 604.90L308.5 604.90L309.0 604.90L309.5 604.90L310.0 604.90L310.5 604.90L311.0 604.90L311.5 604.90L312.0 604.90L312.5 604.90L313.0 604.90L313.5 604.90L314.0 604.90L314.5 604.90L315.0 604.90L315.5 604.90L316.0 604.90L316.5 604.90L317.0 604.90L317.5 604.90L318.0 604.90L318.5 604.90L319.0 604.90L319.5 604.90L320.0 604.90L320.5 604.90L321.0 604.90L321.5 604.90L322.0 604.90L322.5 604.90L323.0 604.90L323.5 604.90L324.0 604.90L324.5 604.90L325.0 604.90L325.5 604.90L326.0 604.90L326.5 604.90L327.0 604.90L327.5 604.90L328.0 604.90L328.5 604.90L329.0 604.90L329.5 604.90L330.0 604.93L330.5 605.03L331.0 605.19L331.5 605.41L332.0 605.69L332.5 606.02L333.0 606.41L333.5 606.84L334.0 607.32L334.5 607.85L335.0 608.43L335.5 609.04L336.0 609.69L336.5 610.38L337.0 611.10L337.5 611.85L338.0 612.63L338.5 613.44L339.0 614.27L339.5 615.12L340.0 615.99L340.5 616.88L341.0 617.78L341.5 618.70L342.0 619.62L342.5 620.55L343.0 621.49L343.5 622.42L344.0 623.36L344.5 624.30L345.0 625.23L345.5 626.15L346.0 627.07L346.5 627.97L347.0 628.86L347.5 629.73L348.0 630.58L348.5 631.41L349.0 632.22L349.5 633.00L350.0 633.75L350.5 634.47L351.0 635.16L351.5 635.81L352.0 636.42L352.5 637.00L353.0 637.53L353.5 638.01L354.0 638.44L354.5 638.83L355.0 639.16L355.5 639.44L356.0 639.66L356.5 639.82L357.0 639.92L357.5 639.95L358.0 639.92L358.5 639.82L359.0 639.67L359.5 639.46L360.0 639.19L360.5 638.87L361.0 638.49L361.5 638.07L362.0 637.60L362.5 637.09L363.0 636.54L363.5 635.94L364.0 635.31L364.5 634.65L365.0 633.95L365.5 633.22L366.0 632.46L366.5 631.67L367.0 630.86L367.5 630.03L368.0 629.18L368.5 628.32L369.0 627.44L369.5 626.54L370.0 625.64L370.5 624.73L371.0 623.81L371.5 622.89L372.0 621.96L372.5 621.04L373.0 620.12L373.5 619.21L374.0 618.31L374.5 617.41L375.0 616.53L375.5 615.67L376.0 614.82L376.5 613.99L377.0 613.18L377.5 612.39L378.0 611.63L378.5 610.90L379.0 610.20L379.5 609.54L380.0 608.91L380.5 608.31L381.0 607.76L381.5 607.25L382.0 606.78L382.5 606.36L383.0 605.98L383.5 605.66L384.0 605.39L384.5 605.18L385.0 605.03L385.5 604.93L386.0 604.90L386.5 604.90L387.0 604.90L387.5 604.90L388.0 604.90L388.5 604.90L389.0 604.90L389.5 604.90L390.0 604.90L390.5 604.90L391.0 604.90L391.5 604.90L392.0 604.90L392.5 604.90L393.0 604.90L393.5 604.90L394.0 604.90L394.5 604.90L395.0 604.90L395.5 604.90L396.0 604.90L396.5 604.90L397.0 604.90L397.5 604.90L398.0 604.90L398.5 604.90L399.0 604.90L399.5 604.90L400.0 604.90L400.5 604.90L401.0 604.90L401.5 604.90L402.0 604.90L402.5 604.90L403.0 604.90L403.5 604.90L404.0 604.90L404.5 604.90L405.0 604.90L405.5 604.90L406.0 604.90L406.5 604.90L407.0 604.90L407.5 604.90L408.0 604.90L408.5 604.90L409.0 604.90L409.5 604.90L410.0 604.90L410.5 604.90L411.0 604.90L411.5 604.90L412.0 604.90L412.5 604.90L413.0 604.90L413.5 604.90L414.0 604.90L414.5 604.90L415.0 604.90L415.5 604.90L416.0 604.90L416.5 604.90L417.0 604.90L417.5 604.90L418.0 604.90L418.5 604.90L419.0 604.90L419.5 604.90L420.0 604.90L420.0 676.10L419.5 676.10L419.0 676.10L418.5 676.10L418.0 676.10L417.5 676.10L417.0 676.10L416.5 676.10L416.0 676.10L415.5 676.10L415.0 676.10L414.5 676.10L414.0 676.10L413.5 676.10L413.0 676.10L412.5 676.10L412.0 676.10L411.5 676.10L411.0 676.10L410.5 676.10L410.0 676.10L409.5 676.10L409.0 676.10L408.5 676.10L408.0 676.10L407.5 676.10L407.0 676.10L406.5 676.10L406.0 676.10L405.5 676.10L405.0 676.10L404.5 676.10L404.0 676.10L403.5 676.10L403.0 676.10L402.5 676.10L402.0 676.10L401.5 676.10L401.0 676.10L400.5 676.10L400.0 676.10L399.5 676.10L399.0 676.10L398.5 676.10L398.0 676.10L397.5 676.10L397.0 676.10L396.5 676.10L396.0 676.10L395.5 676.10L395.0 676.10L394.5 676.10L394.0 676.10L393.5 676.10L393.0 676.10L392.5 676.10L392.0 676.10L391.5 676.10L391.0 676.10L390.5 676.10L390.0 676.10L389.5 676.10L389.0 676.10L388.5 676.10L388.0 676.10L387.5 676.10L387.0 676.10L386.5 676.10L386.0 676.10L385.5 676.07L385.0 675.97L384.5 675.82L384.0 675.61L383.5 675.34L383.0 675.02L382.5 674.64L382.0 674.22L381.5 673.75L381.0 673.24L380.5 672.69L380.0 672.09L379.5 671.46L379.0 670.80L378.5 670.10L378.0 669.37L377.5 668.61L377.0 667.82L376.5 667.01L376.0 666.18L375.5 665.33L375.0 664.47L374.5 663.59L374.0 662.69L373.5 661.79L373.0 660.88L372.5 659.96L372.0 659.04L371.5 658.11L371.0 657.19L370.5 656.27L370.0 655.36L369.5 654.46L369.0 653.56L368.5 652.68L368.0 651.82L367.5 650.97L367.0 650.14L366.5 649.33L366.0 648.54L365.5 647.78L365.0 647.05L364.5 646.35L364.0 645.69L363.5 645.06L363.0 644.46L362.5 643.91L362.0 643.40L361.5 642.93L361.0 642.51L360.5 642.13L360.0 641.81L359.5 641.54L359.0 641.33L358.5 641.18L358.0 641.08L357.5 641.05L357.0 641.08L356.5 641.18L356.0 641.34L355.5 641.56L355.0 641.84L354.5 642.17L354.0 642.56L353.5 642.99L353.0 643.47L352.5 644.00L352.0 644.58L351.5 645.19L351.0 645.84L350.5 646.53L350.0 647.25L349.5 648.00L349.0 648.78L348.5 649.59L348.0 650.42L347.5 651.27L347.0 652.14L346.5 653.03L346.0 653.93L345.5 654.85L345.0 655.77L344.5 656.70L344.0 657.64L343.5 658.58L343.0 659.51L342.5 660.45L342.0 661.38L341.5 662.30L341.0 663.22L340.5 664.12L340.0 665.01L339.5 665.88L339.0 666.73L338.5 667.56L338.0 668.37L337.5 669.15L337.0 669.90L336.5 670.62L336.0 671.31L335.5 671.96L335.0 672.57L334.5 673.15L334.0 673.68L333.5 674.16L333.0 674.59L332.5 674.98L332.0 675.31L331.5 675.59L331.0 675.81L330.5 675.97L330.0 676.07L329.5 676.10L329.0 676.10L328.5 676.10L328.0 676.10L327.5 676.10L327.0 676.10L326.5 676.10L326.0 676.10L325.5 676.10L325.0 676.10L324.5 676.10L324.0 676.10L323.5 676.10L323.0 676.10L322.5 676.10L322.0 676.10L321.5 676.10L321.0 676.10L320.5 676.10L320.0 676.10L319.5 676.10L319.0 676.10L318.5 676.10L318.0 676.10L317.5 676.10L317.0 676.10L316.5 676.10L316.0 676.10L315.5 676.10L315.0 676.10L314.5 676.10L314.0 676.10L313.5 676.10L313.0 676.10L312.5 676.10L312.0 676.10L311.5 676.10L311.0 676.10L310.5 676.10L310.0 676.10L309.5 676.10L309.0 676.10L308.5 676.10L308.0 676.10L307.5 676.10L307.0 676.10L306.5 676.10L306.0 676.10L305.5 676.10L305.0 676.10L304.5 676.10L304.0 676.10L303.5 676.10L303.0 676.10L302.5 676.10L302.0 676.10L301.5 676.10L301.0 676.10L300.5 676.10L300.0 676.10L299.5 676.10L299.0 676.10L298.5 676.10L298.0 676.10L297.5 676.10L297.0 676.10L296.5 676.10L296.0 676.10L295.5 676.10L295.0 676.10L294.5 676.10L294.0 676.10L293.5 676.10L293.0 676.10L292.5 676.10L292.0 676.10L291.5 676.07L291.0 675.97L290.5 675.82L290.0 675.61L289.5 675.34L289.0 675.02L288.5 674.65L288.0 674.23L287.5 673.77L287.0 673.26L286.5 672.70L286.0 672.11L285.5 671.49L285.0 670.82L284.5 670.13L284.0 669.40L283.5 668.65L283.0 667.87L282.5 667.07L282.0 666.25L281.5 665.41L281.0 664.55L280.5 663.68L280.0 662.79L279.5 661.90L279.0 661.00L278.5 660.09L278.0 659.18L277.5 658.27L277.0 657.36L276.5 656.46L276.0 655.56L275.5 654.68L275.0 653.80L274.5 652.93L274.0 652.09L273.5 651.26L273.0 650.45L272.5 649.66L272.0 648.89L271.5 648.16L271.0 647.45L270.5 646.77L270.0 646.13L269.5 645.53L269.0 644.96L268.5 644.43L268.0 643.95L267.5 643.51L267.0 643.12L266.5 642.78L266.0 642.49L265.5 642.26L265.0 642.08L264.5 641.96L264.0 641.91L263.5 641.88L263.0 641.84L262.5 641.80L262.0 641.76L261.5 641.72L261.0 641.68L260.5 641.65L260.0 641.61L259.5 641.58L259.0 641.54L258.5 641.51L258.0 641.48L257.5 641.45L257.0 641.41L256.5 641.38L256.0 641.35L255.5 641.33L255.0 641.30L254.5 641.27L254.0 641.25L253.5 641.22L253.0 641.19L252.5 641.17L252.0 641.15L251.5 641.12L251.0 641.10L250.5 641.08L250.0 641.06L249.5 641.04L249.0 641.02L248.5 641.00L248.0 640.99L247.5 640.97L247.0 640.95L246.5 640.94L246.0 640.92L245.5 640.91L245.0 640.89L244.5 640.88L244.0 640.87L243.5 640.86L243.0 640.85L242.5 640.84L242.0 640.83L241.5 640.82L241.0 640.81L240.5 640.80L240.0 640.79L239.5 640.79L239.0 640.78L238.5 640.78L238.0 640.77L237.5 640.77L237.0 640.76L236.5 640.76L236.0 640.76L235.5 640.75L235.0 640.75L234.5 640.75L234.0 640.75L233.5 640.75L233.0 640.75Z" fill="#9b978a"/>
<path d="M233.0 640.25L233.5 640.25L234.0 640.25L234.5 640.25L235.0 640.25L235.5 640.25L236.0 640.24L236.5 640.24L237.0 640.24L237.5 640.23L238.0 640.23L238.5 640.22L239.0 640.22L239.5 640.21L240.0 640.21L240.5 640.20L241.0 640.19L241.5 640.18L242.0 640.17L242.5 640.16L243.0 640.15L243.5 640.14L244.0 640.13L244.5 640.12L245.0 640.11L245.5 640.09L246.0 640.08L246.5 640.06L247.0 640.05L247.5 640.03L248.0 640.01L248.5 640.00L249.0 639.98L249.5 639.96L250.0 639.94L250.5 639.92L251.0 639.90L251.5 639.88L252.0 639.85L252.5 639.83L253.0 639.81L253.5 639.78L254.0 639.75L254.5 639.73L255.0 639.70L255.5 639.67L256.0 639.65L256.5 639.62L257.0 639.59L257.5 639.55L258.0 639.52L258.5 639.49L259.0 639.46L259.5 639.42L260.0 639.39L260.5 639.35L261.0 639.32L261.5 639.28L262.0 639.24L262.5 639.20L263.0 639.16L263.5 639.12L264.0 639.09L264.5 639.04L265.0 638.92L265.5 638.74L265.8 638.61L265.8 642.39L265.5 642.26L265.0 642.08L264.5 641.96L264.0 641.91L263.5 641.88L263.0 641.84L262.5 641.80L262.0 641.76L261.5 641.72L261.0 641.68L260.5 641.65L260.0 641.61L259.5 641.58L259.0 641.54L258.5 641.51L258.0 641.48L257.5 641.45L257.0 641.41L256.5 641.38L256.0 641.35L255.5 641.33L255.0 641.30L254.5 641.27L254.0 641.25L253.5 641.22L253.0 641.19L252.5 641.17L252.0 641.15L251.5 641.12L251.0 641.10L250.5 641.08L250.0 641.06L249.5 641.04L249.0 641.02L248.5 641.00L248.0 640.99L247.5 640.97L247.0 640.95L246.5 640.94L246.0 640.92L245.5 640.91L245.0 640.89L244.5 640.88L244.0 640.87L243.5 640.86L243.0 640.85L242.5 640.84L242.0 640.83L241.5 640.82L241.0 640.81L240.5 640.80L240.0 640.79L239.5 640.79L239.0 640.78L238.5 640.78L238.0 640.77L237.5 640.77L237.0 640.76L236.5 640.76L236.0 640.76L235.5 640.75L235.0 640.75L234.5 640.75L234.0 640.75L233.5 640.75L233.0 640.75Z" fill="#7c7c7c"/>
<path d="M318.0 605.79L318.5 605.79L319.0 605.79L319.5 605.79L320.0 605.79L320.5 605.79L321.0 605.79L321.5 605.79L322.0 605.79L322.5 605.79L323.0 605.79L323.5 605.79L324.0 605.79L324.5 605.79L325.0 605.79L325.5 605.79L326.0 605.79L326.5 605.79L327.0 605.79L327.5 605.79L328.0 605.79L328.5 605.79L329.0 605.79L329.5 605.79L330.0 605.82L330.5 605.92L331.0 606.07L331.5 606.29L332.0 606.56L332.5 606.88L333.0 607.26L333.5 607.68L334.0 608.15L334.5 608.67L335.0 609.23L335.5 609.83L336.0 610.46L336.5 611.13L337.0 611.83L337.5 612.56L338.0 613.33L338.5 614.11L339.0 614.92L339.5 615.75L340.0 616.60L340.5 617.47L341.0 618.35L341.5 619.24L342.0 620.14L342.5 621.05L343.0 621.96L343.5 622.88L344.0 623.79L344.5 624.70L345.0 625.61L345.5 626.51L346.0 627.41L346.5 628.29L347.0 629.15L347.5 630.00L348.0 630.83L348.5 631.64L349.0 632.43L349.5 633.19L350.0 633.92L350.5 634.62L351.0 635.29L351.5 635.93L352.0 636.53L352.5 637.08L353.0 637.60L353.5 638.07L354.0 638.50L354.5 638.87L355.0 639.20L355.5 639.47L356.0 639.68L356.5 639.84L357.0 639.93L357.5 639.96L357.5 641.04L357.0 641.07L356.5 641.16L356.0 641.32L355.5 641.53L355.0 641.80L354.5 642.13L354.0 642.50L353.5 642.93L353.0 643.40L352.5 643.92L352.0 644.47L351.5 645.07L351.0 645.71L350.5 646.38L350.0 647.08L349.5 647.81L349.0 648.57L348.5 649.36L348.0 650.17L347.5 651.00L347.0 651.85L346.5 652.71L346.0 653.59L345.5 654.49L345.0 655.39L344.5 656.30L344.0 657.21L343.5 658.12L343.0 659.04L342.5 659.95L342.0 660.86L341.5 661.76L341.0 662.65L340.5 663.53L340.0 664.40L339.5 665.25L339.0 666.08L338.5 666.89L338.0 667.67L337.5 668.44L337.0 669.17L336.5 669.87L336.0 670.54L335.5 671.17L335.0 671.77L334.5 672.33L334.0 672.85L333.5 673.32L333.0 673.74L332.5 674.12L332.0 674.44L331.5 674.71L331.0 674.93L330.5 675.08L330.0 675.18L329.5 675.21L329.0 675.21L328.5 675.21L328.0 675.21L327.5 675.21L327.0 675.21L326.5 675.21L326.0 675.21L325.5 675.21L325.0 675.21L324.5 675.21L324.0 675.21L323.5 675.21L323.0 675.21L322.5 675.21L322.0 675.21L321.5 675.21L321.0 675.21L320.5 675.21L320.0 675.21L319.5 675.21L319.0 675.21L318.5 675.21L318.0 675.21Z" fill="#21a34a"/>
<path d="M262.0 639.28L262.5 639.24L263.0 639.20L263.5 639.16L264.0 639.13L264.5 639.08L265.0 638.96L265.5 638.79L266.0 638.56L266.5 638.28L267.0 637.95L267.5 637.57L268.0 637.15L268.5 636.68L269.0 636.17L269.5 635.61L270.0 635.03L270.5 634.40L271.0 633.74L271.5 633.06L272.0 632.34L272.5 631.60L273.0 630.83L273.5 630.05L274.0 629.24L274.5 628.41L275.0 627.57L275.5 626.72L276.0 625.86L276.5 624.99L277.0 624.11L277.5 623.23L278.0 622.34L278.5 621.46L279.0 620.58L279.5 619.70L280.0 618.83L280.5 617.97L281.0 617.12L281.5 616.29L282.0 615.47L282.5 614.67L283.0 613.89L283.5 613.14L284.0 612.40L284.5 611.70L285.0 611.02L285.5 610.38L286.0 609.77L286.5 609.20L287.0 608.66L287.5 608.17L288.0 607.71L288.5 607.31L289.0 606.95L289.5 606.63L290.0 606.37L290.5 606.17L291.0 606.02L291.5 605.93L292.0 605.90L292.5 605.90L293.0 605.90L293.5 605.90L294.0 605.90L294.5 605.90L295.0 605.90L295.5 605.90L296.0 605.90L296.5 605.90L297.0 605.90L297.5 605.90L298.0 605.90L298.5 605.90L299.0 605.90L299.5 605.90L300.0 605.90L300.5 605.90L301.0 605.90L301.5 605.90L302.0 605.90L302.5 605.90L303.0 605.90L303.5 605.90L304.0 605.90L304.5 605.90L305.0 605.90L305.5 605.90L306.0 605.90L306.5 605.90L307.0 605.90L307.5 605.90L308.0 605.90L308.5 605.90L309.0 605.90L309.5 605.90L310.0 605.90L310.5 605.90L311.0 605.90L311.5 605.90L312.0 605.90L312.5 605.90L313.0 605.90L313.5 605.90L314.0 605.90L314.5 605.90L315.0 605.90L315.5 605.90L316.0 605.90L316.5 605.90L317.0 605.90L317.5 605.90L318.0 605.90L318.5 605.90L319.0 605.90L319.5 605.90L320.0 605.90L320.5 605.90L321.0 605.90L321.5 605.90L322.0 605.90L322.5 605.90L323.0 605.90L323.5 605.90L324.0 605.90L324.5 605.90L325.0 605.90L325.5 605.90L326.0 605.90L326.5 605.90L327.0 605.90L327.5 606.43L328.0 607.01L328.5 607.61L329.0 608.25L329.5 608.92L330.0 609.62L330.5 610.35L331.0 611.10L331.5 611.88L332.0 612.68L332.5 613.50L333.0 614.34L333.5 615.19L334.0 616.07L334.5 616.95L335.0 617.85L335.5 618.76L336.0 619.67L336.5 620.60L337.0 621.52L337.5 622.45L338.0 623.39L338.5 624.32L339.0 625.25L339.5 626.17L340.0 627.09L340.5 628.01L341.0 628.91L341.5 629.80L342.0 630.69L342.5 631.55L343.0 632.40L343.5 633.23L344.0 634.05L344.5 634.84L345.0 635.60L345.5 636.35L346.0 637.06L346.5 637.75L347.0 638.41L347.5 639.03L348.0 639.63L348.5 640.18L348.8 640.50L348.8 640.50L348.5 640.82L348.0 641.37L347.5 641.97L347.0 642.59L346.5 643.25L346.0 643.94L345.5 644.65L345.0 645.40L344.5 646.16L344.0 646.95L343.5 647.77L343.0 648.60L342.5 649.45L342.0 650.31L341.5 651.20L341.0 652.09L340.5 652.99L340.0 653.91L339.5 654.83L339.0 655.75L338.5 656.68L338.0 657.61L337.5 658.55L337.0 659.48L336.5 660.40L336.0 661.33L335.5 662.24L335.0 663.15L334.5 664.05L334.0 664.93L333.5 665.81L333.0 666.66L332.5 667.50L332.0 668.32L331.5 669.12L331.0 669.90L330.5 670.65L330.0 671.38L329.5 672.08L329.0 672.75L328.5 673.39L328.0 673.99L327.5 674.57L327.0 675.10L326.5 675.10L326.0 675.10L325.5 675.10L325.0 675.10L324.5 675.10L324.0 675.10L323.5 675.10L323.0 675.10L322.5 675.10L322.0 675.10L321.5 675.10L321.0 675.10L320.5 675.10L320.0 675.10L319.5 675.10L319.0 675.10L318.5 675.10L318.0 675.10L317.5 675.10L317.0 675.10L316.5 675.10L316.0 675.10L315.5 675.10L315.0 675.10L314.5 675.10L314.0 675.10L313.5 675.10L313.0 675.10L312.5 675.10L312.0 675.10L311.5 675.10L311.0 675.10L310.5 675.10L310.0 675.10L309.5 675.10L309.0 675.10L308.5 675.10L308.0 675.10L307.5 675.10L307.0 675.10L306.5 675.10L306.0 675.10L305.5 675.10L305.0 675.10L304.5 675.10L304.0 675.10L303.5 675.10L303.0 675.10L302.5 675.10L302.0 675.10L301.5 675.10L301.0 675.10L300.5 675.10L300.0 675.10L299.5 675.10L299.0 675.10L298.5 675.10L298.0 675.10L297.5 675.10L297.0 675.10L296.5 675.10L296.0 675.10L295.5 675.10L295.0 675.10L294.5 675.10L294.0 675.10L293.5 675.10L293.0 675.10L292.5 675.10L292.0 675.10L291.5 675.07L291.0 674.98L290.5 674.83L290.0 674.63L289.5 674.37L289.0 674.05L288.5 673.69L288.0 673.29L287.5 672.83L287.0 672.34L286.5 671.80L286.0 671.23L285.5 670.62L285.0 669.98L284.5 669.30L284.0 668.60L283.5 667.86L283.0 667.11L282.5 666.33L282.0 665.53L281.5 664.71L281.0 663.88L280.5 663.03L280.0 662.17L279.5 661.30L279.0 660.42L278.5 659.54L278.0 658.66L277.5 657.77L277.0 656.89L276.5 656.01L276.0 655.14L275.5 654.28L275.0 653.43L274.5 652.59L274.0 651.76L273.5 650.95L273.0 650.17L272.5 649.40L272.0 648.66L271.5 647.94L271.0 647.26L270.5 646.60L270.0 645.97L269.5 645.39L269.0 644.83L268.5 644.32L268.0 643.85L267.5 643.43L267.0 643.05L266.5 642.72L266.0 642.44L265.5 642.21L265.0 642.04L264.5 641.92L264.0 641.87L263.5 641.84L263.0 641.80L262.5 641.76L262.0 641.72Z" fill="#fdd30a"/>
<path d="M357.5 640.03L358.0 640.00L358.5 639.92L359.0 639.79L359.5 639.60L360.0 639.37L360.5 639.10L361.0 638.77L361.5 638.41L362.0 638.01L362.5 637.57L363.0 637.09L363.5 636.58L364.0 636.04L364.5 635.47L365.0 634.86L365.5 634.24L366.0 633.58L366.5 632.91L367.0 632.21L367.5 631.50L368.0 630.77L368.5 630.02L369.0 629.26L369.5 628.50L370.0 627.72L370.5 626.93L371.0 626.14L371.5 625.35L372.0 624.56L372.5 623.77L373.0 622.98L373.5 622.19L374.0 621.42L374.5 620.65L375.0 619.89L375.5 619.14L376.0 618.41L376.5 617.70L377.0 617.00L377.5 616.33L378.0 615.68L378.5 615.05L379.0 614.45L379.5 613.87L380.0 613.33L380.5 612.82L381.0 612.34L381.5 611.90L382.0 611.50L382.5 611.14L383.0 610.82L383.5 610.54L384.0 610.31L384.5 610.13L385.0 609.99L385.5 609.91L386.0 609.88L386.5 609.88L387.0 609.88L387.5 609.88L388.0 609.88L388.5 609.88L389.0 609.88L389.5 609.88L390.0 609.88L390.5 609.88L391.0 609.88L391.5 609.88L392.0 609.88L392.5 609.88L393.0 609.88L393.5 609.88L394.0 609.88L394.5 609.88L395.0 609.88L395.5 609.88L396.0 609.88L396.5 609.88L397.0 609.88L397.5 609.88L398.0 609.88L398.5 609.88L399.0 609.88L399.5 609.88L400.0 609.88L400.5 609.88L401.0 609.88L401.5 609.88L402.0 609.88L402.5 609.88L403.0 609.88L403.5 609.88L404.0 609.88L404.5 609.88L405.0 609.88L405.5 609.88L406.0 609.88L406.5 609.88L407.0 609.88L407.5 609.88L408.0 609.88L408.5 609.88L409.0 609.88L409.5 609.88L410.0 609.88L410.5 609.88L411.0 609.88L411.5 609.88L412.0 609.88L412.5 609.88L413.0 609.88L413.5 609.88L414.0 609.88L414.5 609.88L415.0 609.88L415.5 609.88L416.0 609.88L416.5 609.88L417.0 609.88L417.5 609.88L418.0 609.88L418.5 609.88L419.0 609.88L419.5 609.88L420.0 609.88L420.0 641.21L419.5 641.21L419.0 641.21L418.5 641.21L418.0 641.21L417.5 641.21L417.0 641.21L416.5 641.21L416.0 641.21L415.5 641.21L415.0 641.21L414.5 641.21L414.0 641.21L413.5 641.21L413.0 641.21L412.5 641.21L412.0 641.21L411.5 641.21L411.0 641.21L410.5 641.21L410.0 641.21L409.5 641.21L409.0 641.21L408.5 641.21L408.0 641.21L407.5 641.21L407.0 641.21L406.5 641.21L406.0 641.21L405.5 641.21L405.0 641.21L404.5 641.21L404.0 641.21L403.5 641.21L403.0 641.21L402.5 641.21L402.0 641.21L401.5 641.21L401.0 641.21L400.5 641.21L400.0 641.21L399.5 641.21L399.0 641.21L398.5 641.21L398.0 641.21L397.5 641.21L397.0 641.21L396.5 641.21L396.0 641.21L395.5 641.21L395.0 641.21L394.5 641.21L394.0 641.21L393.5 641.21L393.0 641.21L392.5 641.21L392.0 641.21L391.5 641.21L391.0 641.21L390.5 641.21L390.0 641.21L389.5 641.21L389.0 641.21L388.5 641.21L388.0 641.21L387.5 641.21L387.0 641.21L386.5 641.21L386.0 641.21L385.5 641.21L385.0 641.21L384.5 641.21L384.0 641.20L383.5 641.20L383.0 641.19L382.5 641.18L382.0 641.17L381.5 641.17L381.0 641.15L380.5 641.14L380.0 641.13L379.5 641.12L379.0 641.11L378.5 641.09L378.0 641.08L377.5 641.06L377.0 641.05L376.5 641.03L376.0 641.01L375.5 641.00L375.0 640.98L374.5 640.96L374.0 640.94L373.5 640.93L373.0 640.91L372.5 640.89L372.0 640.87L371.5 640.85L371.0 640.83L370.5 640.82L370.0 640.80L369.5 640.78L369.0 640.76L368.5 640.74L368.0 640.73L367.5 640.71L367.0 640.69L366.5 640.68L366.0 640.66L365.5 640.65L365.0 640.63L364.5 640.62L364.0 640.60L363.5 640.59L363.0 640.58L362.5 640.57L362.0 640.56L361.5 640.55L361.0 640.54L360.5 640.53L360.0 640.53L359.5 640.52L359.0 640.52L358.5 640.51L358.0 640.51L357.5 640.51Z" fill="#21a34a"/>
<path d="M357.5 640.59L358.0 640.59L358.5 640.60L359.0 640.63L359.5 640.66L360.0 640.70L360.5 640.75L361.0 640.81L361.5 640.88L362.0 640.95L362.5 641.03L363.0 641.11L363.5 641.21L364.0 641.30L364.5 641.41L365.0 641.52L365.5 641.63L366.0 641.75L366.5 641.87L367.0 641.99L367.5 642.12L368.0 642.25L368.5 642.39L369.0 642.53L369.5 642.66L370.0 642.80L370.5 642.95L371.0 643.09L371.5 643.23L372.0 643.37L372.5 643.52L373.0 643.66L373.5 643.80L374.0 643.94L374.5 644.08L375.0 644.21L375.5 644.35L376.0 644.48L376.5 644.61L377.0 644.73L377.5 644.86L378.0 644.97L378.5 645.09L379.0 645.20L379.5 645.30L380.0 645.40L380.5 645.49L381.0 645.58L381.5 645.65L382.0 645.73L382.5 645.79L383.0 645.85L383.5 645.90L384.0 645.94L384.5 645.97L385.0 646.00L385.5 646.01L386.0 646.02L386.5 646.02L387.0 646.02L387.5 646.02L388.0 646.02L388.5 646.02L389.0 646.02L389.5 646.02L390.0 646.02L390.5 646.02L391.0 646.02L391.5 646.02L392.0 646.02L392.5 646.02L393.0 646.02L393.5 646.02L394.0 646.02L394.5 646.02L395.0 646.02L395.5 646.02L396.0 646.02L396.5 646.02L397.0 646.02L397.5 646.02L398.0 646.02L398.5 646.02L399.0 646.02L399.5 646.02L400.0 646.02L400.5 646.02L401.0 646.02L401.5 646.02L402.0 646.02L402.5 646.02L403.0 646.02L403.5 646.02L404.0 646.02L404.5 646.02L405.0 646.02L405.5 646.02L406.0 646.02L406.5 646.02L407.0 646.02L407.5 646.02L408.0 646.02L408.5 646.02L409.0 646.02L409.5 646.02L410.0 646.02L410.5 646.02L411.0 646.02L411.5 646.02L412.0 646.02L412.5 646.02L413.0 646.02L413.5 646.02L414.0 646.02L414.5 646.02L415.0 646.02L415.5 646.02L416.0 646.02L416.5 646.02L417.0 646.02L417.5 646.02L418.0 646.02L418.5 646.02L419.0 646.02L419.5 646.02L420.0 646.02L420.0 668.98L419.5 668.98L419.0 668.98L418.5 668.98L418.0 668.98L417.5 668.98L417.0 668.98L416.5 668.98L416.0 668.98L415.5 668.98L415.0 668.98L414.5 668.98L414.0 668.98L413.5 668.98L413.0 668.98L412.5 668.98L412.0 668.98L411.5 668.98L411.0 668.98L410.5 668.98L410.0 668.98L409.5 668.98L409.0 668.98L408.5 668.98L408.0 668.98L407.5 668.98L407.0 668.98L406.5 668.98L406.0 668.98L405.5 668.98L405.0 668.98L404.5 668.98L404.0 668.98L403.5 668.98L403.0 668.98L402.5 668.98L402.0 668.98L401.5 668.98L401.0 668.98L400.5 668.98L400.0 668.98L399.5 668.98L399.0 668.98L398.5 668.98L398.0 668.98L397.5 668.98L397.0 668.98L396.5 668.98L396.0 668.98L395.5 668.98L395.0 668.98L394.5 668.98L394.0 668.98L393.5 668.98L393.0 668.98L392.5 668.98L392.0 668.98L391.5 668.98L391.0 668.98L390.5 668.98L390.0 668.98L389.5 668.98L389.0 668.98L388.5 668.98L388.0 668.98L387.5 668.98L387.0 668.98L386.5 668.98L386.0 668.98L385.5 668.95L385.0 668.88L384.5 668.76L384.0 668.59L383.5 668.37L383.0 668.11L382.5 667.82L382.0 667.48L381.5 667.10L381.0 666.69L380.5 666.25L380.0 665.77L379.5 665.27L379.0 664.74L378.5 664.18L378.0 663.59L377.5 662.99L377.0 662.36L376.5 661.71L376.0 661.05L375.5 660.37L375.0 659.67L374.5 658.97L374.0 658.25L373.5 657.53L373.0 656.80L372.5 656.07L372.0 655.33L371.5 654.59L371.0 653.85L370.5 653.12L370.0 652.39L369.5 651.67L369.0 650.95L368.5 650.25L368.0 649.55L367.5 648.87L367.0 648.21L366.5 647.56L366.0 646.93L365.5 646.33L365.0 645.74L364.5 645.18L364.0 644.65L363.5 644.15L363.0 643.67L362.5 643.23L362.0 642.82L361.5 642.44L361.0 642.10L360.5 641.81L360.0 641.55L359.5 641.33L359.0 641.16L358.5 641.04L358.0 640.97L357.5 640.94Z" fill="#3f9f9b"/>
<path d="M357.5 640.61L358.0 640.61L358.5 640.63L359.0 640.66L359.5 640.70L360.0 640.76L360.5 640.82L361.0 640.89L361.5 640.97L362.0 641.06L362.5 641.16L363.0 641.27L363.5 641.39L364.0 641.51L364.5 641.64L365.0 641.78L365.5 641.92L366.0 642.07L366.5 642.22L367.0 642.38L367.5 642.54L368.0 642.71L368.5 642.88L369.0 643.05L369.5 643.22L370.0 643.40L370.5 643.58L371.0 643.76L371.5 643.93L372.0 644.11L372.5 644.29L373.0 644.47L373.5 644.65L374.0 644.83L374.5 645.00L375.0 645.17L375.5 645.34L376.0 645.51L376.5 645.67L377.0 645.83L377.5 645.98L378.0 646.13L378.5 646.27L379.0 646.41L379.5 646.54L380.0 646.66L380.5 646.78L381.0 646.88L381.5 646.98L382.0 647.08L382.5 647.16L383.0 647.23L383.5 647.29L384.0 647.35L384.5 647.39L385.0 647.42L385.5 647.44L386.0 647.44L386.5 647.44L387.0 647.44L387.5 647.44L388.0 647.44L388.5 647.44L389.0 647.44L389.5 647.44L390.0 647.44L390.5 647.44L391.0 647.44L391.5 647.44L392.0 647.44L392.5 647.44L393.0 647.44L393.5 647.44L394.0 647.44L394.5 647.44L395.0 647.44L395.5 647.44L396.0 647.44L396.5 647.44L397.0 647.44L397.5 647.44L398.0 647.44L398.5 647.44L399.0 647.44L399.5 647.44L400.0 647.44L400.5 647.44L401.0 647.44L401.5 647.44L402.0 647.44L402.5 647.44L403.0 647.44L403.5 647.44L404.0 647.44L404.5 647.44L405.0 647.44L405.5 647.44L406.0 647.44L406.5 647.44L407.0 647.44L407.5 647.44L408.0 647.44L408.5 647.44L409.0 647.44L409.5 647.44L410.0 647.44L410.5 647.44L411.0 647.44L411.5 647.44L412.0 647.44L412.5 647.44L413.0 647.44L413.5 647.44L414.0 647.44L414.5 647.44L415.0 647.44L415.5 647.44L416.0 647.44L416.5 647.44L417.0 647.44L417.5 647.44L418.0 647.44L418.5 647.44L419.0 647.44L419.5 647.44L420.0 647.44L420.0 667.73L419.5 667.73L419.0 667.73L418.5 667.73L418.0 667.73L417.5 667.73L417.0 667.73L416.5 667.73L416.0 667.73L415.5 667.73L415.0 667.73L414.5 667.73L414.0 667.73L413.5 667.73L413.0 667.73L412.5 667.73L412.0 667.73L411.5 667.73L411.0 667.73L410.5 667.73L410.0 667.73L409.5 667.73L409.0 667.73L408.5 667.73L408.0 667.73L407.5 667.73L407.0 667.73L406.5 667.73L406.0 667.73L405.5 667.73L405.0 667.73L404.5 667.73L404.0 667.73L403.5 667.73L403.0 667.73L402.5 667.73L402.0 667.73L401.5 667.73L401.0 667.73L400.5 667.73L400.0 667.73L399.5 667.73L399.0 667.73L398.5 667.73L398.0 667.73L397.5 667.73L397.0 667.73L396.5 667.73L396.0 667.73L395.5 667.73L395.0 667.73L394.5 667.73L394.0 667.73L393.5 667.73L393.0 667.73L392.5 667.73L392.0 667.73L391.5 667.73L391.0 667.73L390.5 667.73L390.0 667.73L389.5 667.73L389.0 667.73L388.5 667.73L388.0 667.73L387.5 667.73L387.0 667.73L386.5 667.73L386.0 667.73L385.5 667.71L385.0 667.64L384.5 667.52L384.0 667.36L383.5 667.15L383.0 666.91L382.5 666.62L382.0 666.30L381.5 665.94L381.0 665.55L380.5 665.12L380.0 664.67L379.5 664.19L379.0 663.68L378.5 663.14L378.0 662.58L377.5 662.00L377.0 661.40L376.5 660.78L376.0 660.15L375.5 659.50L375.0 658.83L374.5 658.16L374.0 657.48L373.5 656.78L373.0 656.09L372.5 655.38L372.0 654.68L371.5 653.97L371.0 653.27L370.5 652.57L370.0 651.87L369.5 651.18L369.0 650.49L368.5 649.82L368.0 649.16L367.5 648.51L367.0 647.87L366.5 647.25L366.0 646.65L365.5 646.07L365.0 645.51L364.5 644.98L364.0 644.47L363.5 643.99L363.0 643.53L362.5 643.11L362.0 642.72L361.5 642.36L361.0 642.03L360.5 641.75L360.0 641.50L359.5 641.30L359.0 641.14L358.5 641.02L358.0 640.95L357.5 640.92Z" fill="#f0513a"/>
<text x="308.20" y="638.90" font-size="7.0" text-anchor="middle" fill="#2a2a22" stroke="#2a2a22">TP53 p.R248Q</text>
<text x="308.20" y="648.00" font-size="7.0" text-anchor="middle" fill="#2a2a22" stroke="#2a2a22">Low hypodiploidy</text>
<text x="396.30" y="633.20" font-size="7.0" text-anchor="middle" fill="#eefbea" stroke="#eefbea">TP53 p.R248Q</text>
<text x="400.60" y="657.40" font-size="7.0" text-anchor="middle" fill="#fdeee9" stroke="#fdeee9">JAK2hom</text>
<text x="400.60" y="665.60" font-size="7.0" text-anchor="middle" fill="#fdeee9" stroke="#fdeee9">p.V617F</text>
<text x="357.60" y="667.40" font-size="7.0" text-anchor="middle" fill="#242424" stroke="#242424">JAK2het</text>
<text x="357.60" y="676.20" font-size="7.0" text-anchor="middle" fill="#242424" stroke="#242424">p.V617F</text>
<path d="M371.3 666.8L382.6 670.8" stroke="#444" stroke-width="0.6" fill="none"/>
<text x="311.30" y="686.80" font-size="7.0" text-anchor="middle" fill="#242424" stroke="#242424">Diagnosis</text>
<text x="403.20" y="686.80" font-size="7.0" text-anchor="middle" fill="#242424" stroke="#242424">Remission</text>
<text x="119.40" y="787.60" font-size="7.0" fill="#242424" stroke="#242424">EI_035</text>
<rect x="118.80" y="791.70" width="201.20" height="77.10" fill="#fff" stroke="#858585" stroke-width="0.55"/>
<path d="M125.0 829.95L125.5 829.95L126.0 829.95L126.5 829.95L127.0 829.95L127.5 829.95L128.0 829.94L128.5 829.94L129.0 829.94L129.5 829.94L130.0 829.93L130.5 829.93L131.0 829.92L131.5 829.92L132.0 829.91L132.5 829.90L133.0 829.90L133.5 829.89L134.0 829.88L134.5 829.87L135.0 829.86L135.5 829.85L136.0 829.84L136.5 829.83L137.0 829.82L137.5 829.81L138.0 829.80L138.5 829.78L139.0 829.77L139.5 829.76L140.0 829.74L140.5 829.72L141.0 829.71L141.5 829.69L142.0 829.67L142.5 829.66L143.0 829.64L143.5 829.62L144.0 829.60L144.5 829.58L145.0 829.55L145.5 829.53L146.0 829.51L146.5 829.49L147.0 829.46L147.5 829.44L148.0 829.41L148.5 829.39L149.0 829.36L149.5 829.33L150.0 829.30L150.5 829.28L151.0 829.25L151.5 829.22L152.0 829.19L152.5 829.15L153.0 829.12L153.5 829.09L154.0 829.05L154.5 829.02L155.0 828.99L155.5 828.95L156.0 828.91L156.5 828.88L157.0 828.84L157.5 828.80L158.0 828.77L158.5 828.66L159.0 828.50L159.5 828.27L160.0 827.98L160.5 827.64L161.0 827.24L161.5 826.79L162.0 826.29L162.5 825.74L163.0 825.15L163.5 824.52L164.0 823.85L164.5 823.15L165.0 822.41L165.5 821.64L166.0 820.84L166.5 820.01L167.0 819.16L167.5 818.29L168.0 817.41L168.5 816.50L169.0 815.59L169.5 814.66L170.0 813.73L170.5 812.79L171.0 811.85L171.5 810.91L172.0 809.97L172.5 809.04L173.0 808.11L173.5 807.20L174.0 806.29L174.5 805.41L175.0 804.54L175.5 803.69L176.0 802.86L176.5 802.06L177.0 801.29L177.5 800.55L178.0 799.85L178.5 799.18L179.0 798.55L179.5 797.96L180.0 797.41L180.5 796.91L181.0 796.46L181.5 796.06L182.0 795.72L182.5 795.43L183.0 795.20L183.5 795.04L184.0 794.93L184.5 794.90L185.0 794.90L185.5 794.90L186.0 794.90L186.5 794.90L187.0 794.90L187.5 794.90L188.0 794.90L188.5 794.90L189.0 794.90L189.5 794.90L190.0 794.90L190.5 794.90L191.0 794.90L191.5 794.90L192.0 794.90L192.5 794.90L193.0 794.90L193.5 794.90L194.0 794.90L194.5 794.90L195.0 794.90L195.5 794.90L196.0 794.90L196.5 794.90L197.0 794.90L197.5 794.90L198.0 794.90L198.5 794.90L199.0 794.90L199.5 794.90L200.0 794.90L200.5 794.90L201.0 794.90L201.5 794.90L202.0 794.90L202.5 794.90L203.0 794.90L203.5 794.90L204.0 794.90L204.5 794.90L205.0 794.90L205.5 794.90L206.0 794.90L206.5 794.90L207.0 794.90L207.5 794.90L208.0 794.90L208.5 794.90L209.0 794.90L209.5 794.90L210.0 794.90L210.5 794.90L211.0 794.90L211.5 794.90L212.0 794.90L212.5 794.90L213.0 794.90L213.5 794.90L214.0 794.90L214.5 794.90L215.0 794.90L215.5 794.90L216.0 794.90L216.5 794.90L217.0 794.90L217.5 794.90L218.0 794.90L218.5 794.90L219.0 794.90L219.5 794.90L220.0 794.90L220.5 794.90L221.0 794.90L221.5 794.90L222.0 794.90L222.5 794.93L223.0 795.03L223.5 795.19L224.0 795.41L224.5 795.68L225.0 796.01L225.5 796.39L226.0 796.82L226.5 797.30L227.0 797.83L227.5 798.40L228.0 799.00L228.5 799.65L229.0 800.33L229.5 801.04L230.0 801.79L230.5 802.56L231.0 803.36L231.5 804.19L232.0 805.03L232.5 805.90L233.0 806.78L233.5 807.67L234.0 808.58L234.5 809.49L235.0 810.42L235.5 811.34L236.0 812.28L236.5 813.21L237.0 814.13L237.5 815.06L238.0 815.97L238.5 816.88L239.0 817.77L239.5 818.65L240.0 819.52L240.5 820.36L241.0 821.19L241.5 821.99L242.0 822.76L242.5 823.51L243.0 824.22L243.5 824.90L244.0 825.55L244.5 826.15L245.0 826.72L245.5 827.25L246.0 827.73L246.5 828.16L247.0 828.54L247.5 828.87L248.0 829.14L248.5 829.36L249.0 829.52L249.5 829.62L250.0 829.65L250.5 829.61L251.0 829.51L251.5 829.34L252.0 829.11L252.5 828.81L253.0 828.46L253.5 828.05L254.0 827.59L254.5 827.08L255.0 826.52L255.5 825.91L256.0 825.26L256.5 824.58L257.0 823.85L257.5 823.10L258.0 822.31L258.5 821.49L259.0 820.64L259.5 819.77L260.0 818.88L260.5 817.97L261.0 817.05L261.5 816.11L262.0 815.16L262.5 814.20L263.0 813.24L263.5 812.28L264.0 811.31L264.5 810.35L265.0 809.39L265.5 808.44L266.0 807.50L266.5 806.58L267.0 805.67L267.5 804.78L268.0 803.91L268.5 803.06L269.0 802.24L269.5 801.45L270.0 800.70L270.5 799.97L271.0 799.29L271.5 798.64L272.0 798.03L272.5 797.47L273.0 796.96L273.5 796.50L274.0 796.09L274.5 795.74L275.0 795.44L275.5 795.21L276.0 795.04L276.5 794.94L277.0 794.90L277.5 794.90L278.0 794.90L278.5 794.90L279.0 794.90L279.5 794.90L280.0 794.90L280.5 794.90L281.0 794.90L281.5 794.90L282.0 794.90L282.5 794.90L283.0 794.90L283.5 794.90L284.0 794.90L284.5 794.90L285.0 794.90L285.5 794.90L286.0 794.90L286.5 794.90L287.0 794.90L287.5 794.90L288.0 794.90L288.5 794.90L289.0 794.90L289.5 794.90L290.0 794.90L290.5 794.90L291.0 794.90L291.5 794.90L292.0 794.90L292.5 794.90L293.0 794.90L293.5 794.90L294.0 794.90L294.5 794.90L295.0 794.90L295.5 794.90L296.0 794.90L296.5 794.90L297.0 794.90L297.5 794.90L298.0 794.90L298.5 794.90L299.0 794.90L299.5 794.90L300.0 794.90L300.5 794.90L301.0 794.90L301.5 794.90L302.0 794.90L302.5 794.90L303.0 794.90L303.5 794.90L304.0 794.90L304.5 794.90L305.0 794.90L305.5 794.90L306.0 794.90L306.5 794.90L307.0 794.90L307.5 794.90L308.0 794.90L308.5 794.90L309.0 794.90L309.5 794.90L310.0 794.90L310.5 794.90L311.0 794.90L311.5 794.90L312.0 794.90L312.5 794.90L312.5 865.50L312.0 865.50L311.5 865.50L311.0 865.50L310.5 865.50L310.0 865.50L309.5 865.50L309.0 865.50L308.5 865.50L308.0 865.50L307.5 865.50L307.0 865.50L306.5 865.50L306.0 865.50L305.5 865.50L305.0 865.50L304.5 865.50L304.0 865.50L303.5 865.50L303.0 865.50L302.5 865.50L302.0 865.50L301.5 865.50L301.0 865.50L300.5 865.50L300.0 865.50L299.5 865.50L299.0 865.50L298.5 865.50L298.0 865.50L297.5 865.50L297.0 865.50L296.5 865.50L296.0 865.50L295.5 865.50L295.0 865.50L294.5 865.50L294.0 865.50L293.5 865.50L293.0 865.50L292.5 865.50L292.0 865.50L291.5 865.50L291.0 865.50L290.5 865.50L290.0 865.50L289.5 865.50L289.0 865.50L288.5 865.50L288.0 865.50L287.5 865.50L287.0 865.50L286.5 865.50L286.0 865.50L285.5 865.50L285.0 865.50L284.5 865.50L284.0 865.50L283.5 865.50L283.0 865.50L282.5 865.50L282.0 865.50L281.5 865.50L281.0 865.50L280.5 865.50L280.0 865.50L279.5 865.50L279.0 865.50L278.5 865.50L278.0 865.50L277.5 865.50L277.0 865.50L276.5 865.46L276.0 865.36L275.5 865.19L275.0 864.96L274.5 864.66L274.0 864.31L273.5 863.90L273.0 863.44L272.5 862.93L272.0 862.37L271.5 861.76L271.0 861.11L270.5 860.43L270.0 859.70L269.5 858.95L269.0 858.16L268.5 857.34L268.0 856.49L267.5 855.62L267.0 854.73L266.5 853.82L266.0 852.90L265.5 851.96L265.0 851.01L264.5 850.05L264.0 849.09L263.5 848.12L263.0 847.16L262.5 846.20L262.0 845.24L261.5 844.29L261.0 843.35L260.5 842.43L260.0 841.52L259.5 840.63L259.0 839.76L258.5 838.91L258.0 838.09L257.5 837.30L257.0 836.55L256.5 835.82L256.0 835.14L255.5 834.49L255.0 833.88L254.5 833.32L254.0 832.81L253.5 832.35L253.0 831.94L252.5 831.59L252.0 831.29L251.5 831.06L251.0 830.89L250.5 830.79L250.0 830.75L249.5 830.78L249.0 830.88L248.5 831.04L248.0 831.26L247.5 831.53L247.0 831.86L246.5 832.24L246.0 832.67L245.5 833.15L245.0 833.68L244.5 834.25L244.0 834.85L243.5 835.50L243.0 836.18L242.5 836.89L242.0 837.64L241.5 838.41L241.0 839.21L240.5 840.04L240.0 840.88L239.5 841.75L239.0 842.63L238.5 843.52L238.0 844.43L237.5 845.34L237.0 846.27L236.5 847.19L236.0 848.12L235.5 849.06L235.0 849.98L234.5 850.91L234.0 851.82L233.5 852.73L233.0 853.62L232.5 854.50L232.0 855.37L231.5 856.21L231.0 857.04L230.5 857.84L230.0 858.61L229.5 859.36L229.0 860.07L228.5 860.75L228.0 861.40L227.5 862.00L227.0 862.57L226.5 863.10L226.0 863.58L225.5 864.01L225.0 864.39L224.5 864.72L224.0 864.99L223.5 865.21L223.0 865.37L222.5 865.47L222.0 865.50L221.5 865.50L221.0 865.50L220.5 865.50L220.0 865.50L219.5 865.50L219.0 865.50L218.5 865.50L218.0 865.50L217.5 865.50L217.0 865.50L216.5 865.50L216.0 865.50L215.5 865.50L215.0 865.50L214.5 865.50L214.0 865.50L213.5 865.50L213.0 865.50L212.5 865.50L212.0 865.50L211.5 865.50L211.0 865.50L210.5 865.50L210.0 865.50L209.5 865.50L209.0 865.50L208.5 865.50L208.0 865.50L207.5 865.50L207.0 865.50L206.5 865.50L206.0 865.50L205.5 865.50L205.0 865.50L204.5 865.50L204.0 865.50L203.5 865.50L203.0 865.50L202.5 865.50L202.0 865.50L201.5 865.50L201.0 865.50L200.5 865.50L200.0 865.50L199.5 865.50L199.0 865.50L198.5 865.50L198.0 865.50L197.5 865.50L197.0 865.50L196.5 865.50L196.0 865.50L195.5 865.50L195.0 865.50L194.5 865.50L194.0 865.50L193.5 865.50L193.0 865.50L192.5 865.50L192.0 865.50L191.5 865.50L191.0 865.50L190.5 865.50L190.0 865.50L189.5 865.50L189.0 865.50L188.5 865.50L188.0 865.50L187.5 865.50L187.0 865.50L186.5 865.50L186.0 865.50L185.5 865.50L185.0 865.50L184.5 865.50L184.0 865.47L183.5 865.36L183.0 865.20L182.5 864.97L182.0 864.68L181.5 864.34L181.0 863.94L180.5 863.49L180.0 862.99L179.5 862.44L179.0 861.85L178.5 861.22L178.0 860.55L177.5 859.85L177.0 859.11L176.5 858.34L176.0 857.54L175.5 856.71L175.0 855.86L174.5 854.99L174.0 854.11L173.5 853.20L173.0 852.29L172.5 851.36L172.0 850.43L171.5 849.49L171.0 848.55L170.5 847.61L170.0 846.67L169.5 845.74L169.0 844.81L168.5 843.90L168.0 842.99L167.5 842.11L167.0 841.24L166.5 840.39L166.0 839.56L165.5 838.76L165.0 837.99L164.5 837.25L164.0 836.55L163.5 835.88L163.0 835.25L162.5 834.66L162.0 834.11L161.5 833.61L161.0 833.16L160.5 832.76L160.0 832.42L159.5 832.13L159.0 831.90L158.5 831.74L158.0 831.63L157.5 831.60L157.0 831.56L156.5 831.52L156.0 831.49L155.5 831.45L155.0 831.41L154.5 831.38L154.0 831.35L153.5 831.31L153.0 831.28L152.5 831.25L152.0 831.21L151.5 831.18L151.0 831.15L150.5 831.12L150.0 831.10L149.5 831.07L149.0 831.04L148.5 831.01L148.0 830.99L147.5 830.96L147.0 830.94L146.5 830.91L146.0 830.89L145.5 830.87L145.0 830.85L144.5 830.82L144.0 830.80L143.5 830.78L143.0 830.76L142.5 830.74L142.0 830.73L141.5 830.71L141.0 830.69L140.5 830.68L140.0 830.66L139.5 830.64L139.0 830.63L138.5 830.62L138.0 830.60L137.5 830.59L137.0 830.58L136.5 830.57L136.0 830.56L135.5 830.55L135.0 830.54L134.5 830.53L134.0 830.52L133.5 830.51L133.0 830.50L132.5 830.50L132.0 830.49L131.5 830.48L131.0 830.48L130.5 830.47L130.0 830.47L129.5 830.46L129.0 830.46L128.5 830.46L128.0 830.46L127.5 830.45L127.0 830.45L126.5 830.45L126.0 830.45L125.5 830.45L125.0 830.45Z" fill="#9d9a96"/>
<path d="M125.0 829.95L125.5 829.95L126.0 829.95L126.5 829.95L127.0 829.95L127.5 829.95L128.0 829.94L128.5 829.94L129.0 829.94L129.5 829.94L130.0 829.93L130.5 829.93L131.0 829.92L131.5 829.92L132.0 829.91L132.5 829.90L133.0 829.90L133.5 829.89L134.0 829.88L134.5 829.87L135.0 829.86L135.5 829.85L136.0 829.84L136.5 829.83L137.0 829.82L137.5 829.81L138.0 829.80L138.5 829.78L139.0 829.77L139.5 829.76L140.0 829.74L140.5 829.72L141.0 829.71L141.5 829.69L142.0 829.67L142.5 829.66L143.0 829.64L143.5 829.62L144.0 829.60L144.5 829.58L145.0 829.55L145.5 829.53L146.0 829.51L146.5 829.49L147.0 829.46L147.5 829.44L148.0 829.41L148.5 829.39L149.0 829.36L149.5 829.33L150.0 829.30L150.5 829.28L151.0 829.25L151.5 829.22L152.0 829.19L152.5 829.15L153.0 829.12L153.5 829.09L154.0 829.05L154.5 829.02L155.0 828.99L155.5 828.95L156.0 828.91L156.5 828.88L157.0 828.84L157.5 828.80L158.0 828.77L158.5 828.66L159.0 828.50L159.5 828.27L159.5 832.13L159.0 831.90L158.5 831.74L158.0 831.63L157.5 831.60L157.0 831.56L156.5 831.52L156.0 831.49L155.5 831.45L155.0 831.41L154.5 831.38L154.0 831.35L153.5 831.31L153.0 831.28L152.5 831.25L152.0 831.21L151.5 831.18L151.0 831.15L150.5 831.12L150.0 831.10L149.5 831.07L149.0 831.04L148.5 831.01L148.0 830.99L147.5 830.96L147.0 830.94L146.5 830.91L146.0 830.89L145.5 830.87L145.0 830.85L144.5 830.82L144.0 830.80L143.5 830.78L143.0 830.76L142.5 830.74L142.0 830.73L141.5 830.71L141.0 830.69L140.5 830.68L140.0 830.66L139.5 830.64L139.0 830.63L138.5 830.62L138.0 830.60L137.5 830.59L137.0 830.58L136.5 830.57L136.0 830.56L135.5 830.55L135.0 830.54L134.5 830.53L134.0 830.52L133.5 830.51L133.0 830.50L132.5 830.50L132.0 830.49L131.5 830.48L131.0 830.48L130.5 830.47L130.0 830.47L129.5 830.46L129.0 830.46L128.5 830.46L128.0 830.46L127.5 830.45L127.0 830.45L126.5 830.45L126.0 830.45L125.5 830.45L125.0 830.45Z" fill="#7c7c7c"/>
<path d="M156.0 828.93L156.5 828.90L157.0 828.86L157.5 828.82L158.0 828.79L158.5 828.69L159.0 828.52L159.5 828.30L160.0 828.02L160.5 827.68L161.0 827.28L161.5 826.84L162.0 826.35L162.5 825.81L163.0 825.23L163.5 824.61L164.0 823.95L164.5 823.25L165.0 822.52L165.5 821.76L166.0 820.98L166.5 820.16L167.0 819.33L167.5 818.47L168.0 817.60L168.5 816.71L169.0 815.81L169.5 814.90L170.0 813.98L170.5 813.05L171.0 812.13L171.5 811.20L172.0 810.27L172.5 809.35L173.0 808.44L173.5 807.54L174.0 806.65L174.5 805.78L175.0 804.92L175.5 804.09L176.0 803.27L176.5 802.49L177.0 801.73L177.5 801.00L178.0 800.30L178.5 799.64L179.0 799.02L179.5 798.44L180.0 797.90L180.5 797.41L181.0 796.97L181.5 796.57L182.0 796.24L182.5 795.95L183.0 795.73L183.5 795.56L184.0 795.46L184.5 795.43L185.0 795.43L185.5 795.43L186.0 795.43L186.5 795.43L187.0 795.43L187.5 795.43L188.0 795.43L188.5 795.43L189.0 795.43L189.5 795.43L190.0 795.43L190.5 795.43L191.0 795.43L191.5 795.43L192.0 795.43L192.5 795.43L193.0 795.43L193.5 795.43L194.0 795.43L194.5 795.43L195.0 795.43L195.5 795.43L196.0 795.43L196.5 795.43L197.0 795.43L197.5 795.43L198.0 795.43L198.5 795.43L199.0 795.43L199.5 795.43L200.0 795.43L200.5 795.43L201.0 795.43L201.5 795.43L202.0 795.43L202.5 795.43L203.0 795.43L203.5 795.43L204.0 795.43L204.5 795.43L205.0 795.43L205.5 795.43L206.0 795.43L206.5 795.43L207.0 795.43L207.5 795.43L208.0 795.43L208.5 795.43L209.0 795.43L209.5 795.43L210.0 795.43L210.5 795.43L211.0 795.43L211.5 795.43L212.0 795.43L212.5 795.43L213.0 795.43L213.5 795.43L214.0 795.43L214.5 795.43L215.0 795.43L215.5 795.43L216.0 795.43L216.5 795.43L217.0 795.43L217.5 795.43L218.0 795.43L218.5 795.43L219.0 795.43L219.5 795.43L220.0 795.43L220.5 795.43L221.0 795.43L221.5 795.43L222.0 795.43L222.5 795.46L223.0 795.56L223.5 795.71L224.0 795.93L224.5 796.20L225.0 796.52L225.5 796.90L226.0 797.33L226.5 797.80L227.0 798.31L227.5 798.87L228.0 799.47L228.5 800.11L229.0 800.78L229.5 801.48L230.0 802.22L230.5 802.98L231.0 803.77L231.5 804.58L232.0 805.41L232.5 806.26L233.0 807.13L233.5 808.01L234.0 808.90L234.5 809.80L235.0 810.71L235.5 811.63L236.0 812.54L236.5 813.46L237.0 814.37L237.5 815.28L238.0 816.19L238.5 817.08L239.0 817.96L239.5 818.83L240.0 819.68L240.5 820.51L241.0 821.32L241.5 822.11L242.0 822.87L242.5 823.61L243.0 824.31L243.5 824.98L244.0 825.62L244.5 826.22L245.0 826.77L245.5 827.29L246.0 827.76L246.5 828.19L247.0 828.56L247.5 828.89L248.0 829.16L248.5 829.37L249.0 829.53L249.5 829.63L250.0 829.66L250.0 830.74L249.5 830.77L249.0 830.87L248.5 831.03L248.0 831.24L247.5 831.51L247.0 831.84L246.5 832.21L246.0 832.64L245.5 833.11L245.0 833.63L244.5 834.18L244.0 834.78L243.5 835.42L243.0 836.09L242.5 836.79L242.0 837.53L241.5 838.29L241.0 839.08L240.5 839.89L240.0 840.72L239.5 841.57L239.0 842.44L238.5 843.32L238.0 844.21L237.5 845.12L237.0 846.03L236.5 846.94L236.0 847.86L235.5 848.77L235.0 849.69L234.5 850.60L234.0 851.50L233.5 852.39L233.0 853.27L232.5 854.14L232.0 854.99L231.5 855.82L231.0 856.63L230.5 857.42L230.0 858.18L229.5 858.92L229.0 859.62L228.5 860.29L228.0 860.93L227.5 861.53L227.0 862.09L226.5 862.60L226.0 863.07L225.5 863.50L225.0 863.88L224.5 864.20L224.0 864.47L223.5 864.69L223.0 864.84L222.5 864.94L222.0 864.97L221.5 864.97L221.0 864.97L220.5 864.97L220.0 864.97L219.5 864.97L219.0 864.97L218.5 864.97L218.0 864.97L217.5 864.97L217.0 864.97L216.5 864.97L216.0 864.97L215.5 864.97L215.0 864.97L214.5 864.97L214.0 864.97L213.5 864.97L213.0 864.97L212.5 864.97L212.0 864.97L211.5 864.97L211.0 864.97L210.5 864.97L210.0 864.97L209.5 864.97L209.0 864.97L208.5 864.97L208.0 864.97L207.5 864.97L207.0 864.97L206.5 864.97L206.0 864.97L205.5 864.97L205.0 864.97L204.5 864.97L204.0 864.97L203.5 864.97L203.0 864.97L202.5 864.97L202.0 864.97L201.5 864.97L201.0 864.97L200.5 864.97L200.0 864.97L199.5 864.97L199.0 864.97L198.5 864.97L198.0 864.97L197.5 864.97L197.0 864.97L196.5 864.97L196.0 864.97L195.5 864.97L195.0 864.97L194.5 864.97L194.0 864.97L193.5 864.97L193.0 864.97L192.5 864.97L192.0 864.97L191.5 864.97L191.0 864.97L190.5 864.97L190.0 864.97L189.5 864.97L189.0 864.97L188.5 864.97L188.0 864.97L187.5 864.97L187.0 864.97L186.5 864.97L186.0 864.97L185.5 864.97L185.0 864.97L184.5 864.97L184.0 864.94L183.5 864.84L183.0 864.67L182.5 864.45L182.0 864.16L181.5 863.83L181.0 863.43L180.5 862.99L180.0 862.50L179.5 861.96L179.0 861.38L178.5 860.76L178.0 860.10L177.5 859.40L177.0 858.67L176.5 857.91L176.0 857.13L175.5 856.31L175.0 855.48L174.5 854.62L174.0 853.75L173.5 852.86L173.0 851.96L172.5 851.05L172.0 850.13L171.5 849.20L171.0 848.27L170.5 847.35L170.0 846.42L169.5 845.50L169.0 844.59L168.5 843.69L168.0 842.80L167.5 841.93L167.0 841.07L166.5 840.24L166.0 839.42L165.5 838.64L165.0 837.88L164.5 837.15L164.0 836.45L163.5 835.79L163.0 835.17L162.5 834.59L162.0 834.05L161.5 833.56L161.0 833.12L160.5 832.72L160.0 832.38L159.5 832.10L159.0 831.88L158.5 831.71L158.0 831.61L157.5 831.58L157.0 831.54L156.5 831.50L156.0 831.47Z" fill="#5d6a8c"/>
<path d="M156.0 828.95L156.5 828.91L157.0 828.87L157.5 828.84L158.0 828.80L158.5 828.70L159.0 828.54L159.5 828.32L160.0 828.04L160.5 827.70L161.0 827.31L161.5 826.87L162.0 826.39L162.5 825.85L163.0 825.28L163.5 824.66L164.0 824.01L164.5 823.32L165.0 822.60L165.5 821.85L166.0 821.07L166.5 820.27L167.0 819.44L167.5 818.59L168.0 817.73L168.5 816.85L169.0 815.95L169.5 815.05L170.0 814.14L170.5 813.23L171.0 812.31L171.5 811.39L172.0 810.48L172.5 809.57L173.0 808.66L173.5 807.77L174.0 806.89L174.5 806.03L175.0 805.18L175.5 804.35L176.0 803.55L176.5 802.77L177.0 802.02L177.5 801.30L178.0 800.61L178.5 799.95L179.0 799.34L179.5 798.76L180.0 798.23L180.5 797.74L181.0 797.30L181.5 796.92L182.0 796.58L182.5 796.30L183.0 796.08L183.5 795.92L184.0 795.82L184.5 795.78L185.0 795.78L185.5 795.78L186.0 795.78L186.5 795.78L187.0 795.78L187.5 795.78L188.0 795.78L188.5 795.78L189.0 795.78L189.5 795.78L190.0 795.78L190.5 795.78L191.0 795.78L191.5 795.78L192.0 795.78L192.5 795.78L193.0 795.78L193.5 795.78L194.0 795.78L194.5 795.78L195.0 795.78L195.5 795.78L196.0 795.78L196.5 795.78L197.0 795.78L197.5 795.78L198.0 795.78L198.5 795.78L199.0 795.78L199.5 795.78L200.0 795.78L200.5 795.78L201.0 795.78L201.5 795.78L202.0 795.78L202.5 795.78L203.0 795.78L203.5 795.78L204.0 795.78L204.5 795.78L205.0 795.78L205.5 795.78L206.0 795.78L206.5 795.78L207.0 795.78L207.5 795.78L208.0 795.78L208.5 795.78L209.0 795.78L209.5 795.78L210.0 795.78L210.5 795.78L211.0 795.78L211.5 795.78L212.0 795.78L212.5 795.78L213.0 795.78L213.5 795.78L214.0 795.78L214.5 795.78L215.0 795.78L215.5 795.78L216.0 795.78L216.5 795.78L217.0 795.78L217.5 795.78L218.0 795.78L218.5 795.78L219.0 795.78L219.5 795.78L220.0 795.78L220.5 795.78L221.0 795.78L221.5 795.78L222.0 795.78L222.5 795.81L223.0 795.91L223.5 796.06L224.0 796.28L224.5 796.54L225.0 796.87L225.5 797.24L226.0 797.66L226.5 798.13L227.0 798.64L227.5 799.19L228.0 799.78L228.5 800.41L229.0 801.08L229.5 801.77L230.0 802.50L230.5 803.25L231.0 804.03L231.5 804.84L232.0 805.66L232.5 806.50L233.0 807.36L233.5 808.23L234.0 809.12L234.5 810.01L235.0 810.91L235.5 811.82L236.0 812.72L236.5 813.63L237.0 814.54L237.5 815.44L238.0 816.33L238.5 817.21L239.0 818.08L239.5 818.94L240.0 819.79L240.5 820.61L241.0 821.41L241.5 822.19L242.0 822.95L242.5 823.67L243.0 824.37L243.5 825.03L244.0 825.66L244.5 826.26L245.0 826.81L245.5 827.32L246.0 827.79L246.5 828.21L247.0 828.58L247.5 828.90L248.0 829.17L248.5 829.38L249.0 829.54L249.5 829.63L250.0 829.66L250.0 830.74L249.5 830.77L249.0 830.86L248.5 831.02L248.0 831.23L247.5 831.50L247.0 831.82L246.5 832.19L246.0 832.61L245.5 833.08L245.0 833.59L244.5 834.14L244.0 834.74L243.5 835.37L243.0 836.03L242.5 836.73L242.0 837.45L241.5 838.21L241.0 838.99L240.5 839.79L240.0 840.61L239.5 841.46L239.0 842.32L238.5 843.19L238.0 844.07L237.5 844.96L237.0 845.86L236.5 846.77L236.0 847.68L235.5 848.58L235.0 849.49L234.5 850.39L234.0 851.28L233.5 852.17L233.0 853.04L232.5 853.90L232.0 854.74L231.5 855.56L231.0 856.37L230.5 857.15L230.0 857.90L229.5 858.63L229.0 859.32L228.5 859.99L228.0 860.62L227.5 861.21L227.0 861.76L226.5 862.27L226.0 862.74L225.5 863.16L225.0 863.53L224.5 863.86L224.0 864.12L223.5 864.34L223.0 864.49L222.5 864.59L222.0 864.62L221.5 864.62L221.0 864.62L220.5 864.62L220.0 864.62L219.5 864.62L219.0 864.62L218.5 864.62L218.0 864.62L217.5 864.62L217.0 864.62L216.5 864.62L216.0 864.62L215.5 864.62L215.0 864.62L214.5 864.62L214.0 864.62L213.5 864.62L213.0 864.62L212.5 864.62L212.0 864.62L211.5 864.62L211.0 864.62L210.5 864.62L210.0 864.62L209.5 864.62L209.0 864.62L208.5 864.62L208.0 864.62L207.5 864.62L207.0 864.62L206.5 864.62L206.0 864.62L205.5 864.62L205.0 864.62L204.5 864.62L204.0 864.62L203.5 864.62L203.0 864.62L202.5 864.62L202.0 864.62L201.5 864.62L201.0 864.62L200.5 864.62L200.0 864.62L199.5 864.62L199.0 864.62L198.5 864.62L198.0 864.62L197.5 864.62L197.0 864.62L196.5 864.62L196.0 864.62L195.5 864.62L195.0 864.62L194.5 864.62L194.0 864.62L193.5 864.62L193.0 864.62L192.5 864.62L192.0 864.62L191.5 864.62L191.0 864.62L190.5 864.62L190.0 864.62L189.5 864.62L189.0 864.62L188.5 864.62L188.0 864.62L187.5 864.62L187.0 864.62L186.5 864.62L186.0 864.62L185.5 864.62L185.0 864.62L184.5 864.62L184.0 864.58L183.5 864.48L183.0 864.32L182.5 864.10L182.0 863.82L181.5 863.48L181.0 863.10L180.5 862.66L180.0 862.17L179.5 861.64L179.0 861.06L178.5 860.45L178.0 859.79L177.5 859.10L177.0 858.38L176.5 857.63L176.0 856.85L175.5 856.05L175.0 855.22L174.5 854.37L174.0 853.51L173.5 852.63L173.0 851.74L172.5 850.83L172.0 849.92L171.5 849.01L171.0 848.09L170.5 847.17L170.0 846.26L169.5 845.35L169.0 844.45L168.5 843.55L168.0 842.67L167.5 841.81L167.0 840.96L166.5 840.13L166.0 839.33L165.5 838.55L165.0 837.80L164.5 837.08L164.0 836.39L163.5 835.74L163.0 835.12L162.5 834.55L162.0 834.01L161.5 833.53L161.0 833.09L160.5 832.70L160.0 832.36L159.5 832.08L159.0 831.86L158.5 831.70L158.0 831.60L157.5 831.57L157.0 831.53L156.5 831.49L156.0 831.45Z" fill="#2fa84f"/>
<path d="M157.0 830.20L157.5 830.20L158.0 830.20L158.5 830.20L159.0 830.20L159.5 830.20L160.0 830.20L160.5 830.20L161.0 830.20L161.5 830.20L162.0 830.20L162.5 830.20L163.0 830.20L163.5 830.20L164.0 830.20L164.5 830.20L165.0 830.20L165.5 830.20L166.0 830.20L166.5 830.20L167.0 830.20L167.5 830.20L168.0 830.20L168.5 830.20L169.0 830.20L169.5 830.20L170.0 830.20L170.5 830.20L171.0 830.20L171.5 830.20L172.0 830.20L172.5 830.20L173.0 830.20L173.5 830.20L174.0 830.20L174.5 830.20L175.0 830.20L175.5 830.20L176.0 830.20L176.5 830.20L177.0 830.20L177.5 830.20L178.0 830.20L178.5 830.20L179.0 830.20L179.5 830.20L180.0 830.20L180.5 830.20L181.0 830.20L181.5 830.20L182.0 830.20L182.5 830.20L183.0 830.20L183.5 830.20L184.0 830.20L184.5 830.20L185.0 830.20L185.5 830.20L186.0 830.20L186.5 830.20L187.0 830.20L187.5 830.20L188.0 830.20L188.5 830.20L189.0 830.20L189.5 830.20L190.0 830.20L190.5 830.20L191.0 830.20L191.5 830.20L192.0 830.20L192.5 830.20L193.0 830.20L193.5 830.20L194.0 830.20L194.5 830.20L195.0 830.20L195.5 830.20L196.0 830.20L196.5 830.20L197.0 830.20L197.5 830.20L198.0 830.20L198.5 830.20L199.0 830.20L199.5 830.20L200.0 830.20L200.5 830.20L201.0 830.20L201.5 830.20L202.0 830.20L202.5 830.20L203.0 830.20L203.5 830.20L204.0 830.20L204.5 830.20L205.0 830.20L205.5 830.20L206.0 830.20L206.5 830.20L207.0 830.20L207.5 830.20L208.0 830.20L208.5 830.20L209.0 830.20L209.5 830.20L210.0 830.20L210.5 830.20L211.0 830.20L211.5 830.20L212.0 830.20L212.5 830.20L213.0 830.20L213.5 830.20L214.0 830.20L214.5 830.20L215.0 830.20L215.5 830.20L216.0 830.20L216.5 830.20L217.0 830.20L217.5 830.20L218.0 830.20L218.5 830.20L219.0 830.20L219.5 830.20L220.0 830.20L220.5 830.20L221.0 830.20L221.5 830.20L222.0 830.20L222.5 830.20L223.0 830.20L223.5 830.20L224.0 830.20L224.5 830.20L225.0 830.20L225.5 830.20L226.0 830.20L226.5 830.20L227.0 830.20L227.5 830.20L228.0 830.20L228.5 830.20L229.0 830.20L229.5 830.20L230.0 830.20L230.5 830.20L231.0 830.20L231.5 830.20L232.0 830.20L232.5 830.20L233.0 830.20L233.5 830.20L234.0 830.20L234.5 830.20L235.0 830.20L235.5 830.20L236.0 830.20L236.5 830.20L237.0 830.20L237.5 830.20L238.0 830.20L238.5 830.20L239.0 830.20L239.5 830.20L240.0 830.20L240.5 830.20L241.0 830.20L241.5 830.20L242.0 830.20L242.5 830.20L243.0 830.20L243.0 831.10L242.5 831.55L242.0 832.02L241.5 832.52L241.0 833.04L240.5 833.59L240.0 834.16L239.5 834.74L239.0 835.35L238.5 835.98L238.0 836.63L237.5 837.29L237.0 837.97L236.5 838.66L236.0 839.36L235.5 840.08L235.0 840.81L234.5 841.55L234.0 842.30L233.5 843.06L233.0 843.82L232.5 844.59L232.0 845.37L231.5 846.14L231.0 846.93L230.5 847.71L230.0 848.49L229.5 849.27L229.0 850.06L228.5 850.83L228.0 851.61L227.5 852.38L227.0 853.14L226.5 853.90L226.0 854.65L225.5 855.39L225.0 856.12L224.5 856.84L224.0 857.54L223.5 858.23L223.0 858.91L222.5 859.57L222.0 860.22L221.5 860.85L221.0 861.46L220.5 862.04L220.0 862.61L219.5 863.16L219.0 863.68L218.5 864.18L218.0 864.65L217.5 864.79L217.0 864.79L216.5 864.79L216.0 864.79L215.5 864.79L215.0 864.79L214.5 864.79L214.0 864.79L213.5 864.79L213.0 864.79L212.5 864.79L212.0 864.79L211.5 864.79L211.0 864.79L210.5 864.79L210.0 864.79L209.5 864.79L209.0 864.79L208.5 864.79L208.0 864.79L207.5 864.79L207.0 864.79L206.5 864.79L206.0 864.79L205.5 864.79L205.0 864.79L204.5 864.79L204.0 864.79L203.5 864.79L203.0 864.79L202.5 864.79L202.0 864.79L201.5 864.79L201.0 864.79L200.5 864.79L200.0 864.79L199.5 864.79L199.0 864.79L198.5 864.79L198.0 864.79L197.5 864.79L197.0 864.79L196.5 864.79L196.0 864.79L195.5 864.79L195.0 864.79L194.5 864.79L194.0 864.79L193.5 864.79L193.0 864.79L192.5 864.79L192.0 864.79L191.5 864.79L191.0 864.79L190.5 864.79L190.0 864.79L189.5 864.79L189.0 864.79L188.5 864.79L188.0 864.79L187.5 864.79L187.0 864.79L186.5 864.79L186.0 864.79L185.5 864.79L185.0 864.79L184.5 864.79L184.0 864.76L183.5 864.66L183.0 864.50L182.5 864.27L182.0 863.99L181.5 863.65L181.0 863.26L180.5 862.82L180.0 862.33L179.5 861.80L179.0 861.22L178.5 860.60L178.0 859.94L177.5 859.25L177.0 858.53L176.5 857.77L176.0 856.99L175.5 856.18L175.0 855.35L174.5 854.50L174.0 853.63L173.5 852.74L173.0 851.85L172.5 850.94L172.0 850.03L171.5 849.11L171.0 848.18L170.5 847.26L170.0 846.34L169.5 845.43L169.0 844.52L168.5 843.62L168.0 842.74L167.5 841.87L167.0 841.02L166.5 840.19L166.0 839.38L165.5 838.59L165.0 837.84L164.5 837.11L164.0 836.42L163.5 835.76L163.0 835.15L162.5 834.57L162.0 834.03L161.5 833.54L161.0 833.10L160.5 832.71L160.0 832.37L159.5 832.09L159.0 831.87L158.5 831.71L158.0 831.61L157.5 831.57L157.0 831.53Z" fill="#c5202b"/>
<path d="M157.0 828.90L157.5 828.86L158.0 828.83L158.5 828.73L159.0 828.57L159.5 828.35L160.0 828.08L160.5 827.75L161.0 827.36L161.5 826.93L162.0 826.45L162.5 825.93L163.0 825.37L163.5 824.76L164.0 824.12L164.5 823.44L165.0 822.73L165.5 821.99L166.0 821.23L166.5 820.44L167.0 819.63L167.5 818.79L168.0 817.94L168.5 817.08L169.0 816.20L169.5 815.32L170.0 814.42L170.5 813.52L171.0 812.62L171.5 811.72L172.0 810.82L172.5 809.93L173.0 809.04L173.5 808.16L174.0 807.30L174.5 806.45L175.0 805.61L175.5 804.80L176.0 804.01L176.5 803.25L177.0 802.51L177.5 801.80L178.0 801.12L178.5 800.48L179.0 799.88L179.5 799.31L180.0 798.79L180.5 798.31L181.0 797.88L181.5 797.50L182.0 797.17L182.5 796.89L183.0 796.67L183.5 796.51L184.0 796.42L184.5 796.38L185.0 796.38L185.5 796.38L186.0 796.38L186.5 796.38L187.0 796.38L187.5 796.38L188.0 796.38L188.5 796.38L189.0 796.38L189.5 796.38L190.0 796.38L190.5 796.38L191.0 796.38L191.5 796.38L192.0 796.38L192.5 796.38L193.0 796.38L193.5 796.38L194.0 796.38L194.5 796.38L195.0 796.38L195.5 796.38L196.0 796.38L196.5 796.38L197.0 796.38L197.5 796.38L198.0 796.38L198.5 796.38L199.0 796.38L199.5 796.38L200.0 796.38L200.5 796.38L201.0 796.38L201.5 796.38L202.0 796.38L202.5 796.38L203.0 796.38L203.5 796.38L204.0 796.38L204.5 796.38L205.0 796.38L205.5 796.38L206.0 796.38L206.5 796.38L207.0 796.38L207.5 796.38L208.0 796.38L208.5 796.38L209.0 796.38L209.5 796.38L210.0 796.38L210.5 796.38L211.0 796.38L211.5 796.38L212.0 796.38L212.5 796.38L213.0 796.38L213.5 796.38L214.0 796.38L214.5 796.38L215.0 796.38L215.5 796.38L216.0 796.38L216.5 796.38L217.0 796.38L217.5 796.38L218.0 796.65L218.5 797.12L219.0 797.62L219.5 798.14L220.0 798.69L220.5 799.26L221.0 799.84L221.5 800.45L222.0 801.08L222.5 801.73L223.0 802.39L223.5 803.07L224.0 803.76L224.5 804.46L225.0 805.18L225.5 805.91L226.0 806.65L226.5 807.40L227.0 808.16L227.5 808.92L228.0 809.69L228.5 810.47L229.0 811.24L229.5 812.03L230.0 812.81L230.5 813.59L231.0 814.37L231.5 815.16L232.0 815.93L232.5 816.71L233.0 817.48L233.5 818.24L234.0 819.00L234.5 819.75L235.0 820.49L235.5 821.22L236.0 821.94L236.5 822.64L237.0 823.33L237.5 824.01L238.0 824.67L238.5 825.32L239.0 825.95L239.5 826.56L240.0 827.14L240.5 827.71L241.0 828.26L241.5 828.78L242.0 829.28L242.5 829.75L243.0 830.20L243.0 830.20L242.5 830.65L242.0 831.12L241.5 831.62L241.0 832.14L240.5 832.69L240.0 833.26L239.5 833.84L239.0 834.45L238.5 835.08L238.0 835.73L237.5 836.39L237.0 837.07L236.5 837.76L236.0 838.46L235.5 839.18L235.0 839.91L234.5 840.65L234.0 841.40L233.5 842.16L233.0 842.92L232.5 843.69L232.0 844.47L231.5 845.24L231.0 846.03L230.5 846.81L230.0 847.59L229.5 848.37L229.0 849.16L228.5 849.93L228.0 850.71L227.5 851.48L227.0 852.24L226.5 853.00L226.0 853.75L225.5 854.49L225.0 855.22L224.5 855.94L224.0 856.64L223.5 857.33L223.0 858.01L222.5 858.67L222.0 859.32L221.5 859.95L221.0 860.56L220.5 861.14L220.0 861.71L219.5 862.26L219.0 862.78L218.5 862.85L218.0 862.85L217.5 862.85L217.0 862.85L216.5 862.85L216.0 862.85L215.5 862.85L215.0 862.85L214.5 862.85L214.0 862.85L213.5 862.85L213.0 862.85L212.5 862.85L212.0 862.85L211.5 862.85L211.0 862.85L210.5 862.85L210.0 862.85L209.5 862.85L209.0 862.85L208.5 862.85L208.0 862.85L207.5 862.85L207.0 862.85L206.5 862.85L206.0 862.85L205.5 862.85L205.0 862.85L204.5 862.85L204.0 862.85L203.5 862.85L203.0 862.85L202.5 862.85L202.0 862.85L201.5 862.85L201.0 862.85L200.5 862.85L200.0 862.85L199.5 862.85L199.0 862.85L198.5 862.85L198.0 862.85L197.5 862.85L197.0 862.85L196.5 862.85L196.0 862.85L195.5 862.85L195.0 862.85L194.5 862.85L194.0 862.85L193.5 862.85L193.0 862.85L192.5 862.85L192.0 862.85L191.5 862.85L191.0 862.85L190.5 862.85L190.0 862.85L189.5 862.85L189.0 862.85L188.5 862.85L188.0 862.85L187.5 862.85L187.0 862.85L186.5 862.85L186.0 862.85L185.5 862.85L185.0 862.85L184.5 862.85L184.0 862.82L183.5 862.73L183.0 862.57L182.5 862.36L182.0 862.10L181.5 861.78L181.0 861.41L180.5 860.99L180.0 860.53L179.5 860.02L179.0 859.48L178.5 858.90L178.0 858.28L177.5 857.62L177.0 856.94L176.5 856.23L176.0 855.49L175.5 854.72L175.0 853.94L174.5 853.13L174.0 852.31L173.5 851.48L173.0 850.63L172.5 849.78L172.0 848.91L171.5 848.04L171.0 847.17L170.5 846.30L170.0 845.43L169.5 844.57L169.0 843.72L168.5 842.87L168.0 842.03L167.5 841.21L167.0 840.41L166.5 839.62L166.0 838.86L165.5 838.12L165.0 837.41L164.5 836.73L164.0 836.07L163.5 835.45L163.0 834.87L162.5 834.32L162.0 833.82L161.5 833.36L161.0 832.94L160.5 832.57L160.0 832.25L159.5 831.99L159.0 831.77L158.5 831.62L158.0 831.53L157.5 831.50L157.0 831.46Z" fill="#fdd30a"/>
<path d="M250.0 830.20L250.5 830.20L251.0 830.20L251.5 830.20L252.0 830.20L252.5 830.20L253.0 830.20L253.5 830.20L254.0 830.20L254.5 830.20L255.0 830.20L255.5 830.20L256.0 830.20L256.5 830.20L257.0 830.20L257.5 830.20L258.0 830.20L258.5 830.20L259.0 830.20L259.5 830.20L260.0 830.20L260.5 830.20L261.0 830.20L261.5 830.20L262.0 830.20L262.5 830.20L263.0 830.20L263.5 830.20L264.0 830.20L264.5 830.20L265.0 830.20L265.5 830.20L266.0 830.20L266.5 830.20L267.0 830.20L267.5 830.20L268.0 830.20L268.5 830.20L269.0 830.20L269.5 830.20L270.0 830.20L270.5 830.20L271.0 830.20L271.5 830.20L272.0 830.20L272.5 830.20L273.0 830.20L273.5 830.20L274.0 830.20L274.5 830.20L275.0 830.20L275.5 830.20L276.0 830.20L276.5 830.20L277.0 830.20L277.5 830.20L278.0 830.20L278.5 830.20L279.0 830.20L279.5 830.20L280.0 830.20L280.5 830.20L281.0 830.20L281.5 830.20L282.0 830.20L282.5 830.20L283.0 830.20L283.5 830.20L284.0 830.20L284.5 830.20L285.0 830.20L285.5 830.20L286.0 830.20L286.5 830.20L287.0 830.20L287.5 830.20L288.0 830.20L288.5 830.20L289.0 830.20L289.5 830.20L290.0 830.20L290.5 830.20L291.0 830.20L291.5 830.20L292.0 830.20L292.5 830.20L293.0 830.20L293.5 830.20L294.0 830.20L294.5 830.20L295.0 830.20L295.5 830.20L296.0 830.20L296.5 830.20L297.0 830.20L297.5 830.20L298.0 830.20L298.5 830.20L299.0 830.20L299.5 830.20L300.0 830.20L300.5 830.20L301.0 830.20L301.5 830.20L302.0 830.20L302.5 830.20L303.0 830.20L303.5 830.20L304.0 830.20L304.5 830.20L305.0 830.20L305.5 830.20L306.0 830.20L306.5 830.20L307.0 830.20L307.5 830.20L308.0 830.20L308.5 830.20L309.0 830.20L309.5 830.20L310.0 830.20L310.5 830.20L311.0 830.20L311.5 830.20L312.0 830.20L312.5 830.20L312.5 867.09L312.0 867.09L311.5 867.09L311.0 867.09L310.5 867.09L310.0 867.09L309.5 867.09L309.0 867.09L308.5 867.09L308.0 867.09L307.5 867.09L307.0 867.09L306.5 867.09L306.0 867.09L305.5 867.09L305.0 867.09L304.5 867.09L304.0 867.09L303.5 867.09L303.0 867.09L302.5 867.09L302.0 867.09L301.5 867.09L301.0 867.09L300.5 867.09L300.0 867.09L299.5 867.09L299.0 867.09L298.5 867.09L298.0 867.09L297.5 867.09L297.0 867.09L296.5 867.09L296.0 867.09L295.5 867.09L295.0 867.09L294.5 867.09L294.0 867.09L293.5 867.09L293.0 867.09L292.5 867.09L292.0 867.09L291.5 867.09L291.0 867.09L290.5 867.09L290.0 867.09L289.5 867.09L289.0 867.09L288.5 867.09L288.0 867.09L287.5 867.09L287.0 867.09L286.5 867.09L286.0 867.09L285.5 867.09L285.0 867.09L284.5 867.09L284.0 867.09L283.5 867.09L283.0 867.09L282.5 867.09L282.0 867.09L281.5 867.09L281.0 867.09L280.5 867.09L280.0 867.09L279.5 867.09L279.0 867.09L278.5 867.09L278.0 867.09L277.5 867.09L277.0 867.09L276.5 867.05L276.0 866.94L275.5 866.75L275.0 866.50L274.5 866.17L274.0 865.79L273.5 865.35L273.0 864.84L272.5 864.29L272.0 863.68L271.5 863.03L271.0 862.33L270.5 861.59L270.0 860.81L269.5 860.00L269.0 859.15L268.5 858.27L268.0 857.37L267.5 856.44L267.0 855.49L266.5 854.53L266.0 853.55L265.5 852.56L265.0 851.55L264.5 850.55L264.0 849.54L263.5 848.53L263.0 847.52L262.5 846.52L262.0 845.52L261.5 844.54L261.0 843.57L260.5 842.61L260.0 841.68L259.5 840.76L259.0 839.87L258.5 839.01L258.0 838.17L257.5 837.36L257.0 836.59L256.5 835.86L256.0 835.16L255.5 834.51L255.0 833.90L254.5 833.33L254.0 832.82L253.5 832.35L253.0 831.94L252.5 831.59L252.0 831.29L251.5 831.06L251.0 830.89L250.5 830.79L250.0 830.75Z" fill="#9d9a96"/>
<path d="M250.0 829.73L250.5 829.70L251.0 829.61L251.5 829.46L252.0 829.26L252.5 829.01L253.0 828.71L253.5 828.35L254.0 827.96L254.5 827.52L255.0 827.04L255.5 826.52L256.0 825.97L256.5 825.38L257.0 824.76L257.5 824.10L258.0 823.43L258.5 822.72L259.0 822.00L259.5 821.25L260.0 820.49L260.5 819.71L261.0 818.91L261.5 818.11L262.0 817.29L262.5 816.47L263.0 815.65L263.5 814.82L264.0 813.99L264.5 813.17L265.0 812.35L265.5 811.53L266.0 810.73L266.5 809.93L267.0 809.15L267.5 808.39L268.0 807.64L268.5 806.92L269.0 806.21L269.5 805.54L270.0 804.89L270.5 804.26L271.0 803.68L271.5 803.12L272.0 802.60L272.5 802.12L273.0 801.68L273.5 801.29L274.0 800.94L274.5 800.63L275.0 800.38L275.5 800.18L276.0 800.03L276.5 799.94L277.0 799.91L277.5 799.91L278.0 799.91L278.5 799.91L279.0 799.91L279.5 799.91L280.0 799.91L280.5 799.91L281.0 799.91L281.5 799.91L282.0 799.91L282.5 799.91L283.0 799.91L283.5 799.91L284.0 799.91L284.5 799.91L285.0 799.91L285.5 799.91L286.0 799.91L286.5 799.91L287.0 799.91L287.5 799.91L288.0 799.91L288.5 799.91L289.0 799.91L289.5 799.91L290.0 799.91L290.5 799.91L291.0 799.91L291.5 799.91L292.0 799.91L292.5 799.91L293.0 799.91L293.5 799.91L294.0 799.91L294.5 799.91L295.0 799.91L295.5 799.91L296.0 799.91L296.5 799.91L297.0 799.91L297.5 799.91L298.0 799.91L298.5 799.91L299.0 799.91L299.5 799.91L300.0 799.91L300.5 799.91L301.0 799.91L301.5 799.91L302.0 799.91L302.5 799.91L303.0 799.91L303.5 799.91L304.0 799.91L304.5 799.91L305.0 799.91L305.5 799.91L306.0 799.91L306.5 799.91L307.0 799.91L307.5 799.91L308.0 799.91L308.5 799.91L309.0 799.91L309.5 799.91L310.0 799.91L310.5 799.91L311.0 799.91L311.5 799.91L312.0 799.91L312.5 799.91L312.5 861.59L312.0 861.59L311.5 861.59L311.0 861.59L310.5 861.59L310.0 861.59L309.5 861.59L309.0 861.59L308.5 861.59L308.0 861.59L307.5 861.59L307.0 861.59L306.5 861.59L306.0 861.59L305.5 861.59L305.0 861.59L304.5 861.59L304.0 861.59L303.5 861.59L303.0 861.59L302.5 861.59L302.0 861.59L301.5 861.59L301.0 861.59L300.5 861.59L300.0 861.59L299.5 861.59L299.0 861.59L298.5 861.59L298.0 861.59L297.5 861.59L297.0 861.59L296.5 861.59L296.0 861.59L295.5 861.59L295.0 861.59L294.5 861.59L294.0 861.59L293.5 861.59L293.0 861.59L292.5 861.59L292.0 861.59L291.5 861.59L291.0 861.59L290.5 861.59L290.0 861.59L289.5 861.59L289.0 861.59L288.5 861.59L288.0 861.59L287.5 861.59L287.0 861.59L286.5 861.59L286.0 861.59L285.5 861.59L285.0 861.59L284.5 861.59L284.0 861.59L283.5 861.59L283.0 861.59L282.5 861.59L282.0 861.59L281.5 861.59L281.0 861.59L280.5 861.59L280.0 861.59L279.5 861.59L279.0 861.59L278.5 861.59L278.0 861.59L277.5 861.59L277.0 861.59L276.5 861.56L276.0 861.46L275.5 861.30L275.0 861.09L274.5 860.81L274.0 860.49L273.5 860.11L273.0 859.68L272.5 859.21L272.0 858.69L271.5 858.14L271.0 857.54L270.5 856.91L270.0 856.25L269.5 855.56L269.0 854.83L268.5 854.09L268.0 853.32L267.5 852.53L267.0 851.72L266.5 850.90L266.0 850.07L265.5 849.22L265.0 848.37L264.5 847.52L264.0 846.66L263.5 845.80L263.0 844.94L262.5 844.09L262.0 843.24L261.5 842.40L261.0 841.58L260.5 840.76L260.0 839.97L259.5 839.19L259.0 838.43L258.5 837.69L258.0 836.98L257.5 836.30L257.0 835.64L256.5 835.02L256.0 834.42L255.5 833.87L255.0 833.35L254.5 832.87L254.0 832.43L253.5 832.03L253.0 831.68L252.5 831.38L252.0 831.13L251.5 830.93L251.0 830.79L250.5 830.70L250.0 830.67Z" fill="#2a3f9f"/>
<path d="M250.0 829.80L250.5 829.77L251.0 829.70L251.5 829.57L252.0 829.40L252.5 829.19L253.0 828.93L253.5 828.63L254.0 828.30L254.5 827.93L255.0 827.52L255.5 827.08L256.0 826.61L256.5 826.11L257.0 825.58L257.5 825.03L258.0 824.45L258.5 823.86L259.0 823.24L259.5 822.61L260.0 821.96L260.5 821.30L261.0 820.62L261.5 819.94L262.0 819.25L262.5 818.55L263.0 817.85L263.5 817.15L264.0 816.45L264.5 815.75L265.0 815.05L265.5 814.36L266.0 813.68L266.5 813.00L267.0 812.34L267.5 811.69L268.0 811.06L268.5 810.44L269.0 809.85L269.5 809.27L270.0 808.72L270.5 808.19L271.0 807.69L271.5 807.22L272.0 806.78L272.5 806.38L273.0 806.00L273.5 805.67L274.0 805.37L274.5 805.11L275.0 804.90L275.5 804.73L276.0 804.60L276.5 804.53L277.0 804.50L277.5 804.50L278.0 804.50L278.5 804.50L279.0 804.50L279.5 804.50L280.0 804.50L280.5 804.50L281.0 804.50L281.5 804.50L282.0 804.50L282.5 804.50L283.0 804.50L283.5 804.50L284.0 804.50L284.5 804.50L285.0 804.50L285.5 804.50L286.0 804.50L286.5 804.50L287.0 804.50L287.5 804.50L288.0 804.50L288.5 804.50L289.0 804.50L289.5 804.50L290.0 804.50L290.5 804.50L291.0 804.50L291.5 804.50L292.0 804.50L292.5 804.50L293.0 804.50L293.5 804.50L294.0 804.50L294.5 804.50L295.0 804.50L295.5 804.50L296.0 804.50L296.5 804.50L297.0 804.50L297.5 804.50L298.0 804.50L298.5 804.50L299.0 804.50L299.5 804.50L300.0 804.50L300.5 804.50L301.0 804.50L301.5 804.50L302.0 804.50L302.5 804.50L303.0 804.50L303.5 804.50L304.0 804.50L304.5 804.50L305.0 804.50L305.5 804.50L306.0 804.50L306.5 804.50L307.0 804.50L307.5 804.50L308.0 804.50L308.5 804.50L309.0 804.50L309.5 804.50L310.0 804.50L310.5 804.50L311.0 804.50L311.5 804.50L312.0 804.50L312.5 804.50L312.5 856.80L312.0 856.80L311.5 856.80L311.0 856.80L310.5 856.80L310.0 856.80L309.5 856.80L309.0 856.80L308.5 856.80L308.0 856.80L307.5 856.80L307.0 856.80L306.5 856.80L306.0 856.80L305.5 856.80L305.0 856.80L304.5 856.80L304.0 856.80L303.5 856.80L303.0 856.80L302.5 856.80L302.0 856.80L301.5 856.80L301.0 856.80L300.5 856.80L300.0 856.80L299.5 856.80L299.0 856.80L298.5 856.80L298.0 856.80L297.5 856.80L297.0 856.80L296.5 856.80L296.0 856.80L295.5 856.80L295.0 856.80L294.5 856.80L294.0 856.80L293.5 856.80L293.0 856.80L292.5 856.80L292.0 856.80L291.5 856.80L291.0 856.80L290.5 856.80L290.0 856.80L289.5 856.80L289.0 856.80L288.5 856.80L288.0 856.80L287.5 856.80L287.0 856.80L286.5 856.80L286.0 856.80L285.5 856.80L285.0 856.80L284.5 856.80L284.0 856.80L283.5 856.80L283.0 856.80L282.5 856.80L282.0 856.80L281.5 856.80L281.0 856.80L280.5 856.80L280.0 856.80L279.5 856.80L279.0 856.80L278.5 856.80L278.0 856.80L277.5 856.80L277.0 856.80L276.5 856.77L276.0 856.69L275.5 856.55L275.0 856.37L274.5 856.14L274.0 855.86L273.5 855.54L273.0 855.18L272.5 854.78L272.0 854.34L271.5 853.87L271.0 853.37L270.5 852.83L270.0 852.27L269.5 851.68L269.0 851.07L268.5 850.44L268.0 849.79L267.5 849.12L267.0 848.44L266.5 847.74L266.0 847.03L265.5 846.32L265.0 845.60L264.5 844.87L264.0 844.14L263.5 843.41L263.0 842.69L262.5 841.97L262.0 841.25L261.5 840.54L261.0 839.84L260.5 839.15L260.0 838.48L259.5 837.82L259.0 837.17L258.5 836.55L258.0 835.95L257.5 835.37L257.0 834.81L256.5 834.28L256.0 833.78L255.5 833.31L255.0 832.87L254.5 832.46L254.0 832.09L253.5 831.75L253.0 831.46L252.5 831.20L252.0 830.99L251.5 830.82L251.0 830.70L250.5 830.62L250.0 830.60Z" fill="#14683a"/>
<path d="M250.0 829.82L250.5 829.80L251.0 829.72L251.5 829.61L252.0 829.45L252.5 829.24L253.0 829.00L253.5 828.72L254.0 828.40L254.5 828.04L255.0 827.66L255.5 827.24L256.0 826.79L256.5 826.32L257.0 825.82L257.5 825.30L258.0 824.75L258.5 824.19L259.0 823.60L259.5 823.00L260.0 822.39L260.5 821.76L261.0 821.12L261.5 820.48L262.0 819.82L262.5 819.16L263.0 818.50L263.5 817.83L264.0 817.17L264.5 816.50L265.0 815.84L265.5 815.19L266.0 814.54L266.5 813.90L267.0 813.27L267.5 812.66L268.0 812.06L268.5 811.48L269.0 810.91L269.5 810.37L270.0 809.84L270.5 809.34L271.0 808.87L271.5 808.42L272.0 808.01L272.5 807.62L273.0 807.27L273.5 806.95L274.0 806.67L274.5 806.42L275.0 806.22L275.5 806.06L276.0 805.94L276.5 805.87L277.0 805.84L277.5 805.84L278.0 805.84L278.5 805.84L279.0 805.84L279.5 805.84L280.0 805.84L280.5 805.84L281.0 805.84L281.5 805.84L282.0 805.84L282.5 805.84L283.0 805.84L283.5 805.84L284.0 805.84L284.5 805.84L285.0 805.84L285.5 805.84L286.0 805.84L286.5 805.84L287.0 805.84L287.5 805.84L288.0 805.84L288.5 805.84L289.0 805.84L289.5 805.84L290.0 805.84L290.5 805.84L291.0 805.84L291.5 805.84L292.0 805.84L292.5 805.84L293.0 805.84L293.5 805.84L294.0 805.84L294.5 805.84L295.0 805.84L295.5 805.84L296.0 805.84L296.5 805.84L297.0 805.84L297.5 805.84L298.0 805.84L298.5 805.84L299.0 805.84L299.5 805.84L300.0 805.84L300.5 805.84L301.0 805.84L301.5 805.84L302.0 805.84L302.5 805.84L303.0 805.84L303.5 805.84L304.0 805.84L304.5 805.84L305.0 805.84L305.5 805.84L306.0 805.84L306.5 805.84L307.0 805.84L307.5 805.84L308.0 805.84L308.5 805.84L309.0 805.84L309.5 805.84L310.0 805.84L310.5 805.84L311.0 805.84L311.5 805.84L312.0 805.84L312.5 805.84L312.5 855.10L312.0 855.10L311.5 855.10L311.0 855.10L310.5 855.10L310.0 855.10L309.5 855.10L309.0 855.10L308.5 855.10L308.0 855.10L307.5 855.10L307.0 855.10L306.5 855.10L306.0 855.10L305.5 855.10L305.0 855.10L304.5 855.10L304.0 855.10L303.5 855.10L303.0 855.10L302.5 855.10L302.0 855.10L301.5 855.10L301.0 855.10L300.5 855.10L300.0 855.10L299.5 855.10L299.0 855.10L298.5 855.10L298.0 855.10L297.5 855.10L297.0 855.10L296.5 855.10L296.0 855.10L295.5 855.10L295.0 855.10L294.5 855.10L294.0 855.10L293.5 855.10L293.0 855.10L292.5 855.10L292.0 855.10L291.5 855.10L291.0 855.10L290.5 855.10L290.0 855.10L289.5 855.10L289.0 855.10L288.5 855.10L288.0 855.10L287.5 855.10L287.0 855.10L286.5 855.10L286.0 855.10L285.5 855.10L285.0 855.10L284.5 855.10L284.0 855.10L283.5 855.10L283.0 855.10L282.5 855.10L282.0 855.10L281.5 855.10L281.0 855.10L280.5 855.10L280.0 855.10L279.5 855.10L279.0 855.10L278.5 855.10L278.0 855.10L277.5 855.10L277.0 855.10L276.5 855.07L276.0 855.00L275.5 854.87L275.0 854.70L274.5 854.48L274.0 854.22L273.5 853.92L273.0 853.59L272.5 853.21L272.0 852.80L271.5 852.36L271.0 851.89L270.5 851.39L270.0 850.86L269.5 850.31L269.0 849.74L268.5 849.15L268.0 848.54L267.5 847.91L267.0 847.27L266.5 846.62L266.0 845.96L265.5 845.29L265.0 844.61L264.5 843.94L264.0 843.25L263.5 842.57L263.0 841.89L262.5 841.21L262.0 840.54L261.5 839.88L261.0 839.22L260.5 838.58L260.0 837.95L259.5 837.33L259.0 836.73L258.5 836.14L258.0 835.58L257.5 835.04L257.0 834.52L256.5 834.02L256.0 833.55L255.5 833.11L255.0 832.70L254.5 832.32L254.0 831.97L253.5 831.65L253.0 831.38L252.5 831.14L252.0 830.94L251.5 830.78L251.0 830.67L250.5 830.60L250.0 830.57Z" fill="#3bb054"/>
<path d="M250.0 829.85L250.5 829.82L251.0 829.76L251.5 829.65L252.0 829.49L252.5 829.30L253.0 829.08L253.5 828.81L254.0 828.52L254.5 828.18L255.0 827.82L255.5 827.43L256.0 827.02L256.5 826.57L257.0 826.11L257.5 825.62L258.0 825.11L258.5 824.58L259.0 824.03L259.5 823.47L260.0 822.90L260.5 822.31L261.0 821.72L261.5 821.11L262.0 820.50L262.5 819.88L263.0 819.26L263.5 818.64L264.0 818.02L264.5 817.40L265.0 816.78L265.5 816.17L266.0 815.56L266.5 814.96L267.0 814.38L267.5 813.80L268.0 813.24L268.5 812.70L269.0 812.17L269.5 811.66L270.0 811.17L270.5 810.70L271.0 810.26L271.5 809.84L272.0 809.45L272.5 809.09L273.0 808.76L273.5 808.46L274.0 808.20L274.5 807.97L275.0 807.78L275.5 807.63L276.0 807.52L276.5 807.45L277.0 807.43L277.5 807.43L278.0 807.43L278.5 807.43L279.0 807.43L279.5 807.43L280.0 807.43L280.5 807.43L281.0 807.43L281.5 807.43L282.0 807.43L282.5 807.43L283.0 807.43L283.5 807.43L284.0 807.43L284.5 807.43L285.0 807.43L285.5 807.43L286.0 807.43L286.5 807.43L287.0 807.43L287.5 807.43L288.0 807.43L288.5 807.43L289.0 807.43L289.5 807.43L290.0 807.43L290.5 807.43L291.0 807.43L291.5 807.43L292.0 807.43L292.5 807.43L293.0 807.43L293.5 807.43L294.0 807.43L294.5 807.43L295.0 807.43L295.5 807.43L296.0 807.43L296.5 807.43L297.0 807.43L297.5 807.43L298.0 807.43L298.5 807.43L299.0 807.43L299.5 807.43L300.0 807.43L300.5 807.43L301.0 807.43L301.5 807.43L302.0 807.43L302.5 807.43L303.0 807.43L303.5 807.43L304.0 807.43L304.5 807.43L305.0 807.43L305.5 807.43L306.0 807.43L306.5 807.43L307.0 807.43L307.5 807.43L308.0 807.43L308.5 807.43L309.0 807.43L309.5 807.43L310.0 807.43L310.5 807.43L311.0 807.43L311.5 807.43L312.0 807.43L312.5 807.43L312.5 853.81L312.0 853.81L311.5 853.81L311.0 853.81L310.5 853.81L310.0 853.81L309.5 853.81L309.0 853.81L308.5 853.81L308.0 853.81L307.5 853.81L307.0 853.81L306.5 853.81L306.0 853.81L305.5 853.81L305.0 853.81L304.5 853.81L304.0 853.81L303.5 853.81L303.0 853.81L302.5 853.81L302.0 853.81L301.5 853.81L301.0 853.81L300.5 853.81L300.0 853.81L299.5 853.81L299.0 853.81L298.5 853.81L298.0 853.81L297.5 853.81L297.0 853.81L296.5 853.81L296.0 853.81L295.5 853.81L295.0 853.81L294.5 853.81L294.0 853.81L293.5 853.81L293.0 853.81L292.5 853.81L292.0 853.81L291.5 853.81L291.0 853.81L290.5 853.81L290.0 853.81L289.5 853.81L289.0 853.81L288.5 853.81L288.0 853.81L287.5 853.81L287.0 853.81L286.5 853.81L286.0 853.81L285.5 853.81L285.0 853.81L284.5 853.81L284.0 853.81L283.5 853.81L283.0 853.81L282.5 853.81L282.0 853.81L281.5 853.81L281.0 853.81L280.5 853.81L280.0 853.81L279.5 853.81L279.0 853.81L278.5 853.81L278.0 853.81L277.5 853.81L277.0 853.81L276.5 853.78L276.0 853.71L275.5 853.59L275.0 853.43L274.5 853.22L274.0 852.98L273.5 852.69L273.0 852.37L272.5 852.02L272.0 851.63L271.5 851.21L271.0 850.76L270.5 850.29L270.0 849.79L269.5 849.27L269.0 848.73L268.5 848.17L268.0 847.59L267.5 846.99L267.0 846.39L266.5 845.77L266.0 845.14L265.5 844.51L265.0 843.87L264.5 843.22L264.0 842.58L263.5 841.93L263.0 841.29L262.5 840.64L262.0 840.01L261.5 839.38L261.0 838.76L260.5 838.14L260.0 837.55L259.5 836.96L259.0 836.39L258.5 835.84L258.0 835.30L257.5 834.79L257.0 834.29L256.5 833.82L256.0 833.38L255.5 832.96L255.0 832.57L254.5 832.21L254.0 831.88L253.5 831.58L253.0 831.32L252.5 831.09L252.0 830.90L251.5 830.75L251.0 830.64L250.5 830.57L250.0 830.55Z" fill="#e21a22"/>
<text x="201.40" y="825.60" font-size="7.0" text-anchor="middle" fill="#2a2a22" stroke="#2a2a22">DNMT3A p.F752V</text>
<text x="201.40" y="834.10" font-size="7.0" text-anchor="middle" fill="#2a2a22" stroke="#2a2a22">TP53 p.C238Y</text>
<text x="201.40" y="842.60" font-size="7.0" text-anchor="middle" fill="#2a2a22" stroke="#2a2a22">Low hypodiploidy</text>
<text x="311.30" y="829.60" font-size="6.45" text-anchor="end" fill="#fdeeee" stroke="#fdeeee">DNMT3A p.F752V</text>
<text x="311.30" y="837.40" font-size="6.45" text-anchor="end" fill="#fdeeee" stroke="#fdeeee">TP53 p.C238Y</text>
<text x="311.30" y="845.20" font-size="6.45" text-anchor="end" fill="#fdeeee" stroke="#fdeeee">del5q,del17p</text>
<text x="250.00" y="797.60" font-size="7.0" text-anchor="middle" fill="#242424" stroke="#242424">DNMT3A</text>
<text x="250.00" y="806.90" font-size="7.0" text-anchor="middle" fill="#242424" stroke="#242424">p.F752V</text>
<path d="M263.8 800L276 802" stroke="#444" stroke-width="0.6" fill="none"/>
<text x="358.20" y="857.60" font-size="7.0" text-anchor="middle" fill="#242424" stroke="#242424">DNMT3A p.F752V</text>
<text x="358.20" y="865.80" font-size="7.0" text-anchor="middle" fill="#242424" stroke="#242424">TP53 p.C238Y</text>
<path d="M300 853.8L328.8 859.5" stroke="#444" stroke-width="0.6" fill="none"/>
<text x="203.80" y="876.30" font-size="7.0" text-anchor="middle" fill="#242424" stroke="#242424">Diagnosis</text>
<text x="295.30" y="876.30" font-size="7.0" text-anchor="middle" fill="#242424" stroke="#242424">Remission</text>
<path d="M95.00 708.60L95.00 723.88" stroke="#333" stroke-width="0.85" fill="none"/>
<path d="M95.00 727.00L93.80 723.88L96.20 723.88Z" fill="#2a2a2a"/>
<path d="M95.00 740.20L95.00 755.28" stroke="#333" stroke-width="0.85" fill="none"/>
<path d="M95.00 758.40L93.80 755.28L96.20 755.28Z" fill="#2a2a2a"/>
<circle cx="95.00" cy="702.20" r="4.95" fill="#b4b4b4" stroke="#5c5c5c" stroke-width="0.85"/>
<circle cx="95.00" cy="733.80" r="4.95" fill="#2a9a47" stroke="#5c5c5c" stroke-width="0.85"/>
<circle cx="95.00" cy="765.20" r="4.95" fill="#fde00f" stroke="#5c5c5c" stroke-width="0.85"/>
<text x="98.80" y="719.30" font-size="7.0" fill="#242424" stroke="#242424">TP53 p.R175H</text>
<text x="125.60" y="746.30" font-size="7.0" text-anchor="middle" fill="#242424" stroke="#242424">Low hypodiploidy</text>
<text x="125.60" y="754.60" font-size="7.0" text-anchor="middle" fill="#242424" stroke="#242424">TET2 p.P612fs</text>
<path d="M319.40 708.00L306.51 719.70" stroke="#333" stroke-width="0.85" fill="none"/>
<path d="M304.20 721.80L305.70 718.81L307.32 720.59Z" fill="#2a2a2a"/>
<path d="M330.60 708.00L341.64 719.55" stroke="#333" stroke-width="0.85" fill="none"/>
<path d="M343.80 721.80L340.78 720.37L342.51 718.72Z" fill="#2a2a2a"/>
<path d="M299.30 735.20L299.30 749.08" stroke="#333" stroke-width="0.85" fill="none"/>
<path d="M299.30 752.20L298.10 749.08L300.50 749.08Z" fill="#2a2a2a"/>
<path d="M349.60 735.20L349.60 749.08" stroke="#333" stroke-width="0.85" fill="none"/>
<path d="M349.60 752.20L348.40 749.08L350.80 749.08Z" fill="#2a2a2a"/>
<circle cx="323.60" cy="703.00" r="4.95" fill="#b4b4b4" stroke="#5c5c5c" stroke-width="0.85"/>
<circle cx="299.30" cy="729.20" r="4.95" fill="#22b3b0" stroke="#5c5c5c" stroke-width="0.85"/>
<circle cx="349.60" cy="728.60" r="4.95" fill="#2a9a47" stroke="#5c5c5c" stroke-width="0.85"/>
<circle cx="299.30" cy="759.00" r="4.95" fill="#f0513a" stroke="#5c5c5c" stroke-width="0.85"/>
<circle cx="349.60" cy="760.00" r="4.95" fill="#fde00f" stroke="#5c5c5c" stroke-width="0.85"/>
<text x="308.20" y="713.80" font-size="7.0" text-anchor="end" fill="#242424" stroke="#242424">JAK2 p.V617F</text>
<text x="338.00" y="713.80" font-size="7.0" fill="#242424" stroke="#242424">TP53 p.R175H</text>
<text x="295.80" y="745.00" font-size="7.0" text-anchor="end" fill="#242424" stroke="#242424">LOH JAK2 p.V617F</text>
<text x="353.80" y="744.80" font-size="7.0" fill="#242424" stroke="#242424">Low hypodiploidy</text>
<path d="M217.00 899.60L217.00 913.88" stroke="#333" stroke-width="0.85" fill="none"/>
<path d="M217.00 917.00L215.80 913.88L218.20 913.88Z" fill="#2a2a2a"/>
<path d="M217.00 931.00L217.00 946.08" stroke="#333" stroke-width="0.85" fill="none"/>
<path d="M217.00 949.20L215.80 946.08L218.20 946.08Z" fill="#2a2a2a"/>
<path d="M217.00 963.20L217.00 978.48" stroke="#333" stroke-width="0.85" fill="none"/>
<path d="M217.00 981.60L215.80 978.48L218.20 978.48Z" fill="#2a2a2a"/>
<path d="M212.60 993.60L197.94 1006.54" stroke="#333" stroke-width="0.85" fill="none"/>
<path d="M195.60 1008.60L197.15 1005.64L198.73 1007.44Z" fill="#2a2a2a"/>
<path d="M221.40 993.60L236.81 1006.59" stroke="#333" stroke-width="0.85" fill="none"/>
<path d="M239.20 1008.60L236.04 1007.51L237.59 1005.67Z" fill="#2a2a2a"/>
<circle cx="217.00" cy="893.00" r="4.95" fill="#b4b4b4" stroke="#5c5c5c" stroke-width="0.85"/>
<circle cx="217.00" cy="924.20" r="4.95" fill="#2a3f9f" stroke="#5c5c5c" stroke-width="0.85"/>
<circle cx="217.00" cy="956.60" r="4.95" fill="#3bb054" stroke="#5c5c5c" stroke-width="0.85"/>
<circle cx="217.00" cy="988.60" r="4.95" fill="#14683a" stroke="#5c5c5c" stroke-width="0.85"/>
<circle cx="190.80" cy="1013.80" r="4.95" fill="#e21a22" stroke="#5c5c5c" stroke-width="0.85"/>
<circle cx="244.00" cy="1013.80" r="4.95" fill="#fde00f" stroke="#5c5c5c" stroke-width="0.85"/>
<text x="221.00" y="909.80" font-size="7.0" fill="#242424" stroke="#242424">DNMT3A p.F752V</text>
<text x="221.00" y="941.50" font-size="7.0" fill="#242424" stroke="#242424">TP53 p.C238Y</text>
<text x="221.00" y="973.00" font-size="7.0" fill="#242424" stroke="#242424">del17p</text>
<text x="201.50" y="999.00" font-size="7.0" text-anchor="end" fill="#242424" stroke="#242424">del5q &amp; del16q</text>
<text x="232.30" y="999.00" font-size="7.0" fill="#242424" stroke="#242424">Low hypodiploidy</text>
</svg></body></html>
